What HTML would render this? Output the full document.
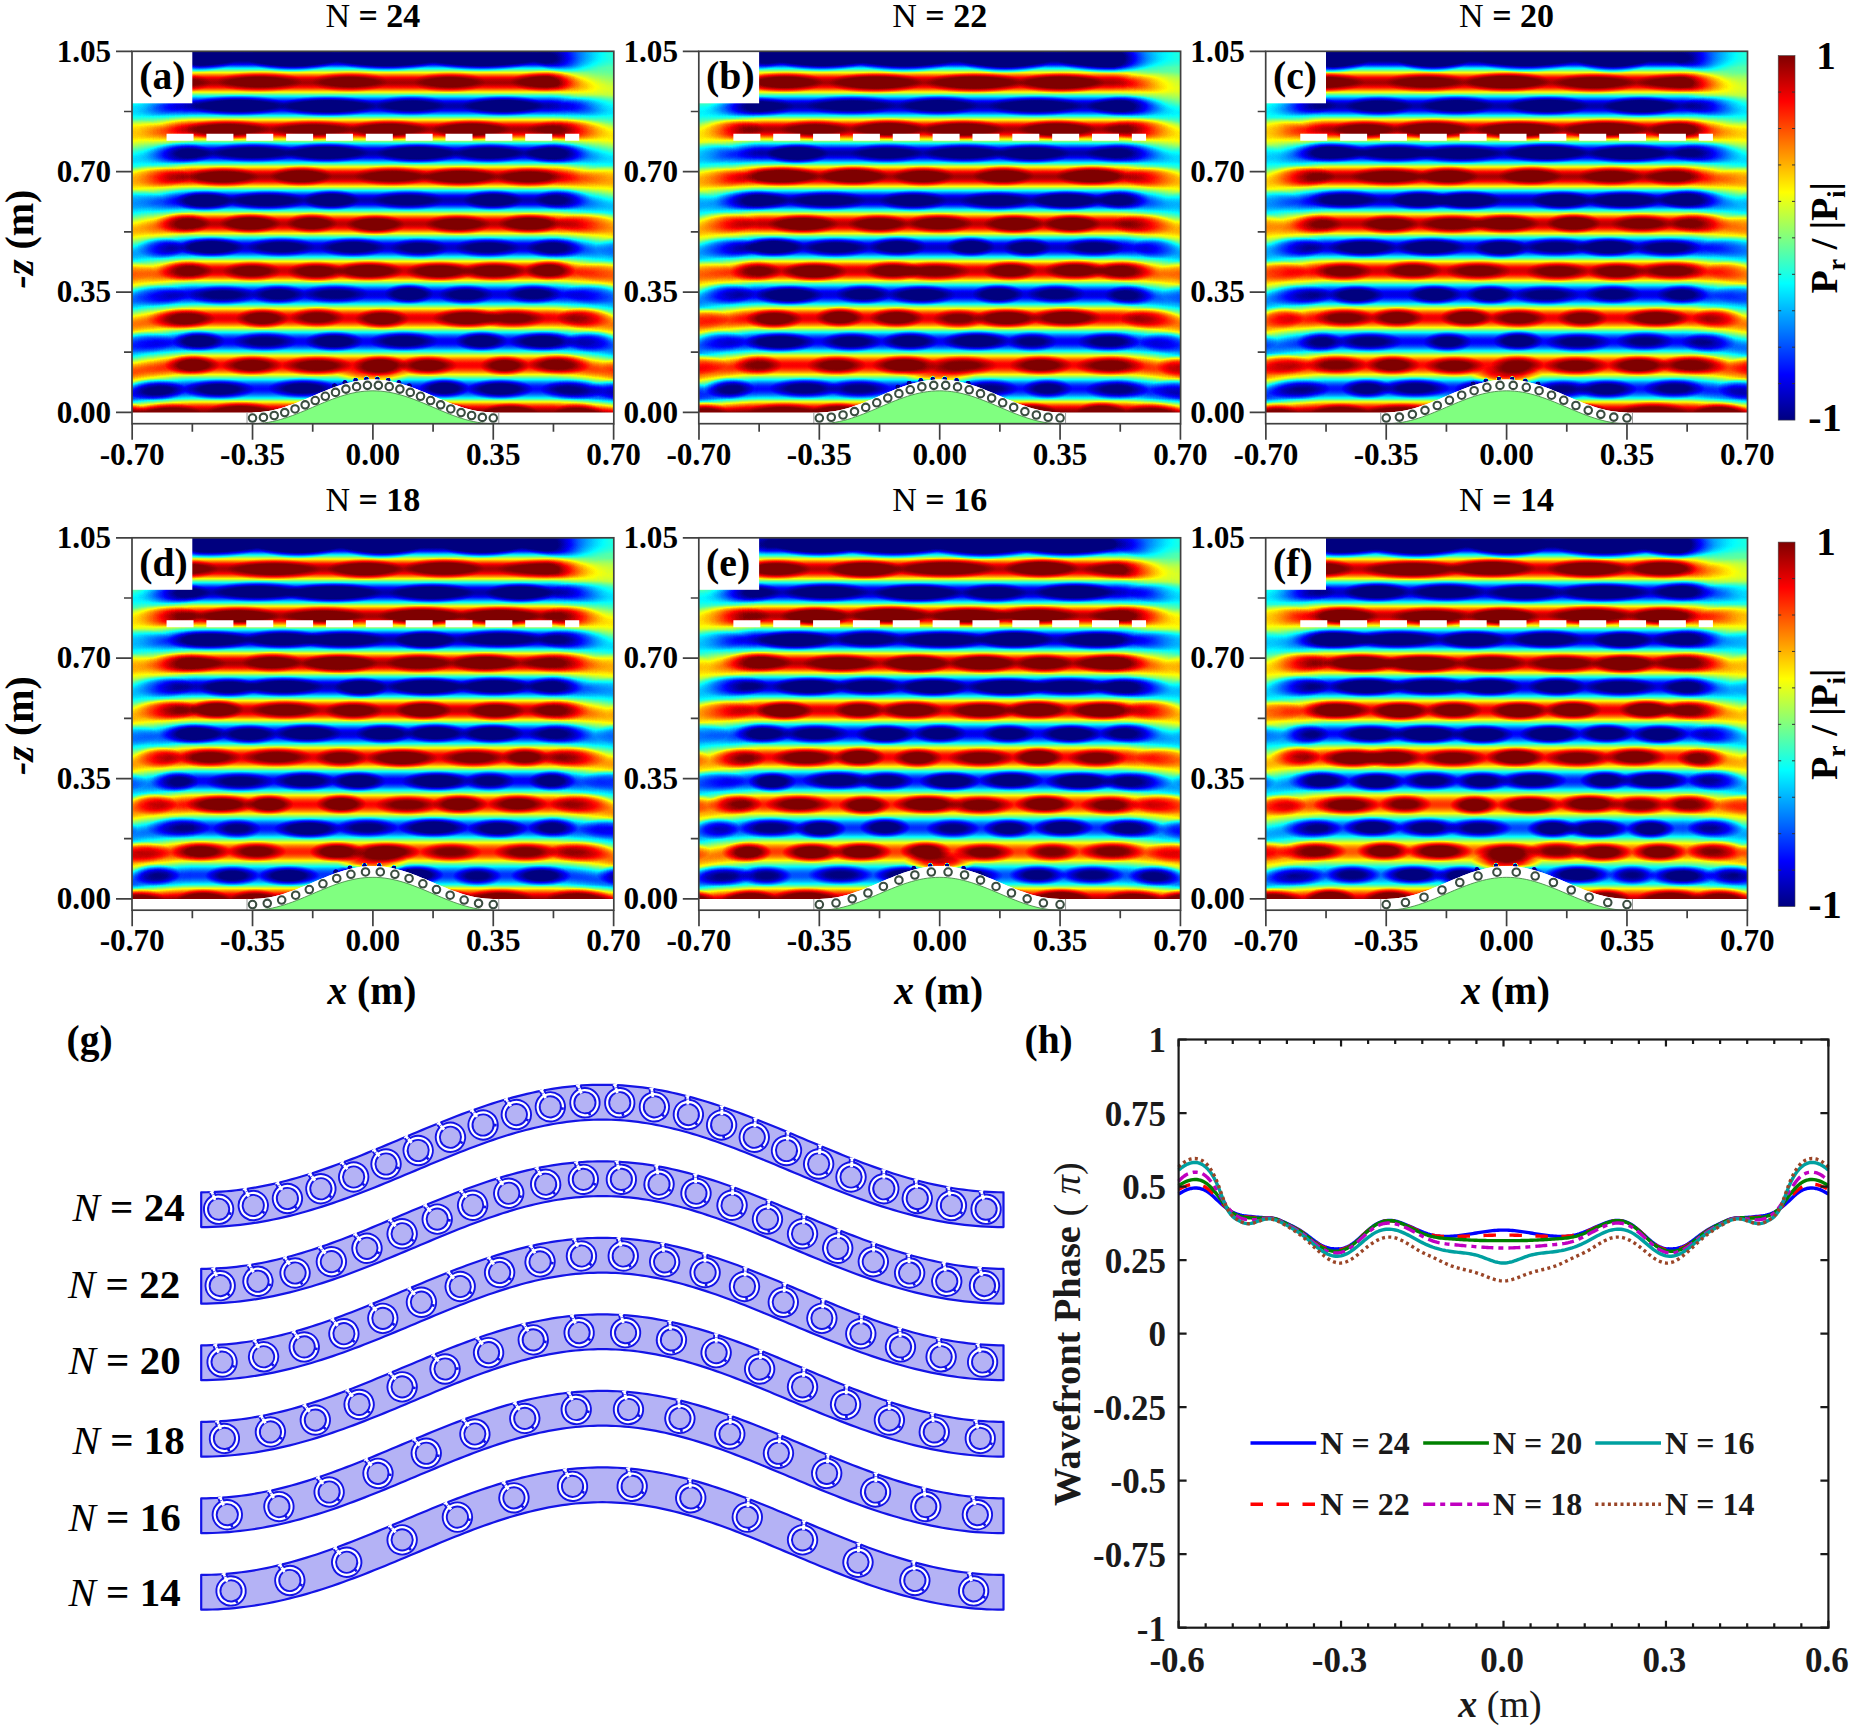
<!DOCTYPE html><html><head><meta charset="utf-8"><style>html,body{margin:0;padding:0;background:#fff;}svg{display:block}</style></head><body>
<svg width="1850" height="1729" viewBox="0 0 1850 1729" font-family="'Liberation Serif', 'Times New Roman', serif">
<defs>
<filter id="jet" x="0" y="0" width="1" height="1" filterUnits="objectBoundingBox" color-interpolation-filters="sRGB">
<feComponentTransfer><feFuncR type="table" tableValues="0.000 0.000 0.000 0.000 0.000 0.000 0.000 0.000 0.000 0.000 0.000 0.000 0.000 0.000 0.000 0.000 0.000 0.000 0.000 0.000 0.000 0.000 0.000 0.000 0.000 0.000 0.000 0.000 0.000 0.000 0.000 0.000 0.000 0.000 0.000 0.000 0.000 0.000 0.000 0.000 0.000 0.000 0.000 0.000 0.000 0.000 0.000 0.000 0.000 0.000 0.000 0.000 0.005 0.046 0.087 0.129 0.170 0.211 0.252 0.294 0.335 0.376 0.417 0.459 0.500 0.541 0.583 0.624 0.665 0.706 0.748 0.789 0.830 0.871 0.913 0.954 0.995 1.000 1.000 1.000 1.000 1.000 1.000 1.000 1.000 1.000 1.000 1.000 1.000 1.000 1.000 1.000 1.000 1.000 1.000 1.000 1.000 1.000 1.000 1.000 1.000 0.974 0.933 0.891 0.850 0.809 0.768 0.726 0.685 0.644 0.603 0.561 0.520 0.500 0.500 0.500 0.500 0.500 0.500 0.500 0.500 0.500 0.500 0.500 0.500 0.500 0.500 0.500 0.500"/><feFuncG type="table" tableValues="0.000 0.000 0.000 0.000 0.000 0.000 0.000 0.000 0.000 0.000 0.000 0.000 0.000 0.000 0.000 0.000 0.000 0.000 0.000 0.000 0.000 0.000 0.000 0.000 0.000 0.000 0.000 0.000 0.015 0.056 0.097 0.139 0.180 0.221 0.262 0.304 0.345 0.386 0.427 0.469 0.510 0.551 0.592 0.634 0.675 0.716 0.757 0.799 0.840 0.881 0.922 0.964 1.000 1.000 1.000 1.000 1.000 1.000 1.000 1.000 1.000 1.000 1.000 1.000 1.000 1.000 1.000 1.000 1.000 1.000 1.000 1.000 1.000 1.000 1.000 1.000 1.000 0.964 0.922 0.881 0.840 0.799 0.757 0.716 0.675 0.634 0.592 0.551 0.510 0.469 0.428 0.386 0.345 0.304 0.263 0.221 0.180 0.139 0.098 0.056 0.015 0.000 0.000 0.000 0.000 0.000 0.000 0.000 0.000 0.000 0.000 0.000 0.000 0.000 0.000 0.000 0.000 0.000 0.000 0.000 0.000 0.000 0.000 0.000 0.000 0.000 0.000 0.000 0.000"/><feFuncB type="table" tableValues="0.500 0.500 0.500 0.500 0.500 0.500 0.500 0.500 0.500 0.500 0.500 0.500 0.500 0.500 0.500 0.500 0.520 0.561 0.602 0.644 0.685 0.726 0.767 0.809 0.850 0.891 0.932 0.974 1.000 1.000 1.000 1.000 1.000 1.000 1.000 1.000 1.000 1.000 1.000 1.000 1.000 1.000 1.000 1.000 1.000 1.000 1.000 1.000 1.000 1.000 1.000 1.000 0.995 0.954 0.913 0.871 0.830 0.789 0.748 0.706 0.665 0.624 0.583 0.541 0.500 0.459 0.417 0.376 0.335 0.294 0.252 0.211 0.170 0.129 0.087 0.046 0.005 0.000 0.000 0.000 0.000 0.000 0.000 0.000 0.000 0.000 0.000 0.000 0.000 0.000 0.000 0.000 0.000 0.000 0.000 0.000 0.000 0.000 0.000 0.000 0.000 0.000 0.000 0.000 0.000 0.000 0.000 0.000 0.000 0.000 0.000 0.000 0.000 0.000 0.000 0.000 0.000 0.000 0.000 0.000 0.000 0.000 0.000 0.000 0.000 0.000 0.000 0.000 0.000"/></feComponentTransfer>
</filter>
<linearGradient id="gS" x1="0" y1="0" x2="0" y2="1"><stop offset="0.0000" stop-color="rgb(255,255,255)"/><stop offset="0.0417" stop-color="rgb(251,251,251)"/><stop offset="0.0833" stop-color="rgb(238,238,238)"/><stop offset="0.1250" stop-color="rgb(218,218,218)"/><stop offset="0.1667" stop-color="rgb(191,191,191)"/><stop offset="0.2083" stop-color="rgb(160,160,160)"/><stop offset="0.2500" stop-color="rgb(128,128,128)"/><stop offset="0.2917" stop-color="rgb(95,95,95)"/><stop offset="0.3333" stop-color="rgb(64,64,64)"/><stop offset="0.3750" stop-color="rgb(37,37,37)"/><stop offset="0.4167" stop-color="rgb(17,17,17)"/><stop offset="0.4583" stop-color="rgb(4,4,4)"/><stop offset="0.5000" stop-color="rgb(0,0,0)"/><stop offset="0.5417" stop-color="rgb(4,4,4)"/><stop offset="0.5833" stop-color="rgb(17,17,17)"/><stop offset="0.6250" stop-color="rgb(37,37,37)"/><stop offset="0.6667" stop-color="rgb(64,64,64)"/><stop offset="0.7083" stop-color="rgb(95,95,95)"/><stop offset="0.7500" stop-color="rgb(127,127,127)"/><stop offset="0.7917" stop-color="rgb(160,160,160)"/><stop offset="0.8333" stop-color="rgb(191,191,191)"/><stop offset="0.8750" stop-color="rgb(218,218,218)"/><stop offset="0.9167" stop-color="rgb(238,238,238)"/><stop offset="0.9583" stop-color="rgb(251,251,251)"/><stop offset="1.0000" stop-color="rgb(255,255,255)"/></linearGradient>
<pattern id="pS" patternUnits="userSpaceOnUse" x="0" y="31.050" width="600" height="47.150"><rect width="600" height="47.150" fill="url(#gS)"/></pattern>
<linearGradient id="gJet" x1="0" y1="0" x2="0" y2="1"><stop offset="0.0000" stop-color="rgb(128,0,0)"/><stop offset="0.0312" stop-color="rgb(159,0,0)"/><stop offset="0.0625" stop-color="rgb(191,0,0)"/><stop offset="0.0938" stop-color="rgb(223,0,0)"/><stop offset="0.1250" stop-color="rgb(255,0,0)"/><stop offset="0.1562" stop-color="rgb(255,32,0)"/><stop offset="0.1875" stop-color="rgb(255,64,0)"/><stop offset="0.2188" stop-color="rgb(255,96,0)"/><stop offset="0.2500" stop-color="rgb(255,128,0)"/><stop offset="0.2812" stop-color="rgb(255,159,0)"/><stop offset="0.3125" stop-color="rgb(255,191,0)"/><stop offset="0.3438" stop-color="rgb(255,223,0)"/><stop offset="0.3750" stop-color="rgb(255,255,0)"/><stop offset="0.4062" stop-color="rgb(223,255,32)"/><stop offset="0.4375" stop-color="rgb(191,255,64)"/><stop offset="0.4688" stop-color="rgb(159,255,96)"/><stop offset="0.5000" stop-color="rgb(128,255,128)"/><stop offset="0.5312" stop-color="rgb(96,255,159)"/><stop offset="0.5625" stop-color="rgb(64,255,191)"/><stop offset="0.5938" stop-color="rgb(32,255,223)"/><stop offset="0.6250" stop-color="rgb(0,255,255)"/><stop offset="0.6562" stop-color="rgb(0,223,255)"/><stop offset="0.6875" stop-color="rgb(0,191,255)"/><stop offset="0.7188" stop-color="rgb(0,159,255)"/><stop offset="0.7500" stop-color="rgb(0,128,255)"/><stop offset="0.7812" stop-color="rgb(0,96,255)"/><stop offset="0.8125" stop-color="rgb(0,64,255)"/><stop offset="0.8438" stop-color="rgb(0,32,255)"/><stop offset="0.8750" stop-color="rgb(0,0,255)"/><stop offset="0.9062" stop-color="rgb(0,0,223)"/><stop offset="0.9375" stop-color="rgb(0,0,191)"/><stop offset="0.9688" stop-color="rgb(0,0,159)"/><stop offset="1.0000" stop-color="rgb(0,0,128)"/></linearGradient>
<radialGradient id="rbW"><stop offset="0" stop-color="#fff" stop-opacity="1"/><stop offset="0.45" stop-color="#fff" stop-opacity="0.75"/><stop offset="1" stop-color="#fff" stop-opacity="0"/></radialGradient>
<radialGradient id="rbB"><stop offset="0" stop-color="#000" stop-opacity="1"/><stop offset="0.45" stop-color="#000" stop-opacity="0.75"/><stop offset="1" stop-color="#000" stop-opacity="0"/></radialGradient>
</defs>
<defs><linearGradient id="gEnv" x1="0" y1="0" x2="1" y2="0"><stop offset="0.0000" stop-color="#808080" stop-opacity="0.780"/><stop offset="0.0104" stop-color="#808080" stop-opacity="0.766"/><stop offset="0.0208" stop-color="#808080" stop-opacity="0.729"/><stop offset="0.0311" stop-color="#808080" stop-opacity="0.672"/><stop offset="0.0415" stop-color="#808080" stop-opacity="0.599"/><stop offset="0.0519" stop-color="#808080" stop-opacity="0.516"/><stop offset="0.0623" stop-color="#808080" stop-opacity="0.427"/><stop offset="0.0726" stop-color="#808080" stop-opacity="0.335"/><stop offset="0.0830" stop-color="#808080" stop-opacity="0.247"/><stop offset="0.0934" stop-color="#808080" stop-opacity="0.165"/><stop offset="0.1038" stop-color="#808080" stop-opacity="0.096"/><stop offset="0.1142" stop-color="#808080" stop-opacity="0.042"/><stop offset="0.1245" stop-color="#808080" stop-opacity="0.009"/><stop offset="0.1370" stop-color="#808080" stop-opacity="0.000"/><stop offset="0.1494" stop-color="#808080" stop-opacity="0.000"/><stop offset="0.8506" stop-color="#808080" stop-opacity="0.000"/><stop offset="0.8630" stop-color="#808080" stop-opacity="0.002"/><stop offset="0.8755" stop-color="#808080" stop-opacity="0.030"/><stop offset="0.8858" stop-color="#808080" stop-opacity="0.075"/><stop offset="0.8962" stop-color="#808080" stop-opacity="0.135"/><stop offset="0.9066" stop-color="#808080" stop-opacity="0.207"/><stop offset="0.9170" stop-color="#808080" stop-opacity="0.288"/><stop offset="0.9274" stop-color="#808080" stop-opacity="0.373"/><stop offset="0.9377" stop-color="#808080" stop-opacity="0.459"/><stop offset="0.9481" stop-color="#808080" stop-opacity="0.541"/><stop offset="0.9585" stop-color="#808080" stop-opacity="0.617"/><stop offset="0.9689" stop-color="#808080" stop-opacity="0.683"/><stop offset="0.9792" stop-color="#808080" stop-opacity="0.734"/><stop offset="0.9896" stop-color="#808080" stop-opacity="0.768"/><stop offset="1.0000" stop-color="#808080" stop-opacity="0.780"/></linearGradient></defs>
<defs><linearGradient id="gEnvV" x1="0" y1="0" x2="0" y2="1"><stop offset="0" stop-color="#fff"/><stop offset="0.3" stop-color="#d8d8d8"/><stop offset="0.6" stop-color="#9a9a9a"/><stop offset="0.85" stop-color="#5a5a5a"/><stop offset="1" stop-color="#000"/></linearGradient><mask id="mEnv" maskUnits="userSpaceOnUse" x="0" y="0" width="481.80" height="361.10"><rect width="481.80" height="361.10" fill="url(#gEnvV)"/></mask><linearGradient id="gTop" x1="0" y1="0" x2="0" y2="1"><stop offset="0" stop-color="#000" stop-opacity="0.55"/><stop offset="0.5" stop-color="#000" stop-opacity="0.35"/><stop offset="1" stop-color="#000" stop-opacity="0"/></linearGradient><linearGradient id="gBot" x1="0" y1="0" x2="0" y2="1"><stop offset="0" stop-color="#fff" stop-opacity="0"/><stop offset="0.6" stop-color="#fff" stop-opacity="0.25"/><stop offset="1" stop-color="#fff" stop-opacity="0.45"/></linearGradient><radialGradient id="rCorner"><stop offset="0" stop-color="#808080" stop-opacity="0.75"/><stop offset="0.5" stop-color="#808080" stop-opacity="0.45"/><stop offset="1" stop-color="#808080" stop-opacity="0"/></radialGradient></defs>
<rect width="1850" height="1729" fill="#fff"/>
<g transform="translate(132.00,51.30)">
<clipPath id="cp00"><path d="M0,0H481.80V361.10H361.27L361.27,361.10L357.25,361.01L353.24,360.74L349.23,360.30L345.22,359.68L341.21,358.90L337.19,357.96L333.18,356.88L329.17,355.66L325.16,354.32L321.14,352.88L317.13,351.35L313.12,349.74L309.11,348.08L305.10,346.38L301.08,344.66L297.07,342.94L293.06,341.24L289.05,339.58L285.03,337.98L281.02,336.44L277.01,335.00L273.00,333.66L268.99,332.45L264.97,331.36L260.96,330.43L256.95,329.64L252.94,329.03L248.92,328.58L244.91,328.31L240.90,328.22L236.89,328.31L232.88,328.58L228.86,329.03L224.85,329.64L220.84,330.43L216.83,331.36L212.81,332.45L208.80,333.66L204.79,335.00L200.78,336.44L196.77,337.98L192.75,339.58L188.74,341.24L184.73,342.94L180.72,344.66L176.70,346.38L172.69,348.08L168.68,349.74L164.67,351.35L160.66,352.88L156.64,354.32L152.63,355.66L148.62,356.88L144.61,357.96L140.59,358.90L136.58,359.68L132.57,360.30L128.56,360.74L124.55,361.01L120.53,361.10H0Z"/></clipPath>
<g clip-path="url(#cp00)"><g filter="url(#jet)">
<rect x="-2" y="-2" width="485.80" height="365.10" fill="url(#pS)"/>
<rect x="-0.20" y="-8.24" width="3.50" height="371.34" fill="url(#pS)" transform="translate(0,6.24)" shape-rendering="crispEdges"/>
<rect x="478.50" y="-8.24" width="3.50" height="371.34" fill="url(#pS)" transform="translate(0,6.24)" shape-rendering="crispEdges"/>
<rect x="2.90" y="-7.74" width="3.50" height="370.84" fill="url(#pS)" transform="translate(0,5.74)" shape-rendering="crispEdges"/>
<rect x="475.40" y="-7.74" width="3.50" height="370.84" fill="url(#pS)" transform="translate(0,5.74)" shape-rendering="crispEdges"/>
<rect x="6.00" y="-7.25" width="3.50" height="370.35" fill="url(#pS)" transform="translate(0,5.25)" shape-rendering="crispEdges"/>
<rect x="472.30" y="-7.25" width="3.50" height="370.35" fill="url(#pS)" transform="translate(0,5.25)" shape-rendering="crispEdges"/>
<rect x="9.10" y="-6.78" width="3.50" height="369.88" fill="url(#pS)" transform="translate(0,4.78)" shape-rendering="crispEdges"/>
<rect x="469.20" y="-6.78" width="3.50" height="369.88" fill="url(#pS)" transform="translate(0,4.78)" shape-rendering="crispEdges"/>
<rect x="12.20" y="-6.32" width="3.50" height="369.42" fill="url(#pS)" transform="translate(0,4.32)" shape-rendering="crispEdges"/>
<rect x="466.10" y="-6.32" width="3.50" height="369.42" fill="url(#pS)" transform="translate(0,4.32)" shape-rendering="crispEdges"/>
<rect x="15.30" y="-5.89" width="3.50" height="368.99" fill="url(#pS)" transform="translate(0,3.89)" shape-rendering="crispEdges"/>
<rect x="463.00" y="-5.89" width="3.50" height="368.99" fill="url(#pS)" transform="translate(0,3.89)" shape-rendering="crispEdges"/>
<rect x="18.40" y="-5.47" width="3.50" height="368.57" fill="url(#pS)" transform="translate(0,3.47)" shape-rendering="crispEdges"/>
<rect x="459.90" y="-5.47" width="3.50" height="368.57" fill="url(#pS)" transform="translate(0,3.47)" shape-rendering="crispEdges"/>
<rect x="21.50" y="-5.06" width="3.50" height="368.16" fill="url(#pS)" transform="translate(0,3.06)" shape-rendering="crispEdges"/>
<rect x="456.80" y="-5.06" width="3.50" height="368.16" fill="url(#pS)" transform="translate(0,3.06)" shape-rendering="crispEdges"/>
<rect x="24.60" y="-4.68" width="3.50" height="367.78" fill="url(#pS)" transform="translate(0,2.68)" shape-rendering="crispEdges"/>
<rect x="453.70" y="-4.68" width="3.50" height="367.78" fill="url(#pS)" transform="translate(0,2.68)" shape-rendering="crispEdges"/>
<rect x="27.70" y="-4.32" width="3.50" height="367.42" fill="url(#pS)" transform="translate(0,2.32)" shape-rendering="crispEdges"/>
<rect x="450.60" y="-4.32" width="3.50" height="367.42" fill="url(#pS)" transform="translate(0,2.32)" shape-rendering="crispEdges"/>
<rect x="30.80" y="-3.98" width="3.50" height="367.08" fill="url(#pS)" transform="translate(0,1.98)" shape-rendering="crispEdges"/>
<rect x="447.50" y="-3.98" width="3.50" height="367.08" fill="url(#pS)" transform="translate(0,1.98)" shape-rendering="crispEdges"/>
<rect x="33.90" y="-3.65" width="3.50" height="366.75" fill="url(#pS)" transform="translate(0,1.65)" shape-rendering="crispEdges"/>
<rect x="444.40" y="-3.65" width="3.50" height="366.75" fill="url(#pS)" transform="translate(0,1.65)" shape-rendering="crispEdges"/>
<rect x="37.00" y="-3.35" width="3.50" height="366.45" fill="url(#pS)" transform="translate(0,1.35)" shape-rendering="crispEdges"/>
<rect x="441.30" y="-3.35" width="3.50" height="366.45" fill="url(#pS)" transform="translate(0,1.35)" shape-rendering="crispEdges"/>
<rect x="40.10" y="-3.08" width="3.50" height="366.18" fill="url(#pS)" transform="translate(0,1.08)" shape-rendering="crispEdges"/>
<rect x="438.20" y="-3.08" width="3.50" height="366.18" fill="url(#pS)" transform="translate(0,1.08)" shape-rendering="crispEdges"/>
<rect x="43.20" y="-2.82" width="3.50" height="365.92" fill="url(#pS)" transform="translate(0,0.82)" shape-rendering="crispEdges"/>
<rect x="435.10" y="-2.82" width="3.50" height="365.92" fill="url(#pS)" transform="translate(0,0.82)" shape-rendering="crispEdges"/>
<rect x="46.30" y="-2.60" width="3.50" height="365.70" fill="url(#pS)" transform="translate(0,0.60)" shape-rendering="crispEdges"/>
<rect x="432.00" y="-2.60" width="3.50" height="365.70" fill="url(#pS)" transform="translate(0,0.60)" shape-rendering="crispEdges"/>
<rect x="49.40" y="-2.40" width="3.50" height="365.50" fill="url(#pS)" transform="translate(0,0.40)" shape-rendering="crispEdges"/>
<rect x="428.90" y="-2.40" width="3.50" height="365.50" fill="url(#pS)" transform="translate(0,0.40)" shape-rendering="crispEdges"/>
<rect x="52.50" y="-2.23" width="3.50" height="365.33" fill="url(#pS)" transform="translate(0,0.23)" shape-rendering="crispEdges"/>
<rect x="425.80" y="-2.23" width="3.50" height="365.33" fill="url(#pS)" transform="translate(0,0.23)" shape-rendering="crispEdges"/>
<rect x="55.60" y="-2.10" width="3.50" height="365.20" fill="url(#pS)" transform="translate(0,0.10)" shape-rendering="crispEdges"/>
<rect x="422.70" y="-2.10" width="3.50" height="365.20" fill="url(#pS)" transform="translate(0,0.10)" shape-rendering="crispEdges"/>
<rect x="58.70" y="-2.02" width="3.50" height="365.12" fill="url(#pS)" transform="translate(0,0.02)" shape-rendering="crispEdges"/>
<rect x="419.60" y="-2.02" width="3.50" height="365.12" fill="url(#pS)" transform="translate(0,0.02)" shape-rendering="crispEdges"/>
<linearGradient id="gNp00" x1="0" y1="0" x2="0" y2="1"><stop offset="0" stop-color="#808080" stop-opacity="0.300"/><stop offset="0.35" stop-color="#808080" stop-opacity="0.300"/><stop offset="1" stop-color="#808080" stop-opacity="0.450"/></linearGradient>
<rect width="481.80" height="361.10" fill="url(#gNp00)"/>
<ellipse cx="-14.2" cy="360.2" rx="28.4" ry="11.0" fill="url(#rbW)" fill-opacity="0.70"/><ellipse cx="36.0" cy="362.1" rx="34.0" ry="11.0" fill="url(#rbW)" fill-opacity="0.61"/><ellipse cx="108.7" cy="360.4" rx="34.0" ry="11.0" fill="url(#rbW)" fill-opacity="0.67"/><ellipse cx="179.0" cy="361.4" rx="34.4" ry="11.0" fill="url(#rbW)" fill-opacity="0.68"/><ellipse cx="229.2" cy="360.2" rx="33.1" ry="11.0" fill="url(#rbW)" fill-opacity="0.70"/><ellipse cx="312.2" cy="361.5" rx="29.7" ry="11.0" fill="url(#rbW)" fill-opacity="0.73"/><ellipse cx="377.9" cy="362.0" rx="28.7" ry="11.0" fill="url(#rbW)" fill-opacity="0.75"/><ellipse cx="446.7" cy="362.0" rx="25.2" ry="11.0" fill="url(#rbW)" fill-opacity="0.58"/><ellipse cx="-49.3" cy="337.2" rx="27.6" ry="11.0" fill="url(#rbB)" fill-opacity="0.68"/><ellipse cx="23.6" cy="338.4" rx="31.0" ry="11.0" fill="url(#rbB)" fill-opacity="0.78"/><ellipse cx="86.7" cy="338.2" rx="35.9" ry="11.0" fill="url(#rbB)" fill-opacity="0.72"/><ellipse cx="170.9" cy="336.9" rx="34.9" ry="11.0" fill="url(#rbB)" fill-opacity="0.69"/><ellipse cx="231.2" cy="338.2" rx="30.9" ry="11.0" fill="url(#rbB)" fill-opacity="0.62"/><ellipse cx="312.3" cy="336.8" rx="25.1" ry="11.0" fill="url(#rbB)" fill-opacity="0.75"/><ellipse cx="368.0" cy="337.8" rx="33.2" ry="11.0" fill="url(#rbB)" fill-opacity="0.77"/><ellipse cx="440.8" cy="338.5" rx="32.6" ry="11.0" fill="url(#rbB)" fill-opacity="0.63"/><ellipse cx="492.5" cy="337.7" rx="36.0" ry="11.0" fill="url(#rbB)" fill-opacity="0.63"/><ellipse cx="-25.9" cy="313.0" rx="28.9" ry="11.0" fill="url(#rbW)" fill-opacity="0.70"/><ellipse cx="60.1" cy="313.7" rx="27.8" ry="11.0" fill="url(#rbW)" fill-opacity="0.79"/><ellipse cx="120.0" cy="314.1" rx="30.2" ry="11.0" fill="url(#rbW)" fill-opacity="0.71"/><ellipse cx="185.2" cy="314.4" rx="35.3" ry="11.0" fill="url(#rbW)" fill-opacity="0.68"/><ellipse cx="248.1" cy="314.0" rx="27.6" ry="11.0" fill="url(#rbW)" fill-opacity="0.79"/><ellipse cx="296.2" cy="314.2" rx="29.0" ry="11.0" fill="url(#rbW)" fill-opacity="0.69"/><ellipse cx="372.7" cy="314.3" rx="24.7" ry="11.0" fill="url(#rbW)" fill-opacity="0.71"/><ellipse cx="428.0" cy="313.1" rx="32.5" ry="11.0" fill="url(#rbW)" fill-opacity="0.73"/><ellipse cx="505.0" cy="314.1" rx="35.6" ry="11.0" fill="url(#rbW)" fill-opacity="0.61"/><ellipse cx="-53.4" cy="290.0" rx="27.8" ry="11.0" fill="url(#rbB)" fill-opacity="0.64"/><ellipse cx="9.9" cy="290.8" rx="33.3" ry="11.0" fill="url(#rbB)" fill-opacity="0.56"/><ellipse cx="66.6" cy="289.7" rx="26.7" ry="11.0" fill="url(#rbB)" fill-opacity="0.75"/><ellipse cx="132.9" cy="290.0" rx="32.4" ry="11.0" fill="url(#rbB)" fill-opacity="0.58"/><ellipse cx="202.1" cy="290.0" rx="29.3" ry="11.0" fill="url(#rbB)" fill-opacity="0.76"/><ellipse cx="271.8" cy="289.6" rx="34.6" ry="11.0" fill="url(#rbB)" fill-opacity="0.66"/><ellipse cx="349.4" cy="289.7" rx="26.3" ry="11.0" fill="url(#rbB)" fill-opacity="0.75"/><ellipse cx="410.9" cy="290.1" rx="33.7" ry="11.0" fill="url(#rbB)" fill-opacity="0.71"/><ellipse cx="460.6" cy="290.1" rx="27.5" ry="11.0" fill="url(#rbB)" fill-opacity="0.75"/><ellipse cx="-29.8" cy="265.8" rx="28.9" ry="11.0" fill="url(#rbW)" fill-opacity="0.78"/><ellipse cx="49.2" cy="267.7" rx="34.6" ry="11.0" fill="url(#rbW)" fill-opacity="0.80"/><ellipse cx="130.2" cy="267.1" rx="26.7" ry="11.0" fill="url(#rbW)" fill-opacity="0.74"/><ellipse cx="185.5" cy="265.9" rx="27.5" ry="11.0" fill="url(#rbW)" fill-opacity="0.64"/><ellipse cx="249.9" cy="267.6" rx="27.4" ry="11.0" fill="url(#rbW)" fill-opacity="0.75"/><ellipse cx="334.7" cy="267.0" rx="35.1" ry="11.0" fill="url(#rbW)" fill-opacity="0.77"/><ellipse cx="381.2" cy="267.1" rx="32.9" ry="11.0" fill="url(#rbW)" fill-opacity="0.59"/><ellipse cx="453.2" cy="266.5" rx="29.0" ry="11.0" fill="url(#rbW)" fill-opacity="0.78"/><ellipse cx="-52.7" cy="242.6" rx="29.7" ry="11.0" fill="url(#rbB)" fill-opacity="0.75"/><ellipse cx="21.8" cy="244.1" rx="33.8" ry="11.0" fill="url(#rbB)" fill-opacity="0.59"/><ellipse cx="90.4" cy="244.0" rx="33.9" ry="11.0" fill="url(#rbB)" fill-opacity="0.55"/><ellipse cx="146.5" cy="243.1" rx="27.3" ry="11.0" fill="url(#rbB)" fill-opacity="0.62"/><ellipse cx="203.5" cy="242.5" rx="33.3" ry="11.0" fill="url(#rbB)" fill-opacity="0.55"/><ellipse cx="277.1" cy="242.4" rx="24.8" ry="11.0" fill="url(#rbB)" fill-opacity="0.79"/><ellipse cx="334.1" cy="243.5" rx="27.8" ry="11.0" fill="url(#rbB)" fill-opacity="0.63"/><ellipse cx="401.3" cy="242.5" rx="28.3" ry="11.0" fill="url(#rbB)" fill-opacity="0.60"/><ellipse cx="463.8" cy="242.6" rx="32.6" ry="11.0" fill="url(#rbB)" fill-opacity="0.65"/><ellipse cx="-9.7" cy="219.9" rx="33.4" ry="11.0" fill="url(#rbW)" fill-opacity="0.65"/><ellipse cx="53.3" cy="219.5" rx="28.5" ry="11.0" fill="url(#rbW)" fill-opacity="0.67"/><ellipse cx="119.7" cy="220.0" rx="29.5" ry="11.0" fill="url(#rbW)" fill-opacity="0.61"/><ellipse cx="184.2" cy="220.5" rx="29.1" ry="11.0" fill="url(#rbW)" fill-opacity="0.66"/><ellipse cx="236.8" cy="219.6" rx="34.8" ry="11.0" fill="url(#rbW)" fill-opacity="0.75"/><ellipse cx="307.3" cy="220.2" rx="33.8" ry="11.0" fill="url(#rbW)" fill-opacity="0.72"/><ellipse cx="362.2" cy="219.8" rx="32.8" ry="11.0" fill="url(#rbW)" fill-opacity="0.69"/><ellipse cx="418.2" cy="218.8" rx="25.7" ry="11.0" fill="url(#rbW)" fill-opacity="0.74"/><ellipse cx="476.6" cy="220.3" rx="34.6" ry="11.0" fill="url(#rbW)" fill-opacity="0.59"/><ellipse cx="-35.7" cy="196.2" rx="32.3" ry="11.0" fill="url(#rbB)" fill-opacity="0.76"/><ellipse cx="28.1" cy="196.5" rx="24.6" ry="11.0" fill="url(#rbB)" fill-opacity="0.74"/><ellipse cx="79.4" cy="195.7" rx="33.2" ry="11.0" fill="url(#rbB)" fill-opacity="0.78"/><ellipse cx="149.1" cy="195.6" rx="34.2" ry="11.0" fill="url(#rbB)" fill-opacity="0.61"/><ellipse cx="221.0" cy="195.9" rx="33.3" ry="11.0" fill="url(#rbB)" fill-opacity="0.65"/><ellipse cx="287.1" cy="197.0" rx="29.2" ry="11.0" fill="url(#rbB)" fill-opacity="0.57"/><ellipse cx="355.4" cy="196.6" rx="33.2" ry="11.0" fill="url(#rbB)" fill-opacity="0.59"/><ellipse cx="424.0" cy="196.9" rx="30.4" ry="11.0" fill="url(#rbB)" fill-opacity="0.67"/><ellipse cx="489.1" cy="196.1" rx="25.3" ry="11.0" fill="url(#rbB)" fill-opacity="0.74"/><ellipse cx="-29.8" cy="172.7" rx="28.1" ry="11.0" fill="url(#rbW)" fill-opacity="0.62"/><ellipse cx="50.8" cy="172.1" rx="28.7" ry="11.0" fill="url(#rbW)" fill-opacity="0.72"/><ellipse cx="118.2" cy="172.0" rx="31.1" ry="11.0" fill="url(#rbW)" fill-opacity="0.76"/><ellipse cx="179.8" cy="171.8" rx="26.0" ry="11.0" fill="url(#rbW)" fill-opacity="0.67"/><ellipse cx="243.4" cy="173.5" rx="29.9" ry="11.0" fill="url(#rbW)" fill-opacity="0.74"/><ellipse cx="325.8" cy="173.1" rx="33.4" ry="11.0" fill="url(#rbW)" fill-opacity="0.67"/><ellipse cx="397.5" cy="172.3" rx="31.9" ry="11.0" fill="url(#rbW)" fill-opacity="0.73"/><ellipse cx="460.8" cy="172.0" rx="38.1" ry="11.0" fill="url(#rbW)" fill-opacity="0.67"/><ellipse cx="-8.3" cy="148.3" rx="40.4" ry="11.0" fill="url(#rbB)" fill-opacity="0.76"/><ellipse cx="72.7" cy="149.7" rx="29.9" ry="11.0" fill="url(#rbB)" fill-opacity="0.73"/><ellipse cx="134.7" cy="149.4" rx="39.1" ry="11.0" fill="url(#rbB)" fill-opacity="0.63"/><ellipse cx="199.2" cy="148.6" rx="28.6" ry="11.0" fill="url(#rbB)" fill-opacity="0.76"/><ellipse cx="275.6" cy="148.8" rx="36.5" ry="11.0" fill="url(#rbB)" fill-opacity="0.55"/><ellipse cx="360.8" cy="148.7" rx="30.2" ry="11.0" fill="url(#rbB)" fill-opacity="0.70"/><ellipse cx="430.6" cy="148.2" rx="28.9" ry="11.0" fill="url(#rbB)" fill-opacity="0.62"/><ellipse cx="516.8" cy="148.7" rx="39.7" ry="11.0" fill="url(#rbB)" fill-opacity="0.57"/><ellipse cx="-54.9" cy="126.0" rx="33.1" ry="11.0" fill="url(#rbW)" fill-opacity="0.72"/><ellipse cx="19.4" cy="125.4" rx="39.8" ry="11.0" fill="url(#rbW)" fill-opacity="0.79"/><ellipse cx="91.4" cy="125.7" rx="36.0" ry="11.0" fill="url(#rbW)" fill-opacity="0.64"/><ellipse cx="169.2" cy="124.7" rx="31.5" ry="11.0" fill="url(#rbW)" fill-opacity="0.71"/><ellipse cx="259.8" cy="124.6" rx="38.3" ry="11.0" fill="url(#rbW)" fill-opacity="0.58"/><ellipse cx="328.2" cy="125.6" rx="39.3" ry="11.0" fill="url(#rbW)" fill-opacity="0.70"/><ellipse cx="396.8" cy="125.8" rx="33.4" ry="11.0" fill="url(#rbW)" fill-opacity="0.59"/><ellipse cx="484.8" cy="124.9" rx="36.7" ry="11.0" fill="url(#rbW)" fill-opacity="0.73"/><ellipse cx="-38.0" cy="102.3" rx="31.1" ry="11.0" fill="url(#rbB)" fill-opacity="0.68"/><ellipse cx="46.8" cy="102.3" rx="35.5" ry="11.0" fill="url(#rbB)" fill-opacity="0.65"/><ellipse cx="121.3" cy="101.0" rx="43.3" ry="11.0" fill="url(#rbB)" fill-opacity="0.58"/><ellipse cx="194.9" cy="101.2" rx="42.3" ry="11.0" fill="url(#rbB)" fill-opacity="0.73"/><ellipse cx="285.6" cy="102.0" rx="41.7" ry="11.0" fill="url(#rbB)" fill-opacity="0.75"/><ellipse cx="357.4" cy="101.9" rx="36.5" ry="11.0" fill="url(#rbB)" fill-opacity="0.60"/><ellipse cx="425.2" cy="102.4" rx="34.2" ry="11.0" fill="url(#rbB)" fill-opacity="0.75"/><ellipse cx="-4.4" cy="78.5" rx="38.1" ry="11.0" fill="url(#rbW)" fill-opacity="0.69"/><ellipse cx="95.2" cy="78.2" rx="43.0" ry="11.0" fill="url(#rbW)" fill-opacity="0.62"/><ellipse cx="181.4" cy="78.5" rx="43.6" ry="11.0" fill="url(#rbW)" fill-opacity="0.55"/><ellipse cx="256.9" cy="78.3" rx="40.4" ry="11.0" fill="url(#rbW)" fill-opacity="0.67"/><ellipse cx="339.1" cy="78.3" rx="40.0" ry="11.0" fill="url(#rbW)" fill-opacity="0.71"/><ellipse cx="439.6" cy="78.4" rx="46.3" ry="11.0" fill="url(#rbW)" fill-opacity="0.58"/><ellipse cx="-76.1" cy="55.5" rx="37.5" ry="11.0" fill="url(#rbB)" fill-opacity="0.57"/><ellipse cx="3.3" cy="55.3" rx="48.2" ry="11.0" fill="url(#rbB)" fill-opacity="0.72"/><ellipse cx="106.0" cy="54.3" rx="49.1" ry="11.0" fill="url(#rbB)" fill-opacity="0.73"/><ellipse cx="196.0" cy="55.1" rx="49.2" ry="11.0" fill="url(#rbB)" fill-opacity="0.77"/><ellipse cx="279.1" cy="54.0" rx="35.4" ry="11.0" fill="url(#rbB)" fill-opacity="0.56"/><ellipse cx="371.2" cy="54.5" rx="41.9" ry="11.0" fill="url(#rbB)" fill-opacity="0.72"/><ellipse cx="467.8" cy="54.4" rx="38.7" ry="11.0" fill="url(#rbB)" fill-opacity="0.67"/><ellipse cx="-52.5" cy="31.1" rx="47.8" ry="11.0" fill="url(#rbW)" fill-opacity="0.64"/><ellipse cx="40.2" cy="31.6" rx="39.1" ry="11.0" fill="url(#rbW)" fill-opacity="0.55"/><ellipse cx="127.6" cy="30.4" rx="43.2" ry="11.0" fill="url(#rbW)" fill-opacity="0.60"/><ellipse cx="217.9" cy="30.4" rx="38.1" ry="11.0" fill="url(#rbW)" fill-opacity="0.56"/><ellipse cx="317.7" cy="30.9" rx="36.2" ry="11.0" fill="url(#rbW)" fill-opacity="0.56"/><ellipse cx="414.3" cy="30.1" rx="36.0" ry="11.0" fill="url(#rbW)" fill-opacity="0.65"/><ellipse cx="-39.8" cy="7.7" rx="38.4" ry="14.0" fill="url(#rbB)" fill-opacity="0.87"/><ellipse cx="65.3" cy="7.0" rx="39.0" ry="14.0" fill="url(#rbB)" fill-opacity="0.76"/><ellipse cx="160.6" cy="7.0" rx="45.2" ry="14.0" fill="url(#rbB)" fill-opacity="0.95"/><ellipse cx="254.9" cy="6.7" rx="51.7" ry="14.0" fill="url(#rbB)" fill-opacity="0.91"/><ellipse cx="349.8" cy="6.5" rx="54.5" ry="14.0" fill="url(#rbB)" fill-opacity="0.90"/><ellipse cx="441.1" cy="7.8" rx="39.8" ry="14.0" fill="url(#rbB)" fill-opacity="0.76"/>
<rect width="481.80" height="361.10" fill="url(#gEnv)" mask="url(#mEnv)"/>
<rect width="481.80" height="16" fill="url(#gTop)"/>
<rect y="347.10" width="481.80" height="14" fill="url(#gBot)"/>
<ellipse cx="240.90" cy="324.22" rx="36" ry="11" fill="url(#rbW)" fill-opacity="0.40"/>
<circle cx="202.52" cy="334.50" r="2.3" fill="#000" fill-opacity="0.9"/>
<circle cx="212.93" cy="331.18" r="2.3" fill="#000" fill-opacity="0.9"/>
<circle cx="223.59" cy="328.74" r="2.3" fill="#000" fill-opacity="0.9"/>
<circle cx="234.44" cy="327.44" r="2.3" fill="#000" fill-opacity="0.9"/>
<circle cx="245.36" cy="327.44" r="2.3" fill="#000" fill-opacity="0.9"/>
<circle cx="256.21" cy="328.74" r="2.3" fill="#000" fill-opacity="0.9"/>
<circle cx="266.87" cy="331.18" r="2.3" fill="#000" fill-opacity="0.9"/>
<circle cx="277.28" cy="334.50" r="2.3" fill="#000" fill-opacity="0.9"/>
<ellipse cx="481.80" cy="0" rx="70" ry="60" fill="url(#rCorner)"/>
<ellipse cx="0" cy="0" rx="70" ry="60" fill="url(#rCorner)"/>
</g></g>
<path d="M120.53,361.10 L124.55,361.01 L128.56,360.74 L132.57,360.30 L136.58,359.68 L140.59,358.90 L144.61,357.96 L148.62,356.88 L152.63,355.66 L156.64,354.32 L160.66,352.88 L164.67,351.35 L168.68,349.74 L172.69,348.08 L176.70,346.38 L180.72,344.66 L184.73,342.94 L188.74,341.24 L192.75,339.58 L196.77,337.98 L200.78,336.44 L204.79,335.00 L208.80,333.66 L212.81,332.45 L216.83,331.36 L220.84,330.43 L224.85,329.64 L228.86,329.03 L232.88,328.58 L236.89,328.31 L240.90,328.22 L244.91,328.31 L248.92,328.58 L252.94,329.03 L256.95,329.64 L260.96,330.43 L264.97,331.36 L268.99,332.45 L273.00,333.66 L277.01,335.00 L281.02,336.44 L285.03,337.98 L289.05,339.58 L293.06,341.24 L297.07,342.94 L301.08,344.66 L305.10,346.38 L309.11,348.08 L313.12,349.74 L317.13,351.35 L321.14,352.88 L325.16,354.32 L329.17,355.66 L333.18,356.88 L337.19,357.96 L341.21,358.90 L345.22,359.68 L349.23,360.30 L353.24,360.74 L357.25,361.01 L361.27,361.10 L361.27,372.40 L357.25,372.31 L353.24,372.04 L349.23,371.60 L345.22,370.98 L341.21,370.20 L337.19,369.26 L333.18,368.18 L329.17,366.96 L325.16,365.62 L321.14,364.18 L317.13,362.65 L313.12,361.04 L309.11,359.38 L305.10,357.68 L301.08,355.96 L297.07,354.24 L293.06,352.54 L289.05,350.88 L285.03,349.28 L281.02,347.74 L277.01,346.30 L273.00,344.96 L268.99,343.75 L264.97,342.66 L260.96,341.73 L256.95,340.94 L252.94,340.33 L248.92,339.88 L244.91,339.61 L240.90,339.52 L236.89,339.61 L232.88,339.88 L228.86,340.33 L224.85,340.94 L220.84,341.73 L216.83,342.66 L212.81,343.75 L208.80,344.96 L204.79,346.30 L200.78,347.74 L196.77,349.28 L192.75,350.88 L188.74,352.54 L184.73,354.24 L180.72,355.96 L176.70,357.68 L172.69,359.38 L168.68,361.04 L164.67,362.65 L160.66,364.18 L156.64,365.62 L152.63,366.96 L148.62,368.18 L144.61,369.26 L140.59,370.20 L136.58,370.98 L132.57,371.60 L128.56,372.04 L124.55,372.31 L120.53,372.40Z" fill="#fff"/>
<path d="M120.53,372.40 L124.55,372.31 L128.56,372.04 L132.57,371.60 L136.58,370.98 L140.59,370.20 L144.61,369.26 L148.62,368.18 L152.63,366.96 L156.64,365.62 L160.66,364.18 L164.67,362.65 L168.68,361.04 L172.69,359.38 L176.70,357.68 L180.72,355.96 L184.73,354.24 L188.74,352.54 L192.75,350.88 L196.77,349.28 L200.78,347.74 L204.79,346.30 L208.80,344.96 L212.81,343.75 L216.83,342.66 L220.84,341.73 L224.85,340.94 L228.86,340.33 L232.88,339.88 L236.89,339.61 L240.90,339.52 L244.91,339.61 L248.92,339.88 L252.94,340.33 L256.95,340.94 L260.96,341.73 L264.97,342.66 L268.99,343.75 L273.00,344.96 L277.01,346.30 L281.02,347.74 L285.03,349.28 L289.05,350.88 L293.06,352.54 L297.07,354.24 L301.08,355.96 L305.10,357.68 L309.11,359.38 L313.12,361.04 L317.13,362.65 L321.14,364.18 L325.16,365.62 L329.17,366.96 L333.18,368.18 L337.19,369.26 L341.21,370.20 L345.22,370.98 L349.23,371.60 L353.24,372.04 L357.25,372.31 L361.27,372.40Z" fill="#80ff80" stroke="#4a8a4a" stroke-width="0.9"/>
<path d="M115.03,361.10V372.40M366.77,361.10V372.40" stroke="#9a9a9a" stroke-width="1"/>
<circle cx="120.53" cy="366.75" r="3.75" fill="#fff" stroke="#3a4d40" stroke-width="2.1"/>
<circle cx="131.44" cy="366.09" r="3.75" fill="#fff" stroke="#3a4d40" stroke-width="2.1"/>
<circle cx="142.20" cy="364.19" r="3.75" fill="#fff" stroke="#3a4d40" stroke-width="2.1"/>
<circle cx="152.74" cy="361.28" r="3.75" fill="#fff" stroke="#3a4d40" stroke-width="2.1"/>
<circle cx="163.04" cy="357.63" r="3.75" fill="#fff" stroke="#3a4d40" stroke-width="2.1"/>
<circle cx="173.17" cy="353.53" r="3.75" fill="#fff" stroke="#3a4d40" stroke-width="2.1"/>
<circle cx="183.23" cy="349.23" r="3.75" fill="#fff" stroke="#3a4d40" stroke-width="2.1"/>
<circle cx="193.31" cy="345.00" r="3.75" fill="#fff" stroke="#3a4d40" stroke-width="2.1"/>
<circle cx="203.52" cy="341.10" r="3.75" fill="#fff" stroke="#3a4d40" stroke-width="2.1"/>
<circle cx="213.93" cy="337.78" r="3.75" fill="#fff" stroke="#3a4d40" stroke-width="2.1"/>
<circle cx="224.59" cy="335.34" r="3.75" fill="#fff" stroke="#3a4d40" stroke-width="2.1"/>
<circle cx="235.44" cy="334.04" r="3.75" fill="#fff" stroke="#3a4d40" stroke-width="2.1"/>
<circle cx="246.36" cy="334.04" r="3.75" fill="#fff" stroke="#3a4d40" stroke-width="2.1"/>
<circle cx="257.21" cy="335.34" r="3.75" fill="#fff" stroke="#3a4d40" stroke-width="2.1"/>
<circle cx="267.87" cy="337.78" r="3.75" fill="#fff" stroke="#3a4d40" stroke-width="2.1"/>
<circle cx="278.28" cy="341.10" r="3.75" fill="#fff" stroke="#3a4d40" stroke-width="2.1"/>
<circle cx="288.49" cy="345.00" r="3.75" fill="#fff" stroke="#3a4d40" stroke-width="2.1"/>
<circle cx="298.57" cy="349.23" r="3.75" fill="#fff" stroke="#3a4d40" stroke-width="2.1"/>
<circle cx="308.63" cy="353.53" r="3.75" fill="#fff" stroke="#3a4d40" stroke-width="2.1"/>
<circle cx="318.76" cy="357.63" r="3.75" fill="#fff" stroke="#3a4d40" stroke-width="2.1"/>
<circle cx="329.06" cy="361.28" r="3.75" fill="#fff" stroke="#3a4d40" stroke-width="2.1"/>
<circle cx="339.60" cy="364.19" r="3.75" fill="#fff" stroke="#3a4d40" stroke-width="2.1"/>
<circle cx="350.36" cy="366.09" r="3.75" fill="#fff" stroke="#3a4d40" stroke-width="2.1"/>
<circle cx="361.27" cy="366.75" r="3.75" fill="#fff" stroke="#3a4d40" stroke-width="2.1"/>
<line x1="34.56" y1="85.98" x2="447.24" y2="85.98" stroke="#fff" stroke-width="7" stroke-dasharray="27 12.85"/>
<rect x="0" y="0" width="60.3" height="52" fill="#fff"/>
<text x="7.3" y="38" font-size="39.7" font-weight="bold">(a)</text>
<rect x="0" y="0" width="481.80" height="372.40" fill="none" stroke="#404040" stroke-width="1.7"/>
<path d="M-16.00,361.10h16M-8.00,300.92h8M-16.00,240.73h16M-8.00,180.55h8M-16.00,120.37h16M-8.00,60.18h8M-16.00,0.00h16M0.17,372.40v16M60.35,372.40v8M120.53,372.40v16M180.72,372.40v8M240.90,372.40v16M301.08,372.40v8M361.27,372.40v16M421.45,372.40v8M481.63,372.40v16" stroke="#404040" stroke-width="1.7" fill="none"/>
<text x="-20.8" y="371.40" font-size="31.2" font-weight="bold" text-anchor="end">0.00</text>
<text x="-20.8" y="251.03" font-size="31.2" font-weight="bold" text-anchor="end">0.35</text>
<text x="-20.8" y="130.67" font-size="31.2" font-weight="bold" text-anchor="end">0.70</text>
<text x="-20.8" y="10.30" font-size="31.2" font-weight="bold" text-anchor="end">1.05</text>
<text x="0.17" y="413.60" font-size="31.2" font-weight="bold" text-anchor="middle">-0.70</text>
<text x="120.53" y="413.60" font-size="31.2" font-weight="bold" text-anchor="middle">-0.35</text>
<text x="240.90" y="413.60" font-size="31.2" font-weight="bold" text-anchor="middle">0.00</text>
<text x="361.27" y="413.60" font-size="31.2" font-weight="bold" text-anchor="middle">0.35</text>
<text x="481.63" y="413.60" font-size="31.2" font-weight="bold" text-anchor="middle">0.70</text>
<text x="240.90" y="-24.50" font-size="34" text-anchor="middle"><tspan>N</tspan><tspan font-weight="bold"> = 24</tspan></text>
</g>
<g transform="translate(698.80,51.30)">
<clipPath id="cp10"><path d="M0,0H481.80V361.10H361.27L361.27,361.10L357.25,361.01L353.24,360.74L349.23,360.30L345.22,359.68L341.21,358.90L337.19,357.96L333.18,356.88L329.17,355.66L325.16,354.32L321.14,352.88L317.13,351.35L313.12,349.74L309.11,348.08L305.10,346.38L301.08,344.66L297.07,342.94L293.06,341.24L289.05,339.58L285.03,337.98L281.02,336.44L277.01,335.00L273.00,333.66L268.99,332.45L264.97,331.36L260.96,330.43L256.95,329.64L252.94,329.03L248.92,328.58L244.91,328.31L240.90,328.22L236.89,328.31L232.88,328.58L228.86,329.03L224.85,329.64L220.84,330.43L216.83,331.36L212.81,332.45L208.80,333.66L204.79,335.00L200.78,336.44L196.77,337.98L192.75,339.58L188.74,341.24L184.73,342.94L180.72,344.66L176.70,346.38L172.69,348.08L168.68,349.74L164.67,351.35L160.66,352.88L156.64,354.32L152.63,355.66L148.62,356.88L144.61,357.96L140.59,358.90L136.58,359.68L132.57,360.30L128.56,360.74L124.55,361.01L120.53,361.10H0Z"/></clipPath>
<g clip-path="url(#cp10)"><g filter="url(#jet)">
<rect x="-2" y="-2" width="485.80" height="365.10" fill="url(#pS)"/>
<rect x="-0.20" y="-8.24" width="3.50" height="371.34" fill="url(#pS)" transform="translate(0,6.24)" shape-rendering="crispEdges"/>
<rect x="478.50" y="-8.24" width="3.50" height="371.34" fill="url(#pS)" transform="translate(0,6.24)" shape-rendering="crispEdges"/>
<rect x="2.90" y="-7.74" width="3.50" height="370.84" fill="url(#pS)" transform="translate(0,5.74)" shape-rendering="crispEdges"/>
<rect x="475.40" y="-7.74" width="3.50" height="370.84" fill="url(#pS)" transform="translate(0,5.74)" shape-rendering="crispEdges"/>
<rect x="6.00" y="-7.25" width="3.50" height="370.35" fill="url(#pS)" transform="translate(0,5.25)" shape-rendering="crispEdges"/>
<rect x="472.30" y="-7.25" width="3.50" height="370.35" fill="url(#pS)" transform="translate(0,5.25)" shape-rendering="crispEdges"/>
<rect x="9.10" y="-6.78" width="3.50" height="369.88" fill="url(#pS)" transform="translate(0,4.78)" shape-rendering="crispEdges"/>
<rect x="469.20" y="-6.78" width="3.50" height="369.88" fill="url(#pS)" transform="translate(0,4.78)" shape-rendering="crispEdges"/>
<rect x="12.20" y="-6.32" width="3.50" height="369.42" fill="url(#pS)" transform="translate(0,4.32)" shape-rendering="crispEdges"/>
<rect x="466.10" y="-6.32" width="3.50" height="369.42" fill="url(#pS)" transform="translate(0,4.32)" shape-rendering="crispEdges"/>
<rect x="15.30" y="-5.89" width="3.50" height="368.99" fill="url(#pS)" transform="translate(0,3.89)" shape-rendering="crispEdges"/>
<rect x="463.00" y="-5.89" width="3.50" height="368.99" fill="url(#pS)" transform="translate(0,3.89)" shape-rendering="crispEdges"/>
<rect x="18.40" y="-5.47" width="3.50" height="368.57" fill="url(#pS)" transform="translate(0,3.47)" shape-rendering="crispEdges"/>
<rect x="459.90" y="-5.47" width="3.50" height="368.57" fill="url(#pS)" transform="translate(0,3.47)" shape-rendering="crispEdges"/>
<rect x="21.50" y="-5.06" width="3.50" height="368.16" fill="url(#pS)" transform="translate(0,3.06)" shape-rendering="crispEdges"/>
<rect x="456.80" y="-5.06" width="3.50" height="368.16" fill="url(#pS)" transform="translate(0,3.06)" shape-rendering="crispEdges"/>
<rect x="24.60" y="-4.68" width="3.50" height="367.78" fill="url(#pS)" transform="translate(0,2.68)" shape-rendering="crispEdges"/>
<rect x="453.70" y="-4.68" width="3.50" height="367.78" fill="url(#pS)" transform="translate(0,2.68)" shape-rendering="crispEdges"/>
<rect x="27.70" y="-4.32" width="3.50" height="367.42" fill="url(#pS)" transform="translate(0,2.32)" shape-rendering="crispEdges"/>
<rect x="450.60" y="-4.32" width="3.50" height="367.42" fill="url(#pS)" transform="translate(0,2.32)" shape-rendering="crispEdges"/>
<rect x="30.80" y="-3.98" width="3.50" height="367.08" fill="url(#pS)" transform="translate(0,1.98)" shape-rendering="crispEdges"/>
<rect x="447.50" y="-3.98" width="3.50" height="367.08" fill="url(#pS)" transform="translate(0,1.98)" shape-rendering="crispEdges"/>
<rect x="33.90" y="-3.65" width="3.50" height="366.75" fill="url(#pS)" transform="translate(0,1.65)" shape-rendering="crispEdges"/>
<rect x="444.40" y="-3.65" width="3.50" height="366.75" fill="url(#pS)" transform="translate(0,1.65)" shape-rendering="crispEdges"/>
<rect x="37.00" y="-3.35" width="3.50" height="366.45" fill="url(#pS)" transform="translate(0,1.35)" shape-rendering="crispEdges"/>
<rect x="441.30" y="-3.35" width="3.50" height="366.45" fill="url(#pS)" transform="translate(0,1.35)" shape-rendering="crispEdges"/>
<rect x="40.10" y="-3.08" width="3.50" height="366.18" fill="url(#pS)" transform="translate(0,1.08)" shape-rendering="crispEdges"/>
<rect x="438.20" y="-3.08" width="3.50" height="366.18" fill="url(#pS)" transform="translate(0,1.08)" shape-rendering="crispEdges"/>
<rect x="43.20" y="-2.82" width="3.50" height="365.92" fill="url(#pS)" transform="translate(0,0.82)" shape-rendering="crispEdges"/>
<rect x="435.10" y="-2.82" width="3.50" height="365.92" fill="url(#pS)" transform="translate(0,0.82)" shape-rendering="crispEdges"/>
<rect x="46.30" y="-2.60" width="3.50" height="365.70" fill="url(#pS)" transform="translate(0,0.60)" shape-rendering="crispEdges"/>
<rect x="432.00" y="-2.60" width="3.50" height="365.70" fill="url(#pS)" transform="translate(0,0.60)" shape-rendering="crispEdges"/>
<rect x="49.40" y="-2.40" width="3.50" height="365.50" fill="url(#pS)" transform="translate(0,0.40)" shape-rendering="crispEdges"/>
<rect x="428.90" y="-2.40" width="3.50" height="365.50" fill="url(#pS)" transform="translate(0,0.40)" shape-rendering="crispEdges"/>
<rect x="52.50" y="-2.23" width="3.50" height="365.33" fill="url(#pS)" transform="translate(0,0.23)" shape-rendering="crispEdges"/>
<rect x="425.80" y="-2.23" width="3.50" height="365.33" fill="url(#pS)" transform="translate(0,0.23)" shape-rendering="crispEdges"/>
<rect x="55.60" y="-2.10" width="3.50" height="365.20" fill="url(#pS)" transform="translate(0,0.10)" shape-rendering="crispEdges"/>
<rect x="422.70" y="-2.10" width="3.50" height="365.20" fill="url(#pS)" transform="translate(0,0.10)" shape-rendering="crispEdges"/>
<rect x="58.70" y="-2.02" width="3.50" height="365.12" fill="url(#pS)" transform="translate(0,0.02)" shape-rendering="crispEdges"/>
<rect x="419.60" y="-2.02" width="3.50" height="365.12" fill="url(#pS)" transform="translate(0,0.02)" shape-rendering="crispEdges"/>
<linearGradient id="gNp10" x1="0" y1="0" x2="0" y2="1"><stop offset="0" stop-color="#808080" stop-opacity="0.300"/><stop offset="0.35" stop-color="#808080" stop-opacity="0.300"/><stop offset="1" stop-color="#808080" stop-opacity="0.450"/></linearGradient>
<rect width="481.80" height="361.10" fill="url(#gNp10)"/>
<ellipse cx="-55.1" cy="361.7" rx="30.9" ry="11.0" fill="url(#rbW)" fill-opacity="0.60"/><ellipse cx="3.0" cy="360.6" rx="25.9" ry="11.0" fill="url(#rbW)" fill-opacity="0.68"/><ellipse cx="84.7" cy="361.3" rx="36.0" ry="11.0" fill="url(#rbW)" fill-opacity="0.56"/><ellipse cx="139.3" cy="361.5" rx="27.4" ry="11.0" fill="url(#rbW)" fill-opacity="0.72"/><ellipse cx="215.7" cy="362.0" rx="25.6" ry="11.0" fill="url(#rbW)" fill-opacity="0.74"/><ellipse cx="266.4" cy="362.0" rx="24.5" ry="11.0" fill="url(#rbW)" fill-opacity="0.55"/><ellipse cx="330.1" cy="361.2" rx="28.4" ry="11.0" fill="url(#rbW)" fill-opacity="0.77"/><ellipse cx="402.5" cy="360.4" rx="24.8" ry="11.0" fill="url(#rbW)" fill-opacity="0.70"/><ellipse cx="455.3" cy="361.7" rx="29.0" ry="11.0" fill="url(#rbW)" fill-opacity="0.56"/><ellipse cx="-26.9" cy="337.3" rx="34.3" ry="11.0" fill="url(#rbB)" fill-opacity="0.59"/><ellipse cx="30.5" cy="336.9" rx="25.4" ry="11.0" fill="url(#rbB)" fill-opacity="0.74"/><ellipse cx="105.7" cy="337.0" rx="35.4" ry="11.0" fill="url(#rbB)" fill-opacity="0.66"/><ellipse cx="160.3" cy="337.4" rx="31.4" ry="11.0" fill="url(#rbB)" fill-opacity="0.59"/><ellipse cx="230.2" cy="337.5" rx="31.8" ry="11.0" fill="url(#rbB)" fill-opacity="0.76"/><ellipse cx="290.2" cy="337.2" rx="29.2" ry="11.0" fill="url(#rbB)" fill-opacity="0.55"/><ellipse cx="348.7" cy="337.3" rx="25.0" ry="11.0" fill="url(#rbB)" fill-opacity="0.66"/><ellipse cx="418.3" cy="338.3" rx="32.1" ry="11.0" fill="url(#rbB)" fill-opacity="0.61"/><ellipse cx="482.0" cy="337.4" rx="31.2" ry="11.0" fill="url(#rbB)" fill-opacity="0.57"/><ellipse cx="-61.7" cy="313.3" rx="31.0" ry="11.0" fill="url(#rbW)" fill-opacity="0.68"/><ellipse cx="-7.0" cy="313.0" rx="35.6" ry="11.0" fill="url(#rbW)" fill-opacity="0.65"/><ellipse cx="59.0" cy="313.9" rx="24.6" ry="11.0" fill="url(#rbW)" fill-opacity="0.57"/><ellipse cx="137.8" cy="314.0" rx="29.8" ry="11.0" fill="url(#rbW)" fill-opacity="0.66"/><ellipse cx="205.5" cy="313.8" rx="32.7" ry="11.0" fill="url(#rbW)" fill-opacity="0.77"/><ellipse cx="263.9" cy="314.2" rx="34.9" ry="11.0" fill="url(#rbW)" fill-opacity="0.59"/><ellipse cx="341.9" cy="313.9" rx="31.7" ry="11.0" fill="url(#rbW)" fill-opacity="0.70"/><ellipse cx="412.0" cy="314.4" rx="35.5" ry="11.0" fill="url(#rbW)" fill-opacity="0.66"/><ellipse cx="481.4" cy="314.9" rx="24.6" ry="11.0" fill="url(#rbW)" fill-opacity="0.78"/><ellipse cx="-31.7" cy="291.2" rx="32.0" ry="11.0" fill="url(#rbB)" fill-opacity="0.59"/><ellipse cx="19.6" cy="289.8" rx="28.2" ry="11.0" fill="url(#rbB)" fill-opacity="0.57"/><ellipse cx="81.1" cy="290.9" rx="36.0" ry="11.0" fill="url(#rbB)" fill-opacity="0.77"/><ellipse cx="152.3" cy="290.5" rx="30.3" ry="11.0" fill="url(#rbB)" fill-opacity="0.66"/><ellipse cx="211.4" cy="289.8" rx="28.4" ry="11.0" fill="url(#rbB)" fill-opacity="0.71"/><ellipse cx="277.8" cy="289.5" rx="34.5" ry="11.0" fill="url(#rbB)" fill-opacity="0.77"/><ellipse cx="333.3" cy="290.3" rx="25.1" ry="11.0" fill="url(#rbB)" fill-opacity="0.56"/><ellipse cx="409.9" cy="290.4" rx="31.5" ry="11.0" fill="url(#rbB)" fill-opacity="0.62"/><ellipse cx="467.6" cy="290.8" rx="27.2" ry="11.0" fill="url(#rbB)" fill-opacity="0.66"/><ellipse cx="1.1" cy="267.2" rx="29.7" ry="11.0" fill="url(#rbW)" fill-opacity="0.67"/><ellipse cx="75.4" cy="267.8" rx="28.9" ry="11.0" fill="url(#rbW)" fill-opacity="0.75"/><ellipse cx="141.1" cy="265.8" rx="24.8" ry="11.0" fill="url(#rbW)" fill-opacity="0.76"/><ellipse cx="197.9" cy="266.4" rx="27.9" ry="11.0" fill="url(#rbW)" fill-opacity="0.74"/><ellipse cx="259.5" cy="267.7" rx="26.0" ry="11.0" fill="url(#rbW)" fill-opacity="0.57"/><ellipse cx="307.7" cy="266.9" rx="32.9" ry="11.0" fill="url(#rbW)" fill-opacity="0.79"/><ellipse cx="367.4" cy="266.2" rx="35.7" ry="11.0" fill="url(#rbW)" fill-opacity="0.77"/><ellipse cx="452.0" cy="267.3" rx="30.9" ry="11.0" fill="url(#rbW)" fill-opacity="0.68"/><ellipse cx="-45.6" cy="243.4" rx="24.6" ry="11.0" fill="url(#rbB)" fill-opacity="0.72"/><ellipse cx="27.1" cy="242.5" rx="28.8" ry="11.0" fill="url(#rbB)" fill-opacity="0.70"/><ellipse cx="90.5" cy="244.1" rx="34.4" ry="11.0" fill="url(#rbB)" fill-opacity="0.80"/><ellipse cx="164.5" cy="242.9" rx="28.2" ry="11.0" fill="url(#rbB)" fill-opacity="0.65"/><ellipse cx="222.7" cy="243.7" rx="34.4" ry="11.0" fill="url(#rbB)" fill-opacity="0.73"/><ellipse cx="299.3" cy="242.9" rx="26.1" ry="11.0" fill="url(#rbB)" fill-opacity="0.76"/><ellipse cx="357.3" cy="242.5" rx="29.5" ry="11.0" fill="url(#rbB)" fill-opacity="0.60"/><ellipse cx="431.6" cy="244.2" rx="26.2" ry="11.0" fill="url(#rbB)" fill-opacity="0.71"/><ellipse cx="491.5" cy="242.3" rx="28.3" ry="11.0" fill="url(#rbB)" fill-opacity="0.64"/><ellipse cx="-58.9" cy="219.4" rx="24.6" ry="11.0" fill="url(#rbW)" fill-opacity="0.59"/><ellipse cx="-1.3" cy="219.5" rx="35.4" ry="11.0" fill="url(#rbW)" fill-opacity="0.56"/><ellipse cx="56.5" cy="220.2" rx="26.3" ry="11.0" fill="url(#rbW)" fill-opacity="0.59"/><ellipse cx="115.7" cy="220.4" rx="33.3" ry="11.0" fill="url(#rbW)" fill-opacity="0.77"/><ellipse cx="194.1" cy="219.4" rx="29.0" ry="11.0" fill="url(#rbW)" fill-opacity="0.68"/><ellipse cx="236.7" cy="220.1" rx="35.5" ry="11.0" fill="url(#rbW)" fill-opacity="0.58"/><ellipse cx="311.4" cy="219.3" rx="27.5" ry="11.0" fill="url(#rbW)" fill-opacity="0.71"/><ellipse cx="376.3" cy="218.7" rx="31.4" ry="11.0" fill="url(#rbW)" fill-opacity="0.70"/><ellipse cx="426.3" cy="219.9" rx="32.1" ry="11.0" fill="url(#rbW)" fill-opacity="0.72"/><ellipse cx="492.0" cy="219.4" rx="30.9" ry="11.0" fill="url(#rbW)" fill-opacity="0.65"/><ellipse cx="-44.5" cy="196.7" rx="34.6" ry="11.0" fill="url(#rbB)" fill-opacity="0.68"/><ellipse cx="26.4" cy="196.5" rx="34.3" ry="11.0" fill="url(#rbB)" fill-opacity="0.63"/><ellipse cx="74.8" cy="195.5" rx="31.7" ry="11.0" fill="url(#rbB)" fill-opacity="0.80"/><ellipse cx="136.8" cy="196.3" rx="34.1" ry="11.0" fill="url(#rbB)" fill-opacity="0.61"/><ellipse cx="198.9" cy="195.1" rx="29.2" ry="11.0" fill="url(#rbB)" fill-opacity="0.69"/><ellipse cx="271.8" cy="195.3" rx="24.8" ry="11.0" fill="url(#rbB)" fill-opacity="0.74"/><ellipse cx="328.5" cy="196.3" rx="24.3" ry="11.0" fill="url(#rbB)" fill-opacity="0.66"/><ellipse cx="395.0" cy="196.0" rx="30.8" ry="11.0" fill="url(#rbB)" fill-opacity="0.56"/><ellipse cx="458.4" cy="196.5" rx="24.6" ry="11.0" fill="url(#rbB)" fill-opacity="0.71"/><ellipse cx="-30.1" cy="171.8" rx="29.1" ry="11.0" fill="url(#rbW)" fill-opacity="0.59"/><ellipse cx="24.1" cy="171.7" rx="32.5" ry="11.0" fill="url(#rbW)" fill-opacity="0.59"/><ellipse cx="104.4" cy="172.8" rx="36.1" ry="11.0" fill="url(#rbW)" fill-opacity="0.75"/><ellipse cx="179.7" cy="172.8" rx="31.2" ry="11.0" fill="url(#rbW)" fill-opacity="0.68"/><ellipse cx="240.9" cy="172.1" rx="34.1" ry="11.0" fill="url(#rbW)" fill-opacity="0.68"/><ellipse cx="315.4" cy="172.8" rx="31.1" ry="11.0" fill="url(#rbW)" fill-opacity="0.76"/><ellipse cx="373.1" cy="172.8" rx="29.6" ry="11.0" fill="url(#rbW)" fill-opacity="0.76"/><ellipse cx="445.8" cy="173.2" rx="33.6" ry="11.0" fill="url(#rbW)" fill-opacity="0.66"/><ellipse cx="505.6" cy="172.5" rx="30.1" ry="11.0" fill="url(#rbW)" fill-opacity="0.72"/><ellipse cx="-12.6" cy="149.2" rx="31.0" ry="11.0" fill="url(#rbB)" fill-opacity="0.60"/><ellipse cx="53.8" cy="149.2" rx="40.3" ry="11.0" fill="url(#rbB)" fill-opacity="0.69"/><ellipse cx="128.1" cy="149.3" rx="40.1" ry="11.0" fill="url(#rbB)" fill-opacity="0.58"/><ellipse cx="214.3" cy="149.5" rx="34.4" ry="11.0" fill="url(#rbB)" fill-opacity="0.65"/><ellipse cx="297.6" cy="149.8" rx="37.2" ry="11.0" fill="url(#rbB)" fill-opacity="0.58"/><ellipse cx="367.1" cy="149.4" rx="36.3" ry="11.0" fill="url(#rbB)" fill-opacity="0.76"/><ellipse cx="423.4" cy="148.5" rx="28.2" ry="11.0" fill="url(#rbB)" fill-opacity="0.64"/><ellipse cx="504.3" cy="148.3" rx="37.7" ry="11.0" fill="url(#rbB)" fill-opacity="0.65"/><ellipse cx="-68.0" cy="125.5" rx="31.1" ry="11.0" fill="url(#rbW)" fill-opacity="0.65"/><ellipse cx="12.9" cy="126.3" rx="40.7" ry="11.0" fill="url(#rbW)" fill-opacity="0.65"/><ellipse cx="82.7" cy="124.6" rx="39.7" ry="11.0" fill="url(#rbW)" fill-opacity="0.76"/><ellipse cx="154.5" cy="124.4" rx="35.4" ry="11.0" fill="url(#rbW)" fill-opacity="0.76"/><ellipse cx="224.5" cy="125.0" rx="31.3" ry="11.0" fill="url(#rbW)" fill-opacity="0.65"/><ellipse cx="304.5" cy="124.4" rx="31.1" ry="11.0" fill="url(#rbW)" fill-opacity="0.67"/><ellipse cx="392.8" cy="124.4" rx="36.1" ry="11.0" fill="url(#rbW)" fill-opacity="0.74"/><ellipse cx="458.8" cy="126.0" rx="35.5" ry="11.0" fill="url(#rbW)" fill-opacity="0.77"/><ellipse cx="-72.5" cy="101.5" rx="37.5" ry="11.0" fill="url(#rbB)" fill-opacity="0.77"/><ellipse cx="8.1" cy="101.9" rx="30.5" ry="11.0" fill="url(#rbB)" fill-opacity="0.76"/><ellipse cx="98.5" cy="102.5" rx="31.7" ry="11.0" fill="url(#rbB)" fill-opacity="0.79"/><ellipse cx="188.2" cy="102.0" rx="36.4" ry="11.0" fill="url(#rbB)" fill-opacity="0.56"/><ellipse cx="265.5" cy="101.7" rx="41.0" ry="11.0" fill="url(#rbB)" fill-opacity="0.62"/><ellipse cx="333.8" cy="102.3" rx="38.0" ry="11.0" fill="url(#rbB)" fill-opacity="0.67"/><ellipse cx="425.1" cy="102.0" rx="39.5" ry="11.0" fill="url(#rbB)" fill-opacity="0.56"/><ellipse cx="507.3" cy="101.1" rx="35.1" ry="11.0" fill="url(#rbB)" fill-opacity="0.61"/><ellipse cx="-62.9" cy="77.5" rx="41.0" ry="11.0" fill="url(#rbW)" fill-opacity="0.76"/><ellipse cx="29.3" cy="78.1" rx="36.9" ry="11.0" fill="url(#rbW)" fill-opacity="0.74"/><ellipse cx="116.2" cy="78.1" rx="35.9" ry="11.0" fill="url(#rbW)" fill-opacity="0.55"/><ellipse cx="189.4" cy="77.5" rx="38.7" ry="11.0" fill="url(#rbW)" fill-opacity="0.72"/><ellipse cx="264.2" cy="78.2" rx="42.5" ry="11.0" fill="url(#rbW)" fill-opacity="0.72"/><ellipse cx="358.0" cy="78.3" rx="39.6" ry="11.0" fill="url(#rbW)" fill-opacity="0.74"/><ellipse cx="445.4" cy="77.3" rx="43.2" ry="11.0" fill="url(#rbW)" fill-opacity="0.70"/><ellipse cx="-30.2" cy="53.8" rx="39.6" ry="11.0" fill="url(#rbB)" fill-opacity="0.73"/><ellipse cx="53.6" cy="55.6" rx="42.8" ry="11.0" fill="url(#rbB)" fill-opacity="0.63"/><ellipse cx="152.0" cy="53.9" rx="45.7" ry="11.0" fill="url(#rbB)" fill-opacity="0.56"/><ellipse cx="239.9" cy="54.0" rx="40.2" ry="11.0" fill="url(#rbB)" fill-opacity="0.65"/><ellipse cx="336.6" cy="54.7" rx="47.8" ry="11.0" fill="url(#rbB)" fill-opacity="0.67"/><ellipse cx="429.0" cy="54.9" rx="41.8" ry="11.0" fill="url(#rbB)" fill-opacity="0.79"/><ellipse cx="-9.4" cy="30.9" rx="39.4" ry="11.0" fill="url(#rbW)" fill-opacity="0.71"/><ellipse cx="86.4" cy="30.9" rx="38.5" ry="11.0" fill="url(#rbW)" fill-opacity="0.66"/><ellipse cx="177.1" cy="31.5" rx="47.5" ry="11.0" fill="url(#rbW)" fill-opacity="0.76"/><ellipse cx="275.8" cy="31.5" rx="49.3" ry="11.0" fill="url(#rbW)" fill-opacity="0.75"/><ellipse cx="362.5" cy="31.5" rx="44.3" ry="11.0" fill="url(#rbW)" fill-opacity="0.75"/><ellipse cx="469.1" cy="31.6" rx="44.6" ry="11.0" fill="url(#rbW)" fill-opacity="0.70"/><ellipse cx="-59.9" cy="8.2" rx="52.7" ry="14.0" fill="url(#rbB)" fill-opacity="0.83"/><ellipse cx="35.3" cy="7.0" rx="53.7" ry="14.0" fill="url(#rbB)" fill-opacity="0.79"/><ellipse cx="123.2" cy="6.7" rx="46.0" ry="14.0" fill="url(#rbB)" fill-opacity="0.86"/><ellipse cx="205.7" cy="7.9" rx="50.0" ry="14.0" fill="url(#rbB)" fill-opacity="0.82"/><ellipse cx="306.5" cy="8.3" rx="46.5" ry="14.0" fill="url(#rbB)" fill-opacity="0.95"/><ellipse cx="410.1" cy="8.3" rx="52.2" ry="14.0" fill="url(#rbB)" fill-opacity="0.95"/><ellipse cx="504.1" cy="7.7" rx="45.0" ry="14.0" fill="url(#rbB)" fill-opacity="0.78"/>
<rect width="481.80" height="361.10" fill="url(#gEnv)" mask="url(#mEnv)"/>
<rect width="481.80" height="16" fill="url(#gTop)"/>
<rect y="347.10" width="481.80" height="14" fill="url(#gBot)"/>
<ellipse cx="240.90" cy="324.22" rx="36" ry="11" fill="url(#rbW)" fill-opacity="0.40"/>
<circle cx="199.10" cy="335.75" r="2.3" fill="#000" fill-opacity="0.9"/>
<circle cx="210.43" cy="331.90" r="2.3" fill="#000" fill-opacity="0.9"/>
<circle cx="222.05" cy="329.02" r="2.3" fill="#000" fill-opacity="0.9"/>
<circle cx="233.92" cy="327.47" r="2.3" fill="#000" fill-opacity="0.9"/>
<circle cx="245.88" cy="327.47" r="2.3" fill="#000" fill-opacity="0.9"/>
<circle cx="257.75" cy="329.02" r="2.3" fill="#000" fill-opacity="0.9"/>
<circle cx="269.37" cy="331.90" r="2.3" fill="#000" fill-opacity="0.9"/>
<circle cx="280.70" cy="335.75" r="2.3" fill="#000" fill-opacity="0.9"/>
<ellipse cx="481.80" cy="0" rx="70" ry="60" fill="url(#rCorner)"/>
<ellipse cx="0" cy="0" rx="70" ry="60" fill="url(#rCorner)"/>
</g></g>
<path d="M120.53,361.10 L124.55,361.01 L128.56,360.74 L132.57,360.30 L136.58,359.68 L140.59,358.90 L144.61,357.96 L148.62,356.88 L152.63,355.66 L156.64,354.32 L160.66,352.88 L164.67,351.35 L168.68,349.74 L172.69,348.08 L176.70,346.38 L180.72,344.66 L184.73,342.94 L188.74,341.24 L192.75,339.58 L196.77,337.98 L200.78,336.44 L204.79,335.00 L208.80,333.66 L212.81,332.45 L216.83,331.36 L220.84,330.43 L224.85,329.64 L228.86,329.03 L232.88,328.58 L236.89,328.31 L240.90,328.22 L244.91,328.31 L248.92,328.58 L252.94,329.03 L256.95,329.64 L260.96,330.43 L264.97,331.36 L268.99,332.45 L273.00,333.66 L277.01,335.00 L281.02,336.44 L285.03,337.98 L289.05,339.58 L293.06,341.24 L297.07,342.94 L301.08,344.66 L305.10,346.38 L309.11,348.08 L313.12,349.74 L317.13,351.35 L321.14,352.88 L325.16,354.32 L329.17,355.66 L333.18,356.88 L337.19,357.96 L341.21,358.90 L345.22,359.68 L349.23,360.30 L353.24,360.74 L357.25,361.01 L361.27,361.10 L361.27,372.40 L357.25,372.31 L353.24,372.04 L349.23,371.60 L345.22,370.98 L341.21,370.20 L337.19,369.26 L333.18,368.18 L329.17,366.96 L325.16,365.62 L321.14,364.18 L317.13,362.65 L313.12,361.04 L309.11,359.38 L305.10,357.68 L301.08,355.96 L297.07,354.24 L293.06,352.54 L289.05,350.88 L285.03,349.28 L281.02,347.74 L277.01,346.30 L273.00,344.96 L268.99,343.75 L264.97,342.66 L260.96,341.73 L256.95,340.94 L252.94,340.33 L248.92,339.88 L244.91,339.61 L240.90,339.52 L236.89,339.61 L232.88,339.88 L228.86,340.33 L224.85,340.94 L220.84,341.73 L216.83,342.66 L212.81,343.75 L208.80,344.96 L204.79,346.30 L200.78,347.74 L196.77,349.28 L192.75,350.88 L188.74,352.54 L184.73,354.24 L180.72,355.96 L176.70,357.68 L172.69,359.38 L168.68,361.04 L164.67,362.65 L160.66,364.18 L156.64,365.62 L152.63,366.96 L148.62,368.18 L144.61,369.26 L140.59,370.20 L136.58,370.98 L132.57,371.60 L128.56,372.04 L124.55,372.31 L120.53,372.40Z" fill="#fff"/>
<path d="M120.53,372.40 L124.55,372.31 L128.56,372.04 L132.57,371.60 L136.58,370.98 L140.59,370.20 L144.61,369.26 L148.62,368.18 L152.63,366.96 L156.64,365.62 L160.66,364.18 L164.67,362.65 L168.68,361.04 L172.69,359.38 L176.70,357.68 L180.72,355.96 L184.73,354.24 L188.74,352.54 L192.75,350.88 L196.77,349.28 L200.78,347.74 L204.79,346.30 L208.80,344.96 L212.81,343.75 L216.83,342.66 L220.84,341.73 L224.85,340.94 L228.86,340.33 L232.88,339.88 L236.89,339.61 L240.90,339.52 L244.91,339.61 L248.92,339.88 L252.94,340.33 L256.95,340.94 L260.96,341.73 L264.97,342.66 L268.99,343.75 L273.00,344.96 L277.01,346.30 L281.02,347.74 L285.03,349.28 L289.05,350.88 L293.06,352.54 L297.07,354.24 L301.08,355.96 L305.10,357.68 L309.11,359.38 L313.12,361.04 L317.13,362.65 L321.14,364.18 L325.16,365.62 L329.17,366.96 L333.18,368.18 L337.19,369.26 L341.21,370.20 L345.22,370.98 L349.23,371.60 L353.24,372.04 L357.25,372.31 L361.27,372.40Z" fill="#80ff80" stroke="#4a8a4a" stroke-width="0.9"/>
<path d="M115.03,361.10V372.40M366.77,361.10V372.40" stroke="#9a9a9a" stroke-width="1"/>
<circle cx="120.53" cy="366.75" r="3.75" fill="#fff" stroke="#3a4d40" stroke-width="2.1"/>
<circle cx="132.47" cy="365.96" r="3.75" fill="#fff" stroke="#3a4d40" stroke-width="2.1"/>
<circle cx="144.23" cy="363.71" r="3.75" fill="#fff" stroke="#3a4d40" stroke-width="2.1"/>
<circle cx="155.70" cy="360.30" r="3.75" fill="#fff" stroke="#3a4d40" stroke-width="2.1"/>
<circle cx="166.92" cy="356.11" r="3.75" fill="#fff" stroke="#3a4d40" stroke-width="2.1"/>
<circle cx="177.97" cy="351.49" r="3.75" fill="#fff" stroke="#3a4d40" stroke-width="2.1"/>
<circle cx="188.98" cy="346.79" r="3.75" fill="#fff" stroke="#3a4d40" stroke-width="2.1"/>
<circle cx="200.10" cy="342.35" r="3.75" fill="#fff" stroke="#3a4d40" stroke-width="2.1"/>
<circle cx="211.43" cy="338.50" r="3.75" fill="#fff" stroke="#3a4d40" stroke-width="2.1"/>
<circle cx="223.05" cy="335.62" r="3.75" fill="#fff" stroke="#3a4d40" stroke-width="2.1"/>
<circle cx="234.92" cy="334.07" r="3.75" fill="#fff" stroke="#3a4d40" stroke-width="2.1"/>
<circle cx="246.88" cy="334.07" r="3.75" fill="#fff" stroke="#3a4d40" stroke-width="2.1"/>
<circle cx="258.75" cy="335.62" r="3.75" fill="#fff" stroke="#3a4d40" stroke-width="2.1"/>
<circle cx="270.37" cy="338.50" r="3.75" fill="#fff" stroke="#3a4d40" stroke-width="2.1"/>
<circle cx="281.70" cy="342.35" r="3.75" fill="#fff" stroke="#3a4d40" stroke-width="2.1"/>
<circle cx="292.82" cy="346.79" r="3.75" fill="#fff" stroke="#3a4d40" stroke-width="2.1"/>
<circle cx="303.83" cy="351.49" r="3.75" fill="#fff" stroke="#3a4d40" stroke-width="2.1"/>
<circle cx="314.88" cy="356.11" r="3.75" fill="#fff" stroke="#3a4d40" stroke-width="2.1"/>
<circle cx="326.10" cy="360.30" r="3.75" fill="#fff" stroke="#3a4d40" stroke-width="2.1"/>
<circle cx="337.57" cy="363.71" r="3.75" fill="#fff" stroke="#3a4d40" stroke-width="2.1"/>
<circle cx="349.33" cy="365.96" r="3.75" fill="#fff" stroke="#3a4d40" stroke-width="2.1"/>
<circle cx="361.27" cy="366.75" r="3.75" fill="#fff" stroke="#3a4d40" stroke-width="2.1"/>
<line x1="34.56" y1="85.98" x2="447.24" y2="85.98" stroke="#fff" stroke-width="7" stroke-dasharray="27 12.85"/>
<rect x="0" y="0" width="60.3" height="52" fill="#fff"/>
<text x="7.3" y="38" font-size="39.7" font-weight="bold">(b)</text>
<rect x="0" y="0" width="481.80" height="372.40" fill="none" stroke="#404040" stroke-width="1.7"/>
<path d="M-16.00,361.10h16M-8.00,300.92h8M-16.00,240.73h16M-8.00,180.55h8M-16.00,120.37h16M-8.00,60.18h8M-16.00,0.00h16M0.17,372.40v16M60.35,372.40v8M120.53,372.40v16M180.72,372.40v8M240.90,372.40v16M301.08,372.40v8M361.27,372.40v16M421.45,372.40v8M481.63,372.40v16" stroke="#404040" stroke-width="1.7" fill="none"/>
<text x="-20.8" y="371.40" font-size="31.2" font-weight="bold" text-anchor="end">0.00</text>
<text x="-20.8" y="251.03" font-size="31.2" font-weight="bold" text-anchor="end">0.35</text>
<text x="-20.8" y="130.67" font-size="31.2" font-weight="bold" text-anchor="end">0.70</text>
<text x="-20.8" y="10.30" font-size="31.2" font-weight="bold" text-anchor="end">1.05</text>
<text x="0.17" y="413.60" font-size="31.2" font-weight="bold" text-anchor="middle">-0.70</text>
<text x="120.53" y="413.60" font-size="31.2" font-weight="bold" text-anchor="middle">-0.35</text>
<text x="240.90" y="413.60" font-size="31.2" font-weight="bold" text-anchor="middle">0.00</text>
<text x="361.27" y="413.60" font-size="31.2" font-weight="bold" text-anchor="middle">0.35</text>
<text x="481.63" y="413.60" font-size="31.2" font-weight="bold" text-anchor="middle">0.70</text>
<text x="240.90" y="-24.50" font-size="34" text-anchor="middle"><tspan>N</tspan><tspan font-weight="bold"> = 22</tspan></text>
</g>
<g transform="translate(1265.70,51.30)">
<clipPath id="cp20"><path d="M0,0H481.80V361.10H361.27L361.27,361.10L357.25,361.01L353.24,360.74L349.23,360.30L345.22,359.68L341.21,358.90L337.19,357.96L333.18,356.88L329.17,355.66L325.16,354.32L321.14,352.88L317.13,351.35L313.12,349.74L309.11,348.08L305.10,346.38L301.08,344.66L297.07,342.94L293.06,341.24L289.05,339.58L285.03,337.98L281.02,336.44L277.01,335.00L273.00,333.66L268.99,332.45L264.97,331.36L260.96,330.43L256.95,329.64L252.94,329.03L248.92,328.58L244.91,328.31L240.90,328.22L236.89,328.31L232.88,328.58L228.86,329.03L224.85,329.64L220.84,330.43L216.83,331.36L212.81,332.45L208.80,333.66L204.79,335.00L200.78,336.44L196.77,337.98L192.75,339.58L188.74,341.24L184.73,342.94L180.72,344.66L176.70,346.38L172.69,348.08L168.68,349.74L164.67,351.35L160.66,352.88L156.64,354.32L152.63,355.66L148.62,356.88L144.61,357.96L140.59,358.90L136.58,359.68L132.57,360.30L128.56,360.74L124.55,361.01L120.53,361.10H0Z"/></clipPath>
<g clip-path="url(#cp20)"><g filter="url(#jet)">
<rect x="-2" y="-2" width="485.80" height="365.10" fill="url(#pS)"/>
<rect x="-0.20" y="-8.24" width="3.50" height="371.34" fill="url(#pS)" transform="translate(0,6.24)" shape-rendering="crispEdges"/>
<rect x="478.50" y="-8.24" width="3.50" height="371.34" fill="url(#pS)" transform="translate(0,6.24)" shape-rendering="crispEdges"/>
<rect x="2.90" y="-7.74" width="3.50" height="370.84" fill="url(#pS)" transform="translate(0,5.74)" shape-rendering="crispEdges"/>
<rect x="475.40" y="-7.74" width="3.50" height="370.84" fill="url(#pS)" transform="translate(0,5.74)" shape-rendering="crispEdges"/>
<rect x="6.00" y="-7.25" width="3.50" height="370.35" fill="url(#pS)" transform="translate(0,5.25)" shape-rendering="crispEdges"/>
<rect x="472.30" y="-7.25" width="3.50" height="370.35" fill="url(#pS)" transform="translate(0,5.25)" shape-rendering="crispEdges"/>
<rect x="9.10" y="-6.78" width="3.50" height="369.88" fill="url(#pS)" transform="translate(0,4.78)" shape-rendering="crispEdges"/>
<rect x="469.20" y="-6.78" width="3.50" height="369.88" fill="url(#pS)" transform="translate(0,4.78)" shape-rendering="crispEdges"/>
<rect x="12.20" y="-6.32" width="3.50" height="369.42" fill="url(#pS)" transform="translate(0,4.32)" shape-rendering="crispEdges"/>
<rect x="466.10" y="-6.32" width="3.50" height="369.42" fill="url(#pS)" transform="translate(0,4.32)" shape-rendering="crispEdges"/>
<rect x="15.30" y="-5.89" width="3.50" height="368.99" fill="url(#pS)" transform="translate(0,3.89)" shape-rendering="crispEdges"/>
<rect x="463.00" y="-5.89" width="3.50" height="368.99" fill="url(#pS)" transform="translate(0,3.89)" shape-rendering="crispEdges"/>
<rect x="18.40" y="-5.47" width="3.50" height="368.57" fill="url(#pS)" transform="translate(0,3.47)" shape-rendering="crispEdges"/>
<rect x="459.90" y="-5.47" width="3.50" height="368.57" fill="url(#pS)" transform="translate(0,3.47)" shape-rendering="crispEdges"/>
<rect x="21.50" y="-5.06" width="3.50" height="368.16" fill="url(#pS)" transform="translate(0,3.06)" shape-rendering="crispEdges"/>
<rect x="456.80" y="-5.06" width="3.50" height="368.16" fill="url(#pS)" transform="translate(0,3.06)" shape-rendering="crispEdges"/>
<rect x="24.60" y="-4.68" width="3.50" height="367.78" fill="url(#pS)" transform="translate(0,2.68)" shape-rendering="crispEdges"/>
<rect x="453.70" y="-4.68" width="3.50" height="367.78" fill="url(#pS)" transform="translate(0,2.68)" shape-rendering="crispEdges"/>
<rect x="27.70" y="-4.32" width="3.50" height="367.42" fill="url(#pS)" transform="translate(0,2.32)" shape-rendering="crispEdges"/>
<rect x="450.60" y="-4.32" width="3.50" height="367.42" fill="url(#pS)" transform="translate(0,2.32)" shape-rendering="crispEdges"/>
<rect x="30.80" y="-3.98" width="3.50" height="367.08" fill="url(#pS)" transform="translate(0,1.98)" shape-rendering="crispEdges"/>
<rect x="447.50" y="-3.98" width="3.50" height="367.08" fill="url(#pS)" transform="translate(0,1.98)" shape-rendering="crispEdges"/>
<rect x="33.90" y="-3.65" width="3.50" height="366.75" fill="url(#pS)" transform="translate(0,1.65)" shape-rendering="crispEdges"/>
<rect x="444.40" y="-3.65" width="3.50" height="366.75" fill="url(#pS)" transform="translate(0,1.65)" shape-rendering="crispEdges"/>
<rect x="37.00" y="-3.35" width="3.50" height="366.45" fill="url(#pS)" transform="translate(0,1.35)" shape-rendering="crispEdges"/>
<rect x="441.30" y="-3.35" width="3.50" height="366.45" fill="url(#pS)" transform="translate(0,1.35)" shape-rendering="crispEdges"/>
<rect x="40.10" y="-3.08" width="3.50" height="366.18" fill="url(#pS)" transform="translate(0,1.08)" shape-rendering="crispEdges"/>
<rect x="438.20" y="-3.08" width="3.50" height="366.18" fill="url(#pS)" transform="translate(0,1.08)" shape-rendering="crispEdges"/>
<rect x="43.20" y="-2.82" width="3.50" height="365.92" fill="url(#pS)" transform="translate(0,0.82)" shape-rendering="crispEdges"/>
<rect x="435.10" y="-2.82" width="3.50" height="365.92" fill="url(#pS)" transform="translate(0,0.82)" shape-rendering="crispEdges"/>
<rect x="46.30" y="-2.60" width="3.50" height="365.70" fill="url(#pS)" transform="translate(0,0.60)" shape-rendering="crispEdges"/>
<rect x="432.00" y="-2.60" width="3.50" height="365.70" fill="url(#pS)" transform="translate(0,0.60)" shape-rendering="crispEdges"/>
<rect x="49.40" y="-2.40" width="3.50" height="365.50" fill="url(#pS)" transform="translate(0,0.40)" shape-rendering="crispEdges"/>
<rect x="428.90" y="-2.40" width="3.50" height="365.50" fill="url(#pS)" transform="translate(0,0.40)" shape-rendering="crispEdges"/>
<rect x="52.50" y="-2.23" width="3.50" height="365.33" fill="url(#pS)" transform="translate(0,0.23)" shape-rendering="crispEdges"/>
<rect x="425.80" y="-2.23" width="3.50" height="365.33" fill="url(#pS)" transform="translate(0,0.23)" shape-rendering="crispEdges"/>
<rect x="55.60" y="-2.10" width="3.50" height="365.20" fill="url(#pS)" transform="translate(0,0.10)" shape-rendering="crispEdges"/>
<rect x="422.70" y="-2.10" width="3.50" height="365.20" fill="url(#pS)" transform="translate(0,0.10)" shape-rendering="crispEdges"/>
<rect x="58.70" y="-2.02" width="3.50" height="365.12" fill="url(#pS)" transform="translate(0,0.02)" shape-rendering="crispEdges"/>
<rect x="419.60" y="-2.02" width="3.50" height="365.12" fill="url(#pS)" transform="translate(0,0.02)" shape-rendering="crispEdges"/>
<linearGradient id="gNp20" x1="0" y1="0" x2="0" y2="1"><stop offset="0" stop-color="#808080" stop-opacity="0.300"/><stop offset="0.35" stop-color="#808080" stop-opacity="0.300"/><stop offset="1" stop-color="#808080" stop-opacity="0.470"/></linearGradient>
<rect width="481.80" height="361.10" fill="url(#gNp20)"/>
<ellipse cx="-51.3" cy="361.5" rx="35.5" ry="11.0" fill="url(#rbW)" fill-opacity="0.62"/><ellipse cx="7.7" cy="361.6" rx="25.3" ry="11.0" fill="url(#rbW)" fill-opacity="0.56"/><ellipse cx="74.6" cy="362.0" rx="30.0" ry="11.0" fill="url(#rbW)" fill-opacity="0.63"/><ellipse cx="135.2" cy="361.9" rx="36.0" ry="11.0" fill="url(#rbW)" fill-opacity="0.57"/><ellipse cx="194.5" cy="360.5" rx="32.5" ry="11.0" fill="url(#rbW)" fill-opacity="0.69"/><ellipse cx="246.6" cy="360.3" rx="34.6" ry="11.0" fill="url(#rbW)" fill-opacity="0.71"/><ellipse cx="314.5" cy="361.7" rx="29.7" ry="11.0" fill="url(#rbW)" fill-opacity="0.80"/><ellipse cx="387.3" cy="360.2" rx="35.0" ry="11.0" fill="url(#rbW)" fill-opacity="0.55"/><ellipse cx="454.9" cy="361.6" rx="28.3" ry="11.0" fill="url(#rbW)" fill-opacity="0.79"/><ellipse cx="-28.8" cy="337.2" rx="30.7" ry="11.0" fill="url(#rbB)" fill-opacity="0.79"/><ellipse cx="31.4" cy="337.6" rx="33.4" ry="11.0" fill="url(#rbB)" fill-opacity="0.60"/><ellipse cx="101.0" cy="337.2" rx="25.6" ry="11.0" fill="url(#rbB)" fill-opacity="0.71"/><ellipse cx="149.4" cy="336.5" rx="34.9" ry="11.0" fill="url(#rbB)" fill-opacity="0.69"/><ellipse cx="216.9" cy="337.8" rx="28.2" ry="11.0" fill="url(#rbB)" fill-opacity="0.67"/><ellipse cx="296.9" cy="338.3" rx="27.7" ry="11.0" fill="url(#rbB)" fill-opacity="0.57"/><ellipse cx="340.8" cy="338.0" rx="30.8" ry="11.0" fill="url(#rbB)" fill-opacity="0.72"/><ellipse cx="408.3" cy="337.0" rx="31.1" ry="11.0" fill="url(#rbB)" fill-opacity="0.65"/><ellipse cx="476.7" cy="337.6" rx="25.3" ry="11.0" fill="url(#rbB)" fill-opacity="0.60"/><ellipse cx="-45.6" cy="313.1" rx="33.7" ry="11.0" fill="url(#rbW)" fill-opacity="0.56"/><ellipse cx="12.9" cy="313.1" rx="34.1" ry="11.0" fill="url(#rbW)" fill-opacity="0.71"/><ellipse cx="70.8" cy="313.5" rx="31.6" ry="11.0" fill="url(#rbW)" fill-opacity="0.61"/><ellipse cx="126.9" cy="313.7" rx="27.5" ry="11.0" fill="url(#rbW)" fill-opacity="0.73"/><ellipse cx="188.9" cy="314.9" rx="30.6" ry="11.0" fill="url(#rbW)" fill-opacity="0.68"/><ellipse cx="251.8" cy="313.7" rx="26.7" ry="11.0" fill="url(#rbW)" fill-opacity="0.63"/><ellipse cx="310.5" cy="314.7" rx="32.9" ry="11.0" fill="url(#rbW)" fill-opacity="0.69"/><ellipse cx="372.8" cy="314.2" rx="30.9" ry="11.0" fill="url(#rbW)" fill-opacity="0.78"/><ellipse cx="428.9" cy="313.7" rx="36.0" ry="11.0" fill="url(#rbW)" fill-opacity="0.74"/><ellipse cx="491.6" cy="314.1" rx="30.2" ry="11.0" fill="url(#rbW)" fill-opacity="0.68"/><ellipse cx="-16.9" cy="290.4" rx="29.4" ry="11.0" fill="url(#rbB)" fill-opacity="0.66"/><ellipse cx="54.4" cy="291.0" rx="24.1" ry="11.0" fill="url(#rbB)" fill-opacity="0.62"/><ellipse cx="103.8" cy="290.4" rx="33.0" ry="11.0" fill="url(#rbB)" fill-opacity="0.60"/><ellipse cx="181.9" cy="290.6" rx="24.3" ry="11.0" fill="url(#rbB)" fill-opacity="0.67"/><ellipse cx="252.5" cy="289.4" rx="25.2" ry="11.0" fill="url(#rbB)" fill-opacity="0.78"/><ellipse cx="312.8" cy="291.1" rx="33.1" ry="11.0" fill="url(#rbB)" fill-opacity="0.61"/><ellipse cx="379.1" cy="289.8" rx="29.1" ry="11.0" fill="url(#rbB)" fill-opacity="0.56"/><ellipse cx="442.9" cy="291.0" rx="27.2" ry="11.0" fill="url(#rbB)" fill-opacity="0.64"/><ellipse cx="-53.1" cy="267.3" rx="24.1" ry="11.0" fill="url(#rbW)" fill-opacity="0.74"/><ellipse cx="14.9" cy="266.4" rx="24.4" ry="11.0" fill="url(#rbW)" fill-opacity="0.73"/><ellipse cx="78.7" cy="266.4" rx="30.5" ry="11.0" fill="url(#rbW)" fill-opacity="0.61"/><ellipse cx="131.6" cy="266.2" rx="27.0" ry="11.0" fill="url(#rbW)" fill-opacity="0.72"/><ellipse cx="200.8" cy="266.1" rx="26.6" ry="11.0" fill="url(#rbW)" fill-opacity="0.80"/><ellipse cx="252.9" cy="266.8" rx="29.2" ry="11.0" fill="url(#rbW)" fill-opacity="0.68"/><ellipse cx="316.6" cy="266.9" rx="25.8" ry="11.0" fill="url(#rbW)" fill-opacity="0.69"/><ellipse cx="390.5" cy="266.6" rx="33.6" ry="11.0" fill="url(#rbW)" fill-opacity="0.77"/><ellipse cx="452.4" cy="266.7" rx="26.0" ry="11.0" fill="url(#rbW)" fill-opacity="0.73"/><ellipse cx="512.6" cy="266.4" rx="33.1" ry="11.0" fill="url(#rbW)" fill-opacity="0.74"/><ellipse cx="-29.9" cy="243.2" rx="26.3" ry="11.0" fill="url(#rbB)" fill-opacity="0.55"/><ellipse cx="32.7" cy="244.1" rx="34.7" ry="11.0" fill="url(#rbB)" fill-opacity="0.64"/><ellipse cx="90.7" cy="244.2" rx="28.1" ry="11.0" fill="url(#rbB)" fill-opacity="0.74"/><ellipse cx="168.9" cy="243.3" rx="27.7" ry="11.0" fill="url(#rbB)" fill-opacity="0.77"/><ellipse cx="224.9" cy="243.5" rx="25.2" ry="11.0" fill="url(#rbB)" fill-opacity="0.75"/><ellipse cx="280.6" cy="244.0" rx="33.5" ry="11.0" fill="url(#rbB)" fill-opacity="0.61"/><ellipse cx="347.3" cy="243.0" rx="29.2" ry="11.0" fill="url(#rbB)" fill-opacity="0.62"/><ellipse cx="416.9" cy="243.4" rx="26.4" ry="11.0" fill="url(#rbB)" fill-opacity="0.63"/><ellipse cx="479.0" cy="242.7" rx="32.1" ry="11.0" fill="url(#rbB)" fill-opacity="0.67"/><ellipse cx="-52.7" cy="219.1" rx="35.3" ry="11.0" fill="url(#rbW)" fill-opacity="0.74"/><ellipse cx="8.1" cy="219.9" rx="34.5" ry="11.0" fill="url(#rbW)" fill-opacity="0.79"/><ellipse cx="77.8" cy="220.2" rx="29.5" ry="11.0" fill="url(#rbW)" fill-opacity="0.60"/><ellipse cx="147.3" cy="218.9" rx="29.8" ry="11.0" fill="url(#rbW)" fill-opacity="0.66"/><ellipse cx="212.7" cy="219.6" rx="33.2" ry="11.0" fill="url(#rbW)" fill-opacity="0.61"/><ellipse cx="292.0" cy="220.5" rx="32.3" ry="11.0" fill="url(#rbW)" fill-opacity="0.61"/><ellipse cx="351.6" cy="220.6" rx="29.9" ry="11.0" fill="url(#rbW)" fill-opacity="0.67"/><ellipse cx="407.5" cy="219.6" rx="35.5" ry="11.0" fill="url(#rbW)" fill-opacity="0.60"/><ellipse cx="466.8" cy="219.5" rx="27.1" ry="11.0" fill="url(#rbW)" fill-opacity="0.56"/><ellipse cx="-24.9" cy="195.8" rx="31.6" ry="11.0" fill="url(#rbB)" fill-opacity="0.61"/><ellipse cx="29.2" cy="196.1" rx="31.0" ry="11.0" fill="url(#rbB)" fill-opacity="0.74"/><ellipse cx="97.6" cy="196.3" rx="35.3" ry="11.0" fill="url(#rbB)" fill-opacity="0.73"/><ellipse cx="165.2" cy="195.8" rx="35.7" ry="11.0" fill="url(#rbB)" fill-opacity="0.74"/><ellipse cx="235.1" cy="197.0" rx="28.1" ry="11.0" fill="url(#rbB)" fill-opacity="0.74"/><ellipse cx="290.1" cy="195.4" rx="33.9" ry="11.0" fill="url(#rbB)" fill-opacity="0.58"/><ellipse cx="342.8" cy="195.9" rx="31.6" ry="11.0" fill="url(#rbB)" fill-opacity="0.79"/><ellipse cx="402.0" cy="196.7" rx="33.1" ry="11.0" fill="url(#rbB)" fill-opacity="0.59"/><ellipse cx="471.6" cy="195.3" rx="34.9" ry="11.0" fill="url(#rbB)" fill-opacity="0.62"/><ellipse cx="-10.7" cy="172.2" rx="29.7" ry="11.0" fill="url(#rbW)" fill-opacity="0.71"/><ellipse cx="50.6" cy="173.3" rx="26.9" ry="11.0" fill="url(#rbW)" fill-opacity="0.55"/><ellipse cx="123.9" cy="173.2" rx="29.9" ry="11.0" fill="url(#rbW)" fill-opacity="0.66"/><ellipse cx="186.7" cy="172.9" rx="34.1" ry="11.0" fill="url(#rbW)" fill-opacity="0.62"/><ellipse cx="240.0" cy="172.1" rx="34.3" ry="11.0" fill="url(#rbW)" fill-opacity="0.74"/><ellipse cx="307.9" cy="171.9" rx="27.7" ry="11.0" fill="url(#rbW)" fill-opacity="0.78"/><ellipse cx="375.7" cy="172.3" rx="31.1" ry="11.0" fill="url(#rbW)" fill-opacity="0.57"/><ellipse cx="433.9" cy="172.0" rx="32.4" ry="11.0" fill="url(#rbW)" fill-opacity="0.65"/><ellipse cx="484.9" cy="173.0" rx="32.2" ry="11.0" fill="url(#rbW)" fill-opacity="0.65"/><ellipse cx="-50.1" cy="148.3" rx="36.3" ry="11.0" fill="url(#rbB)" fill-opacity="0.67"/><ellipse cx="3.1" cy="148.8" rx="30.1" ry="11.0" fill="url(#rbB)" fill-opacity="0.68"/><ellipse cx="78.1" cy="147.9" rx="35.7" ry="11.0" fill="url(#rbB)" fill-opacity="0.60"/><ellipse cx="153.6" cy="148.7" rx="30.9" ry="11.0" fill="url(#rbB)" fill-opacity="0.73"/><ellipse cx="201.7" cy="149.2" rx="34.9" ry="11.0" fill="url(#rbB)" fill-opacity="0.79"/><ellipse cx="295.8" cy="149.3" rx="31.7" ry="11.0" fill="url(#rbB)" fill-opacity="0.70"/><ellipse cx="358.1" cy="149.1" rx="38.0" ry="11.0" fill="url(#rbB)" fill-opacity="0.70"/><ellipse cx="425.0" cy="148.0" rx="35.1" ry="11.0" fill="url(#rbB)" fill-opacity="0.78"/><ellipse cx="503.8" cy="147.9" rx="34.2" ry="11.0" fill="url(#rbB)" fill-opacity="0.73"/><ellipse cx="-46.5" cy="124.8" rx="38.4" ry="11.0" fill="url(#rbW)" fill-opacity="0.65"/><ellipse cx="32.8" cy="125.3" rx="37.6" ry="11.0" fill="url(#rbW)" fill-opacity="0.79"/><ellipse cx="123.0" cy="125.2" rx="39.0" ry="11.0" fill="url(#rbW)" fill-opacity="0.62"/><ellipse cx="182.7" cy="124.9" rx="30.4" ry="11.0" fill="url(#rbW)" fill-opacity="0.67"/><ellipse cx="264.9" cy="124.4" rx="32.6" ry="11.0" fill="url(#rbW)" fill-opacity="0.66"/><ellipse cx="345.1" cy="124.8" rx="32.7" ry="11.0" fill="url(#rbW)" fill-opacity="0.59"/><ellipse cx="408.4" cy="125.0" rx="30.5" ry="11.0" fill="url(#rbW)" fill-opacity="0.56"/><ellipse cx="481.8" cy="125.6" rx="31.4" ry="11.0" fill="url(#rbW)" fill-opacity="0.76"/><ellipse cx="-15.4" cy="101.6" rx="30.9" ry="11.0" fill="url(#rbB)" fill-opacity="0.74"/><ellipse cx="63.4" cy="100.9" rx="38.7" ry="11.0" fill="url(#rbB)" fill-opacity="0.70"/><ellipse cx="129.6" cy="101.5" rx="39.9" ry="11.0" fill="url(#rbB)" fill-opacity="0.62"/><ellipse cx="195.2" cy="102.3" rx="43.0" ry="11.0" fill="url(#rbB)" fill-opacity="0.60"/><ellipse cx="280.7" cy="101.2" rx="43.5" ry="11.0" fill="url(#rbB)" fill-opacity="0.78"/><ellipse cx="363.8" cy="102.2" rx="43.0" ry="11.0" fill="url(#rbB)" fill-opacity="0.71"/><ellipse cx="441.7" cy="101.4" rx="39.1" ry="11.0" fill="url(#rbB)" fill-opacity="0.66"/><ellipse cx="-74.8" cy="77.5" rx="43.3" ry="11.0" fill="url(#rbW)" fill-opacity="0.75"/><ellipse cx="7.7" cy="77.4" rx="32.6" ry="11.0" fill="url(#rbW)" fill-opacity="0.73"/><ellipse cx="99.2" cy="78.8" rx="33.8" ry="11.0" fill="url(#rbW)" fill-opacity="0.60"/><ellipse cx="167.3" cy="77.5" rx="39.9" ry="11.0" fill="url(#rbW)" fill-opacity="0.70"/><ellipse cx="253.6" cy="78.8" rx="45.5" ry="11.0" fill="url(#rbW)" fill-opacity="0.79"/><ellipse cx="339.5" cy="77.6" rx="44.6" ry="11.0" fill="url(#rbW)" fill-opacity="0.75"/><ellipse cx="414.3" cy="78.4" rx="33.2" ry="11.0" fill="url(#rbW)" fill-opacity="0.70"/><ellipse cx="494.3" cy="78.8" rx="37.5" ry="11.0" fill="url(#rbW)" fill-opacity="0.59"/><ellipse cx="-55.0" cy="55.2" rx="47.6" ry="11.0" fill="url(#rbB)" fill-opacity="0.62"/><ellipse cx="26.0" cy="53.6" rx="46.5" ry="11.0" fill="url(#rbB)" fill-opacity="0.65"/><ellipse cx="113.4" cy="54.9" rx="34.5" ry="11.0" fill="url(#rbB)" fill-opacity="0.62"/><ellipse cx="191.2" cy="54.1" rx="37.9" ry="11.0" fill="url(#rbB)" fill-opacity="0.64"/><ellipse cx="281.8" cy="54.4" rx="41.9" ry="11.0" fill="url(#rbB)" fill-opacity="0.74"/><ellipse cx="375.5" cy="55.1" rx="39.4" ry="11.0" fill="url(#rbB)" fill-opacity="0.76"/><ellipse cx="459.0" cy="54.6" rx="43.7" ry="11.0" fill="url(#rbB)" fill-opacity="0.77"/><ellipse cx="-32.6" cy="30.8" rx="36.2" ry="11.0" fill="url(#rbW)" fill-opacity="0.61"/><ellipse cx="51.7" cy="30.9" rx="48.0" ry="11.0" fill="url(#rbW)" fill-opacity="0.69"/><ellipse cx="160.3" cy="30.8" rx="40.7" ry="11.0" fill="url(#rbW)" fill-opacity="0.57"/><ellipse cx="240.7" cy="30.5" rx="44.1" ry="11.0" fill="url(#rbW)" fill-opacity="0.78"/><ellipse cx="328.7" cy="31.8" rx="42.5" ry="11.0" fill="url(#rbW)" fill-opacity="0.62"/><ellipse cx="421.0" cy="31.2" rx="51.2" ry="11.0" fill="url(#rbW)" fill-opacity="0.62"/><ellipse cx="502.5" cy="30.2" rx="44.6" ry="11.0" fill="url(#rbW)" fill-opacity="0.60"/><ellipse cx="-23.9" cy="8.3" rx="52.6" ry="14.0" fill="url(#rbB)" fill-opacity="0.91"/><ellipse cx="63.2" cy="8.3" rx="40.4" ry="14.0" fill="url(#rbB)" fill-opacity="0.95"/><ellipse cx="167.5" cy="7.4" rx="36.7" ry="14.0" fill="url(#rbB)" fill-opacity="0.95"/><ellipse cx="260.5" cy="7.5" rx="49.2" ry="14.0" fill="url(#rbB)" fill-opacity="0.78"/><ellipse cx="347.3" cy="8.3" rx="36.8" ry="14.0" fill="url(#rbB)" fill-opacity="0.85"/><ellipse cx="443.3" cy="6.9" rx="37.2" ry="14.0" fill="url(#rbB)" fill-opacity="0.83"/>
<rect width="481.80" height="361.10" fill="url(#gEnv)" mask="url(#mEnv)"/>
<rect width="481.80" height="16" fill="url(#gTop)"/>
<rect y="347.10" width="481.80" height="14" fill="url(#gBot)"/>
<ellipse cx="240.90" cy="324.22" rx="36" ry="11" fill="url(#rbW)" fill-opacity="0.60"/>
<circle cx="207.42" cy="332.83" r="2.3" fill="#000" fill-opacity="0.9"/>
<circle cx="220.20" cy="329.40" r="2.3" fill="#000" fill-opacity="0.9"/>
<circle cx="233.29" cy="327.52" r="2.3" fill="#000" fill-opacity="0.9"/>
<circle cx="246.51" cy="327.52" r="2.3" fill="#000" fill-opacity="0.9"/>
<circle cx="259.60" cy="329.40" r="2.3" fill="#000" fill-opacity="0.9"/>
<circle cx="272.38" cy="332.83" r="2.3" fill="#000" fill-opacity="0.9"/>
<ellipse cx="481.80" cy="0" rx="70" ry="60" fill="url(#rCorner)"/>
<ellipse cx="0" cy="0" rx="70" ry="60" fill="url(#rCorner)"/>
</g></g>
<path d="M120.53,361.10 L124.55,361.01 L128.56,360.74 L132.57,360.30 L136.58,359.68 L140.59,358.90 L144.61,357.96 L148.62,356.88 L152.63,355.66 L156.64,354.32 L160.66,352.88 L164.67,351.35 L168.68,349.74 L172.69,348.08 L176.70,346.38 L180.72,344.66 L184.73,342.94 L188.74,341.24 L192.75,339.58 L196.77,337.98 L200.78,336.44 L204.79,335.00 L208.80,333.66 L212.81,332.45 L216.83,331.36 L220.84,330.43 L224.85,329.64 L228.86,329.03 L232.88,328.58 L236.89,328.31 L240.90,328.22 L244.91,328.31 L248.92,328.58 L252.94,329.03 L256.95,329.64 L260.96,330.43 L264.97,331.36 L268.99,332.45 L273.00,333.66 L277.01,335.00 L281.02,336.44 L285.03,337.98 L289.05,339.58 L293.06,341.24 L297.07,342.94 L301.08,344.66 L305.10,346.38 L309.11,348.08 L313.12,349.74 L317.13,351.35 L321.14,352.88 L325.16,354.32 L329.17,355.66 L333.18,356.88 L337.19,357.96 L341.21,358.90 L345.22,359.68 L349.23,360.30 L353.24,360.74 L357.25,361.01 L361.27,361.10 L361.27,372.40 L357.25,372.31 L353.24,372.04 L349.23,371.60 L345.22,370.98 L341.21,370.20 L337.19,369.26 L333.18,368.18 L329.17,366.96 L325.16,365.62 L321.14,364.18 L317.13,362.65 L313.12,361.04 L309.11,359.38 L305.10,357.68 L301.08,355.96 L297.07,354.24 L293.06,352.54 L289.05,350.88 L285.03,349.28 L281.02,347.74 L277.01,346.30 L273.00,344.96 L268.99,343.75 L264.97,342.66 L260.96,341.73 L256.95,340.94 L252.94,340.33 L248.92,339.88 L244.91,339.61 L240.90,339.52 L236.89,339.61 L232.88,339.88 L228.86,340.33 L224.85,340.94 L220.84,341.73 L216.83,342.66 L212.81,343.75 L208.80,344.96 L204.79,346.30 L200.78,347.74 L196.77,349.28 L192.75,350.88 L188.74,352.54 L184.73,354.24 L180.72,355.96 L176.70,357.68 L172.69,359.38 L168.68,361.04 L164.67,362.65 L160.66,364.18 L156.64,365.62 L152.63,366.96 L148.62,368.18 L144.61,369.26 L140.59,370.20 L136.58,370.98 L132.57,371.60 L128.56,372.04 L124.55,372.31 L120.53,372.40Z" fill="#fff"/>
<path d="M120.53,372.40 L124.55,372.31 L128.56,372.04 L132.57,371.60 L136.58,370.98 L140.59,370.20 L144.61,369.26 L148.62,368.18 L152.63,366.96 L156.64,365.62 L160.66,364.18 L164.67,362.65 L168.68,361.04 L172.69,359.38 L176.70,357.68 L180.72,355.96 L184.73,354.24 L188.74,352.54 L192.75,350.88 L196.77,349.28 L200.78,347.74 L204.79,346.30 L208.80,344.96 L212.81,343.75 L216.83,342.66 L220.84,341.73 L224.85,340.94 L228.86,340.33 L232.88,339.88 L236.89,339.61 L240.90,339.52 L244.91,339.61 L248.92,339.88 L252.94,340.33 L256.95,340.94 L260.96,341.73 L264.97,342.66 L268.99,343.75 L273.00,344.96 L277.01,346.30 L281.02,347.74 L285.03,349.28 L289.05,350.88 L293.06,352.54 L297.07,354.24 L301.08,355.96 L305.10,357.68 L309.11,359.38 L313.12,361.04 L317.13,362.65 L321.14,364.18 L325.16,365.62 L329.17,366.96 L333.18,368.18 L337.19,369.26 L341.21,370.20 L345.22,370.98 L349.23,371.60 L353.24,372.04 L357.25,372.31 L361.27,372.40Z" fill="#80ff80" stroke="#4a8a4a" stroke-width="0.9"/>
<path d="M115.03,361.10V372.40M366.77,361.10V372.40" stroke="#9a9a9a" stroke-width="1"/>
<circle cx="120.53" cy="366.75" r="3.75" fill="#fff" stroke="#3a4d40" stroke-width="2.1"/>
<circle cx="133.72" cy="365.79" r="3.75" fill="#fff" stroke="#3a4d40" stroke-width="2.1"/>
<circle cx="146.67" cy="363.07" r="3.75" fill="#fff" stroke="#3a4d40" stroke-width="2.1"/>
<circle cx="159.27" cy="359.04" r="3.75" fill="#fff" stroke="#3a4d40" stroke-width="2.1"/>
<circle cx="171.58" cy="354.19" r="3.75" fill="#fff" stroke="#3a4d40" stroke-width="2.1"/>
<circle cx="183.76" cy="349.01" r="3.75" fill="#fff" stroke="#3a4d40" stroke-width="2.1"/>
<circle cx="195.98" cy="343.93" r="3.75" fill="#fff" stroke="#3a4d40" stroke-width="2.1"/>
<circle cx="208.42" cy="339.43" r="3.75" fill="#fff" stroke="#3a4d40" stroke-width="2.1"/>
<circle cx="221.20" cy="336.00" r="3.75" fill="#fff" stroke="#3a4d40" stroke-width="2.1"/>
<circle cx="234.29" cy="334.12" r="3.75" fill="#fff" stroke="#3a4d40" stroke-width="2.1"/>
<circle cx="247.51" cy="334.12" r="3.75" fill="#fff" stroke="#3a4d40" stroke-width="2.1"/>
<circle cx="260.60" cy="336.00" r="3.75" fill="#fff" stroke="#3a4d40" stroke-width="2.1"/>
<circle cx="273.38" cy="339.43" r="3.75" fill="#fff" stroke="#3a4d40" stroke-width="2.1"/>
<circle cx="285.82" cy="343.93" r="3.75" fill="#fff" stroke="#3a4d40" stroke-width="2.1"/>
<circle cx="298.04" cy="349.01" r="3.75" fill="#fff" stroke="#3a4d40" stroke-width="2.1"/>
<circle cx="310.22" cy="354.19" r="3.75" fill="#fff" stroke="#3a4d40" stroke-width="2.1"/>
<circle cx="322.53" cy="359.04" r="3.75" fill="#fff" stroke="#3a4d40" stroke-width="2.1"/>
<circle cx="335.13" cy="363.07" r="3.75" fill="#fff" stroke="#3a4d40" stroke-width="2.1"/>
<circle cx="348.08" cy="365.79" r="3.75" fill="#fff" stroke="#3a4d40" stroke-width="2.1"/>
<circle cx="361.27" cy="366.75" r="3.75" fill="#fff" stroke="#3a4d40" stroke-width="2.1"/>
<line x1="34.56" y1="85.98" x2="447.24" y2="85.98" stroke="#fff" stroke-width="7" stroke-dasharray="27 12.85"/>
<rect x="0" y="0" width="60.3" height="52" fill="#fff"/>
<text x="7.3" y="38" font-size="39.7" font-weight="bold">(c)</text>
<rect x="0" y="0" width="481.80" height="372.40" fill="none" stroke="#404040" stroke-width="1.7"/>
<path d="M-16.00,361.10h16M-8.00,300.92h8M-16.00,240.73h16M-8.00,180.55h8M-16.00,120.37h16M-8.00,60.18h8M-16.00,0.00h16M0.17,372.40v16M60.35,372.40v8M120.53,372.40v16M180.72,372.40v8M240.90,372.40v16M301.08,372.40v8M361.27,372.40v16M421.45,372.40v8M481.63,372.40v16" stroke="#404040" stroke-width="1.7" fill="none"/>
<text x="-20.8" y="371.40" font-size="31.2" font-weight="bold" text-anchor="end">0.00</text>
<text x="-20.8" y="251.03" font-size="31.2" font-weight="bold" text-anchor="end">0.35</text>
<text x="-20.8" y="130.67" font-size="31.2" font-weight="bold" text-anchor="end">0.70</text>
<text x="-20.8" y="10.30" font-size="31.2" font-weight="bold" text-anchor="end">1.05</text>
<text x="0.17" y="413.60" font-size="31.2" font-weight="bold" text-anchor="middle">-0.70</text>
<text x="120.53" y="413.60" font-size="31.2" font-weight="bold" text-anchor="middle">-0.35</text>
<text x="240.90" y="413.60" font-size="31.2" font-weight="bold" text-anchor="middle">0.00</text>
<text x="361.27" y="413.60" font-size="31.2" font-weight="bold" text-anchor="middle">0.35</text>
<text x="481.63" y="413.60" font-size="31.2" font-weight="bold" text-anchor="middle">0.70</text>
<text x="240.90" y="-24.50" font-size="34" text-anchor="middle"><tspan>N</tspan><tspan font-weight="bold"> = 20</tspan></text>
</g>
<rect x="1778.2" y="55.60" width="16.8" height="364.50" fill="url(#gJet)" stroke="#444" stroke-width="0.6"/>
<path d="M1778.2,92.05h3M1795,92.05h-3M1778.2,128.50h3M1795,128.50h-3M1778.2,164.95h3M1795,164.95h-3M1778.2,201.40h3M1795,201.40h-3M1778.2,237.85h3M1795,237.85h-3M1778.2,274.30h3M1795,274.30h-3M1778.2,310.75h3M1795,310.75h-3M1778.2,347.20h3M1795,347.20h-3M1778.2,383.65h3M1795,383.65h-3" stroke="#333" stroke-width="1"/>
<text x="1826" y="68.60" font-size="39" font-weight="bold" text-anchor="middle">1</text>
<text x="1825" y="431.10" font-size="40" font-weight="bold" text-anchor="middle">-1</text>
<text transform="translate(1837,237.85) rotate(-90)" font-size="38" font-weight="bold" text-anchor="middle">P<tspan font-size="26" dy="8">r</tspan><tspan dy="-8"> / |P</tspan><tspan font-size="26" dy="8">i</tspan><tspan dy="-8">|</tspan></text>
<g transform="translate(132.00,537.80)">
<clipPath id="cp01"><path d="M0,0H481.80V361.10H361.27L361.27,361.10L357.25,361.01L353.24,360.74L349.23,360.30L345.22,359.68L341.21,358.90L337.19,357.96L333.18,356.88L329.17,355.66L325.16,354.32L321.14,352.88L317.13,351.35L313.12,349.74L309.11,348.08L305.10,346.38L301.08,344.66L297.07,342.94L293.06,341.24L289.05,339.58L285.03,337.98L281.02,336.44L277.01,335.00L273.00,333.66L268.99,332.45L264.97,331.36L260.96,330.43L256.95,329.64L252.94,329.03L248.92,328.58L244.91,328.31L240.90,328.22L236.89,328.31L232.88,328.58L228.86,329.03L224.85,329.64L220.84,330.43L216.83,331.36L212.81,332.45L208.80,333.66L204.79,335.00L200.78,336.44L196.77,337.98L192.75,339.58L188.74,341.24L184.73,342.94L180.72,344.66L176.70,346.38L172.69,348.08L168.68,349.74L164.67,351.35L160.66,352.88L156.64,354.32L152.63,355.66L148.62,356.88L144.61,357.96L140.59,358.90L136.58,359.68L132.57,360.30L128.56,360.74L124.55,361.01L120.53,361.10H0Z"/></clipPath>
<g clip-path="url(#cp01)"><g filter="url(#jet)">
<rect x="-2" y="-2" width="485.80" height="365.10" fill="url(#pS)"/>
<rect x="-0.20" y="-8.24" width="3.50" height="371.34" fill="url(#pS)" transform="translate(0,6.24)" shape-rendering="crispEdges"/>
<rect x="478.50" y="-8.24" width="3.50" height="371.34" fill="url(#pS)" transform="translate(0,6.24)" shape-rendering="crispEdges"/>
<rect x="2.90" y="-7.74" width="3.50" height="370.84" fill="url(#pS)" transform="translate(0,5.74)" shape-rendering="crispEdges"/>
<rect x="475.40" y="-7.74" width="3.50" height="370.84" fill="url(#pS)" transform="translate(0,5.74)" shape-rendering="crispEdges"/>
<rect x="6.00" y="-7.25" width="3.50" height="370.35" fill="url(#pS)" transform="translate(0,5.25)" shape-rendering="crispEdges"/>
<rect x="472.30" y="-7.25" width="3.50" height="370.35" fill="url(#pS)" transform="translate(0,5.25)" shape-rendering="crispEdges"/>
<rect x="9.10" y="-6.78" width="3.50" height="369.88" fill="url(#pS)" transform="translate(0,4.78)" shape-rendering="crispEdges"/>
<rect x="469.20" y="-6.78" width="3.50" height="369.88" fill="url(#pS)" transform="translate(0,4.78)" shape-rendering="crispEdges"/>
<rect x="12.20" y="-6.32" width="3.50" height="369.42" fill="url(#pS)" transform="translate(0,4.32)" shape-rendering="crispEdges"/>
<rect x="466.10" y="-6.32" width="3.50" height="369.42" fill="url(#pS)" transform="translate(0,4.32)" shape-rendering="crispEdges"/>
<rect x="15.30" y="-5.89" width="3.50" height="368.99" fill="url(#pS)" transform="translate(0,3.89)" shape-rendering="crispEdges"/>
<rect x="463.00" y="-5.89" width="3.50" height="368.99" fill="url(#pS)" transform="translate(0,3.89)" shape-rendering="crispEdges"/>
<rect x="18.40" y="-5.47" width="3.50" height="368.57" fill="url(#pS)" transform="translate(0,3.47)" shape-rendering="crispEdges"/>
<rect x="459.90" y="-5.47" width="3.50" height="368.57" fill="url(#pS)" transform="translate(0,3.47)" shape-rendering="crispEdges"/>
<rect x="21.50" y="-5.06" width="3.50" height="368.16" fill="url(#pS)" transform="translate(0,3.06)" shape-rendering="crispEdges"/>
<rect x="456.80" y="-5.06" width="3.50" height="368.16" fill="url(#pS)" transform="translate(0,3.06)" shape-rendering="crispEdges"/>
<rect x="24.60" y="-4.68" width="3.50" height="367.78" fill="url(#pS)" transform="translate(0,2.68)" shape-rendering="crispEdges"/>
<rect x="453.70" y="-4.68" width="3.50" height="367.78" fill="url(#pS)" transform="translate(0,2.68)" shape-rendering="crispEdges"/>
<rect x="27.70" y="-4.32" width="3.50" height="367.42" fill="url(#pS)" transform="translate(0,2.32)" shape-rendering="crispEdges"/>
<rect x="450.60" y="-4.32" width="3.50" height="367.42" fill="url(#pS)" transform="translate(0,2.32)" shape-rendering="crispEdges"/>
<rect x="30.80" y="-3.98" width="3.50" height="367.08" fill="url(#pS)" transform="translate(0,1.98)" shape-rendering="crispEdges"/>
<rect x="447.50" y="-3.98" width="3.50" height="367.08" fill="url(#pS)" transform="translate(0,1.98)" shape-rendering="crispEdges"/>
<rect x="33.90" y="-3.65" width="3.50" height="366.75" fill="url(#pS)" transform="translate(0,1.65)" shape-rendering="crispEdges"/>
<rect x="444.40" y="-3.65" width="3.50" height="366.75" fill="url(#pS)" transform="translate(0,1.65)" shape-rendering="crispEdges"/>
<rect x="37.00" y="-3.35" width="3.50" height="366.45" fill="url(#pS)" transform="translate(0,1.35)" shape-rendering="crispEdges"/>
<rect x="441.30" y="-3.35" width="3.50" height="366.45" fill="url(#pS)" transform="translate(0,1.35)" shape-rendering="crispEdges"/>
<rect x="40.10" y="-3.08" width="3.50" height="366.18" fill="url(#pS)" transform="translate(0,1.08)" shape-rendering="crispEdges"/>
<rect x="438.20" y="-3.08" width="3.50" height="366.18" fill="url(#pS)" transform="translate(0,1.08)" shape-rendering="crispEdges"/>
<rect x="43.20" y="-2.82" width="3.50" height="365.92" fill="url(#pS)" transform="translate(0,0.82)" shape-rendering="crispEdges"/>
<rect x="435.10" y="-2.82" width="3.50" height="365.92" fill="url(#pS)" transform="translate(0,0.82)" shape-rendering="crispEdges"/>
<rect x="46.30" y="-2.60" width="3.50" height="365.70" fill="url(#pS)" transform="translate(0,0.60)" shape-rendering="crispEdges"/>
<rect x="432.00" y="-2.60" width="3.50" height="365.70" fill="url(#pS)" transform="translate(0,0.60)" shape-rendering="crispEdges"/>
<rect x="49.40" y="-2.40" width="3.50" height="365.50" fill="url(#pS)" transform="translate(0,0.40)" shape-rendering="crispEdges"/>
<rect x="428.90" y="-2.40" width="3.50" height="365.50" fill="url(#pS)" transform="translate(0,0.40)" shape-rendering="crispEdges"/>
<rect x="52.50" y="-2.23" width="3.50" height="365.33" fill="url(#pS)" transform="translate(0,0.23)" shape-rendering="crispEdges"/>
<rect x="425.80" y="-2.23" width="3.50" height="365.33" fill="url(#pS)" transform="translate(0,0.23)" shape-rendering="crispEdges"/>
<rect x="55.60" y="-2.10" width="3.50" height="365.20" fill="url(#pS)" transform="translate(0,0.10)" shape-rendering="crispEdges"/>
<rect x="422.70" y="-2.10" width="3.50" height="365.20" fill="url(#pS)" transform="translate(0,0.10)" shape-rendering="crispEdges"/>
<rect x="58.70" y="-2.02" width="3.50" height="365.12" fill="url(#pS)" transform="translate(0,0.02)" shape-rendering="crispEdges"/>
<rect x="419.60" y="-2.02" width="3.50" height="365.12" fill="url(#pS)" transform="translate(0,0.02)" shape-rendering="crispEdges"/>
<linearGradient id="gNp01" x1="0" y1="0" x2="0" y2="1"><stop offset="0" stop-color="#808080" stop-opacity="0.300"/><stop offset="0.35" stop-color="#808080" stop-opacity="0.300"/><stop offset="1" stop-color="#808080" stop-opacity="0.520"/></linearGradient>
<rect width="481.80" height="361.10" fill="url(#gNp01)"/>
<ellipse cx="-52.7" cy="360.8" rx="34.1" ry="11.0" fill="url(#rbW)" fill-opacity="0.82"/><ellipse cx="3.9" cy="361.1" rx="29.1" ry="11.0" fill="url(#rbW)" fill-opacity="0.68"/><ellipse cx="71.2" cy="361.6" rx="27.3" ry="11.0" fill="url(#rbW)" fill-opacity="0.75"/><ellipse cx="123.0" cy="361.8" rx="24.7" ry="11.0" fill="url(#rbW)" fill-opacity="0.66"/><ellipse cx="191.2" cy="360.7" rx="35.2" ry="11.0" fill="url(#rbW)" fill-opacity="0.75"/><ellipse cx="249.8" cy="361.2" rx="26.5" ry="11.0" fill="url(#rbW)" fill-opacity="0.73"/><ellipse cx="313.4" cy="361.3" rx="29.1" ry="11.0" fill="url(#rbW)" fill-opacity="0.66"/><ellipse cx="368.2" cy="360.7" rx="33.7" ry="11.0" fill="url(#rbW)" fill-opacity="0.67"/><ellipse cx="447.2" cy="360.8" rx="33.5" ry="11.0" fill="url(#rbW)" fill-opacity="0.70"/><ellipse cx="518.3" cy="360.9" rx="25.1" ry="11.0" fill="url(#rbW)" fill-opacity="0.79"/><ellipse cx="-37.0" cy="336.7" rx="27.3" ry="11.0" fill="url(#rbB)" fill-opacity="0.66"/><ellipse cx="23.6" cy="337.0" rx="25.3" ry="11.0" fill="url(#rbB)" fill-opacity="0.73"/><ellipse cx="100.5" cy="338.0" rx="27.7" ry="11.0" fill="url(#rbB)" fill-opacity="0.73"/><ellipse cx="156.6" cy="338.0" rx="31.3" ry="11.0" fill="url(#rbB)" fill-opacity="0.82"/><ellipse cx="226.8" cy="337.2" rx="27.9" ry="11.0" fill="url(#rbB)" fill-opacity="0.79"/><ellipse cx="284.6" cy="337.0" rx="27.3" ry="11.0" fill="url(#rbB)" fill-opacity="0.83"/><ellipse cx="345.3" cy="338.5" rx="24.7" ry="11.0" fill="url(#rbB)" fill-opacity="0.67"/><ellipse cx="409.1" cy="337.9" rx="30.6" ry="11.0" fill="url(#rbB)" fill-opacity="0.79"/><ellipse cx="490.7" cy="337.3" rx="25.8" ry="11.0" fill="url(#rbB)" fill-opacity="0.83"/><ellipse cx="-55.4" cy="314.5" rx="25.8" ry="11.0" fill="url(#rbW)" fill-opacity="0.72"/><ellipse cx="7.1" cy="314.4" rx="33.0" ry="11.0" fill="url(#rbW)" fill-opacity="0.78"/><ellipse cx="68.5" cy="313.8" rx="31.2" ry="11.0" fill="url(#rbW)" fill-opacity="0.74"/><ellipse cx="124.8" cy="313.7" rx="29.9" ry="11.0" fill="url(#rbW)" fill-opacity="0.70"/><ellipse cx="205.0" cy="313.9" rx="27.7" ry="11.0" fill="url(#rbW)" fill-opacity="0.85"/><ellipse cx="254.1" cy="314.3" rx="34.5" ry="11.0" fill="url(#rbW)" fill-opacity="0.84"/><ellipse cx="318.9" cy="314.4" rx="31.5" ry="11.0" fill="url(#rbW)" fill-opacity="0.63"/><ellipse cx="393.4" cy="314.5" rx="32.1" ry="11.0" fill="url(#rbW)" fill-opacity="0.67"/><ellipse cx="449.6" cy="314.0" rx="34.3" ry="11.0" fill="url(#rbW)" fill-opacity="0.68"/><ellipse cx="-22.2" cy="291.1" rx="28.1" ry="11.0" fill="url(#rbB)" fill-opacity="0.80"/><ellipse cx="46.2" cy="289.7" rx="32.2" ry="11.0" fill="url(#rbB)" fill-opacity="0.61"/><ellipse cx="105.0" cy="291.1" rx="24.4" ry="11.0" fill="url(#rbB)" fill-opacity="0.62"/><ellipse cx="176.1" cy="291.1" rx="34.4" ry="11.0" fill="url(#rbB)" fill-opacity="0.84"/><ellipse cx="235.1" cy="289.6" rx="31.3" ry="11.0" fill="url(#rbB)" fill-opacity="0.64"/><ellipse cx="301.4" cy="289.5" rx="35.6" ry="11.0" fill="url(#rbB)" fill-opacity="0.85"/><ellipse cx="365.7" cy="290.9" rx="30.4" ry="11.0" fill="url(#rbB)" fill-opacity="0.77"/><ellipse cx="421.2" cy="289.8" rx="25.3" ry="11.0" fill="url(#rbB)" fill-opacity="0.71"/><ellipse cx="478.9" cy="290.7" rx="32.4" ry="11.0" fill="url(#rbB)" fill-opacity="0.77"/><ellipse cx="-44.9" cy="267.5" rx="26.8" ry="11.0" fill="url(#rbW)" fill-opacity="0.73"/><ellipse cx="19.5" cy="266.3" rx="26.0" ry="11.0" fill="url(#rbW)" fill-opacity="0.82"/><ellipse cx="88.3" cy="266.5" rx="34.7" ry="11.0" fill="url(#rbW)" fill-opacity="0.79"/><ellipse cx="137.1" cy="266.5" rx="24.7" ry="11.0" fill="url(#rbW)" fill-opacity="0.82"/><ellipse cx="209.2" cy="266.1" rx="25.3" ry="11.0" fill="url(#rbW)" fill-opacity="0.83"/><ellipse cx="275.0" cy="267.2" rx="32.0" ry="11.0" fill="url(#rbW)" fill-opacity="0.62"/><ellipse cx="327.8" cy="266.3" rx="28.0" ry="11.0" fill="url(#rbW)" fill-opacity="0.81"/><ellipse cx="385.9" cy="266.0" rx="29.9" ry="11.0" fill="url(#rbW)" fill-opacity="0.71"/><ellipse cx="450.4" cy="266.0" rx="33.1" ry="11.0" fill="url(#rbW)" fill-opacity="0.75"/><ellipse cx="-15.6" cy="243.4" rx="30.9" ry="11.0" fill="url(#rbB)" fill-opacity="0.81"/><ellipse cx="42.5" cy="243.7" rx="24.4" ry="11.0" fill="url(#rbB)" fill-opacity="0.79"/><ellipse cx="108.2" cy="244.2" rx="34.2" ry="11.0" fill="url(#rbB)" fill-opacity="0.61"/><ellipse cx="172.5" cy="243.0" rx="31.5" ry="11.0" fill="url(#rbB)" fill-opacity="0.73"/><ellipse cx="226.4" cy="243.6" rx="27.6" ry="11.0" fill="url(#rbB)" fill-opacity="0.81"/><ellipse cx="304.6" cy="243.5" rx="35.2" ry="11.0" fill="url(#rbB)" fill-opacity="0.81"/><ellipse cx="357.7" cy="243.2" rx="25.3" ry="11.0" fill="url(#rbB)" fill-opacity="0.62"/><ellipse cx="420.4" cy="243.0" rx="24.2" ry="11.0" fill="url(#rbB)" fill-opacity="0.75"/><ellipse cx="482.1" cy="242.5" rx="33.3" ry="11.0" fill="url(#rbB)" fill-opacity="0.80"/><ellipse cx="-34.0" cy="220.2" rx="31.4" ry="11.0" fill="url(#rbW)" fill-opacity="0.84"/><ellipse cx="26.1" cy="219.4" rx="25.0" ry="11.0" fill="url(#rbW)" fill-opacity="0.77"/><ellipse cx="78.0" cy="219.6" rx="31.5" ry="11.0" fill="url(#rbW)" fill-opacity="0.66"/><ellipse cx="144.7" cy="219.1" rx="35.5" ry="11.0" fill="url(#rbW)" fill-opacity="0.65"/><ellipse cx="208.9" cy="220.1" rx="26.4" ry="11.0" fill="url(#rbW)" fill-opacity="0.66"/><ellipse cx="270.0" cy="220.4" rx="35.9" ry="11.0" fill="url(#rbW)" fill-opacity="0.84"/><ellipse cx="341.4" cy="220.0" rx="33.3" ry="11.0" fill="url(#rbW)" fill-opacity="0.66"/><ellipse cx="392.9" cy="219.3" rx="24.0" ry="11.0" fill="url(#rbW)" fill-opacity="0.69"/><ellipse cx="443.1" cy="219.5" rx="33.0" ry="11.0" fill="url(#rbW)" fill-opacity="0.66"/><ellipse cx="515.7" cy="220.6" rx="31.8" ry="11.0" fill="url(#rbW)" fill-opacity="0.63"/><ellipse cx="-0.2" cy="197.0" rx="26.7" ry="11.0" fill="url(#rbB)" fill-opacity="0.61"/><ellipse cx="61.4" cy="196.1" rx="34.1" ry="11.0" fill="url(#rbB)" fill-opacity="0.84"/><ellipse cx="117.5" cy="196.7" rx="28.1" ry="11.0" fill="url(#rbB)" fill-opacity="0.72"/><ellipse cx="176.1" cy="195.3" rx="34.3" ry="11.0" fill="url(#rbB)" fill-opacity="0.78"/><ellipse cx="251.7" cy="195.7" rx="28.4" ry="11.0" fill="url(#rbB)" fill-opacity="0.75"/><ellipse cx="303.4" cy="195.1" rx="31.1" ry="11.0" fill="url(#rbB)" fill-opacity="0.77"/><ellipse cx="360.6" cy="195.7" rx="31.8" ry="11.0" fill="url(#rbB)" fill-opacity="0.83"/><ellipse cx="428.9" cy="196.2" rx="32.9" ry="11.0" fill="url(#rbB)" fill-opacity="0.67"/><ellipse cx="488.3" cy="196.0" rx="25.4" ry="11.0" fill="url(#rbB)" fill-opacity="0.82"/><ellipse cx="-40.0" cy="172.2" rx="37.8" ry="11.0" fill="url(#rbW)" fill-opacity="0.80"/><ellipse cx="32.3" cy="171.9" rx="35.4" ry="11.0" fill="url(#rbW)" fill-opacity="0.79"/><ellipse cx="84.8" cy="171.5" rx="27.5" ry="11.0" fill="url(#rbW)" fill-opacity="0.84"/><ellipse cx="153.3" cy="172.0" rx="36.1" ry="11.0" fill="url(#rbW)" fill-opacity="0.66"/><ellipse cx="221.7" cy="173.0" rx="29.5" ry="11.0" fill="url(#rbW)" fill-opacity="0.68"/><ellipse cx="291.4" cy="172.4" rx="29.1" ry="11.0" fill="url(#rbW)" fill-opacity="0.84"/><ellipse cx="363.7" cy="173.3" rx="29.7" ry="11.0" fill="url(#rbW)" fill-opacity="0.72"/><ellipse cx="427.0" cy="172.7" rx="30.8" ry="11.0" fill="url(#rbW)" fill-opacity="0.68"/><ellipse cx="500.4" cy="172.9" rx="26.7" ry="11.0" fill="url(#rbW)" fill-opacity="0.67"/><ellipse cx="-40.8" cy="148.5" rx="38.8" ry="11.0" fill="url(#rbB)" fill-opacity="0.72"/><ellipse cx="29.4" cy="148.8" rx="32.9" ry="11.0" fill="url(#rbB)" fill-opacity="0.68"/><ellipse cx="96.6" cy="149.9" rx="30.0" ry="11.0" fill="url(#rbB)" fill-opacity="0.67"/><ellipse cx="151.8" cy="148.8" rx="40.5" ry="11.0" fill="url(#rbB)" fill-opacity="0.72"/><ellipse cx="228.9" cy="149.9" rx="27.4" ry="11.0" fill="url(#rbB)" fill-opacity="0.80"/><ellipse cx="295.1" cy="149.0" rx="40.4" ry="11.0" fill="url(#rbB)" fill-opacity="0.83"/><ellipse cx="362.1" cy="148.4" rx="37.0" ry="11.0" fill="url(#rbB)" fill-opacity="0.73"/><ellipse cx="422.5" cy="148.7" rx="29.6" ry="11.0" fill="url(#rbB)" fill-opacity="0.65"/><ellipse cx="491.7" cy="149.4" rx="39.9" ry="11.0" fill="url(#rbB)" fill-opacity="0.67"/><ellipse cx="-10.6" cy="125.7" rx="37.3" ry="11.0" fill="url(#rbW)" fill-opacity="0.71"/><ellipse cx="52.9" cy="125.7" rx="42.0" ry="11.0" fill="url(#rbW)" fill-opacity="0.71"/><ellipse cx="140.2" cy="124.4" rx="30.9" ry="11.0" fill="url(#rbW)" fill-opacity="0.63"/><ellipse cx="207.3" cy="125.6" rx="39.2" ry="11.0" fill="url(#rbW)" fill-opacity="0.84"/><ellipse cx="287.4" cy="125.0" rx="34.1" ry="11.0" fill="url(#rbW)" fill-opacity="0.64"/><ellipse cx="353.3" cy="124.8" rx="35.9" ry="11.0" fill="url(#rbW)" fill-opacity="0.73"/><ellipse cx="429.5" cy="124.7" rx="41.9" ry="11.0" fill="url(#rbW)" fill-opacity="0.60"/><ellipse cx="494.3" cy="125.3" rx="40.7" ry="11.0" fill="url(#rbW)" fill-opacity="0.70"/><ellipse cx="-68.7" cy="102.2" rx="40.1" ry="11.0" fill="url(#rbB)" fill-opacity="0.76"/><ellipse cx="-1.0" cy="101.5" rx="39.7" ry="11.0" fill="url(#rbB)" fill-opacity="0.75"/><ellipse cx="77.2" cy="102.3" rx="44.4" ry="11.0" fill="url(#rbB)" fill-opacity="0.72"/><ellipse cx="150.5" cy="101.3" rx="38.2" ry="11.0" fill="url(#rbB)" fill-opacity="0.70"/><ellipse cx="211.7" cy="102.0" rx="43.3" ry="11.0" fill="url(#rbB)" fill-opacity="0.69"/><ellipse cx="293.1" cy="102.5" rx="31.6" ry="11.0" fill="url(#rbB)" fill-opacity="0.84"/><ellipse cx="367.9" cy="100.8" rx="42.9" ry="11.0" fill="url(#rbB)" fill-opacity="0.64"/><ellipse cx="441.0" cy="101.6" rx="37.7" ry="11.0" fill="url(#rbB)" fill-opacity="0.68"/><ellipse cx="-61.8" cy="79.2" rx="46.8" ry="11.0" fill="url(#rbW)" fill-opacity="0.81"/><ellipse cx="29.9" cy="78.5" rx="41.7" ry="11.0" fill="url(#rbW)" fill-opacity="0.82"/><ellipse cx="106.4" cy="78.5" rx="41.6" ry="11.0" fill="url(#rbW)" fill-opacity="0.71"/><ellipse cx="191.5" cy="78.3" rx="43.0" ry="11.0" fill="url(#rbW)" fill-opacity="0.61"/><ellipse cx="289.5" cy="78.0" rx="44.1" ry="11.0" fill="url(#rbW)" fill-opacity="0.77"/><ellipse cx="367.6" cy="78.2" rx="43.4" ry="11.0" fill="url(#rbW)" fill-opacity="0.72"/><ellipse cx="439.7" cy="78.7" rx="33.5" ry="11.0" fill="url(#rbW)" fill-opacity="0.68"/><ellipse cx="-51.8" cy="53.7" rx="43.4" ry="11.0" fill="url(#rbB)" fill-opacity="0.76"/><ellipse cx="41.1" cy="55.4" rx="38.3" ry="11.0" fill="url(#rbB)" fill-opacity="0.74"/><ellipse cx="125.5" cy="53.7" rx="45.5" ry="11.0" fill="url(#rbB)" fill-opacity="0.68"/><ellipse cx="201.3" cy="55.1" rx="49.5" ry="11.0" fill="url(#rbB)" fill-opacity="0.84"/><ellipse cx="299.8" cy="55.2" rx="43.4" ry="11.0" fill="url(#rbB)" fill-opacity="0.74"/><ellipse cx="388.0" cy="55.2" rx="35.1" ry="11.0" fill="url(#rbB)" fill-opacity="0.77"/><ellipse cx="464.8" cy="54.1" rx="49.5" ry="11.0" fill="url(#rbB)" fill-opacity="0.68"/><ellipse cx="-41.3" cy="31.0" rx="40.0" ry="11.0" fill="url(#rbW)" fill-opacity="0.82"/><ellipse cx="48.2" cy="31.1" rx="38.6" ry="11.0" fill="url(#rbW)" fill-opacity="0.67"/><ellipse cx="141.7" cy="31.7" rx="47.7" ry="11.0" fill="url(#rbW)" fill-opacity="0.68"/><ellipse cx="233.2" cy="31.6" rx="38.4" ry="11.0" fill="url(#rbW)" fill-opacity="0.75"/><ellipse cx="312.2" cy="30.5" rx="40.4" ry="11.0" fill="url(#rbW)" fill-opacity="0.73"/><ellipse cx="416.3" cy="31.2" rx="52.1" ry="11.0" fill="url(#rbW)" fill-opacity="0.61"/><ellipse cx="500.0" cy="30.1" rx="52.5" ry="11.0" fill="url(#rbW)" fill-opacity="0.66"/><ellipse cx="-12.1" cy="8.0" rx="41.2" ry="14.0" fill="url(#rbB)" fill-opacity="0.95"/><ellipse cx="77.7" cy="7.2" rx="49.8" ry="14.0" fill="url(#rbB)" fill-opacity="0.82"/><ellipse cx="166.2" cy="6.9" rx="42.5" ry="14.0" fill="url(#rbB)" fill-opacity="0.95"/><ellipse cx="249.8" cy="7.5" rx="40.7" ry="14.0" fill="url(#rbB)" fill-opacity="0.95"/><ellipse cx="349.9" cy="6.5" rx="41.4" ry="14.0" fill="url(#rbB)" fill-opacity="0.95"/><ellipse cx="442.0" cy="7.1" rx="53.2" ry="14.0" fill="url(#rbB)" fill-opacity="0.95"/>
<rect width="481.80" height="361.10" fill="url(#gEnv)" mask="url(#mEnv)"/>
<rect width="481.80" height="16" fill="url(#gTop)"/>
<rect y="347.10" width="481.80" height="14" fill="url(#gBot)"/>
<ellipse cx="240.90" cy="324.22" rx="36" ry="11" fill="url(#rbW)" fill-opacity="0.55"/>
<circle cx="203.73" cy="334.07" r="2.3" fill="#000" fill-opacity="0.9"/>
<circle cx="217.92" cy="329.91" r="2.3" fill="#000" fill-opacity="0.9"/>
<circle cx="232.51" cy="327.58" r="2.3" fill="#000" fill-opacity="0.9"/>
<circle cx="247.29" cy="327.58" r="2.3" fill="#000" fill-opacity="0.9"/>
<circle cx="261.88" cy="329.91" r="2.3" fill="#000" fill-opacity="0.9"/>
<circle cx="276.07" cy="334.07" r="2.3" fill="#000" fill-opacity="0.9"/>
<ellipse cx="481.80" cy="0" rx="70" ry="60" fill="url(#rCorner)"/>
<ellipse cx="0" cy="0" rx="70" ry="60" fill="url(#rCorner)"/>
</g></g>
<path d="M120.53,361.10 L124.55,361.01 L128.56,360.74 L132.57,360.30 L136.58,359.68 L140.59,358.90 L144.61,357.96 L148.62,356.88 L152.63,355.66 L156.64,354.32 L160.66,352.88 L164.67,351.35 L168.68,349.74 L172.69,348.08 L176.70,346.38 L180.72,344.66 L184.73,342.94 L188.74,341.24 L192.75,339.58 L196.77,337.98 L200.78,336.44 L204.79,335.00 L208.80,333.66 L212.81,332.45 L216.83,331.36 L220.84,330.43 L224.85,329.64 L228.86,329.03 L232.88,328.58 L236.89,328.31 L240.90,328.22 L244.91,328.31 L248.92,328.58 L252.94,329.03 L256.95,329.64 L260.96,330.43 L264.97,331.36 L268.99,332.45 L273.00,333.66 L277.01,335.00 L281.02,336.44 L285.03,337.98 L289.05,339.58 L293.06,341.24 L297.07,342.94 L301.08,344.66 L305.10,346.38 L309.11,348.08 L313.12,349.74 L317.13,351.35 L321.14,352.88 L325.16,354.32 L329.17,355.66 L333.18,356.88 L337.19,357.96 L341.21,358.90 L345.22,359.68 L349.23,360.30 L353.24,360.74 L357.25,361.01 L361.27,361.10 L361.27,372.40 L357.25,372.31 L353.24,372.04 L349.23,371.60 L345.22,370.98 L341.21,370.20 L337.19,369.26 L333.18,368.18 L329.17,366.96 L325.16,365.62 L321.14,364.18 L317.13,362.65 L313.12,361.04 L309.11,359.38 L305.10,357.68 L301.08,355.96 L297.07,354.24 L293.06,352.54 L289.05,350.88 L285.03,349.28 L281.02,347.74 L277.01,346.30 L273.00,344.96 L268.99,343.75 L264.97,342.66 L260.96,341.73 L256.95,340.94 L252.94,340.33 L248.92,339.88 L244.91,339.61 L240.90,339.52 L236.89,339.61 L232.88,339.88 L228.86,340.33 L224.85,340.94 L220.84,341.73 L216.83,342.66 L212.81,343.75 L208.80,344.96 L204.79,346.30 L200.78,347.74 L196.77,349.28 L192.75,350.88 L188.74,352.54 L184.73,354.24 L180.72,355.96 L176.70,357.68 L172.69,359.38 L168.68,361.04 L164.67,362.65 L160.66,364.18 L156.64,365.62 L152.63,366.96 L148.62,368.18 L144.61,369.26 L140.59,370.20 L136.58,370.98 L132.57,371.60 L128.56,372.04 L124.55,372.31 L120.53,372.40Z" fill="#fff"/>
<path d="M120.53,372.40 L124.55,372.31 L128.56,372.04 L132.57,371.60 L136.58,370.98 L140.59,370.20 L144.61,369.26 L148.62,368.18 L152.63,366.96 L156.64,365.62 L160.66,364.18 L164.67,362.65 L168.68,361.04 L172.69,359.38 L176.70,357.68 L180.72,355.96 L184.73,354.24 L188.74,352.54 L192.75,350.88 L196.77,349.28 L200.78,347.74 L204.79,346.30 L208.80,344.96 L212.81,343.75 L216.83,342.66 L220.84,341.73 L224.85,340.94 L228.86,340.33 L232.88,339.88 L236.89,339.61 L240.90,339.52 L244.91,339.61 L248.92,339.88 L252.94,340.33 L256.95,340.94 L260.96,341.73 L264.97,342.66 L268.99,343.75 L273.00,344.96 L277.01,346.30 L281.02,347.74 L285.03,349.28 L289.05,350.88 L293.06,352.54 L297.07,354.24 L301.08,355.96 L305.10,357.68 L309.11,359.38 L313.12,361.04 L317.13,362.65 L321.14,364.18 L325.16,365.62 L329.17,366.96 L333.18,368.18 L337.19,369.26 L341.21,370.20 L345.22,370.98 L349.23,371.60 L353.24,372.04 L357.25,372.31 L361.27,372.40Z" fill="#80ff80" stroke="#4a8a4a" stroke-width="0.9"/>
<path d="M115.03,361.10V372.40M366.77,361.10V372.40" stroke="#9a9a9a" stroke-width="1"/>
<circle cx="120.53" cy="366.75" r="3.75" fill="#fff" stroke="#3a4d40" stroke-width="2.1"/>
<circle cx="135.26" cy="365.55" r="3.75" fill="#fff" stroke="#3a4d40" stroke-width="2.1"/>
<circle cx="149.66" cy="362.22" r="3.75" fill="#fff" stroke="#3a4d40" stroke-width="2.1"/>
<circle cx="163.64" cy="357.40" r="3.75" fill="#fff" stroke="#3a4d40" stroke-width="2.1"/>
<circle cx="177.32" cy="351.77" r="3.75" fill="#fff" stroke="#3a4d40" stroke-width="2.1"/>
<circle cx="190.93" cy="345.98" r="3.75" fill="#fff" stroke="#3a4d40" stroke-width="2.1"/>
<circle cx="204.73" cy="340.67" r="3.75" fill="#fff" stroke="#3a4d40" stroke-width="2.1"/>
<circle cx="218.92" cy="336.51" r="3.75" fill="#fff" stroke="#3a4d40" stroke-width="2.1"/>
<circle cx="233.51" cy="334.18" r="3.75" fill="#fff" stroke="#3a4d40" stroke-width="2.1"/>
<circle cx="248.29" cy="334.18" r="3.75" fill="#fff" stroke="#3a4d40" stroke-width="2.1"/>
<circle cx="262.88" cy="336.51" r="3.75" fill="#fff" stroke="#3a4d40" stroke-width="2.1"/>
<circle cx="277.07" cy="340.67" r="3.75" fill="#fff" stroke="#3a4d40" stroke-width="2.1"/>
<circle cx="290.87" cy="345.98" r="3.75" fill="#fff" stroke="#3a4d40" stroke-width="2.1"/>
<circle cx="304.48" cy="351.77" r="3.75" fill="#fff" stroke="#3a4d40" stroke-width="2.1"/>
<circle cx="318.16" cy="357.40" r="3.75" fill="#fff" stroke="#3a4d40" stroke-width="2.1"/>
<circle cx="332.14" cy="362.22" r="3.75" fill="#fff" stroke="#3a4d40" stroke-width="2.1"/>
<circle cx="346.54" cy="365.55" r="3.75" fill="#fff" stroke="#3a4d40" stroke-width="2.1"/>
<circle cx="361.27" cy="366.75" r="3.75" fill="#fff" stroke="#3a4d40" stroke-width="2.1"/>
<line x1="34.56" y1="85.98" x2="447.24" y2="85.98" stroke="#fff" stroke-width="7" stroke-dasharray="27 12.85"/>
<rect x="0" y="0" width="60.3" height="52" fill="#fff"/>
<text x="7.3" y="38" font-size="39.7" font-weight="bold">(d)</text>
<rect x="0" y="0" width="481.80" height="372.40" fill="none" stroke="#404040" stroke-width="1.7"/>
<path d="M-16.00,361.10h16M-8.00,300.92h8M-16.00,240.73h16M-8.00,180.55h8M-16.00,120.37h16M-8.00,60.18h8M-16.00,0.00h16M0.17,372.40v16M60.35,372.40v8M120.53,372.40v16M180.72,372.40v8M240.90,372.40v16M301.08,372.40v8M361.27,372.40v16M421.45,372.40v8M481.63,372.40v16" stroke="#404040" stroke-width="1.7" fill="none"/>
<text x="-20.8" y="371.40" font-size="31.2" font-weight="bold" text-anchor="end">0.00</text>
<text x="-20.8" y="251.03" font-size="31.2" font-weight="bold" text-anchor="end">0.35</text>
<text x="-20.8" y="130.67" font-size="31.2" font-weight="bold" text-anchor="end">0.70</text>
<text x="-20.8" y="10.30" font-size="31.2" font-weight="bold" text-anchor="end">1.05</text>
<text x="0.17" y="413.60" font-size="31.2" font-weight="bold" text-anchor="middle">-0.70</text>
<text x="120.53" y="413.60" font-size="31.2" font-weight="bold" text-anchor="middle">-0.35</text>
<text x="240.90" y="413.60" font-size="31.2" font-weight="bold" text-anchor="middle">0.00</text>
<text x="361.27" y="413.60" font-size="31.2" font-weight="bold" text-anchor="middle">0.35</text>
<text x="481.63" y="413.60" font-size="31.2" font-weight="bold" text-anchor="middle">0.70</text>
<text x="240.90" y="-27.10" font-size="34" text-anchor="middle"><tspan>N</tspan><tspan font-weight="bold"> = 18</tspan></text>
</g>
<g transform="translate(698.80,537.80)">
<clipPath id="cp11"><path d="M0,0H481.80V361.10H361.27L361.27,361.10L357.25,361.01L353.24,360.74L349.23,360.30L345.22,359.68L341.21,358.90L337.19,357.96L333.18,356.88L329.17,355.66L325.16,354.32L321.14,352.88L317.13,351.35L313.12,349.74L309.11,348.08L305.10,346.38L301.08,344.66L297.07,342.94L293.06,341.24L289.05,339.58L285.03,337.98L281.02,336.44L277.01,335.00L273.00,333.66L268.99,332.45L264.97,331.36L260.96,330.43L256.95,329.64L252.94,329.03L248.92,328.58L244.91,328.31L240.90,328.22L236.89,328.31L232.88,328.58L228.86,329.03L224.85,329.64L220.84,330.43L216.83,331.36L212.81,332.45L208.80,333.66L204.79,335.00L200.78,336.44L196.77,337.98L192.75,339.58L188.74,341.24L184.73,342.94L180.72,344.66L176.70,346.38L172.69,348.08L168.68,349.74L164.67,351.35L160.66,352.88L156.64,354.32L152.63,355.66L148.62,356.88L144.61,357.96L140.59,358.90L136.58,359.68L132.57,360.30L128.56,360.74L124.55,361.01L120.53,361.10H0Z"/></clipPath>
<g clip-path="url(#cp11)"><g filter="url(#jet)">
<rect x="-2" y="-2" width="485.80" height="365.10" fill="url(#pS)"/>
<rect x="-0.20" y="-8.24" width="3.50" height="371.34" fill="url(#pS)" transform="translate(0,6.24)" shape-rendering="crispEdges"/>
<rect x="478.50" y="-8.24" width="3.50" height="371.34" fill="url(#pS)" transform="translate(0,6.24)" shape-rendering="crispEdges"/>
<rect x="2.90" y="-7.74" width="3.50" height="370.84" fill="url(#pS)" transform="translate(0,5.74)" shape-rendering="crispEdges"/>
<rect x="475.40" y="-7.74" width="3.50" height="370.84" fill="url(#pS)" transform="translate(0,5.74)" shape-rendering="crispEdges"/>
<rect x="6.00" y="-7.25" width="3.50" height="370.35" fill="url(#pS)" transform="translate(0,5.25)" shape-rendering="crispEdges"/>
<rect x="472.30" y="-7.25" width="3.50" height="370.35" fill="url(#pS)" transform="translate(0,5.25)" shape-rendering="crispEdges"/>
<rect x="9.10" y="-6.78" width="3.50" height="369.88" fill="url(#pS)" transform="translate(0,4.78)" shape-rendering="crispEdges"/>
<rect x="469.20" y="-6.78" width="3.50" height="369.88" fill="url(#pS)" transform="translate(0,4.78)" shape-rendering="crispEdges"/>
<rect x="12.20" y="-6.32" width="3.50" height="369.42" fill="url(#pS)" transform="translate(0,4.32)" shape-rendering="crispEdges"/>
<rect x="466.10" y="-6.32" width="3.50" height="369.42" fill="url(#pS)" transform="translate(0,4.32)" shape-rendering="crispEdges"/>
<rect x="15.30" y="-5.89" width="3.50" height="368.99" fill="url(#pS)" transform="translate(0,3.89)" shape-rendering="crispEdges"/>
<rect x="463.00" y="-5.89" width="3.50" height="368.99" fill="url(#pS)" transform="translate(0,3.89)" shape-rendering="crispEdges"/>
<rect x="18.40" y="-5.47" width="3.50" height="368.57" fill="url(#pS)" transform="translate(0,3.47)" shape-rendering="crispEdges"/>
<rect x="459.90" y="-5.47" width="3.50" height="368.57" fill="url(#pS)" transform="translate(0,3.47)" shape-rendering="crispEdges"/>
<rect x="21.50" y="-5.06" width="3.50" height="368.16" fill="url(#pS)" transform="translate(0,3.06)" shape-rendering="crispEdges"/>
<rect x="456.80" y="-5.06" width="3.50" height="368.16" fill="url(#pS)" transform="translate(0,3.06)" shape-rendering="crispEdges"/>
<rect x="24.60" y="-4.68" width="3.50" height="367.78" fill="url(#pS)" transform="translate(0,2.68)" shape-rendering="crispEdges"/>
<rect x="453.70" y="-4.68" width="3.50" height="367.78" fill="url(#pS)" transform="translate(0,2.68)" shape-rendering="crispEdges"/>
<rect x="27.70" y="-4.32" width="3.50" height="367.42" fill="url(#pS)" transform="translate(0,2.32)" shape-rendering="crispEdges"/>
<rect x="450.60" y="-4.32" width="3.50" height="367.42" fill="url(#pS)" transform="translate(0,2.32)" shape-rendering="crispEdges"/>
<rect x="30.80" y="-3.98" width="3.50" height="367.08" fill="url(#pS)" transform="translate(0,1.98)" shape-rendering="crispEdges"/>
<rect x="447.50" y="-3.98" width="3.50" height="367.08" fill="url(#pS)" transform="translate(0,1.98)" shape-rendering="crispEdges"/>
<rect x="33.90" y="-3.65" width="3.50" height="366.75" fill="url(#pS)" transform="translate(0,1.65)" shape-rendering="crispEdges"/>
<rect x="444.40" y="-3.65" width="3.50" height="366.75" fill="url(#pS)" transform="translate(0,1.65)" shape-rendering="crispEdges"/>
<rect x="37.00" y="-3.35" width="3.50" height="366.45" fill="url(#pS)" transform="translate(0,1.35)" shape-rendering="crispEdges"/>
<rect x="441.30" y="-3.35" width="3.50" height="366.45" fill="url(#pS)" transform="translate(0,1.35)" shape-rendering="crispEdges"/>
<rect x="40.10" y="-3.08" width="3.50" height="366.18" fill="url(#pS)" transform="translate(0,1.08)" shape-rendering="crispEdges"/>
<rect x="438.20" y="-3.08" width="3.50" height="366.18" fill="url(#pS)" transform="translate(0,1.08)" shape-rendering="crispEdges"/>
<rect x="43.20" y="-2.82" width="3.50" height="365.92" fill="url(#pS)" transform="translate(0,0.82)" shape-rendering="crispEdges"/>
<rect x="435.10" y="-2.82" width="3.50" height="365.92" fill="url(#pS)" transform="translate(0,0.82)" shape-rendering="crispEdges"/>
<rect x="46.30" y="-2.60" width="3.50" height="365.70" fill="url(#pS)" transform="translate(0,0.60)" shape-rendering="crispEdges"/>
<rect x="432.00" y="-2.60" width="3.50" height="365.70" fill="url(#pS)" transform="translate(0,0.60)" shape-rendering="crispEdges"/>
<rect x="49.40" y="-2.40" width="3.50" height="365.50" fill="url(#pS)" transform="translate(0,0.40)" shape-rendering="crispEdges"/>
<rect x="428.90" y="-2.40" width="3.50" height="365.50" fill="url(#pS)" transform="translate(0,0.40)" shape-rendering="crispEdges"/>
<rect x="52.50" y="-2.23" width="3.50" height="365.33" fill="url(#pS)" transform="translate(0,0.23)" shape-rendering="crispEdges"/>
<rect x="425.80" y="-2.23" width="3.50" height="365.33" fill="url(#pS)" transform="translate(0,0.23)" shape-rendering="crispEdges"/>
<rect x="55.60" y="-2.10" width="3.50" height="365.20" fill="url(#pS)" transform="translate(0,0.10)" shape-rendering="crispEdges"/>
<rect x="422.70" y="-2.10" width="3.50" height="365.20" fill="url(#pS)" transform="translate(0,0.10)" shape-rendering="crispEdges"/>
<rect x="58.70" y="-2.02" width="3.50" height="365.12" fill="url(#pS)" transform="translate(0,0.02)" shape-rendering="crispEdges"/>
<rect x="419.60" y="-2.02" width="3.50" height="365.12" fill="url(#pS)" transform="translate(0,0.02)" shape-rendering="crispEdges"/>
<linearGradient id="gNp11" x1="0" y1="0" x2="0" y2="1"><stop offset="0" stop-color="#808080" stop-opacity="0.320"/><stop offset="0.35" stop-color="#808080" stop-opacity="0.320"/><stop offset="1" stop-color="#808080" stop-opacity="0.570"/></linearGradient>
<rect width="481.80" height="361.10" fill="url(#gNp11)"/>
<ellipse cx="-9.8" cy="361.5" rx="26.0" ry="11.0" fill="url(#rbW)" fill-opacity="0.86"/><ellipse cx="50.9" cy="361.7" rx="28.6" ry="11.0" fill="url(#rbW)" fill-opacity="0.82"/><ellipse cx="107.3" cy="360.4" rx="34.1" ry="11.0" fill="url(#rbW)" fill-opacity="0.75"/><ellipse cx="176.9" cy="360.2" rx="26.0" ry="11.0" fill="url(#rbW)" fill-opacity="0.80"/><ellipse cx="244.0" cy="360.5" rx="24.4" ry="11.0" fill="url(#rbW)" fill-opacity="0.85"/><ellipse cx="304.7" cy="360.3" rx="32.8" ry="11.0" fill="url(#rbW)" fill-opacity="0.68"/><ellipse cx="361.9" cy="360.7" rx="32.3" ry="11.0" fill="url(#rbW)" fill-opacity="0.88"/><ellipse cx="435.3" cy="361.8" rx="31.3" ry="11.0" fill="url(#rbW)" fill-opacity="0.69"/><ellipse cx="485.8" cy="361.4" rx="25.8" ry="11.0" fill="url(#rbW)" fill-opacity="0.80"/><ellipse cx="-43.0" cy="338.0" rx="24.3" ry="11.0" fill="url(#rbB)" fill-opacity="0.68"/><ellipse cx="21.9" cy="337.8" rx="32.9" ry="11.0" fill="url(#rbB)" fill-opacity="0.77"/><ellipse cx="67.6" cy="338.2" rx="25.7" ry="11.0" fill="url(#rbB)" fill-opacity="0.67"/><ellipse cx="141.6" cy="336.8" rx="33.0" ry="11.0" fill="url(#rbB)" fill-opacity="0.68"/><ellipse cx="206.3" cy="337.4" rx="31.9" ry="11.0" fill="url(#rbB)" fill-opacity="0.82"/><ellipse cx="268.8" cy="338.0" rx="35.5" ry="11.0" fill="url(#rbB)" fill-opacity="0.71"/><ellipse cx="338.7" cy="337.1" rx="28.9" ry="11.0" fill="url(#rbB)" fill-opacity="0.75"/><ellipse cx="393.7" cy="337.2" rx="32.2" ry="11.0" fill="url(#rbB)" fill-opacity="0.71"/><ellipse cx="457.6" cy="338.0" rx="28.6" ry="11.0" fill="url(#rbB)" fill-opacity="0.85"/><ellipse cx="505.6" cy="337.9" rx="26.0" ry="11.0" fill="url(#rbB)" fill-opacity="0.66"/><ellipse cx="-18.5" cy="313.4" rx="30.8" ry="11.0" fill="url(#rbW)" fill-opacity="0.69"/><ellipse cx="47.8" cy="314.4" rx="25.4" ry="11.0" fill="url(#rbW)" fill-opacity="0.88"/><ellipse cx="112.7" cy="314.6" rx="30.0" ry="11.0" fill="url(#rbW)" fill-opacity="0.87"/><ellipse cx="162.5" cy="314.0" rx="31.1" ry="11.0" fill="url(#rbW)" fill-opacity="0.87"/><ellipse cx="226.6" cy="313.1" rx="26.1" ry="11.0" fill="url(#rbW)" fill-opacity="0.82"/><ellipse cx="285.3" cy="314.8" rx="31.1" ry="11.0" fill="url(#rbW)" fill-opacity="0.73"/><ellipse cx="353.4" cy="314.2" rx="27.7" ry="11.0" fill="url(#rbW)" fill-opacity="0.68"/><ellipse cx="414.3" cy="313.6" rx="34.4" ry="11.0" fill="url(#rbW)" fill-opacity="0.71"/><ellipse cx="477.3" cy="314.1" rx="32.3" ry="11.0" fill="url(#rbW)" fill-opacity="0.70"/><ellipse cx="-50.6" cy="291.3" rx="29.7" ry="11.0" fill="url(#rbB)" fill-opacity="0.67"/><ellipse cx="17.1" cy="290.8" rx="24.7" ry="11.0" fill="url(#rbB)" fill-opacity="0.84"/><ellipse cx="71.7" cy="290.0" rx="33.1" ry="11.0" fill="url(#rbB)" fill-opacity="0.69"/><ellipse cx="121.7" cy="291.1" rx="26.1" ry="11.0" fill="url(#rbB)" fill-opacity="0.85"/><ellipse cx="186.2" cy="289.4" rx="25.8" ry="11.0" fill="url(#rbB)" fill-opacity="0.80"/><ellipse cx="254.0" cy="290.8" rx="27.3" ry="11.0" fill="url(#rbB)" fill-opacity="0.66"/><ellipse cx="309.9" cy="290.8" rx="26.2" ry="11.0" fill="url(#rbB)" fill-opacity="0.77"/><ellipse cx="364.2" cy="289.7" rx="30.8" ry="11.0" fill="url(#rbB)" fill-opacity="0.82"/><ellipse cx="433.3" cy="290.3" rx="33.0" ry="11.0" fill="url(#rbB)" fill-opacity="0.83"/><ellipse cx="485.3" cy="291.0" rx="25.3" ry="11.0" fill="url(#rbB)" fill-opacity="0.74"/><ellipse cx="-14.0" cy="266.0" rx="33.0" ry="11.0" fill="url(#rbW)" fill-opacity="0.74"/><ellipse cx="35.5" cy="266.1" rx="28.2" ry="11.0" fill="url(#rbW)" fill-opacity="0.85"/><ellipse cx="100.0" cy="266.4" rx="34.1" ry="11.0" fill="url(#rbW)" fill-opacity="0.72"/><ellipse cx="165.7" cy="267.6" rx="26.3" ry="11.0" fill="url(#rbW)" fill-opacity="0.86"/><ellipse cx="228.2" cy="266.4" rx="34.8" ry="11.0" fill="url(#rbW)" fill-opacity="0.86"/><ellipse cx="282.0" cy="267.6" rx="33.4" ry="11.0" fill="url(#rbW)" fill-opacity="0.73"/><ellipse cx="346.0" cy="266.3" rx="30.4" ry="11.0" fill="url(#rbW)" fill-opacity="0.85"/><ellipse cx="411.5" cy="267.6" rx="30.4" ry="11.0" fill="url(#rbW)" fill-opacity="0.71"/><ellipse cx="465.6" cy="266.2" rx="33.8" ry="11.0" fill="url(#rbW)" fill-opacity="0.82"/><ellipse cx="-54.4" cy="242.4" rx="27.0" ry="11.0" fill="url(#rbB)" fill-opacity="0.85"/><ellipse cx="12.3" cy="243.3" rx="35.9" ry="11.0" fill="url(#rbB)" fill-opacity="0.72"/><ellipse cx="73.5" cy="244.1" rx="24.1" ry="11.0" fill="url(#rbB)" fill-opacity="0.80"/><ellipse cx="138.2" cy="242.3" rx="35.3" ry="11.0" fill="url(#rbB)" fill-opacity="0.75"/><ellipse cx="187.3" cy="243.1" rx="27.6" ry="11.0" fill="url(#rbB)" fill-opacity="0.73"/><ellipse cx="251.1" cy="243.5" rx="30.8" ry="11.0" fill="url(#rbB)" fill-opacity="0.87"/><ellipse cx="312.2" cy="242.4" rx="32.7" ry="11.0" fill="url(#rbB)" fill-opacity="0.80"/><ellipse cx="381.0" cy="243.9" rx="34.8" ry="11.0" fill="url(#rbB)" fill-opacity="0.84"/><ellipse cx="438.0" cy="244.1" rx="35.7" ry="11.0" fill="url(#rbB)" fill-opacity="0.83"/><ellipse cx="502.5" cy="242.3" rx="29.4" ry="11.0" fill="url(#rbB)" fill-opacity="0.75"/><ellipse cx="-13.9" cy="220.4" rx="25.0" ry="11.0" fill="url(#rbW)" fill-opacity="0.86"/><ellipse cx="39.2" cy="220.6" rx="28.6" ry="11.0" fill="url(#rbW)" fill-opacity="0.76"/><ellipse cx="107.0" cy="220.0" rx="34.8" ry="11.0" fill="url(#rbW)" fill-opacity="0.77"/><ellipse cx="160.7" cy="219.2" rx="26.2" ry="11.0" fill="url(#rbW)" fill-opacity="0.88"/><ellipse cx="219.0" cy="220.3" rx="25.1" ry="11.0" fill="url(#rbW)" fill-opacity="0.77"/><ellipse cx="282.0" cy="220.3" rx="33.6" ry="11.0" fill="url(#rbW)" fill-opacity="0.71"/><ellipse cx="339.4" cy="219.4" rx="26.1" ry="11.0" fill="url(#rbW)" fill-opacity="0.88"/><ellipse cx="398.2" cy="220.5" rx="29.9" ry="11.0" fill="url(#rbW)" fill-opacity="0.67"/><ellipse cx="468.2" cy="219.4" rx="31.8" ry="11.0" fill="url(#rbW)" fill-opacity="0.67"/><ellipse cx="-52.8" cy="195.4" rx="27.8" ry="11.0" fill="url(#rbB)" fill-opacity="0.87"/><ellipse cx="-0.4" cy="195.2" rx="30.7" ry="11.0" fill="url(#rbB)" fill-opacity="0.71"/><ellipse cx="63.8" cy="195.8" rx="29.2" ry="11.0" fill="url(#rbB)" fill-opacity="0.73"/><ellipse cx="117.2" cy="196.0" rx="33.4" ry="11.0" fill="url(#rbB)" fill-opacity="0.68"/><ellipse cx="186.6" cy="196.7" rx="29.9" ry="11.0" fill="url(#rbB)" fill-opacity="0.85"/><ellipse cx="241.1" cy="195.7" rx="27.0" ry="11.0" fill="url(#rbB)" fill-opacity="0.73"/><ellipse cx="309.8" cy="196.1" rx="27.1" ry="11.0" fill="url(#rbB)" fill-opacity="0.73"/><ellipse cx="372.0" cy="196.3" rx="30.5" ry="11.0" fill="url(#rbB)" fill-opacity="0.82"/><ellipse cx="432.1" cy="195.3" rx="31.3" ry="11.0" fill="url(#rbB)" fill-opacity="0.77"/><ellipse cx="501.6" cy="195.1" rx="29.1" ry="11.0" fill="url(#rbB)" fill-opacity="0.68"/><ellipse cx="-39.1" cy="172.3" rx="31.0" ry="11.0" fill="url(#rbW)" fill-opacity="0.84"/><ellipse cx="19.9" cy="172.4" rx="37.2" ry="11.0" fill="url(#rbW)" fill-opacity="0.72"/><ellipse cx="85.6" cy="172.9" rx="29.6" ry="11.0" fill="url(#rbW)" fill-opacity="0.86"/><ellipse cx="160.4" cy="172.3" rx="26.2" ry="11.0" fill="url(#rbW)" fill-opacity="0.73"/><ellipse cx="213.1" cy="172.3" rx="31.8" ry="11.0" fill="url(#rbW)" fill-opacity="0.77"/><ellipse cx="282.8" cy="173.0" rx="34.4" ry="11.0" fill="url(#rbW)" fill-opacity="0.75"/><ellipse cx="338.1" cy="171.8" rx="31.9" ry="11.0" fill="url(#rbW)" fill-opacity="0.82"/><ellipse cx="403.8" cy="172.7" rx="34.4" ry="11.0" fill="url(#rbW)" fill-opacity="0.83"/><ellipse cx="456.6" cy="172.0" rx="30.4" ry="11.0" fill="url(#rbW)" fill-opacity="0.76"/><ellipse cx="-40.1" cy="148.8" rx="28.3" ry="11.0" fill="url(#rbB)" fill-opacity="0.78"/><ellipse cx="32.1" cy="147.9" rx="38.4" ry="11.0" fill="url(#rbB)" fill-opacity="0.81"/><ellipse cx="110.0" cy="148.9" rx="37.2" ry="11.0" fill="url(#rbB)" fill-opacity="0.80"/><ellipse cx="170.9" cy="148.2" rx="34.6" ry="11.0" fill="url(#rbB)" fill-opacity="0.67"/><ellipse cx="234.6" cy="149.3" rx="35.7" ry="11.0" fill="url(#rbB)" fill-opacity="0.81"/><ellipse cx="308.0" cy="149.5" rx="40.8" ry="11.0" fill="url(#rbB)" fill-opacity="0.83"/><ellipse cx="369.0" cy="148.7" rx="40.7" ry="11.0" fill="url(#rbB)" fill-opacity="0.66"/><ellipse cx="434.0" cy="149.7" rx="40.3" ry="11.0" fill="url(#rbB)" fill-opacity="0.86"/><ellipse cx="508.9" cy="148.8" rx="38.5" ry="11.0" fill="url(#rbB)" fill-opacity="0.68"/><ellipse cx="-16.9" cy="125.5" rx="28.9" ry="11.0" fill="url(#rbW)" fill-opacity="0.66"/><ellipse cx="58.2" cy="124.4" rx="36.4" ry="11.0" fill="url(#rbW)" fill-opacity="0.73"/><ellipse cx="142.0" cy="125.7" rx="39.0" ry="11.0" fill="url(#rbW)" fill-opacity="0.71"/><ellipse cx="217.4" cy="125.9" rx="35.4" ry="11.0" fill="url(#rbW)" fill-opacity="0.85"/><ellipse cx="284.4" cy="125.4" rx="35.3" ry="11.0" fill="url(#rbW)" fill-opacity="0.80"/><ellipse cx="345.6" cy="125.7" rx="29.9" ry="11.0" fill="url(#rbW)" fill-opacity="0.66"/><ellipse cx="413.0" cy="125.4" rx="39.8" ry="11.0" fill="url(#rbW)" fill-opacity="0.80"/><ellipse cx="495.2" cy="126.3" rx="29.3" ry="11.0" fill="url(#rbW)" fill-opacity="0.79"/><ellipse cx="-65.9" cy="102.3" rx="42.7" ry="11.0" fill="url(#rbB)" fill-opacity="0.72"/><ellipse cx="11.5" cy="102.1" rx="36.7" ry="11.0" fill="url(#rbB)" fill-opacity="0.68"/><ellipse cx="96.6" cy="102.5" rx="41.9" ry="11.0" fill="url(#rbB)" fill-opacity="0.78"/><ellipse cx="169.1" cy="100.8" rx="34.6" ry="11.0" fill="url(#rbB)" fill-opacity="0.65"/><ellipse cx="243.0" cy="102.2" rx="45.5" ry="11.0" fill="url(#rbB)" fill-opacity="0.71"/><ellipse cx="315.7" cy="101.4" rx="39.6" ry="11.0" fill="url(#rbB)" fill-opacity="0.85"/><ellipse cx="398.4" cy="102.3" rx="40.6" ry="11.0" fill="url(#rbB)" fill-opacity="0.71"/><ellipse cx="472.5" cy="102.3" rx="43.2" ry="11.0" fill="url(#rbB)" fill-opacity="0.83"/><ellipse cx="-46.4" cy="79.0" rx="35.4" ry="11.0" fill="url(#rbW)" fill-opacity="0.88"/><ellipse cx="28.0" cy="78.2" rx="44.5" ry="11.0" fill="url(#rbW)" fill-opacity="0.79"/><ellipse cx="116.9" cy="78.8" rx="36.5" ry="11.0" fill="url(#rbW)" fill-opacity="0.86"/><ellipse cx="191.0" cy="77.2" rx="43.3" ry="11.0" fill="url(#rbW)" fill-opacity="0.80"/><ellipse cx="269.9" cy="78.3" rx="43.0" ry="11.0" fill="url(#rbW)" fill-opacity="0.78"/><ellipse cx="338.7" cy="77.4" rx="42.3" ry="11.0" fill="url(#rbW)" fill-opacity="0.67"/><ellipse cx="434.6" cy="77.6" rx="46.5" ry="11.0" fill="url(#rbW)" fill-opacity="0.79"/><ellipse cx="510.0" cy="77.4" rx="39.6" ry="11.0" fill="url(#rbW)" fill-opacity="0.67"/><ellipse cx="-33.1" cy="54.7" rx="37.7" ry="11.0" fill="url(#rbB)" fill-opacity="0.86"/><ellipse cx="46.6" cy="54.8" rx="36.1" ry="11.0" fill="url(#rbB)" fill-opacity="0.67"/><ellipse cx="127.5" cy="54.4" rx="43.4" ry="11.0" fill="url(#rbB)" fill-opacity="0.71"/><ellipse cx="218.9" cy="55.5" rx="45.4" ry="11.0" fill="url(#rbB)" fill-opacity="0.84"/><ellipse cx="295.7" cy="55.4" rx="33.6" ry="11.0" fill="url(#rbB)" fill-opacity="0.67"/><ellipse cx="375.9" cy="54.2" rx="41.3" ry="11.0" fill="url(#rbB)" fill-opacity="0.78"/><ellipse cx="466.5" cy="55.0" rx="36.6" ry="11.0" fill="url(#rbB)" fill-opacity="0.84"/><ellipse cx="-12.0" cy="30.9" rx="47.5" ry="11.0" fill="url(#rbW)" fill-opacity="0.75"/><ellipse cx="77.5" cy="31.4" rx="35.3" ry="11.0" fill="url(#rbW)" fill-opacity="0.70"/><ellipse cx="166.0" cy="31.8" rx="39.1" ry="11.0" fill="url(#rbW)" fill-opacity="0.85"/><ellipse cx="246.5" cy="30.4" rx="51.8" ry="11.0" fill="url(#rbW)" fill-opacity="0.78"/><ellipse cx="342.5" cy="30.3" rx="38.2" ry="11.0" fill="url(#rbW)" fill-opacity="0.84"/><ellipse cx="430.3" cy="31.9" rx="47.5" ry="11.0" fill="url(#rbW)" fill-opacity="0.67"/><ellipse cx="506.0" cy="30.4" rx="44.4" ry="11.0" fill="url(#rbW)" fill-opacity="0.74"/><ellipse cx="-67.9" cy="7.0" rx="39.0" ry="14.0" fill="url(#rbB)" fill-opacity="0.85"/><ellipse cx="22.9" cy="7.3" rx="42.1" ry="14.0" fill="url(#rbB)" fill-opacity="0.86"/><ellipse cx="120.0" cy="6.5" rx="44.2" ry="14.0" fill="url(#rbB)" fill-opacity="0.92"/><ellipse cx="194.5" cy="7.3" rx="51.7" ry="14.0" fill="url(#rbB)" fill-opacity="0.90"/><ellipse cx="284.7" cy="8.3" rx="51.8" ry="14.0" fill="url(#rbB)" fill-opacity="0.95"/><ellipse cx="368.2" cy="7.2" rx="51.5" ry="14.0" fill="url(#rbB)" fill-opacity="0.95"/><ellipse cx="462.6" cy="8.0" rx="45.2" ry="14.0" fill="url(#rbB)" fill-opacity="0.95"/>
<rect width="481.80" height="361.10" fill="url(#gEnv)" mask="url(#mEnv)"/>
<rect width="481.80" height="16" fill="url(#gTop)"/>
<rect y="347.10" width="481.80" height="14" fill="url(#gBot)"/>
<ellipse cx="240.90" cy="324.22" rx="36" ry="11" fill="url(#rbW)" fill-opacity="0.65"/>
<circle cx="199.10" cy="335.75" r="2.3" fill="#000" fill-opacity="0.9"/>
<circle cx="215.05" cy="330.61" r="2.3" fill="#000" fill-opacity="0.9"/>
<circle cx="231.53" cy="327.66" r="2.3" fill="#000" fill-opacity="0.9"/>
<circle cx="248.27" cy="327.66" r="2.3" fill="#000" fill-opacity="0.9"/>
<circle cx="264.75" cy="330.61" r="2.3" fill="#000" fill-opacity="0.9"/>
<circle cx="280.70" cy="335.75" r="2.3" fill="#000" fill-opacity="0.9"/>
<ellipse cx="481.80" cy="0" rx="70" ry="60" fill="url(#rCorner)"/>
<ellipse cx="0" cy="0" rx="70" ry="60" fill="url(#rCorner)"/>
</g></g>
<path d="M120.53,361.10 L124.55,361.01 L128.56,360.74 L132.57,360.30 L136.58,359.68 L140.59,358.90 L144.61,357.96 L148.62,356.88 L152.63,355.66 L156.64,354.32 L160.66,352.88 L164.67,351.35 L168.68,349.74 L172.69,348.08 L176.70,346.38 L180.72,344.66 L184.73,342.94 L188.74,341.24 L192.75,339.58 L196.77,337.98 L200.78,336.44 L204.79,335.00 L208.80,333.66 L212.81,332.45 L216.83,331.36 L220.84,330.43 L224.85,329.64 L228.86,329.03 L232.88,328.58 L236.89,328.31 L240.90,328.22 L244.91,328.31 L248.92,328.58 L252.94,329.03 L256.95,329.64 L260.96,330.43 L264.97,331.36 L268.99,332.45 L273.00,333.66 L277.01,335.00 L281.02,336.44 L285.03,337.98 L289.05,339.58 L293.06,341.24 L297.07,342.94 L301.08,344.66 L305.10,346.38 L309.11,348.08 L313.12,349.74 L317.13,351.35 L321.14,352.88 L325.16,354.32 L329.17,355.66 L333.18,356.88 L337.19,357.96 L341.21,358.90 L345.22,359.68 L349.23,360.30 L353.24,360.74 L357.25,361.01 L361.27,361.10 L361.27,372.40 L357.25,372.31 L353.24,372.04 L349.23,371.60 L345.22,370.98 L341.21,370.20 L337.19,369.26 L333.18,368.18 L329.17,366.96 L325.16,365.62 L321.14,364.18 L317.13,362.65 L313.12,361.04 L309.11,359.38 L305.10,357.68 L301.08,355.96 L297.07,354.24 L293.06,352.54 L289.05,350.88 L285.03,349.28 L281.02,347.74 L277.01,346.30 L273.00,344.96 L268.99,343.75 L264.97,342.66 L260.96,341.73 L256.95,340.94 L252.94,340.33 L248.92,339.88 L244.91,339.61 L240.90,339.52 L236.89,339.61 L232.88,339.88 L228.86,340.33 L224.85,340.94 L220.84,341.73 L216.83,342.66 L212.81,343.75 L208.80,344.96 L204.79,346.30 L200.78,347.74 L196.77,349.28 L192.75,350.88 L188.74,352.54 L184.73,354.24 L180.72,355.96 L176.70,357.68 L172.69,359.38 L168.68,361.04 L164.67,362.65 L160.66,364.18 L156.64,365.62 L152.63,366.96 L148.62,368.18 L144.61,369.26 L140.59,370.20 L136.58,370.98 L132.57,371.60 L128.56,372.04 L124.55,372.31 L120.53,372.40Z" fill="#fff"/>
<path d="M120.53,372.40 L124.55,372.31 L128.56,372.04 L132.57,371.60 L136.58,370.98 L140.59,370.20 L144.61,369.26 L148.62,368.18 L152.63,366.96 L156.64,365.62 L160.66,364.18 L164.67,362.65 L168.68,361.04 L172.69,359.38 L176.70,357.68 L180.72,355.96 L184.73,354.24 L188.74,352.54 L192.75,350.88 L196.77,349.28 L200.78,347.74 L204.79,346.30 L208.80,344.96 L212.81,343.75 L216.83,342.66 L220.84,341.73 L224.85,340.94 L228.86,340.33 L232.88,339.88 L236.89,339.61 L240.90,339.52 L244.91,339.61 L248.92,339.88 L252.94,340.33 L256.95,340.94 L260.96,341.73 L264.97,342.66 L268.99,343.75 L273.00,344.96 L277.01,346.30 L281.02,347.74 L285.03,349.28 L289.05,350.88 L293.06,352.54 L297.07,354.24 L301.08,355.96 L305.10,357.68 L309.11,359.38 L313.12,361.04 L317.13,362.65 L321.14,364.18 L325.16,365.62 L329.17,366.96 L333.18,368.18 L337.19,369.26 L341.21,370.20 L345.22,370.98 L349.23,371.60 L353.24,372.04 L357.25,372.31 L361.27,372.40Z" fill="#80ff80" stroke="#4a8a4a" stroke-width="0.9"/>
<path d="M115.03,361.10V372.40M366.77,361.10V372.40" stroke="#9a9a9a" stroke-width="1"/>
<circle cx="120.53" cy="366.75" r="3.75" fill="#fff" stroke="#3a4d40" stroke-width="2.1"/>
<circle cx="137.20" cy="365.22" r="3.75" fill="#fff" stroke="#3a4d40" stroke-width="2.1"/>
<circle cx="153.43" cy="361.05" r="3.75" fill="#fff" stroke="#3a4d40" stroke-width="2.1"/>
<circle cx="169.14" cy="355.20" r="3.75" fill="#fff" stroke="#3a4d40" stroke-width="2.1"/>
<circle cx="184.57" cy="348.66" r="3.75" fill="#fff" stroke="#3a4d40" stroke-width="2.1"/>
<circle cx="200.10" cy="342.35" r="3.75" fill="#fff" stroke="#3a4d40" stroke-width="2.1"/>
<circle cx="216.05" cy="337.21" r="3.75" fill="#fff" stroke="#3a4d40" stroke-width="2.1"/>
<circle cx="232.53" cy="334.26" r="3.75" fill="#fff" stroke="#3a4d40" stroke-width="2.1"/>
<circle cx="249.27" cy="334.26" r="3.75" fill="#fff" stroke="#3a4d40" stroke-width="2.1"/>
<circle cx="265.75" cy="337.21" r="3.75" fill="#fff" stroke="#3a4d40" stroke-width="2.1"/>
<circle cx="281.70" cy="342.35" r="3.75" fill="#fff" stroke="#3a4d40" stroke-width="2.1"/>
<circle cx="297.23" cy="348.66" r="3.75" fill="#fff" stroke="#3a4d40" stroke-width="2.1"/>
<circle cx="312.66" cy="355.20" r="3.75" fill="#fff" stroke="#3a4d40" stroke-width="2.1"/>
<circle cx="328.37" cy="361.05" r="3.75" fill="#fff" stroke="#3a4d40" stroke-width="2.1"/>
<circle cx="344.60" cy="365.22" r="3.75" fill="#fff" stroke="#3a4d40" stroke-width="2.1"/>
<circle cx="361.27" cy="366.75" r="3.75" fill="#fff" stroke="#3a4d40" stroke-width="2.1"/>
<line x1="34.56" y1="85.98" x2="447.24" y2="85.98" stroke="#fff" stroke-width="7" stroke-dasharray="27 12.85"/>
<rect x="0" y="0" width="60.3" height="52" fill="#fff"/>
<text x="7.3" y="38" font-size="39.7" font-weight="bold">(e)</text>
<rect x="0" y="0" width="481.80" height="372.40" fill="none" stroke="#404040" stroke-width="1.7"/>
<path d="M-16.00,361.10h16M-8.00,300.92h8M-16.00,240.73h16M-8.00,180.55h8M-16.00,120.37h16M-8.00,60.18h8M-16.00,0.00h16M0.17,372.40v16M60.35,372.40v8M120.53,372.40v16M180.72,372.40v8M240.90,372.40v16M301.08,372.40v8M361.27,372.40v16M421.45,372.40v8M481.63,372.40v16" stroke="#404040" stroke-width="1.7" fill="none"/>
<text x="-20.8" y="371.40" font-size="31.2" font-weight="bold" text-anchor="end">0.00</text>
<text x="-20.8" y="251.03" font-size="31.2" font-weight="bold" text-anchor="end">0.35</text>
<text x="-20.8" y="130.67" font-size="31.2" font-weight="bold" text-anchor="end">0.70</text>
<text x="-20.8" y="10.30" font-size="31.2" font-weight="bold" text-anchor="end">1.05</text>
<text x="0.17" y="413.60" font-size="31.2" font-weight="bold" text-anchor="middle">-0.70</text>
<text x="120.53" y="413.60" font-size="31.2" font-weight="bold" text-anchor="middle">-0.35</text>
<text x="240.90" y="413.60" font-size="31.2" font-weight="bold" text-anchor="middle">0.00</text>
<text x="361.27" y="413.60" font-size="31.2" font-weight="bold" text-anchor="middle">0.35</text>
<text x="481.63" y="413.60" font-size="31.2" font-weight="bold" text-anchor="middle">0.70</text>
<text x="240.90" y="-27.10" font-size="34" text-anchor="middle"><tspan>N</tspan><tspan font-weight="bold"> = 16</tspan></text>
</g>
<g transform="translate(1265.70,537.80)">
<clipPath id="cp21"><path d="M0,0H481.80V361.10H361.27L361.27,361.10L357.25,361.01L353.24,360.74L349.23,360.30L345.22,359.68L341.21,358.90L337.19,357.96L333.18,356.88L329.17,355.66L325.16,354.32L321.14,352.88L317.13,351.35L313.12,349.74L309.11,348.08L305.10,346.38L301.08,344.66L297.07,342.94L293.06,341.24L289.05,339.58L285.03,337.98L281.02,336.44L277.01,335.00L273.00,333.66L268.99,332.45L264.97,331.36L260.96,330.43L256.95,329.64L252.94,329.03L248.92,328.58L244.91,328.31L240.90,328.22L236.89,328.31L232.88,328.58L228.86,329.03L224.85,329.64L220.84,330.43L216.83,331.36L212.81,332.45L208.80,333.66L204.79,335.00L200.78,336.44L196.77,337.98L192.75,339.58L188.74,341.24L184.73,342.94L180.72,344.66L176.70,346.38L172.69,348.08L168.68,349.74L164.67,351.35L160.66,352.88L156.64,354.32L152.63,355.66L148.62,356.88L144.61,357.96L140.59,358.90L136.58,359.68L132.57,360.30L128.56,360.74L124.55,361.01L120.53,361.10H0Z"/></clipPath>
<g clip-path="url(#cp21)"><g filter="url(#jet)">
<rect x="-2" y="-2" width="485.80" height="365.10" fill="url(#pS)"/>
<rect x="-0.20" y="-8.24" width="3.50" height="371.34" fill="url(#pS)" transform="translate(0,6.24)" shape-rendering="crispEdges"/>
<rect x="478.50" y="-8.24" width="3.50" height="371.34" fill="url(#pS)" transform="translate(0,6.24)" shape-rendering="crispEdges"/>
<rect x="2.90" y="-7.74" width="3.50" height="370.84" fill="url(#pS)" transform="translate(0,5.74)" shape-rendering="crispEdges"/>
<rect x="475.40" y="-7.74" width="3.50" height="370.84" fill="url(#pS)" transform="translate(0,5.74)" shape-rendering="crispEdges"/>
<rect x="6.00" y="-7.25" width="3.50" height="370.35" fill="url(#pS)" transform="translate(0,5.25)" shape-rendering="crispEdges"/>
<rect x="472.30" y="-7.25" width="3.50" height="370.35" fill="url(#pS)" transform="translate(0,5.25)" shape-rendering="crispEdges"/>
<rect x="9.10" y="-6.78" width="3.50" height="369.88" fill="url(#pS)" transform="translate(0,4.78)" shape-rendering="crispEdges"/>
<rect x="469.20" y="-6.78" width="3.50" height="369.88" fill="url(#pS)" transform="translate(0,4.78)" shape-rendering="crispEdges"/>
<rect x="12.20" y="-6.32" width="3.50" height="369.42" fill="url(#pS)" transform="translate(0,4.32)" shape-rendering="crispEdges"/>
<rect x="466.10" y="-6.32" width="3.50" height="369.42" fill="url(#pS)" transform="translate(0,4.32)" shape-rendering="crispEdges"/>
<rect x="15.30" y="-5.89" width="3.50" height="368.99" fill="url(#pS)" transform="translate(0,3.89)" shape-rendering="crispEdges"/>
<rect x="463.00" y="-5.89" width="3.50" height="368.99" fill="url(#pS)" transform="translate(0,3.89)" shape-rendering="crispEdges"/>
<rect x="18.40" y="-5.47" width="3.50" height="368.57" fill="url(#pS)" transform="translate(0,3.47)" shape-rendering="crispEdges"/>
<rect x="459.90" y="-5.47" width="3.50" height="368.57" fill="url(#pS)" transform="translate(0,3.47)" shape-rendering="crispEdges"/>
<rect x="21.50" y="-5.06" width="3.50" height="368.16" fill="url(#pS)" transform="translate(0,3.06)" shape-rendering="crispEdges"/>
<rect x="456.80" y="-5.06" width="3.50" height="368.16" fill="url(#pS)" transform="translate(0,3.06)" shape-rendering="crispEdges"/>
<rect x="24.60" y="-4.68" width="3.50" height="367.78" fill="url(#pS)" transform="translate(0,2.68)" shape-rendering="crispEdges"/>
<rect x="453.70" y="-4.68" width="3.50" height="367.78" fill="url(#pS)" transform="translate(0,2.68)" shape-rendering="crispEdges"/>
<rect x="27.70" y="-4.32" width="3.50" height="367.42" fill="url(#pS)" transform="translate(0,2.32)" shape-rendering="crispEdges"/>
<rect x="450.60" y="-4.32" width="3.50" height="367.42" fill="url(#pS)" transform="translate(0,2.32)" shape-rendering="crispEdges"/>
<rect x="30.80" y="-3.98" width="3.50" height="367.08" fill="url(#pS)" transform="translate(0,1.98)" shape-rendering="crispEdges"/>
<rect x="447.50" y="-3.98" width="3.50" height="367.08" fill="url(#pS)" transform="translate(0,1.98)" shape-rendering="crispEdges"/>
<rect x="33.90" y="-3.65" width="3.50" height="366.75" fill="url(#pS)" transform="translate(0,1.65)" shape-rendering="crispEdges"/>
<rect x="444.40" y="-3.65" width="3.50" height="366.75" fill="url(#pS)" transform="translate(0,1.65)" shape-rendering="crispEdges"/>
<rect x="37.00" y="-3.35" width="3.50" height="366.45" fill="url(#pS)" transform="translate(0,1.35)" shape-rendering="crispEdges"/>
<rect x="441.30" y="-3.35" width="3.50" height="366.45" fill="url(#pS)" transform="translate(0,1.35)" shape-rendering="crispEdges"/>
<rect x="40.10" y="-3.08" width="3.50" height="366.18" fill="url(#pS)" transform="translate(0,1.08)" shape-rendering="crispEdges"/>
<rect x="438.20" y="-3.08" width="3.50" height="366.18" fill="url(#pS)" transform="translate(0,1.08)" shape-rendering="crispEdges"/>
<rect x="43.20" y="-2.82" width="3.50" height="365.92" fill="url(#pS)" transform="translate(0,0.82)" shape-rendering="crispEdges"/>
<rect x="435.10" y="-2.82" width="3.50" height="365.92" fill="url(#pS)" transform="translate(0,0.82)" shape-rendering="crispEdges"/>
<rect x="46.30" y="-2.60" width="3.50" height="365.70" fill="url(#pS)" transform="translate(0,0.60)" shape-rendering="crispEdges"/>
<rect x="432.00" y="-2.60" width="3.50" height="365.70" fill="url(#pS)" transform="translate(0,0.60)" shape-rendering="crispEdges"/>
<rect x="49.40" y="-2.40" width="3.50" height="365.50" fill="url(#pS)" transform="translate(0,0.40)" shape-rendering="crispEdges"/>
<rect x="428.90" y="-2.40" width="3.50" height="365.50" fill="url(#pS)" transform="translate(0,0.40)" shape-rendering="crispEdges"/>
<rect x="52.50" y="-2.23" width="3.50" height="365.33" fill="url(#pS)" transform="translate(0,0.23)" shape-rendering="crispEdges"/>
<rect x="425.80" y="-2.23" width="3.50" height="365.33" fill="url(#pS)" transform="translate(0,0.23)" shape-rendering="crispEdges"/>
<rect x="55.60" y="-2.10" width="3.50" height="365.20" fill="url(#pS)" transform="translate(0,0.10)" shape-rendering="crispEdges"/>
<rect x="422.70" y="-2.10" width="3.50" height="365.20" fill="url(#pS)" transform="translate(0,0.10)" shape-rendering="crispEdges"/>
<rect x="58.70" y="-2.02" width="3.50" height="365.12" fill="url(#pS)" transform="translate(0,0.02)" shape-rendering="crispEdges"/>
<rect x="419.60" y="-2.02" width="3.50" height="365.12" fill="url(#pS)" transform="translate(0,0.02)" shape-rendering="crispEdges"/>
<linearGradient id="gNp21" x1="0" y1="0" x2="0" y2="1"><stop offset="0" stop-color="#808080" stop-opacity="0.340"/><stop offset="0.35" stop-color="#808080" stop-opacity="0.340"/><stop offset="1" stop-color="#808080" stop-opacity="0.620"/></linearGradient>
<rect width="481.80" height="361.10" fill="url(#gNp21)"/>
<ellipse cx="3.8" cy="360.5" rx="32.5" ry="11.0" fill="url(#rbW)" fill-opacity="0.75"/><ellipse cx="64.5" cy="360.3" rx="26.0" ry="11.0" fill="url(#rbW)" fill-opacity="0.89"/><ellipse cx="124.3" cy="360.4" rx="26.6" ry="11.0" fill="url(#rbW)" fill-opacity="0.79"/><ellipse cx="173.4" cy="360.4" rx="24.9" ry="11.0" fill="url(#rbW)" fill-opacity="0.69"/><ellipse cx="224.0" cy="360.8" rx="32.4" ry="11.0" fill="url(#rbW)" fill-opacity="0.74"/><ellipse cx="295.1" cy="361.2" rx="27.3" ry="11.0" fill="url(#rbW)" fill-opacity="0.82"/><ellipse cx="339.4" cy="360.9" rx="25.7" ry="11.0" fill="url(#rbW)" fill-opacity="0.82"/><ellipse cx="404.5" cy="360.7" rx="33.4" ry="11.0" fill="url(#rbW)" fill-opacity="0.74"/><ellipse cx="456.1" cy="360.4" rx="30.0" ry="11.0" fill="url(#rbW)" fill-opacity="0.71"/><ellipse cx="-27.0" cy="338.1" rx="27.8" ry="11.0" fill="url(#rbB)" fill-opacity="0.77"/><ellipse cx="27.2" cy="337.9" rx="34.6" ry="11.0" fill="url(#rbB)" fill-opacity="0.68"/><ellipse cx="86.4" cy="336.9" rx="29.1" ry="11.0" fill="url(#rbB)" fill-opacity="0.74"/><ellipse cx="147.6" cy="336.9" rx="32.6" ry="11.0" fill="url(#rbB)" fill-opacity="0.86"/><ellipse cx="195.9" cy="338.0" rx="27.3" ry="11.0" fill="url(#rbB)" fill-opacity="0.86"/><ellipse cx="250.4" cy="337.4" rx="30.3" ry="11.0" fill="url(#rbB)" fill-opacity="0.90"/><ellipse cx="312.5" cy="336.6" rx="34.4" ry="11.0" fill="url(#rbB)" fill-opacity="0.88"/><ellipse cx="366.4" cy="337.3" rx="24.3" ry="11.0" fill="url(#rbB)" fill-opacity="0.68"/><ellipse cx="416.8" cy="338.2" rx="33.7" ry="11.0" fill="url(#rbB)" fill-opacity="0.81"/><ellipse cx="468.8" cy="337.0" rx="29.4" ry="11.0" fill="url(#rbB)" fill-opacity="0.81"/><ellipse cx="-59.1" cy="313.4" rx="35.9" ry="11.0" fill="url(#rbW)" fill-opacity="0.81"/><ellipse cx="-6.6" cy="313.0" rx="35.8" ry="11.0" fill="url(#rbW)" fill-opacity="0.77"/><ellipse cx="46.2" cy="313.4" rx="35.7" ry="11.0" fill="url(#rbW)" fill-opacity="0.83"/><ellipse cx="118.3" cy="313.1" rx="27.8" ry="11.0" fill="url(#rbW)" fill-opacity="0.85"/><ellipse cx="173.8" cy="313.4" rx="34.1" ry="11.0" fill="url(#rbW)" fill-opacity="0.88"/><ellipse cx="241.4" cy="314.5" rx="33.8" ry="11.0" fill="url(#rbW)" fill-opacity="0.80"/><ellipse cx="291.4" cy="313.0" rx="31.1" ry="11.0" fill="url(#rbW)" fill-opacity="0.70"/><ellipse cx="336.5" cy="314.6" rx="31.4" ry="11.0" fill="url(#rbW)" fill-opacity="0.86"/><ellipse cx="393.5" cy="314.3" rx="28.6" ry="11.0" fill="url(#rbW)" fill-opacity="0.85"/><ellipse cx="451.4" cy="313.3" rx="31.9" ry="11.0" fill="url(#rbW)" fill-opacity="0.85"/><ellipse cx="500.2" cy="313.3" rx="29.5" ry="11.0" fill="url(#rbW)" fill-opacity="0.73"/><ellipse cx="-25.6" cy="290.4" rx="28.0" ry="11.0" fill="url(#rbB)" fill-opacity="0.88"/><ellipse cx="46.7" cy="290.5" rx="31.4" ry="11.0" fill="url(#rbB)" fill-opacity="0.73"/><ellipse cx="106.7" cy="289.5" rx="30.7" ry="11.0" fill="url(#rbB)" fill-opacity="0.83"/><ellipse cx="161.7" cy="289.8" rx="31.4" ry="11.0" fill="url(#rbB)" fill-opacity="0.76"/><ellipse cx="213.5" cy="290.3" rx="33.3" ry="11.0" fill="url(#rbB)" fill-opacity="0.73"/><ellipse cx="286.8" cy="290.7" rx="26.0" ry="11.0" fill="url(#rbB)" fill-opacity="0.86"/><ellipse cx="331.2" cy="291.1" rx="33.2" ry="11.0" fill="url(#rbB)" fill-opacity="0.87"/><ellipse cx="384.7" cy="291.1" rx="24.9" ry="11.0" fill="url(#rbB)" fill-opacity="0.86"/><ellipse cx="449.7" cy="290.0" rx="29.0" ry="11.0" fill="url(#rbB)" fill-opacity="0.81"/><ellipse cx="512.9" cy="290.9" rx="34.0" ry="11.0" fill="url(#rbB)" fill-opacity="0.73"/><ellipse cx="-48.5" cy="267.7" rx="35.3" ry="11.0" fill="url(#rbW)" fill-opacity="0.84"/><ellipse cx="13.6" cy="267.4" rx="27.7" ry="11.0" fill="url(#rbW)" fill-opacity="0.86"/><ellipse cx="81.3" cy="267.4" rx="34.6" ry="11.0" fill="url(#rbW)" fill-opacity="0.77"/><ellipse cx="139.3" cy="266.4" rx="27.1" ry="11.0" fill="url(#rbW)" fill-opacity="0.70"/><ellipse cx="208.6" cy="267.4" rx="24.7" ry="11.0" fill="url(#rbW)" fill-opacity="0.86"/><ellipse cx="264.0" cy="267.2" rx="33.9" ry="11.0" fill="url(#rbW)" fill-opacity="0.88"/><ellipse cx="324.0" cy="265.9" rx="33.5" ry="11.0" fill="url(#rbW)" fill-opacity="0.87"/><ellipse cx="374.1" cy="267.4" rx="30.6" ry="11.0" fill="url(#rbW)" fill-opacity="0.68"/><ellipse cx="425.1" cy="266.6" rx="30.1" ry="11.0" fill="url(#rbW)" fill-opacity="0.73"/><ellipse cx="482.5" cy="266.7" rx="33.2" ry="11.0" fill="url(#rbW)" fill-opacity="0.75"/><ellipse cx="-13.8" cy="243.4" rx="24.1" ry="11.0" fill="url(#rbB)" fill-opacity="0.88"/><ellipse cx="53.2" cy="243.0" rx="31.4" ry="11.0" fill="url(#rbB)" fill-opacity="0.83"/><ellipse cx="110.9" cy="244.0" rx="29.5" ry="11.0" fill="url(#rbB)" fill-opacity="0.86"/><ellipse cx="165.0" cy="242.7" rx="29.6" ry="11.0" fill="url(#rbB)" fill-opacity="0.71"/><ellipse cx="216.4" cy="243.4" rx="27.4" ry="11.0" fill="url(#rbB)" fill-opacity="0.77"/><ellipse cx="267.3" cy="242.6" rx="34.4" ry="11.0" fill="url(#rbB)" fill-opacity="0.76"/><ellipse cx="339.2" cy="242.4" rx="25.2" ry="11.0" fill="url(#rbB)" fill-opacity="0.81"/><ellipse cx="388.5" cy="242.4" rx="35.5" ry="11.0" fill="url(#rbB)" fill-opacity="0.85"/><ellipse cx="451.3" cy="242.4" rx="30.1" ry="11.0" fill="url(#rbB)" fill-opacity="0.88"/><ellipse cx="-31.6" cy="218.9" rx="28.9" ry="11.0" fill="url(#rbW)" fill-opacity="0.81"/><ellipse cx="29.7" cy="218.7" rx="25.9" ry="11.0" fill="url(#rbW)" fill-opacity="0.85"/><ellipse cx="87.2" cy="220.6" rx="33.0" ry="11.0" fill="url(#rbW)" fill-opacity="0.82"/><ellipse cx="127.4" cy="219.9" rx="31.7" ry="11.0" fill="url(#rbW)" fill-opacity="0.78"/><ellipse cx="187.6" cy="220.5" rx="34.6" ry="11.0" fill="url(#rbW)" fill-opacity="0.73"/><ellipse cx="250.0" cy="219.5" rx="30.5" ry="11.0" fill="url(#rbW)" fill-opacity="0.90"/><ellipse cx="311.9" cy="220.4" rx="34.5" ry="11.0" fill="url(#rbW)" fill-opacity="0.71"/><ellipse cx="369.1" cy="219.1" rx="31.5" ry="11.0" fill="url(#rbW)" fill-opacity="0.78"/><ellipse cx="436.9" cy="220.6" rx="25.9" ry="11.0" fill="url(#rbW)" fill-opacity="0.88"/><ellipse cx="503.7" cy="220.1" rx="29.2" ry="11.0" fill="url(#rbW)" fill-opacity="0.87"/><ellipse cx="-13.6" cy="196.0" rx="34.9" ry="11.0" fill="url(#rbB)" fill-opacity="0.84"/><ellipse cx="39.4" cy="196.7" rx="24.5" ry="11.0" fill="url(#rbB)" fill-opacity="0.77"/><ellipse cx="104.9" cy="196.5" rx="33.3" ry="11.0" fill="url(#rbB)" fill-opacity="0.76"/><ellipse cx="161.2" cy="196.5" rx="36.1" ry="11.0" fill="url(#rbB)" fill-opacity="0.89"/><ellipse cx="217.2" cy="197.1" rx="30.9" ry="11.0" fill="url(#rbB)" fill-opacity="0.88"/><ellipse cx="284.6" cy="196.4" rx="31.3" ry="11.0" fill="url(#rbB)" fill-opacity="0.89"/><ellipse cx="340.8" cy="195.6" rx="27.9" ry="11.0" fill="url(#rbB)" fill-opacity="0.83"/><ellipse cx="394.4" cy="196.8" rx="28.4" ry="11.0" fill="url(#rbB)" fill-opacity="0.80"/><ellipse cx="452.9" cy="196.4" rx="28.9" ry="11.0" fill="url(#rbB)" fill-opacity="0.76"/><ellipse cx="-54.1" cy="173.0" rx="37.8" ry="11.0" fill="url(#rbW)" fill-opacity="0.86"/><ellipse cx="5.4" cy="172.8" rx="33.8" ry="11.0" fill="url(#rbW)" fill-opacity="0.85"/><ellipse cx="70.2" cy="172.4" rx="36.2" ry="11.0" fill="url(#rbW)" fill-opacity="0.82"/><ellipse cx="134.3" cy="173.4" rx="30.5" ry="11.0" fill="url(#rbW)" fill-opacity="0.87"/><ellipse cx="188.4" cy="172.5" rx="28.7" ry="11.0" fill="url(#rbW)" fill-opacity="0.76"/><ellipse cx="253.5" cy="173.1" rx="30.2" ry="11.0" fill="url(#rbW)" fill-opacity="0.86"/><ellipse cx="307.6" cy="172.0" rx="28.8" ry="11.0" fill="url(#rbW)" fill-opacity="0.86"/><ellipse cx="380.7" cy="171.7" rx="27.7" ry="11.0" fill="url(#rbW)" fill-opacity="0.86"/><ellipse cx="427.9" cy="172.7" rx="34.4" ry="11.0" fill="url(#rbW)" fill-opacity="0.73"/><ellipse cx="500.8" cy="172.0" rx="27.0" ry="11.0" fill="url(#rbW)" fill-opacity="0.75"/><ellipse cx="-46.1" cy="148.7" rx="33.3" ry="11.0" fill="url(#rbB)" fill-opacity="0.85"/><ellipse cx="31.0" cy="148.4" rx="33.7" ry="11.0" fill="url(#rbB)" fill-opacity="0.86"/><ellipse cx="100.9" cy="148.9" rx="38.0" ry="11.0" fill="url(#rbB)" fill-opacity="0.86"/><ellipse cx="164.9" cy="148.5" rx="40.9" ry="11.0" fill="url(#rbB)" fill-opacity="0.77"/><ellipse cx="223.4" cy="148.9" rx="33.9" ry="11.0" fill="url(#rbB)" fill-opacity="0.85"/><ellipse cx="291.2" cy="148.9" rx="29.5" ry="11.0" fill="url(#rbB)" fill-opacity="0.79"/><ellipse cx="354.8" cy="149.5" rx="37.0" ry="11.0" fill="url(#rbB)" fill-opacity="0.70"/><ellipse cx="424.1" cy="149.7" rx="29.7" ry="11.0" fill="url(#rbB)" fill-opacity="0.73"/><ellipse cx="492.4" cy="148.5" rx="29.1" ry="11.0" fill="url(#rbB)" fill-opacity="0.77"/><ellipse cx="-33.9" cy="125.9" rx="37.1" ry="11.0" fill="url(#rbW)" fill-opacity="0.89"/><ellipse cx="32.3" cy="124.7" rx="33.8" ry="11.0" fill="url(#rbW)" fill-opacity="0.71"/><ellipse cx="95.1" cy="125.3" rx="37.1" ry="11.0" fill="url(#rbW)" fill-opacity="0.82"/><ellipse cx="156.9" cy="126.0" rx="41.7" ry="11.0" fill="url(#rbW)" fill-opacity="0.87"/><ellipse cx="226.1" cy="125.2" rx="36.0" ry="11.0" fill="url(#rbW)" fill-opacity="0.71"/><ellipse cx="296.7" cy="125.9" rx="37.2" ry="11.0" fill="url(#rbW)" fill-opacity="0.69"/><ellipse cx="358.6" cy="126.1" rx="33.0" ry="11.0" fill="url(#rbW)" fill-opacity="0.88"/><ellipse cx="424.5" cy="124.9" rx="40.8" ry="11.0" fill="url(#rbW)" fill-opacity="0.72"/><ellipse cx="492.8" cy="124.5" rx="29.9" ry="11.0" fill="url(#rbW)" fill-opacity="0.69"/><ellipse cx="-12.3" cy="101.5" rx="33.4" ry="11.0" fill="url(#rbB)" fill-opacity="0.75"/><ellipse cx="67.6" cy="101.7" rx="42.3" ry="11.0" fill="url(#rbB)" fill-opacity="0.88"/><ellipse cx="132.6" cy="101.4" rx="44.7" ry="11.0" fill="url(#rbB)" fill-opacity="0.70"/><ellipse cx="206.8" cy="102.1" rx="35.2" ry="11.0" fill="url(#rbB)" fill-opacity="0.79"/><ellipse cx="280.6" cy="101.4" rx="37.5" ry="11.0" fill="url(#rbB)" fill-opacity="0.75"/><ellipse cx="356.6" cy="102.6" rx="31.2" ry="11.0" fill="url(#rbB)" fill-opacity="0.79"/><ellipse cx="424.5" cy="101.1" rx="38.1" ry="11.0" fill="url(#rbB)" fill-opacity="0.75"/><ellipse cx="488.2" cy="101.9" rx="33.7" ry="11.0" fill="url(#rbB)" fill-opacity="0.88"/><ellipse cx="-74.4" cy="77.3" rx="44.8" ry="11.0" fill="url(#rbW)" fill-opacity="0.73"/><ellipse cx="9.9" cy="77.6" rx="40.3" ry="11.0" fill="url(#rbW)" fill-opacity="0.76"/><ellipse cx="77.2" cy="78.2" rx="36.2" ry="11.0" fill="url(#rbW)" fill-opacity="0.81"/><ellipse cx="165.3" cy="79.0" rx="42.2" ry="11.0" fill="url(#rbW)" fill-opacity="0.69"/><ellipse cx="237.0" cy="79.0" rx="37.1" ry="11.0" fill="url(#rbW)" fill-opacity="0.90"/><ellipse cx="325.0" cy="77.3" rx="44.7" ry="11.0" fill="url(#rbW)" fill-opacity="0.73"/><ellipse cx="397.2" cy="78.4" rx="35.9" ry="11.0" fill="url(#rbW)" fill-opacity="0.80"/><ellipse cx="476.7" cy="77.4" rx="40.9" ry="11.0" fill="url(#rbW)" fill-opacity="0.86"/><ellipse cx="-55.0" cy="54.3" rx="47.4" ry="11.0" fill="url(#rbB)" fill-opacity="0.69"/><ellipse cx="23.5" cy="54.0" rx="47.4" ry="11.0" fill="url(#rbB)" fill-opacity="0.75"/><ellipse cx="111.4" cy="54.1" rx="34.7" ry="11.0" fill="url(#rbB)" fill-opacity="0.78"/><ellipse cx="181.5" cy="53.9" rx="39.9" ry="11.0" fill="url(#rbB)" fill-opacity="0.72"/><ellipse cx="259.1" cy="55.2" rx="41.0" ry="11.0" fill="url(#rbB)" fill-opacity="0.71"/><ellipse cx="337.9" cy="54.5" rx="47.8" ry="11.0" fill="url(#rbB)" fill-opacity="0.82"/><ellipse cx="418.4" cy="53.6" rx="34.6" ry="11.0" fill="url(#rbB)" fill-opacity="0.73"/><ellipse cx="481.1" cy="53.9" rx="43.9" ry="11.0" fill="url(#rbB)" fill-opacity="0.89"/><ellipse cx="-32.0" cy="30.1" rx="39.3" ry="11.0" fill="url(#rbW)" fill-opacity="0.81"/><ellipse cx="52.7" cy="30.8" rx="36.6" ry="11.0" fill="url(#rbW)" fill-opacity="0.73"/><ellipse cx="146.1" cy="31.8" rx="50.9" ry="11.0" fill="url(#rbW)" fill-opacity="0.78"/><ellipse cx="226.0" cy="30.2" rx="45.0" ry="11.0" fill="url(#rbW)" fill-opacity="0.85"/><ellipse cx="322.3" cy="31.1" rx="42.8" ry="11.0" fill="url(#rbW)" fill-opacity="0.81"/><ellipse cx="396.3" cy="30.6" rx="36.1" ry="11.0" fill="url(#rbW)" fill-opacity="0.78"/><ellipse cx="485.8" cy="30.5" rx="44.6" ry="11.0" fill="url(#rbW)" fill-opacity="0.80"/><ellipse cx="-15.2" cy="8.0" rx="39.1" ry="14.0" fill="url(#rbB)" fill-opacity="0.95"/><ellipse cx="73.9" cy="6.7" rx="47.3" ry="14.0" fill="url(#rbB)" fill-opacity="0.94"/><ellipse cx="151.5" cy="8.3" rx="48.7" ry="14.0" fill="url(#rbB)" fill-opacity="0.95"/><ellipse cx="242.2" cy="7.2" rx="40.4" ry="14.0" fill="url(#rbB)" fill-opacity="0.95"/><ellipse cx="338.5" cy="8.3" rx="49.3" ry="14.0" fill="url(#rbB)" fill-opacity="0.89"/><ellipse cx="411.7" cy="7.6" rx="38.4" ry="14.0" fill="url(#rbB)" fill-opacity="0.95"/><ellipse cx="505.6" cy="7.9" rx="43.1" ry="14.0" fill="url(#rbB)" fill-opacity="0.95"/>
<rect width="481.80" height="361.10" fill="url(#gEnv)" mask="url(#mEnv)"/>
<rect width="481.80" height="16" fill="url(#gTop)"/>
<rect y="347.10" width="481.80" height="14" fill="url(#gBot)"/>
<ellipse cx="240.90" cy="324.22" rx="36" ry="11" fill="url(#rbW)" fill-opacity="0.70"/>
<circle cx="211.32" cy="331.64" r="2.3" fill="#000" fill-opacity="0.9"/>
<circle cx="230.25" cy="327.79" r="2.3" fill="#000" fill-opacity="0.9"/>
<circle cx="249.55" cy="327.79" r="2.3" fill="#000" fill-opacity="0.9"/>
<circle cx="268.48" cy="331.64" r="2.3" fill="#000" fill-opacity="0.9"/>
<ellipse cx="481.80" cy="0" rx="70" ry="60" fill="url(#rCorner)"/>
<ellipse cx="0" cy="0" rx="70" ry="60" fill="url(#rCorner)"/>
</g></g>
<path d="M120.53,361.10 L124.55,361.01 L128.56,360.74 L132.57,360.30 L136.58,359.68 L140.59,358.90 L144.61,357.96 L148.62,356.88 L152.63,355.66 L156.64,354.32 L160.66,352.88 L164.67,351.35 L168.68,349.74 L172.69,348.08 L176.70,346.38 L180.72,344.66 L184.73,342.94 L188.74,341.24 L192.75,339.58 L196.77,337.98 L200.78,336.44 L204.79,335.00 L208.80,333.66 L212.81,332.45 L216.83,331.36 L220.84,330.43 L224.85,329.64 L228.86,329.03 L232.88,328.58 L236.89,328.31 L240.90,328.22 L244.91,328.31 L248.92,328.58 L252.94,329.03 L256.95,329.64 L260.96,330.43 L264.97,331.36 L268.99,332.45 L273.00,333.66 L277.01,335.00 L281.02,336.44 L285.03,337.98 L289.05,339.58 L293.06,341.24 L297.07,342.94 L301.08,344.66 L305.10,346.38 L309.11,348.08 L313.12,349.74 L317.13,351.35 L321.14,352.88 L325.16,354.32 L329.17,355.66 L333.18,356.88 L337.19,357.96 L341.21,358.90 L345.22,359.68 L349.23,360.30 L353.24,360.74 L357.25,361.01 L361.27,361.10 L361.27,372.40 L357.25,372.31 L353.24,372.04 L349.23,371.60 L345.22,370.98 L341.21,370.20 L337.19,369.26 L333.18,368.18 L329.17,366.96 L325.16,365.62 L321.14,364.18 L317.13,362.65 L313.12,361.04 L309.11,359.38 L305.10,357.68 L301.08,355.96 L297.07,354.24 L293.06,352.54 L289.05,350.88 L285.03,349.28 L281.02,347.74 L277.01,346.30 L273.00,344.96 L268.99,343.75 L264.97,342.66 L260.96,341.73 L256.95,340.94 L252.94,340.33 L248.92,339.88 L244.91,339.61 L240.90,339.52 L236.89,339.61 L232.88,339.88 L228.86,340.33 L224.85,340.94 L220.84,341.73 L216.83,342.66 L212.81,343.75 L208.80,344.96 L204.79,346.30 L200.78,347.74 L196.77,349.28 L192.75,350.88 L188.74,352.54 L184.73,354.24 L180.72,355.96 L176.70,357.68 L172.69,359.38 L168.68,361.04 L164.67,362.65 L160.66,364.18 L156.64,365.62 L152.63,366.96 L148.62,368.18 L144.61,369.26 L140.59,370.20 L136.58,370.98 L132.57,371.60 L128.56,372.04 L124.55,372.31 L120.53,372.40Z" fill="#fff"/>
<path d="M120.53,372.40 L124.55,372.31 L128.56,372.04 L132.57,371.60 L136.58,370.98 L140.59,370.20 L144.61,369.26 L148.62,368.18 L152.63,366.96 L156.64,365.62 L160.66,364.18 L164.67,362.65 L168.68,361.04 L172.69,359.38 L176.70,357.68 L180.72,355.96 L184.73,354.24 L188.74,352.54 L192.75,350.88 L196.77,349.28 L200.78,347.74 L204.79,346.30 L208.80,344.96 L212.81,343.75 L216.83,342.66 L220.84,341.73 L224.85,340.94 L228.86,340.33 L232.88,339.88 L236.89,339.61 L240.90,339.52 L244.91,339.61 L248.92,339.88 L252.94,340.33 L256.95,340.94 L260.96,341.73 L264.97,342.66 L268.99,343.75 L273.00,344.96 L277.01,346.30 L281.02,347.74 L285.03,349.28 L289.05,350.88 L293.06,352.54 L297.07,354.24 L301.08,355.96 L305.10,357.68 L309.11,359.38 L313.12,361.04 L317.13,362.65 L321.14,364.18 L325.16,365.62 L329.17,366.96 L333.18,368.18 L337.19,369.26 L341.21,370.20 L345.22,370.98 L349.23,371.60 L353.24,372.04 L357.25,372.31 L361.27,372.40Z" fill="#80ff80" stroke="#4a8a4a" stroke-width="0.9"/>
<path d="M115.03,361.10V372.40M366.77,361.10V372.40" stroke="#9a9a9a" stroke-width="1"/>
<circle cx="120.53" cy="366.75" r="3.75" fill="#fff" stroke="#3a4d40" stroke-width="2.1"/>
<circle cx="139.74" cy="364.73" r="3.75" fill="#fff" stroke="#3a4d40" stroke-width="2.1"/>
<circle cx="158.31" cy="359.39" r="3.75" fill="#fff" stroke="#3a4d40" stroke-width="2.1"/>
<circle cx="176.27" cy="352.21" r="3.75" fill="#fff" stroke="#3a4d40" stroke-width="2.1"/>
<circle cx="194.09" cy="344.69" r="3.75" fill="#fff" stroke="#3a4d40" stroke-width="2.1"/>
<circle cx="212.32" cy="338.24" r="3.75" fill="#fff" stroke="#3a4d40" stroke-width="2.1"/>
<circle cx="231.25" cy="334.39" r="3.75" fill="#fff" stroke="#3a4d40" stroke-width="2.1"/>
<circle cx="250.55" cy="334.39" r="3.75" fill="#fff" stroke="#3a4d40" stroke-width="2.1"/>
<circle cx="269.48" cy="338.24" r="3.75" fill="#fff" stroke="#3a4d40" stroke-width="2.1"/>
<circle cx="287.71" cy="344.69" r="3.75" fill="#fff" stroke="#3a4d40" stroke-width="2.1"/>
<circle cx="305.53" cy="352.21" r="3.75" fill="#fff" stroke="#3a4d40" stroke-width="2.1"/>
<circle cx="323.49" cy="359.39" r="3.75" fill="#fff" stroke="#3a4d40" stroke-width="2.1"/>
<circle cx="342.06" cy="364.73" r="3.75" fill="#fff" stroke="#3a4d40" stroke-width="2.1"/>
<circle cx="361.27" cy="366.75" r="3.75" fill="#fff" stroke="#3a4d40" stroke-width="2.1"/>
<line x1="34.56" y1="85.98" x2="447.24" y2="85.98" stroke="#fff" stroke-width="7" stroke-dasharray="27 12.85"/>
<rect x="0" y="0" width="60.3" height="52" fill="#fff"/>
<text x="7.3" y="38" font-size="39.7" font-weight="bold">(f)</text>
<rect x="0" y="0" width="481.80" height="372.40" fill="none" stroke="#404040" stroke-width="1.7"/>
<path d="M-16.00,361.10h16M-8.00,300.92h8M-16.00,240.73h16M-8.00,180.55h8M-16.00,120.37h16M-8.00,60.18h8M-16.00,0.00h16M0.17,372.40v16M60.35,372.40v8M120.53,372.40v16M180.72,372.40v8M240.90,372.40v16M301.08,372.40v8M361.27,372.40v16M421.45,372.40v8M481.63,372.40v16" stroke="#404040" stroke-width="1.7" fill="none"/>
<text x="-20.8" y="371.40" font-size="31.2" font-weight="bold" text-anchor="end">0.00</text>
<text x="-20.8" y="251.03" font-size="31.2" font-weight="bold" text-anchor="end">0.35</text>
<text x="-20.8" y="130.67" font-size="31.2" font-weight="bold" text-anchor="end">0.70</text>
<text x="-20.8" y="10.30" font-size="31.2" font-weight="bold" text-anchor="end">1.05</text>
<text x="0.17" y="413.60" font-size="31.2" font-weight="bold" text-anchor="middle">-0.70</text>
<text x="120.53" y="413.60" font-size="31.2" font-weight="bold" text-anchor="middle">-0.35</text>
<text x="240.90" y="413.60" font-size="31.2" font-weight="bold" text-anchor="middle">0.00</text>
<text x="361.27" y="413.60" font-size="31.2" font-weight="bold" text-anchor="middle">0.35</text>
<text x="481.63" y="413.60" font-size="31.2" font-weight="bold" text-anchor="middle">0.70</text>
<text x="240.90" y="-27.10" font-size="34" text-anchor="middle"><tspan>N</tspan><tspan font-weight="bold"> = 14</tspan></text>
</g>
<rect x="1778.2" y="542.10" width="16.8" height="364.50" fill="url(#gJet)" stroke="#444" stroke-width="0.6"/>
<path d="M1778.2,578.55h3M1795,578.55h-3M1778.2,615.00h3M1795,615.00h-3M1778.2,651.45h3M1795,651.45h-3M1778.2,687.90h3M1795,687.90h-3M1778.2,724.35h3M1795,724.35h-3M1778.2,760.80h3M1795,760.80h-3M1778.2,797.25h3M1795,797.25h-3M1778.2,833.70h3M1795,833.70h-3M1778.2,870.15h3M1795,870.15h-3" stroke="#333" stroke-width="1"/>
<text x="1826" y="555.10" font-size="39" font-weight="bold" text-anchor="middle">1</text>
<text x="1825" y="917.60" font-size="40" font-weight="bold" text-anchor="middle">-1</text>
<text transform="translate(1837,724.35) rotate(-90)" font-size="38" font-weight="bold" text-anchor="middle">P<tspan font-size="26" dy="8">r</tspan><tspan dy="-8"> / |P</tspan><tspan font-size="26" dy="8">i</tspan><tspan dy="-8">|</tspan></text>
<text transform="translate(33,239.00) rotate(-90)" font-size="40" font-weight="bold" text-anchor="middle"><tspan font-style="italic">-z</tspan> (m)</text>
<text transform="translate(33,725.50) rotate(-90)" font-size="40" font-weight="bold" text-anchor="middle"><tspan font-style="italic">-z</tspan> (m)</text>
<text x="371.90" y="1004.3" font-size="39.5" font-weight="bold" text-anchor="middle"><tspan font-style="italic">x</tspan> (m)</text>
<text x="938.70" y="1004.3" font-size="39.5" font-weight="bold" text-anchor="middle"><tspan font-style="italic">x</tspan> (m)</text>
<text x="1505.60" y="1004.3" font-size="39.5" font-weight="bold" text-anchor="middle"><tspan font-style="italic">x</tspan> (m)</text>
<text x="66.5" y="1053.3" font-size="39.5" font-weight="bold">(g)</text>
<path d="M201.20,1192.30 L206.21,1192.26 L211.23,1192.13 L216.24,1191.93 L221.26,1191.64 L226.27,1191.27 L231.29,1190.81 L236.30,1190.28 L241.31,1189.67 L246.33,1188.98 L251.34,1188.21 L256.36,1187.36 L261.37,1186.44 L266.39,1185.45 L271.40,1184.38 L276.42,1183.24 L281.43,1182.03 L286.44,1180.76 L291.46,1179.42 L296.47,1178.02 L301.49,1176.56 L306.50,1175.04 L311.52,1173.46 L316.53,1171.83 L321.54,1170.14 L326.56,1168.41 L331.57,1166.63 L336.59,1164.81 L341.60,1162.95 L346.62,1161.05 L351.63,1159.12 L356.65,1157.15 L361.66,1155.16 L366.67,1153.14 L371.69,1151.10 L376.70,1149.04 L381.72,1146.96 L386.73,1144.87 L391.75,1142.77 L396.76,1140.66 L401.77,1138.55 L406.79,1136.44 L411.80,1134.33 L416.82,1132.23 L421.83,1130.14 L426.85,1128.06 L431.86,1126.00 L436.88,1123.96 L441.89,1121.94 L446.90,1119.95 L451.92,1117.98 L456.93,1116.05 L461.95,1114.15 L466.96,1112.29 L471.98,1110.47 L476.99,1108.69 L482.00,1106.96 L487.02,1105.27 L492.03,1103.64 L497.05,1102.06 L502.06,1100.54 L507.08,1099.08 L512.09,1097.68 L517.11,1096.34 L522.12,1095.07 L527.13,1093.86 L532.15,1092.72 L537.16,1091.65 L542.18,1090.66 L547.19,1089.74 L552.21,1088.89 L557.22,1088.12 L562.23,1087.43 L567.25,1086.82 L572.26,1086.29 L577.28,1085.83 L582.29,1085.46 L587.31,1085.17 L592.32,1084.97 L597.34,1084.84 L602.35,1084.80 L607.36,1084.84 L612.38,1084.97 L617.39,1085.17 L622.41,1085.46 L627.42,1085.83 L632.44,1086.29 L637.45,1086.82 L642.46,1087.43 L647.48,1088.12 L652.49,1088.89 L657.51,1089.74 L662.52,1090.66 L667.54,1091.65 L672.55,1092.72 L677.57,1093.86 L682.58,1095.07 L687.59,1096.34 L692.61,1097.68 L697.62,1099.08 L702.64,1100.54 L707.65,1102.06 L712.67,1103.64 L717.68,1105.27 L722.69,1106.96 L727.71,1108.69 L732.72,1110.47 L737.74,1112.29 L742.75,1114.15 L747.77,1116.05 L752.78,1117.98 L757.80,1119.95 L762.81,1121.94 L767.82,1123.96 L772.84,1126.00 L777.85,1128.06 L782.87,1130.14 L787.88,1132.23 L792.90,1134.33 L797.91,1136.44 L802.92,1138.55 L807.94,1140.66 L812.95,1142.77 L817.97,1144.87 L822.98,1146.96 L828.00,1149.04 L833.01,1151.10 L838.03,1153.14 L843.04,1155.16 L848.05,1157.15 L853.07,1159.12 L858.08,1161.05 L863.10,1162.95 L868.11,1164.81 L873.13,1166.63 L878.14,1168.41 L883.15,1170.14 L888.17,1171.83 L893.18,1173.46 L898.20,1175.04 L903.21,1176.56 L908.23,1178.02 L913.24,1179.42 L918.26,1180.76 L923.27,1182.03 L928.28,1183.24 L933.30,1184.38 L938.31,1185.45 L943.33,1186.44 L948.34,1187.36 L953.36,1188.21 L958.37,1188.98 L963.38,1189.67 L968.40,1190.28 L973.41,1190.81 L978.43,1191.27 L983.44,1191.64 L988.46,1191.93 L993.47,1192.13 L998.49,1192.26 L1003.50,1192.30 L1003.50,1227.10 L997.91,1227.05 L992.32,1226.92 L986.74,1226.68 L981.16,1226.36 L975.58,1225.95 L970.01,1225.45 L964.45,1224.86 L958.90,1224.18 L953.35,1223.41 L947.82,1222.57 L942.30,1221.63 L936.80,1220.62 L931.30,1219.53 L925.82,1218.37 L920.36,1217.13 L914.91,1215.82 L909.48,1214.44 L904.06,1212.99 L898.67,1211.48 L893.28,1209.91 L887.92,1208.28 L882.57,1206.60 L877.25,1204.87 L871.94,1203.09 L866.64,1201.26 L861.37,1199.39 L856.11,1197.48 L850.88,1195.54 L845.66,1193.56 L840.46,1191.55 L835.27,1189.52 L830.11,1187.47 L824.96,1185.39 L819.83,1183.30 L814.72,1181.20 L809.62,1179.09 L804.55,1176.98 L799.49,1174.86 L794.45,1172.74 L789.42,1170.62 L784.42,1168.52 L779.43,1166.42 L774.46,1164.34 L769.51,1162.28 L764.57,1160.23 L759.66,1158.21 L754.76,1156.21 L749.88,1154.25 L745.01,1152.31 L740.17,1150.41 L735.34,1148.55 L730.53,1146.73 L725.74,1144.95 L720.97,1143.22 L716.21,1141.53 L711.48,1139.90 L706.76,1138.32 L702.06,1136.79 L697.37,1135.31 L692.71,1133.90 L688.06,1132.54 L683.43,1131.25 L678.82,1130.01 L674.22,1128.85 L669.64,1127.74 L665.08,1126.71 L660.53,1125.74 L655.99,1124.84 L651.47,1124.01 L646.96,1123.25 L642.46,1122.56 L637.98,1121.94 L633.50,1121.39 L629.03,1120.92 L624.57,1120.52 L620.12,1120.19 L615.67,1119.93 L611.23,1119.75 L606.79,1119.64 L602.35,1119.60 L597.91,1119.64 L593.47,1119.75 L589.03,1119.93 L584.58,1120.19 L580.13,1120.52 L575.67,1120.92 L571.20,1121.39 L566.72,1121.94 L562.24,1122.56 L557.74,1123.25 L553.23,1124.01 L548.71,1124.84 L544.17,1125.74 L539.62,1126.71 L535.06,1127.74 L530.48,1128.85 L525.88,1130.01 L521.27,1131.25 L516.64,1132.54 L511.99,1133.90 L507.33,1135.31 L502.64,1136.79 L497.94,1138.32 L493.22,1139.90 L488.49,1141.53 L483.73,1143.22 L478.96,1144.95 L474.17,1146.73 L469.36,1148.55 L464.53,1150.41 L459.69,1152.31 L454.82,1154.25 L449.94,1156.21 L445.04,1158.21 L440.13,1160.23 L435.19,1162.28 L430.24,1164.34 L425.27,1166.42 L420.28,1168.52 L415.28,1170.62 L410.25,1172.74 L405.21,1174.86 L400.15,1176.98 L395.08,1179.09 L389.98,1181.20 L384.87,1183.30 L379.74,1185.39 L374.59,1187.47 L369.43,1189.52 L364.24,1191.55 L359.04,1193.56 L353.82,1195.54 L348.59,1197.48 L343.33,1199.39 L338.06,1201.26 L332.76,1203.09 L327.45,1204.87 L322.13,1206.60 L316.78,1208.28 L311.42,1209.91 L306.03,1211.48 L300.64,1212.99 L295.22,1214.44 L289.79,1215.82 L284.34,1217.13 L278.88,1218.37 L273.40,1219.53 L267.90,1220.62 L262.40,1221.63 L256.88,1222.57 L251.35,1223.41 L245.80,1224.18 L240.25,1224.86 L234.69,1225.45 L229.12,1225.95 L223.54,1226.36 L217.96,1226.68 L212.38,1226.92 L206.79,1227.05 L201.20,1227.10Z" fill="#b4b2f5" stroke="#1414e6" stroke-width="2.2" stroke-linejoin="round"/>
<g transform="translate(218.62,1209.22) rotate(-3.30)">
<g transform="rotate(-18)"><rect x="-2.2" y="-19.5" width="4.4" height="8" fill="#fff"/>
<path d="M-2.2,-18V-13.2M2.2,-18V-13.2" stroke="#1414e6" stroke-width="1.8"/></g>
<circle r="14.7" fill="#fff" stroke="#1414e6" stroke-width="1.9"/>
<circle r="10.6" fill="#b4b2f5" stroke="#1414e6" stroke-width="1.9"/>
<g transform="rotate(-18)"><rect x="-1.4" y="-15.2" width="2.8" height="5.2" fill="#fff"/></g>
<g transform="rotate(113.7)"><rect x="-1.3" y="-13.6" width="2.6" height="3.4" fill="#1414e6"/></g>
</g>
<g transform="translate(253.27,1205.52) rotate(-8.72)">
<g transform="rotate(-18)"><rect x="-2.2" y="-19.5" width="4.4" height="8" fill="#fff"/>
<path d="M-2.2,-18V-13.2M2.2,-18V-13.2" stroke="#1414e6" stroke-width="1.8"/></g>
<circle r="14.7" fill="#fff" stroke="#1414e6" stroke-width="1.9"/>
<circle r="10.6" fill="#b4b2f5" stroke="#1414e6" stroke-width="1.9"/>
<g transform="rotate(-18)"><rect x="-1.4" y="-15.2" width="2.8" height="5.2" fill="#fff"/></g>
<g transform="rotate(132.3)"><rect x="-1.3" y="-13.6" width="2.6" height="3.4" fill="#1414e6"/></g>
</g>
<g transform="translate(287.41,1198.47) rotate(-14.25)">
<g transform="rotate(-18)"><rect x="-2.2" y="-19.5" width="4.4" height="8" fill="#fff"/>
<path d="M-2.2,-18V-13.2M2.2,-18V-13.2" stroke="#1414e6" stroke-width="1.8"/></g>
<circle r="14.7" fill="#fff" stroke="#1414e6" stroke-width="1.9"/>
<circle r="10.6" fill="#b4b2f5" stroke="#1414e6" stroke-width="1.9"/>
<g transform="rotate(-18)"><rect x="-1.4" y="-15.2" width="2.8" height="5.2" fill="#fff"/></g>
<g transform="rotate(151.2)"><rect x="-1.3" y="-13.6" width="2.6" height="3.4" fill="#1414e6"/></g>
</g>
<g transform="translate(320.87,1188.71) rotate(-18.02)">
<g transform="rotate(-18)"><rect x="-2.2" y="-19.5" width="4.4" height="8" fill="#fff"/>
<path d="M-2.2,-18V-13.2M2.2,-18V-13.2" stroke="#1414e6" stroke-width="1.8"/></g>
<circle r="14.7" fill="#fff" stroke="#1414e6" stroke-width="1.9"/>
<circle r="10.6" fill="#b4b2f5" stroke="#1414e6" stroke-width="1.9"/>
<g transform="rotate(-18)"><rect x="-1.4" y="-15.2" width="2.8" height="5.2" fill="#fff"/></g>
<g transform="rotate(147.3)"><rect x="-1.3" y="-13.6" width="2.6" height="3.4" fill="#1414e6"/></g>
</g>
<g transform="translate(353.69,1176.97) rotate(-21.09)">
<g transform="rotate(-18)"><rect x="-2.2" y="-19.5" width="4.4" height="8" fill="#fff"/>
<path d="M-2.2,-18V-13.2M2.2,-18V-13.2" stroke="#1414e6" stroke-width="1.8"/></g>
<circle r="14.7" fill="#fff" stroke="#1414e6" stroke-width="1.9"/>
<circle r="10.6" fill="#b4b2f5" stroke="#1414e6" stroke-width="1.9"/>
<g transform="rotate(-18)"><rect x="-1.4" y="-15.2" width="2.8" height="5.2" fill="#fff"/></g>
<g transform="rotate(148.9)"><rect x="-1.3" y="-13.6" width="2.6" height="3.4" fill="#1414e6"/></g>
</g>
<g transform="translate(386.05,1164.00) rotate(-22.51)">
<g transform="rotate(-18)"><rect x="-2.2" y="-19.5" width="4.4" height="8" fill="#fff"/>
<path d="M-2.2,-18V-13.2M2.2,-18V-13.2" stroke="#1414e6" stroke-width="1.8"/></g>
<circle r="14.7" fill="#fff" stroke="#1414e6" stroke-width="1.9"/>
<circle r="10.6" fill="#b4b2f5" stroke="#1414e6" stroke-width="1.9"/>
<g transform="rotate(-18)"><rect x="-1.4" y="-15.2" width="2.8" height="5.2" fill="#fff"/></g>
<g transform="rotate(131.0)"><rect x="-1.3" y="-13.6" width="2.6" height="3.4" fill="#1414e6"/></g>
</g>
<g transform="translate(418.20,1150.52) rotate(-22.79)">
<g transform="rotate(-18)"><rect x="-2.2" y="-19.5" width="4.4" height="8" fill="#fff"/>
<path d="M-2.2,-18V-13.2M2.2,-18V-13.2" stroke="#1414e6" stroke-width="1.8"/></g>
<circle r="14.7" fill="#fff" stroke="#1414e6" stroke-width="1.9"/>
<circle r="10.6" fill="#b4b2f5" stroke="#1414e6" stroke-width="1.9"/>
<g transform="rotate(-18)"><rect x="-1.4" y="-15.2" width="2.8" height="5.2" fill="#fff"/></g>
<g transform="rotate(153.0)"><rect x="-1.3" y="-13.6" width="2.6" height="3.4" fill="#1414e6"/></g>
</g>
<g transform="translate(450.45,1137.26) rotate(-21.69)">
<g transform="rotate(-18)"><rect x="-2.2" y="-19.5" width="4.4" height="8" fill="#fff"/>
<path d="M-2.2,-18V-13.2M2.2,-18V-13.2" stroke="#1414e6" stroke-width="1.8"/></g>
<circle r="14.7" fill="#fff" stroke="#1414e6" stroke-width="1.9"/>
<circle r="10.6" fill="#b4b2f5" stroke="#1414e6" stroke-width="1.9"/>
<g transform="rotate(-18)"><rect x="-1.4" y="-15.2" width="2.8" height="5.2" fill="#fff"/></g>
<g transform="rotate(137.0)"><rect x="-1.3" y="-13.6" width="2.6" height="3.4" fill="#1414e6"/></g>
</g>
<g transform="translate(483.08,1124.99) rotate(-19.05)">
<g transform="rotate(-18)"><rect x="-2.2" y="-19.5" width="4.4" height="8" fill="#fff"/>
<path d="M-2.2,-18V-13.2M2.2,-18V-13.2" stroke="#1414e6" stroke-width="1.8"/></g>
<circle r="14.7" fill="#fff" stroke="#1414e6" stroke-width="1.9"/>
<circle r="10.6" fill="#b4b2f5" stroke="#1414e6" stroke-width="1.9"/>
<g transform="rotate(-18)"><rect x="-1.4" y="-15.2" width="2.8" height="5.2" fill="#fff"/></g>
<g transform="rotate(109.8)"><rect x="-1.3" y="-13.6" width="2.6" height="3.4" fill="#1414e6"/></g>
</g>
<g transform="translate(516.34,1114.56) rotate(-15.62)">
<g transform="rotate(-18)"><rect x="-2.2" y="-19.5" width="4.4" height="8" fill="#fff"/>
<path d="M-2.2,-18V-13.2M2.2,-18V-13.2" stroke="#1414e6" stroke-width="1.8"/></g>
<circle r="14.7" fill="#fff" stroke="#1414e6" stroke-width="1.9"/>
<circle r="10.6" fill="#b4b2f5" stroke="#1414e6" stroke-width="1.9"/>
<g transform="rotate(-18)"><rect x="-1.4" y="-15.2" width="2.8" height="5.2" fill="#fff"/></g>
<g transform="rotate(132.4)"><rect x="-1.3" y="-13.6" width="2.6" height="3.4" fill="#1414e6"/></g>
</g>
<g transform="translate(550.33,1106.85) rotate(-9.57)">
<g transform="rotate(-18)"><rect x="-2.2" y="-19.5" width="4.4" height="8" fill="#fff"/>
<path d="M-2.2,-18V-13.2M2.2,-18V-13.2" stroke="#1414e6" stroke-width="1.8"/></g>
<circle r="14.7" fill="#fff" stroke="#1414e6" stroke-width="1.9"/>
<circle r="10.6" fill="#b4b2f5" stroke="#1414e6" stroke-width="1.9"/>
<g transform="rotate(-18)"><rect x="-1.4" y="-15.2" width="2.8" height="5.2" fill="#fff"/></g>
<g transform="rotate(107.9)"><rect x="-1.3" y="-13.6" width="2.6" height="3.4" fill="#1414e6"/></g>
</g>
<g transform="translate(584.93,1102.74) rotate(-3.30)">
<g transform="rotate(-18)"><rect x="-2.2" y="-19.5" width="4.4" height="8" fill="#fff"/>
<path d="M-2.2,-18V-13.2M2.2,-18V-13.2" stroke="#1414e6" stroke-width="1.8"/></g>
<circle r="14.7" fill="#fff" stroke="#1414e6" stroke-width="1.9"/>
<circle r="10.6" fill="#b4b2f5" stroke="#1414e6" stroke-width="1.9"/>
<g transform="rotate(-18)"><rect x="-1.4" y="-15.2" width="2.8" height="5.2" fill="#fff"/></g>
<g transform="rotate(161.0)"><rect x="-1.3" y="-13.6" width="2.6" height="3.4" fill="#1414e6"/></g>
</g>
<g transform="translate(619.77,1102.74) rotate(3.30)">
<g transform="rotate(-18)"><rect x="-2.2" y="-19.5" width="4.4" height="8" fill="#fff"/>
<path d="M-2.2,-18V-13.2M2.2,-18V-13.2" stroke="#1414e6" stroke-width="1.8"/></g>
<circle r="14.7" fill="#fff" stroke="#1414e6" stroke-width="1.9"/>
<circle r="10.6" fill="#b4b2f5" stroke="#1414e6" stroke-width="1.9"/>
<g transform="rotate(-18)"><rect x="-1.4" y="-15.2" width="2.8" height="5.2" fill="#fff"/></g>
<g transform="rotate(161.8)"><rect x="-1.3" y="-13.6" width="2.6" height="3.4" fill="#1414e6"/></g>
</g>
<g transform="translate(654.37,1106.85) rotate(9.57)">
<g transform="rotate(-18)"><rect x="-2.2" y="-19.5" width="4.4" height="8" fill="#fff"/>
<path d="M-2.2,-18V-13.2M2.2,-18V-13.2" stroke="#1414e6" stroke-width="1.8"/></g>
<circle r="14.7" fill="#fff" stroke="#1414e6" stroke-width="1.9"/>
<circle r="10.6" fill="#b4b2f5" stroke="#1414e6" stroke-width="1.9"/>
<g transform="rotate(-18)"><rect x="-1.4" y="-15.2" width="2.8" height="5.2" fill="#fff"/></g>
<g transform="rotate(125.1)"><rect x="-1.3" y="-13.6" width="2.6" height="3.4" fill="#1414e6"/></g>
</g>
<g transform="translate(688.36,1114.56) rotate(15.62)">
<g transform="rotate(-18)"><rect x="-2.2" y="-19.5" width="4.4" height="8" fill="#fff"/>
<path d="M-2.2,-18V-13.2M2.2,-18V-13.2" stroke="#1414e6" stroke-width="1.8"/></g>
<circle r="14.7" fill="#fff" stroke="#1414e6" stroke-width="1.9"/>
<circle r="10.6" fill="#b4b2f5" stroke="#1414e6" stroke-width="1.9"/>
<g transform="rotate(-18)"><rect x="-1.4" y="-15.2" width="2.8" height="5.2" fill="#fff"/></g>
<g transform="rotate(123.6)"><rect x="-1.3" y="-13.6" width="2.6" height="3.4" fill="#1414e6"/></g>
</g>
<g transform="translate(721.62,1124.99) rotate(19.05)">
<g transform="rotate(-18)"><rect x="-2.2" y="-19.5" width="4.4" height="8" fill="#fff"/>
<path d="M-2.2,-18V-13.2M2.2,-18V-13.2" stroke="#1414e6" stroke-width="1.8"/></g>
<circle r="14.7" fill="#fff" stroke="#1414e6" stroke-width="1.9"/>
<circle r="10.6" fill="#b4b2f5" stroke="#1414e6" stroke-width="1.9"/>
<g transform="rotate(-18)"><rect x="-1.4" y="-15.2" width="2.8" height="5.2" fill="#fff"/></g>
<g transform="rotate(151.1)"><rect x="-1.3" y="-13.6" width="2.6" height="3.4" fill="#1414e6"/></g>
</g>
<g transform="translate(754.25,1137.26) rotate(21.69)">
<g transform="rotate(-18)"><rect x="-2.2" y="-19.5" width="4.4" height="8" fill="#fff"/>
<path d="M-2.2,-18V-13.2M2.2,-18V-13.2" stroke="#1414e6" stroke-width="1.8"/></g>
<circle r="14.7" fill="#fff" stroke="#1414e6" stroke-width="1.9"/>
<circle r="10.6" fill="#b4b2f5" stroke="#1414e6" stroke-width="1.9"/>
<g transform="rotate(-18)"><rect x="-1.4" y="-15.2" width="2.8" height="5.2" fill="#fff"/></g>
<g transform="rotate(117.2)"><rect x="-1.3" y="-13.6" width="2.6" height="3.4" fill="#1414e6"/></g>
</g>
<g transform="translate(786.50,1150.52) rotate(22.79)">
<g transform="rotate(-18)"><rect x="-2.2" y="-19.5" width="4.4" height="8" fill="#fff"/>
<path d="M-2.2,-18V-13.2M2.2,-18V-13.2" stroke="#1414e6" stroke-width="1.8"/></g>
<circle r="14.7" fill="#fff" stroke="#1414e6" stroke-width="1.9"/>
<circle r="10.6" fill="#b4b2f5" stroke="#1414e6" stroke-width="1.9"/>
<g transform="rotate(-18)"><rect x="-1.4" y="-15.2" width="2.8" height="5.2" fill="#fff"/></g>
<g transform="rotate(115.7)"><rect x="-1.3" y="-13.6" width="2.6" height="3.4" fill="#1414e6"/></g>
</g>
<g transform="translate(818.65,1164.00) rotate(22.51)">
<g transform="rotate(-18)"><rect x="-2.2" y="-19.5" width="4.4" height="8" fill="#fff"/>
<path d="M-2.2,-18V-13.2M2.2,-18V-13.2" stroke="#1414e6" stroke-width="1.8"/></g>
<circle r="14.7" fill="#fff" stroke="#1414e6" stroke-width="1.9"/>
<circle r="10.6" fill="#b4b2f5" stroke="#1414e6" stroke-width="1.9"/>
<g transform="rotate(-18)"><rect x="-1.4" y="-15.2" width="2.8" height="5.2" fill="#fff"/></g>
<g transform="rotate(116.3)"><rect x="-1.3" y="-13.6" width="2.6" height="3.4" fill="#1414e6"/></g>
</g>
<g transform="translate(851.01,1176.97) rotate(21.09)">
<g transform="rotate(-18)"><rect x="-2.2" y="-19.5" width="4.4" height="8" fill="#fff"/>
<path d="M-2.2,-18V-13.2M2.2,-18V-13.2" stroke="#1414e6" stroke-width="1.8"/></g>
<circle r="14.7" fill="#fff" stroke="#1414e6" stroke-width="1.9"/>
<circle r="10.6" fill="#b4b2f5" stroke="#1414e6" stroke-width="1.9"/>
<g transform="rotate(-18)"><rect x="-1.4" y="-15.2" width="2.8" height="5.2" fill="#fff"/></g>
<g transform="rotate(125.8)"><rect x="-1.3" y="-13.6" width="2.6" height="3.4" fill="#1414e6"/></g>
</g>
<g transform="translate(883.83,1188.71) rotate(18.02)">
<g transform="rotate(-18)"><rect x="-2.2" y="-19.5" width="4.4" height="8" fill="#fff"/>
<path d="M-2.2,-18V-13.2M2.2,-18V-13.2" stroke="#1414e6" stroke-width="1.8"/></g>
<circle r="14.7" fill="#fff" stroke="#1414e6" stroke-width="1.9"/>
<circle r="10.6" fill="#b4b2f5" stroke="#1414e6" stroke-width="1.9"/>
<g transform="rotate(-18)"><rect x="-1.4" y="-15.2" width="2.8" height="5.2" fill="#fff"/></g>
<g transform="rotate(142.6)"><rect x="-1.3" y="-13.6" width="2.6" height="3.4" fill="#1414e6"/></g>
</g>
<g transform="translate(917.29,1198.47) rotate(14.25)">
<g transform="rotate(-18)"><rect x="-2.2" y="-19.5" width="4.4" height="8" fill="#fff"/>
<path d="M-2.2,-18V-13.2M2.2,-18V-13.2" stroke="#1414e6" stroke-width="1.8"/></g>
<circle r="14.7" fill="#fff" stroke="#1414e6" stroke-width="1.9"/>
<circle r="10.6" fill="#b4b2f5" stroke="#1414e6" stroke-width="1.9"/>
<g transform="rotate(-18)"><rect x="-1.4" y="-15.2" width="2.8" height="5.2" fill="#fff"/></g>
<g transform="rotate(162.8)"><rect x="-1.3" y="-13.6" width="2.6" height="3.4" fill="#1414e6"/></g>
</g>
<g transform="translate(951.43,1205.52) rotate(8.72)">
<g transform="rotate(-18)"><rect x="-2.2" y="-19.5" width="4.4" height="8" fill="#fff"/>
<path d="M-2.2,-18V-13.2M2.2,-18V-13.2" stroke="#1414e6" stroke-width="1.8"/></g>
<circle r="14.7" fill="#fff" stroke="#1414e6" stroke-width="1.9"/>
<circle r="10.6" fill="#b4b2f5" stroke="#1414e6" stroke-width="1.9"/>
<g transform="rotate(-18)"><rect x="-1.4" y="-15.2" width="2.8" height="5.2" fill="#fff"/></g>
<g transform="rotate(117.7)"><rect x="-1.3" y="-13.6" width="2.6" height="3.4" fill="#1414e6"/></g>
</g>
<g transform="translate(986.08,1209.22) rotate(3.30)">
<g transform="rotate(-18)"><rect x="-2.2" y="-19.5" width="4.4" height="8" fill="#fff"/>
<path d="M-2.2,-18V-13.2M2.2,-18V-13.2" stroke="#1414e6" stroke-width="1.8"/></g>
<circle r="14.7" fill="#fff" stroke="#1414e6" stroke-width="1.9"/>
<circle r="10.6" fill="#b4b2f5" stroke="#1414e6" stroke-width="1.9"/>
<g transform="rotate(-18)"><rect x="-1.4" y="-15.2" width="2.8" height="5.2" fill="#fff"/></g>
<g transform="rotate(162.4)"><rect x="-1.3" y="-13.6" width="2.6" height="3.4" fill="#1414e6"/></g>
</g>
<text x="72.5" y="1221.2" font-size="41"><tspan font-style="italic">N</tspan><tspan font-weight="bold"> = 24</tspan></text>
<path d="M201.20,1268.82 L206.21,1268.78 L211.23,1268.65 L216.24,1268.45 L221.26,1268.16 L226.27,1267.79 L231.29,1267.33 L236.30,1266.80 L241.31,1266.19 L246.33,1265.50 L251.34,1264.73 L256.36,1263.88 L261.37,1262.96 L266.39,1261.97 L271.40,1260.90 L276.42,1259.76 L281.43,1258.55 L286.44,1257.28 L291.46,1255.94 L296.47,1254.54 L301.49,1253.08 L306.50,1251.56 L311.52,1249.98 L316.53,1248.35 L321.54,1246.66 L326.56,1244.93 L331.57,1243.15 L336.59,1241.33 L341.60,1239.47 L346.62,1237.57 L351.63,1235.64 L356.65,1233.67 L361.66,1231.68 L366.67,1229.66 L371.69,1227.62 L376.70,1225.56 L381.72,1223.48 L386.73,1221.39 L391.75,1219.29 L396.76,1217.18 L401.77,1215.07 L406.79,1212.96 L411.80,1210.85 L416.82,1208.75 L421.83,1206.66 L426.85,1204.58 L431.86,1202.52 L436.88,1200.48 L441.89,1198.46 L446.90,1196.47 L451.92,1194.50 L456.93,1192.57 L461.95,1190.67 L466.96,1188.81 L471.98,1186.99 L476.99,1185.21 L482.00,1183.48 L487.02,1181.79 L492.03,1180.16 L497.05,1178.58 L502.06,1177.06 L507.08,1175.60 L512.09,1174.20 L517.11,1172.86 L522.12,1171.59 L527.13,1170.38 L532.15,1169.24 L537.16,1168.17 L542.18,1167.18 L547.19,1166.26 L552.21,1165.41 L557.22,1164.64 L562.23,1163.95 L567.25,1163.34 L572.26,1162.81 L577.28,1162.35 L582.29,1161.98 L587.31,1161.69 L592.32,1161.49 L597.34,1161.36 L602.35,1161.32 L607.36,1161.36 L612.38,1161.49 L617.39,1161.69 L622.41,1161.98 L627.42,1162.35 L632.44,1162.81 L637.45,1163.34 L642.46,1163.95 L647.48,1164.64 L652.49,1165.41 L657.51,1166.26 L662.52,1167.18 L667.54,1168.17 L672.55,1169.24 L677.57,1170.38 L682.58,1171.59 L687.59,1172.86 L692.61,1174.20 L697.62,1175.60 L702.64,1177.06 L707.65,1178.58 L712.67,1180.16 L717.68,1181.79 L722.69,1183.48 L727.71,1185.21 L732.72,1186.99 L737.74,1188.81 L742.75,1190.67 L747.77,1192.57 L752.78,1194.50 L757.80,1196.47 L762.81,1198.46 L767.82,1200.48 L772.84,1202.52 L777.85,1204.58 L782.87,1206.66 L787.88,1208.75 L792.90,1210.85 L797.91,1212.96 L802.92,1215.07 L807.94,1217.18 L812.95,1219.29 L817.97,1221.39 L822.98,1223.48 L828.00,1225.56 L833.01,1227.62 L838.03,1229.66 L843.04,1231.68 L848.05,1233.67 L853.07,1235.64 L858.08,1237.57 L863.10,1239.47 L868.11,1241.33 L873.13,1243.15 L878.14,1244.93 L883.15,1246.66 L888.17,1248.35 L893.18,1249.98 L898.20,1251.56 L903.21,1253.08 L908.23,1254.54 L913.24,1255.94 L918.26,1257.28 L923.27,1258.55 L928.28,1259.76 L933.30,1260.90 L938.31,1261.97 L943.33,1262.96 L948.34,1263.88 L953.36,1264.73 L958.37,1265.50 L963.38,1266.19 L968.40,1266.80 L973.41,1267.33 L978.43,1267.79 L983.44,1268.16 L988.46,1268.45 L993.47,1268.65 L998.49,1268.78 L1003.50,1268.82 L1003.50,1303.62 L997.91,1303.57 L992.32,1303.44 L986.74,1303.20 L981.16,1302.88 L975.58,1302.47 L970.01,1301.97 L964.45,1301.38 L958.90,1300.70 L953.35,1299.93 L947.82,1299.09 L942.30,1298.15 L936.80,1297.14 L931.30,1296.05 L925.82,1294.89 L920.36,1293.65 L914.91,1292.34 L909.48,1290.96 L904.06,1289.51 L898.67,1288.00 L893.28,1286.43 L887.92,1284.80 L882.57,1283.12 L877.25,1281.39 L871.94,1279.61 L866.64,1277.78 L861.37,1275.91 L856.11,1274.00 L850.88,1272.06 L845.66,1270.08 L840.46,1268.07 L835.27,1266.04 L830.11,1263.99 L824.96,1261.91 L819.83,1259.82 L814.72,1257.72 L809.62,1255.61 L804.55,1253.50 L799.49,1251.38 L794.45,1249.26 L789.42,1247.14 L784.42,1245.04 L779.43,1242.94 L774.46,1240.86 L769.51,1238.80 L764.57,1236.75 L759.66,1234.73 L754.76,1232.73 L749.88,1230.77 L745.01,1228.83 L740.17,1226.93 L735.34,1225.07 L730.53,1223.25 L725.74,1221.47 L720.97,1219.74 L716.21,1218.05 L711.48,1216.42 L706.76,1214.84 L702.06,1213.31 L697.37,1211.83 L692.71,1210.42 L688.06,1209.06 L683.43,1207.77 L678.82,1206.53 L674.22,1205.37 L669.64,1204.26 L665.08,1203.23 L660.53,1202.26 L655.99,1201.36 L651.47,1200.53 L646.96,1199.77 L642.46,1199.08 L637.98,1198.46 L633.50,1197.91 L629.03,1197.44 L624.57,1197.04 L620.12,1196.71 L615.67,1196.45 L611.23,1196.27 L606.79,1196.16 L602.35,1196.12 L597.91,1196.16 L593.47,1196.27 L589.03,1196.45 L584.58,1196.71 L580.13,1197.04 L575.67,1197.44 L571.20,1197.91 L566.72,1198.46 L562.24,1199.08 L557.74,1199.77 L553.23,1200.53 L548.71,1201.36 L544.17,1202.26 L539.62,1203.23 L535.06,1204.26 L530.48,1205.37 L525.88,1206.53 L521.27,1207.77 L516.64,1209.06 L511.99,1210.42 L507.33,1211.83 L502.64,1213.31 L497.94,1214.84 L493.22,1216.42 L488.49,1218.05 L483.73,1219.74 L478.96,1221.47 L474.17,1223.25 L469.36,1225.07 L464.53,1226.93 L459.69,1228.83 L454.82,1230.77 L449.94,1232.73 L445.04,1234.73 L440.13,1236.75 L435.19,1238.80 L430.24,1240.86 L425.27,1242.94 L420.28,1245.04 L415.28,1247.14 L410.25,1249.26 L405.21,1251.38 L400.15,1253.50 L395.08,1255.61 L389.98,1257.72 L384.87,1259.82 L379.74,1261.91 L374.59,1263.99 L369.43,1266.04 L364.24,1268.07 L359.04,1270.08 L353.82,1272.06 L348.59,1274.00 L343.33,1275.91 L338.06,1277.78 L332.76,1279.61 L327.45,1281.39 L322.13,1283.12 L316.78,1284.80 L311.42,1286.43 L306.03,1288.00 L300.64,1289.51 L295.22,1290.96 L289.79,1292.34 L284.34,1293.65 L278.88,1294.89 L273.40,1296.05 L267.90,1297.14 L262.40,1298.15 L256.88,1299.09 L251.35,1299.93 L245.80,1300.70 L240.25,1301.38 L234.69,1301.97 L229.12,1302.47 L223.54,1302.88 L217.96,1303.20 L212.38,1303.44 L206.79,1303.57 L201.20,1303.62Z" fill="#b4b2f5" stroke="#1414e6" stroke-width="2.2" stroke-linejoin="round"/>
<g transform="translate(220.21,1285.65) rotate(-3.30)">
<g transform="rotate(-18)"><rect x="-2.2" y="-19.5" width="4.4" height="8" fill="#fff"/>
<path d="M-2.2,-18V-13.2M2.2,-18V-13.2" stroke="#1414e6" stroke-width="1.8"/></g>
<circle r="14.7" fill="#fff" stroke="#1414e6" stroke-width="1.9"/>
<circle r="10.6" fill="#b4b2f5" stroke="#1414e6" stroke-width="1.9"/>
<g transform="rotate(-18)"><rect x="-1.4" y="-15.2" width="2.8" height="5.2" fill="#fff"/></g>
<g transform="rotate(139.9)"><rect x="-1.3" y="-13.6" width="2.6" height="3.4" fill="#1414e6"/></g>
</g>
<g transform="translate(257.96,1281.26) rotate(-9.57)">
<g transform="rotate(-18)"><rect x="-2.2" y="-19.5" width="4.4" height="8" fill="#fff"/>
<path d="M-2.2,-18V-13.2M2.2,-18V-13.2" stroke="#1414e6" stroke-width="1.8"/></g>
<circle r="14.7" fill="#fff" stroke="#1414e6" stroke-width="1.9"/>
<circle r="10.6" fill="#b4b2f5" stroke="#1414e6" stroke-width="1.9"/>
<g transform="rotate(-18)"><rect x="-1.4" y="-15.2" width="2.8" height="5.2" fill="#fff"/></g>
<g transform="rotate(116.7)"><rect x="-1.3" y="-13.6" width="2.6" height="3.4" fill="#1414e6"/></g>
</g>
<g transform="translate(295.07,1272.99) rotate(-14.95)">
<g transform="rotate(-18)"><rect x="-2.2" y="-19.5" width="4.4" height="8" fill="#fff"/>
<path d="M-2.2,-18V-13.2M2.2,-18V-13.2" stroke="#1414e6" stroke-width="1.8"/></g>
<circle r="14.7" fill="#fff" stroke="#1414e6" stroke-width="1.9"/>
<circle r="10.6" fill="#b4b2f5" stroke="#1414e6" stroke-width="1.9"/>
<g transform="rotate(-18)"><rect x="-1.4" y="-15.2" width="2.8" height="5.2" fill="#fff"/></g>
<g transform="rotate(162.9)"><rect x="-1.3" y="-13.6" width="2.6" height="3.4" fill="#1414e6"/></g>
</g>
<g transform="translate(331.38,1261.68) rotate(-19.05)">
<g transform="rotate(-18)"><rect x="-2.2" y="-19.5" width="4.4" height="8" fill="#fff"/>
<path d="M-2.2,-18V-13.2M2.2,-18V-13.2" stroke="#1414e6" stroke-width="1.8"/></g>
<circle r="14.7" fill="#fff" stroke="#1414e6" stroke-width="1.9"/>
<circle r="10.6" fill="#b4b2f5" stroke="#1414e6" stroke-width="1.9"/>
<g transform="rotate(-18)"><rect x="-1.4" y="-15.2" width="2.8" height="5.2" fill="#fff"/></g>
<g transform="rotate(160.4)"><rect x="-1.3" y="-13.6" width="2.6" height="3.4" fill="#1414e6"/></g>
</g>
<g transform="translate(366.97,1248.29) rotate(-21.69)">
<g transform="rotate(-18)"><rect x="-2.2" y="-19.5" width="4.4" height="8" fill="#fff"/>
<path d="M-2.2,-18V-13.2M2.2,-18V-13.2" stroke="#1414e6" stroke-width="1.8"/></g>
<circle r="14.7" fill="#fff" stroke="#1414e6" stroke-width="1.9"/>
<circle r="10.6" fill="#b4b2f5" stroke="#1414e6" stroke-width="1.9"/>
<g transform="rotate(-18)"><rect x="-1.4" y="-15.2" width="2.8" height="5.2" fill="#fff"/></g>
<g transform="rotate(133.0)"><rect x="-1.3" y="-13.6" width="2.6" height="3.4" fill="#1414e6"/></g>
</g>
<g transform="translate(402.14,1233.80) rotate(-22.79)">
<g transform="rotate(-18)"><rect x="-2.2" y="-19.5" width="4.4" height="8" fill="#fff"/>
<path d="M-2.2,-18V-13.2M2.2,-18V-13.2" stroke="#1414e6" stroke-width="1.8"/></g>
<circle r="14.7" fill="#fff" stroke="#1414e6" stroke-width="1.9"/>
<circle r="10.6" fill="#b4b2f5" stroke="#1414e6" stroke-width="1.9"/>
<g transform="rotate(-18)"><rect x="-1.4" y="-15.2" width="2.8" height="5.2" fill="#fff"/></g>
<g transform="rotate(144.8)"><rect x="-1.3" y="-13.6" width="2.6" height="3.4" fill="#1414e6"/></g>
</g>
<g transform="translate(437.23,1219.13) rotate(-22.35)">
<g transform="rotate(-18)"><rect x="-2.2" y="-19.5" width="4.4" height="8" fill="#fff"/>
<path d="M-2.2,-18V-13.2M2.2,-18V-13.2" stroke="#1414e6" stroke-width="1.8"/></g>
<circle r="14.7" fill="#fff" stroke="#1414e6" stroke-width="1.9"/>
<circle r="10.6" fill="#b4b2f5" stroke="#1414e6" stroke-width="1.9"/>
<g transform="rotate(-18)"><rect x="-1.4" y="-15.2" width="2.8" height="5.2" fill="#fff"/></g>
<g transform="rotate(117.9)"><rect x="-1.3" y="-13.6" width="2.6" height="3.4" fill="#1414e6"/></g>
</g>
<g transform="translate(472.64,1205.26) rotate(-20.37)">
<g transform="rotate(-18)"><rect x="-2.2" y="-19.5" width="4.4" height="8" fill="#fff"/>
<path d="M-2.2,-18V-13.2M2.2,-18V-13.2" stroke="#1414e6" stroke-width="1.8"/></g>
<circle r="14.7" fill="#fff" stroke="#1414e6" stroke-width="1.9"/>
<circle r="10.6" fill="#b4b2f5" stroke="#1414e6" stroke-width="1.9"/>
<g transform="rotate(-18)"><rect x="-1.4" y="-15.2" width="2.8" height="5.2" fill="#fff"/></g>
<g transform="rotate(118.3)"><rect x="-1.3" y="-13.6" width="2.6" height="3.4" fill="#1414e6"/></g>
</g>
<g transform="translate(508.72,1193.25) rotate(-16.26)">
<g transform="rotate(-18)"><rect x="-2.2" y="-19.5" width="4.4" height="8" fill="#fff"/>
<path d="M-2.2,-18V-13.2M2.2,-18V-13.2" stroke="#1414e6" stroke-width="1.8"/></g>
<circle r="14.7" fill="#fff" stroke="#1414e6" stroke-width="1.9"/>
<circle r="10.6" fill="#b4b2f5" stroke="#1414e6" stroke-width="1.9"/>
<g transform="rotate(-18)"><rect x="-1.4" y="-15.2" width="2.8" height="5.2" fill="#fff"/></g>
<g transform="rotate(122.3)"><rect x="-1.3" y="-13.6" width="2.6" height="3.4" fill="#1414e6"/></g>
</g>
<g transform="translate(545.65,1184.23) rotate(-10.41)">
<g transform="rotate(-18)"><rect x="-2.2" y="-19.5" width="4.4" height="8" fill="#fff"/>
<path d="M-2.2,-18V-13.2M2.2,-18V-13.2" stroke="#1414e6" stroke-width="1.8"/></g>
<circle r="14.7" fill="#fff" stroke="#1414e6" stroke-width="1.9"/>
<circle r="10.6" fill="#b4b2f5" stroke="#1414e6" stroke-width="1.9"/>
<g transform="rotate(-18)"><rect x="-1.4" y="-15.2" width="2.8" height="5.2" fill="#fff"/></g>
<g transform="rotate(146.5)"><rect x="-1.3" y="-13.6" width="2.6" height="3.4" fill="#1414e6"/></g>
</g>
<g transform="translate(583.35,1179.35) rotate(-4.23)">
<g transform="rotate(-18)"><rect x="-2.2" y="-19.5" width="4.4" height="8" fill="#fff"/>
<path d="M-2.2,-18V-13.2M2.2,-18V-13.2" stroke="#1414e6" stroke-width="1.8"/></g>
<circle r="14.7" fill="#fff" stroke="#1414e6" stroke-width="1.9"/>
<circle r="10.6" fill="#b4b2f5" stroke="#1414e6" stroke-width="1.9"/>
<g transform="rotate(-18)"><rect x="-1.4" y="-15.2" width="2.8" height="5.2" fill="#fff"/></g>
<g transform="rotate(117.7)"><rect x="-1.3" y="-13.6" width="2.6" height="3.4" fill="#1414e6"/></g>
</g>
<g transform="translate(621.35,1179.35) rotate(4.23)">
<g transform="rotate(-18)"><rect x="-2.2" y="-19.5" width="4.4" height="8" fill="#fff"/>
<path d="M-2.2,-18V-13.2M2.2,-18V-13.2" stroke="#1414e6" stroke-width="1.8"/></g>
<circle r="14.7" fill="#fff" stroke="#1414e6" stroke-width="1.9"/>
<circle r="10.6" fill="#b4b2f5" stroke="#1414e6" stroke-width="1.9"/>
<g transform="rotate(-18)"><rect x="-1.4" y="-15.2" width="2.8" height="5.2" fill="#fff"/></g>
<g transform="rotate(163.3)"><rect x="-1.3" y="-13.6" width="2.6" height="3.4" fill="#1414e6"/></g>
</g>
<g transform="translate(659.05,1184.23) rotate(10.41)">
<g transform="rotate(-18)"><rect x="-2.2" y="-19.5" width="4.4" height="8" fill="#fff"/>
<path d="M-2.2,-18V-13.2M2.2,-18V-13.2" stroke="#1414e6" stroke-width="1.8"/></g>
<circle r="14.7" fill="#fff" stroke="#1414e6" stroke-width="1.9"/>
<circle r="10.6" fill="#b4b2f5" stroke="#1414e6" stroke-width="1.9"/>
<g transform="rotate(-18)"><rect x="-1.4" y="-15.2" width="2.8" height="5.2" fill="#fff"/></g>
<g transform="rotate(109.2)"><rect x="-1.3" y="-13.6" width="2.6" height="3.4" fill="#1414e6"/></g>
</g>
<g transform="translate(695.98,1193.25) rotate(16.26)">
<g transform="rotate(-18)"><rect x="-2.2" y="-19.5" width="4.4" height="8" fill="#fff"/>
<path d="M-2.2,-18V-13.2M2.2,-18V-13.2" stroke="#1414e6" stroke-width="1.8"/></g>
<circle r="14.7" fill="#fff" stroke="#1414e6" stroke-width="1.9"/>
<circle r="10.6" fill="#b4b2f5" stroke="#1414e6" stroke-width="1.9"/>
<g transform="rotate(-18)"><rect x="-1.4" y="-15.2" width="2.8" height="5.2" fill="#fff"/></g>
<g transform="rotate(116.6)"><rect x="-1.3" y="-13.6" width="2.6" height="3.4" fill="#1414e6"/></g>
</g>
<g transform="translate(732.06,1205.26) rotate(20.37)">
<g transform="rotate(-18)"><rect x="-2.2" y="-19.5" width="4.4" height="8" fill="#fff"/>
<path d="M-2.2,-18V-13.2M2.2,-18V-13.2" stroke="#1414e6" stroke-width="1.8"/></g>
<circle r="14.7" fill="#fff" stroke="#1414e6" stroke-width="1.9"/>
<circle r="10.6" fill="#b4b2f5" stroke="#1414e6" stroke-width="1.9"/>
<g transform="rotate(-18)"><rect x="-1.4" y="-15.2" width="2.8" height="5.2" fill="#fff"/></g>
<g transform="rotate(110.3)"><rect x="-1.3" y="-13.6" width="2.6" height="3.4" fill="#1414e6"/></g>
</g>
<g transform="translate(767.47,1219.13) rotate(22.35)">
<g transform="rotate(-18)"><rect x="-2.2" y="-19.5" width="4.4" height="8" fill="#fff"/>
<path d="M-2.2,-18V-13.2M2.2,-18V-13.2" stroke="#1414e6" stroke-width="1.8"/></g>
<circle r="14.7" fill="#fff" stroke="#1414e6" stroke-width="1.9"/>
<circle r="10.6" fill="#b4b2f5" stroke="#1414e6" stroke-width="1.9"/>
<g transform="rotate(-18)"><rect x="-1.4" y="-15.2" width="2.8" height="5.2" fill="#fff"/></g>
<g transform="rotate(151.2)"><rect x="-1.3" y="-13.6" width="2.6" height="3.4" fill="#1414e6"/></g>
</g>
<g transform="translate(802.56,1233.80) rotate(22.79)">
<g transform="rotate(-18)"><rect x="-2.2" y="-19.5" width="4.4" height="8" fill="#fff"/>
<path d="M-2.2,-18V-13.2M2.2,-18V-13.2" stroke="#1414e6" stroke-width="1.8"/></g>
<circle r="14.7" fill="#fff" stroke="#1414e6" stroke-width="1.9"/>
<circle r="10.6" fill="#b4b2f5" stroke="#1414e6" stroke-width="1.9"/>
<g transform="rotate(-18)"><rect x="-1.4" y="-15.2" width="2.8" height="5.2" fill="#fff"/></g>
<g transform="rotate(127.0)"><rect x="-1.3" y="-13.6" width="2.6" height="3.4" fill="#1414e6"/></g>
</g>
<g transform="translate(837.73,1248.29) rotate(21.69)">
<g transform="rotate(-18)"><rect x="-2.2" y="-19.5" width="4.4" height="8" fill="#fff"/>
<path d="M-2.2,-18V-13.2M2.2,-18V-13.2" stroke="#1414e6" stroke-width="1.8"/></g>
<circle r="14.7" fill="#fff" stroke="#1414e6" stroke-width="1.9"/>
<circle r="10.6" fill="#b4b2f5" stroke="#1414e6" stroke-width="1.9"/>
<g transform="rotate(-18)"><rect x="-1.4" y="-15.2" width="2.8" height="5.2" fill="#fff"/></g>
<g transform="rotate(133.3)"><rect x="-1.3" y="-13.6" width="2.6" height="3.4" fill="#1414e6"/></g>
</g>
<g transform="translate(873.32,1261.68) rotate(19.05)">
<g transform="rotate(-18)"><rect x="-2.2" y="-19.5" width="4.4" height="8" fill="#fff"/>
<path d="M-2.2,-18V-13.2M2.2,-18V-13.2" stroke="#1414e6" stroke-width="1.8"/></g>
<circle r="14.7" fill="#fff" stroke="#1414e6" stroke-width="1.9"/>
<circle r="10.6" fill="#b4b2f5" stroke="#1414e6" stroke-width="1.9"/>
<g transform="rotate(-18)"><rect x="-1.4" y="-15.2" width="2.8" height="5.2" fill="#fff"/></g>
<g transform="rotate(124.6)"><rect x="-1.3" y="-13.6" width="2.6" height="3.4" fill="#1414e6"/></g>
</g>
<g transform="translate(909.63,1272.99) rotate(14.95)">
<g transform="rotate(-18)"><rect x="-2.2" y="-19.5" width="4.4" height="8" fill="#fff"/>
<path d="M-2.2,-18V-13.2M2.2,-18V-13.2" stroke="#1414e6" stroke-width="1.8"/></g>
<circle r="14.7" fill="#fff" stroke="#1414e6" stroke-width="1.9"/>
<circle r="10.6" fill="#b4b2f5" stroke="#1414e6" stroke-width="1.9"/>
<g transform="rotate(-18)"><rect x="-1.4" y="-15.2" width="2.8" height="5.2" fill="#fff"/></g>
<g transform="rotate(143.2)"><rect x="-1.3" y="-13.6" width="2.6" height="3.4" fill="#1414e6"/></g>
</g>
<g transform="translate(946.74,1281.26) rotate(9.57)">
<g transform="rotate(-18)"><rect x="-2.2" y="-19.5" width="4.4" height="8" fill="#fff"/>
<path d="M-2.2,-18V-13.2M2.2,-18V-13.2" stroke="#1414e6" stroke-width="1.8"/></g>
<circle r="14.7" fill="#fff" stroke="#1414e6" stroke-width="1.9"/>
<circle r="10.6" fill="#b4b2f5" stroke="#1414e6" stroke-width="1.9"/>
<g transform="rotate(-18)"><rect x="-1.4" y="-15.2" width="2.8" height="5.2" fill="#fff"/></g>
<g transform="rotate(129.2)"><rect x="-1.3" y="-13.6" width="2.6" height="3.4" fill="#1414e6"/></g>
</g>
<g transform="translate(984.49,1285.65) rotate(3.30)">
<g transform="rotate(-18)"><rect x="-2.2" y="-19.5" width="4.4" height="8" fill="#fff"/>
<path d="M-2.2,-18V-13.2M2.2,-18V-13.2" stroke="#1414e6" stroke-width="1.8"/></g>
<circle r="14.7" fill="#fff" stroke="#1414e6" stroke-width="1.9"/>
<circle r="10.6" fill="#b4b2f5" stroke="#1414e6" stroke-width="1.9"/>
<g transform="rotate(-18)"><rect x="-1.4" y="-15.2" width="2.8" height="5.2" fill="#fff"/></g>
<g transform="rotate(117.5)"><rect x="-1.3" y="-13.6" width="2.6" height="3.4" fill="#1414e6"/></g>
</g>
<text x="68.0" y="1298.0" font-size="41"><tspan font-style="italic">N</tspan><tspan font-weight="bold"> = 22</tspan></text>
<path d="M201.20,1345.34 L206.21,1345.30 L211.23,1345.17 L216.24,1344.97 L221.26,1344.68 L226.27,1344.31 L231.29,1343.85 L236.30,1343.32 L241.31,1342.71 L246.33,1342.02 L251.34,1341.25 L256.36,1340.40 L261.37,1339.48 L266.39,1338.49 L271.40,1337.42 L276.42,1336.28 L281.43,1335.07 L286.44,1333.80 L291.46,1332.46 L296.47,1331.06 L301.49,1329.60 L306.50,1328.08 L311.52,1326.50 L316.53,1324.87 L321.54,1323.18 L326.56,1321.45 L331.57,1319.67 L336.59,1317.85 L341.60,1315.99 L346.62,1314.09 L351.63,1312.16 L356.65,1310.19 L361.66,1308.20 L366.67,1306.18 L371.69,1304.14 L376.70,1302.08 L381.72,1300.00 L386.73,1297.91 L391.75,1295.81 L396.76,1293.70 L401.77,1291.59 L406.79,1289.48 L411.80,1287.37 L416.82,1285.27 L421.83,1283.18 L426.85,1281.10 L431.86,1279.04 L436.88,1277.00 L441.89,1274.98 L446.90,1272.99 L451.92,1271.02 L456.93,1269.09 L461.95,1267.19 L466.96,1265.33 L471.98,1263.51 L476.99,1261.73 L482.00,1260.00 L487.02,1258.31 L492.03,1256.68 L497.05,1255.10 L502.06,1253.58 L507.08,1252.12 L512.09,1250.72 L517.11,1249.38 L522.12,1248.11 L527.13,1246.90 L532.15,1245.76 L537.16,1244.69 L542.18,1243.70 L547.19,1242.78 L552.21,1241.93 L557.22,1241.16 L562.23,1240.47 L567.25,1239.86 L572.26,1239.33 L577.28,1238.87 L582.29,1238.50 L587.31,1238.21 L592.32,1238.01 L597.34,1237.88 L602.35,1237.84 L607.36,1237.88 L612.38,1238.01 L617.39,1238.21 L622.41,1238.50 L627.42,1238.87 L632.44,1239.33 L637.45,1239.86 L642.46,1240.47 L647.48,1241.16 L652.49,1241.93 L657.51,1242.78 L662.52,1243.70 L667.54,1244.69 L672.55,1245.76 L677.57,1246.90 L682.58,1248.11 L687.59,1249.38 L692.61,1250.72 L697.62,1252.12 L702.64,1253.58 L707.65,1255.10 L712.67,1256.68 L717.68,1258.31 L722.69,1260.00 L727.71,1261.73 L732.72,1263.51 L737.74,1265.33 L742.75,1267.19 L747.77,1269.09 L752.78,1271.02 L757.80,1272.99 L762.81,1274.98 L767.82,1277.00 L772.84,1279.04 L777.85,1281.10 L782.87,1283.18 L787.88,1285.27 L792.90,1287.37 L797.91,1289.48 L802.92,1291.59 L807.94,1293.70 L812.95,1295.81 L817.97,1297.91 L822.98,1300.00 L828.00,1302.08 L833.01,1304.14 L838.03,1306.18 L843.04,1308.20 L848.05,1310.19 L853.07,1312.16 L858.08,1314.09 L863.10,1315.99 L868.11,1317.85 L873.13,1319.67 L878.14,1321.45 L883.15,1323.18 L888.17,1324.87 L893.18,1326.50 L898.20,1328.08 L903.21,1329.60 L908.23,1331.06 L913.24,1332.46 L918.26,1333.80 L923.27,1335.07 L928.28,1336.28 L933.30,1337.42 L938.31,1338.49 L943.33,1339.48 L948.34,1340.40 L953.36,1341.25 L958.37,1342.02 L963.38,1342.71 L968.40,1343.32 L973.41,1343.85 L978.43,1344.31 L983.44,1344.68 L988.46,1344.97 L993.47,1345.17 L998.49,1345.30 L1003.50,1345.34 L1003.50,1380.14 L997.91,1380.09 L992.32,1379.96 L986.74,1379.72 L981.16,1379.40 L975.58,1378.99 L970.01,1378.49 L964.45,1377.90 L958.90,1377.22 L953.35,1376.45 L947.82,1375.61 L942.30,1374.67 L936.80,1373.66 L931.30,1372.57 L925.82,1371.41 L920.36,1370.17 L914.91,1368.86 L909.48,1367.48 L904.06,1366.03 L898.67,1364.52 L893.28,1362.95 L887.92,1361.32 L882.57,1359.64 L877.25,1357.91 L871.94,1356.13 L866.64,1354.30 L861.37,1352.43 L856.11,1350.52 L850.88,1348.58 L845.66,1346.60 L840.46,1344.59 L835.27,1342.56 L830.11,1340.51 L824.96,1338.43 L819.83,1336.34 L814.72,1334.24 L809.62,1332.13 L804.55,1330.02 L799.49,1327.90 L794.45,1325.78 L789.42,1323.66 L784.42,1321.56 L779.43,1319.46 L774.46,1317.38 L769.51,1315.32 L764.57,1313.27 L759.66,1311.25 L754.76,1309.25 L749.88,1307.29 L745.01,1305.35 L740.17,1303.45 L735.34,1301.59 L730.53,1299.77 L725.74,1297.99 L720.97,1296.26 L716.21,1294.57 L711.48,1292.94 L706.76,1291.36 L702.06,1289.83 L697.37,1288.35 L692.71,1286.94 L688.06,1285.58 L683.43,1284.29 L678.82,1283.05 L674.22,1281.89 L669.64,1280.78 L665.08,1279.75 L660.53,1278.78 L655.99,1277.88 L651.47,1277.05 L646.96,1276.29 L642.46,1275.60 L637.98,1274.98 L633.50,1274.43 L629.03,1273.96 L624.57,1273.56 L620.12,1273.23 L615.67,1272.97 L611.23,1272.79 L606.79,1272.68 L602.35,1272.64 L597.91,1272.68 L593.47,1272.79 L589.03,1272.97 L584.58,1273.23 L580.13,1273.56 L575.67,1273.96 L571.20,1274.43 L566.72,1274.98 L562.24,1275.60 L557.74,1276.29 L553.23,1277.05 L548.71,1277.88 L544.17,1278.78 L539.62,1279.75 L535.06,1280.78 L530.48,1281.89 L525.88,1283.05 L521.27,1284.29 L516.64,1285.58 L511.99,1286.94 L507.33,1288.35 L502.64,1289.83 L497.94,1291.36 L493.22,1292.94 L488.49,1294.57 L483.73,1296.26 L478.96,1297.99 L474.17,1299.77 L469.36,1301.59 L464.53,1303.45 L459.69,1305.35 L454.82,1307.29 L449.94,1309.25 L445.04,1311.25 L440.13,1313.27 L435.19,1315.32 L430.24,1317.38 L425.27,1319.46 L420.28,1321.56 L415.28,1323.66 L410.25,1325.78 L405.21,1327.90 L400.15,1330.02 L395.08,1332.13 L389.98,1334.24 L384.87,1336.34 L379.74,1338.43 L374.59,1340.51 L369.43,1342.56 L364.24,1344.59 L359.04,1346.60 L353.82,1348.58 L348.59,1350.52 L343.33,1352.43 L338.06,1354.30 L332.76,1356.13 L327.45,1357.91 L322.13,1359.64 L316.78,1361.32 L311.42,1362.95 L306.03,1364.52 L300.64,1366.03 L295.22,1367.48 L289.79,1368.86 L284.34,1370.17 L278.88,1371.41 L273.40,1372.57 L267.90,1373.66 L262.40,1374.67 L256.88,1375.61 L251.35,1376.45 L245.80,1377.22 L240.25,1377.90 L234.69,1378.49 L229.12,1378.99 L223.54,1379.40 L217.96,1379.72 L212.38,1379.96 L206.79,1380.09 L201.20,1380.14Z" fill="#b4b2f5" stroke="#1414e6" stroke-width="2.2" stroke-linejoin="round"/>
<g transform="translate(222.10,1362.06) rotate(-3.30)">
<g transform="rotate(-18)"><rect x="-2.2" y="-19.5" width="4.4" height="8" fill="#fff"/>
<path d="M-2.2,-18V-13.2M2.2,-18V-13.2" stroke="#1414e6" stroke-width="1.8"/></g>
<circle r="14.7" fill="#fff" stroke="#1414e6" stroke-width="1.9"/>
<circle r="10.6" fill="#b4b2f5" stroke="#1414e6" stroke-width="1.9"/>
<g transform="rotate(-18)"><rect x="-1.4" y="-15.2" width="2.8" height="5.2" fill="#fff"/></g>
<g transform="rotate(113.9)"><rect x="-1.3" y="-13.6" width="2.6" height="3.4" fill="#1414e6"/></g>
</g>
<g transform="translate(263.58,1356.77) rotate(-10.41)">
<g transform="rotate(-18)"><rect x="-2.2" y="-19.5" width="4.4" height="8" fill="#fff"/>
<path d="M-2.2,-18V-13.2M2.2,-18V-13.2" stroke="#1414e6" stroke-width="1.8"/></g>
<circle r="14.7" fill="#fff" stroke="#1414e6" stroke-width="1.9"/>
<circle r="10.6" fill="#b4b2f5" stroke="#1414e6" stroke-width="1.9"/>
<g transform="rotate(-18)"><rect x="-1.4" y="-15.2" width="2.8" height="5.2" fill="#fff"/></g>
<g transform="rotate(142.0)"><rect x="-1.3" y="-13.6" width="2.6" height="3.4" fill="#1414e6"/></g>
</g>
<g transform="translate(304.22,1346.92) rotate(-16.26)">
<g transform="rotate(-18)"><rect x="-2.2" y="-19.5" width="4.4" height="8" fill="#fff"/>
<path d="M-2.2,-18V-13.2M2.2,-18V-13.2" stroke="#1414e6" stroke-width="1.8"/></g>
<circle r="14.7" fill="#fff" stroke="#1414e6" stroke-width="1.9"/>
<circle r="10.6" fill="#b4b2f5" stroke="#1414e6" stroke-width="1.9"/>
<g transform="rotate(-18)"><rect x="-1.4" y="-15.2" width="2.8" height="5.2" fill="#fff"/></g>
<g transform="rotate(115.2)"><rect x="-1.3" y="-13.6" width="2.6" height="3.4" fill="#1414e6"/></g>
</g>
<g transform="translate(343.90,1333.70) rotate(-20.37)">
<g transform="rotate(-18)"><rect x="-2.2" y="-19.5" width="4.4" height="8" fill="#fff"/>
<path d="M-2.2,-18V-13.2M2.2,-18V-13.2" stroke="#1414e6" stroke-width="1.8"/></g>
<circle r="14.7" fill="#fff" stroke="#1414e6" stroke-width="1.9"/>
<circle r="10.6" fill="#b4b2f5" stroke="#1414e6" stroke-width="1.9"/>
<g transform="rotate(-18)"><rect x="-1.4" y="-15.2" width="2.8" height="5.2" fill="#fff"/></g>
<g transform="rotate(147.8)"><rect x="-1.3" y="-13.6" width="2.6" height="3.4" fill="#1414e6"/></g>
</g>
<g transform="translate(382.83,1318.37) rotate(-22.35)">
<g transform="rotate(-18)"><rect x="-2.2" y="-19.5" width="4.4" height="8" fill="#fff"/>
<path d="M-2.2,-18V-13.2M2.2,-18V-13.2" stroke="#1414e6" stroke-width="1.8"/></g>
<circle r="14.7" fill="#fff" stroke="#1414e6" stroke-width="1.9"/>
<circle r="10.6" fill="#b4b2f5" stroke="#1414e6" stroke-width="1.9"/>
<g transform="rotate(-18)"><rect x="-1.4" y="-15.2" width="2.8" height="5.2" fill="#fff"/></g>
<g transform="rotate(141.5)"><rect x="-1.3" y="-13.6" width="2.6" height="3.4" fill="#1414e6"/></g>
</g>
<g transform="translate(421.42,1302.21) rotate(-22.73)">
<g transform="rotate(-18)"><rect x="-2.2" y="-19.5" width="4.4" height="8" fill="#fff"/>
<path d="M-2.2,-18V-13.2M2.2,-18V-13.2" stroke="#1414e6" stroke-width="1.8"/></g>
<circle r="14.7" fill="#fff" stroke="#1414e6" stroke-width="1.9"/>
<circle r="10.6" fill="#b4b2f5" stroke="#1414e6" stroke-width="1.9"/>
<g transform="rotate(-18)"><rect x="-1.4" y="-15.2" width="2.8" height="5.2" fill="#fff"/></g>
<g transform="rotate(128.1)"><rect x="-1.3" y="-13.6" width="2.6" height="3.4" fill="#1414e6"/></g>
</g>
<g transform="translate(460.19,1286.48) rotate(-21.09)">
<g transform="rotate(-18)"><rect x="-2.2" y="-19.5" width="4.4" height="8" fill="#fff"/>
<path d="M-2.2,-18V-13.2M2.2,-18V-13.2" stroke="#1414e6" stroke-width="1.8"/></g>
<circle r="14.7" fill="#fff" stroke="#1414e6" stroke-width="1.9"/>
<circle r="10.6" fill="#b4b2f5" stroke="#1414e6" stroke-width="1.9"/>
<g transform="rotate(-18)"><rect x="-1.4" y="-15.2" width="2.8" height="5.2" fill="#fff"/></g>
<g transform="rotate(142.0)"><rect x="-1.3" y="-13.6" width="2.6" height="3.4" fill="#1414e6"/></g>
</g>
<g transform="translate(499.62,1272.54) rotate(-17.47)">
<g transform="rotate(-18)"><rect x="-2.2" y="-19.5" width="4.4" height="8" fill="#fff"/>
<path d="M-2.2,-18V-13.2M2.2,-18V-13.2" stroke="#1414e6" stroke-width="1.8"/></g>
<circle r="14.7" fill="#fff" stroke="#1414e6" stroke-width="1.9"/>
<circle r="10.6" fill="#b4b2f5" stroke="#1414e6" stroke-width="1.9"/>
<g transform="rotate(-18)"><rect x="-1.4" y="-15.2" width="2.8" height="5.2" fill="#fff"/></g>
<g transform="rotate(139.0)"><rect x="-1.3" y="-13.6" width="2.6" height="3.4" fill="#1414e6"/></g>
</g>
<g transform="translate(540.06,1261.87) rotate(-12.02)">
<g transform="rotate(-18)"><rect x="-2.2" y="-19.5" width="4.4" height="8" fill="#fff"/>
<path d="M-2.2,-18V-13.2M2.2,-18V-13.2" stroke="#1414e6" stroke-width="1.8"/></g>
<circle r="14.7" fill="#fff" stroke="#1414e6" stroke-width="1.9"/>
<circle r="10.6" fill="#b4b2f5" stroke="#1414e6" stroke-width="1.9"/>
<g transform="rotate(-18)"><rect x="-1.4" y="-15.2" width="2.8" height="5.2" fill="#fff"/></g>
<g transform="rotate(107.6)"><rect x="-1.3" y="-13.6" width="2.6" height="3.4" fill="#1414e6"/></g>
</g>
<g transform="translate(581.45,1256.01) rotate(-4.23)">
<g transform="rotate(-18)"><rect x="-2.2" y="-19.5" width="4.4" height="8" fill="#fff"/>
<path d="M-2.2,-18V-13.2M2.2,-18V-13.2" stroke="#1414e6" stroke-width="1.8"/></g>
<circle r="14.7" fill="#fff" stroke="#1414e6" stroke-width="1.9"/>
<circle r="10.6" fill="#b4b2f5" stroke="#1414e6" stroke-width="1.9"/>
<g transform="rotate(-18)"><rect x="-1.4" y="-15.2" width="2.8" height="5.2" fill="#fff"/></g>
<g transform="rotate(136.8)"><rect x="-1.3" y="-13.6" width="2.6" height="3.4" fill="#1414e6"/></g>
</g>
<g transform="translate(623.25,1256.01) rotate(4.23)">
<g transform="rotate(-18)"><rect x="-2.2" y="-19.5" width="4.4" height="8" fill="#fff"/>
<path d="M-2.2,-18V-13.2M2.2,-18V-13.2" stroke="#1414e6" stroke-width="1.8"/></g>
<circle r="14.7" fill="#fff" stroke="#1414e6" stroke-width="1.9"/>
<circle r="10.6" fill="#b4b2f5" stroke="#1414e6" stroke-width="1.9"/>
<g transform="rotate(-18)"><rect x="-1.4" y="-15.2" width="2.8" height="5.2" fill="#fff"/></g>
<g transform="rotate(142.2)"><rect x="-1.3" y="-13.6" width="2.6" height="3.4" fill="#1414e6"/></g>
</g>
<g transform="translate(664.64,1261.87) rotate(12.02)">
<g transform="rotate(-18)"><rect x="-2.2" y="-19.5" width="4.4" height="8" fill="#fff"/>
<path d="M-2.2,-18V-13.2M2.2,-18V-13.2" stroke="#1414e6" stroke-width="1.8"/></g>
<circle r="14.7" fill="#fff" stroke="#1414e6" stroke-width="1.9"/>
<circle r="10.6" fill="#b4b2f5" stroke="#1414e6" stroke-width="1.9"/>
<g transform="rotate(-18)"><rect x="-1.4" y="-15.2" width="2.8" height="5.2" fill="#fff"/></g>
<g transform="rotate(136.2)"><rect x="-1.3" y="-13.6" width="2.6" height="3.4" fill="#1414e6"/></g>
</g>
<g transform="translate(705.08,1272.54) rotate(17.47)">
<g transform="rotate(-18)"><rect x="-2.2" y="-19.5" width="4.4" height="8" fill="#fff"/>
<path d="M-2.2,-18V-13.2M2.2,-18V-13.2" stroke="#1414e6" stroke-width="1.8"/></g>
<circle r="14.7" fill="#fff" stroke="#1414e6" stroke-width="1.9"/>
<circle r="10.6" fill="#b4b2f5" stroke="#1414e6" stroke-width="1.9"/>
<g transform="rotate(-18)"><rect x="-1.4" y="-15.2" width="2.8" height="5.2" fill="#fff"/></g>
<g transform="rotate(157.8)"><rect x="-1.3" y="-13.6" width="2.6" height="3.4" fill="#1414e6"/></g>
</g>
<g transform="translate(744.51,1286.48) rotate(21.09)">
<g transform="rotate(-18)"><rect x="-2.2" y="-19.5" width="4.4" height="8" fill="#fff"/>
<path d="M-2.2,-18V-13.2M2.2,-18V-13.2" stroke="#1414e6" stroke-width="1.8"/></g>
<circle r="14.7" fill="#fff" stroke="#1414e6" stroke-width="1.9"/>
<circle r="10.6" fill="#b4b2f5" stroke="#1414e6" stroke-width="1.9"/>
<g transform="rotate(-18)"><rect x="-1.4" y="-15.2" width="2.8" height="5.2" fill="#fff"/></g>
<g transform="rotate(149.1)"><rect x="-1.3" y="-13.6" width="2.6" height="3.4" fill="#1414e6"/></g>
</g>
<g transform="translate(783.28,1302.21) rotate(22.73)">
<g transform="rotate(-18)"><rect x="-2.2" y="-19.5" width="4.4" height="8" fill="#fff"/>
<path d="M-2.2,-18V-13.2M2.2,-18V-13.2" stroke="#1414e6" stroke-width="1.8"/></g>
<circle r="14.7" fill="#fff" stroke="#1414e6" stroke-width="1.9"/>
<circle r="10.6" fill="#b4b2f5" stroke="#1414e6" stroke-width="1.9"/>
<g transform="rotate(-18)"><rect x="-1.4" y="-15.2" width="2.8" height="5.2" fill="#fff"/></g>
<g transform="rotate(127.6)"><rect x="-1.3" y="-13.6" width="2.6" height="3.4" fill="#1414e6"/></g>
</g>
<g transform="translate(821.87,1318.37) rotate(22.35)">
<g transform="rotate(-18)"><rect x="-2.2" y="-19.5" width="4.4" height="8" fill="#fff"/>
<path d="M-2.2,-18V-13.2M2.2,-18V-13.2" stroke="#1414e6" stroke-width="1.8"/></g>
<circle r="14.7" fill="#fff" stroke="#1414e6" stroke-width="1.9"/>
<circle r="10.6" fill="#b4b2f5" stroke="#1414e6" stroke-width="1.9"/>
<g transform="rotate(-18)"><rect x="-1.4" y="-15.2" width="2.8" height="5.2" fill="#fff"/></g>
<g transform="rotate(118.6)"><rect x="-1.3" y="-13.6" width="2.6" height="3.4" fill="#1414e6"/></g>
</g>
<g transform="translate(860.80,1333.70) rotate(20.37)">
<g transform="rotate(-18)"><rect x="-2.2" y="-19.5" width="4.4" height="8" fill="#fff"/>
<path d="M-2.2,-18V-13.2M2.2,-18V-13.2" stroke="#1414e6" stroke-width="1.8"/></g>
<circle r="14.7" fill="#fff" stroke="#1414e6" stroke-width="1.9"/>
<circle r="10.6" fill="#b4b2f5" stroke="#1414e6" stroke-width="1.9"/>
<g transform="rotate(-18)"><rect x="-1.4" y="-15.2" width="2.8" height="5.2" fill="#fff"/></g>
<g transform="rotate(112.7)"><rect x="-1.3" y="-13.6" width="2.6" height="3.4" fill="#1414e6"/></g>
</g>
<g transform="translate(900.48,1346.92) rotate(16.26)">
<g transform="rotate(-18)"><rect x="-2.2" y="-19.5" width="4.4" height="8" fill="#fff"/>
<path d="M-2.2,-18V-13.2M2.2,-18V-13.2" stroke="#1414e6" stroke-width="1.8"/></g>
<circle r="14.7" fill="#fff" stroke="#1414e6" stroke-width="1.9"/>
<circle r="10.6" fill="#b4b2f5" stroke="#1414e6" stroke-width="1.9"/>
<g transform="rotate(-18)"><rect x="-1.4" y="-15.2" width="2.8" height="5.2" fill="#fff"/></g>
<g transform="rotate(153.6)"><rect x="-1.3" y="-13.6" width="2.6" height="3.4" fill="#1414e6"/></g>
</g>
<g transform="translate(941.12,1356.77) rotate(10.41)">
<g transform="rotate(-18)"><rect x="-2.2" y="-19.5" width="4.4" height="8" fill="#fff"/>
<path d="M-2.2,-18V-13.2M2.2,-18V-13.2" stroke="#1414e6" stroke-width="1.8"/></g>
<circle r="14.7" fill="#fff" stroke="#1414e6" stroke-width="1.9"/>
<circle r="10.6" fill="#b4b2f5" stroke="#1414e6" stroke-width="1.9"/>
<g transform="rotate(-18)"><rect x="-1.4" y="-15.2" width="2.8" height="5.2" fill="#fff"/></g>
<g transform="rotate(146.4)"><rect x="-1.3" y="-13.6" width="2.6" height="3.4" fill="#1414e6"/></g>
</g>
<g transform="translate(982.60,1362.06) rotate(3.30)">
<g transform="rotate(-18)"><rect x="-2.2" y="-19.5" width="4.4" height="8" fill="#fff"/>
<path d="M-2.2,-18V-13.2M2.2,-18V-13.2" stroke="#1414e6" stroke-width="1.8"/></g>
<circle r="14.7" fill="#fff" stroke="#1414e6" stroke-width="1.9"/>
<circle r="10.6" fill="#b4b2f5" stroke="#1414e6" stroke-width="1.9"/>
<g transform="rotate(-18)"><rect x="-1.4" y="-15.2" width="2.8" height="5.2" fill="#fff"/></g>
<g transform="rotate(141.6)"><rect x="-1.3" y="-13.6" width="2.6" height="3.4" fill="#1414e6"/></g>
</g>
<text x="68.5" y="1373.7" font-size="41"><tspan font-style="italic">N</tspan><tspan font-weight="bold"> = 20</tspan></text>
<path d="M201.20,1421.86 L206.21,1421.82 L211.23,1421.69 L216.24,1421.49 L221.26,1421.20 L226.27,1420.83 L231.29,1420.37 L236.30,1419.84 L241.31,1419.23 L246.33,1418.54 L251.34,1417.77 L256.36,1416.92 L261.37,1416.00 L266.39,1415.01 L271.40,1413.94 L276.42,1412.80 L281.43,1411.59 L286.44,1410.32 L291.46,1408.98 L296.47,1407.58 L301.49,1406.12 L306.50,1404.60 L311.52,1403.02 L316.53,1401.39 L321.54,1399.70 L326.56,1397.97 L331.57,1396.19 L336.59,1394.37 L341.60,1392.51 L346.62,1390.61 L351.63,1388.68 L356.65,1386.71 L361.66,1384.72 L366.67,1382.70 L371.69,1380.66 L376.70,1378.60 L381.72,1376.52 L386.73,1374.43 L391.75,1372.33 L396.76,1370.22 L401.77,1368.11 L406.79,1366.00 L411.80,1363.89 L416.82,1361.79 L421.83,1359.70 L426.85,1357.62 L431.86,1355.56 L436.88,1353.52 L441.89,1351.50 L446.90,1349.51 L451.92,1347.54 L456.93,1345.61 L461.95,1343.71 L466.96,1341.85 L471.98,1340.03 L476.99,1338.25 L482.00,1336.52 L487.02,1334.83 L492.03,1333.20 L497.05,1331.62 L502.06,1330.10 L507.08,1328.64 L512.09,1327.24 L517.11,1325.90 L522.12,1324.63 L527.13,1323.42 L532.15,1322.28 L537.16,1321.21 L542.18,1320.22 L547.19,1319.30 L552.21,1318.45 L557.22,1317.68 L562.23,1316.99 L567.25,1316.38 L572.26,1315.85 L577.28,1315.39 L582.29,1315.02 L587.31,1314.73 L592.32,1314.53 L597.34,1314.40 L602.35,1314.36 L607.36,1314.40 L612.38,1314.53 L617.39,1314.73 L622.41,1315.02 L627.42,1315.39 L632.44,1315.85 L637.45,1316.38 L642.46,1316.99 L647.48,1317.68 L652.49,1318.45 L657.51,1319.30 L662.52,1320.22 L667.54,1321.21 L672.55,1322.28 L677.57,1323.42 L682.58,1324.63 L687.59,1325.90 L692.61,1327.24 L697.62,1328.64 L702.64,1330.10 L707.65,1331.62 L712.67,1333.20 L717.68,1334.83 L722.69,1336.52 L727.71,1338.25 L732.72,1340.03 L737.74,1341.85 L742.75,1343.71 L747.77,1345.61 L752.78,1347.54 L757.80,1349.51 L762.81,1351.50 L767.82,1353.52 L772.84,1355.56 L777.85,1357.62 L782.87,1359.70 L787.88,1361.79 L792.90,1363.89 L797.91,1366.00 L802.92,1368.11 L807.94,1370.22 L812.95,1372.33 L817.97,1374.43 L822.98,1376.52 L828.00,1378.60 L833.01,1380.66 L838.03,1382.70 L843.04,1384.72 L848.05,1386.71 L853.07,1388.68 L858.08,1390.61 L863.10,1392.51 L868.11,1394.37 L873.13,1396.19 L878.14,1397.97 L883.15,1399.70 L888.17,1401.39 L893.18,1403.02 L898.20,1404.60 L903.21,1406.12 L908.23,1407.58 L913.24,1408.98 L918.26,1410.32 L923.27,1411.59 L928.28,1412.80 L933.30,1413.94 L938.31,1415.01 L943.33,1416.00 L948.34,1416.92 L953.36,1417.77 L958.37,1418.54 L963.38,1419.23 L968.40,1419.84 L973.41,1420.37 L978.43,1420.83 L983.44,1421.20 L988.46,1421.49 L993.47,1421.69 L998.49,1421.82 L1003.50,1421.86 L1003.50,1456.66 L997.91,1456.61 L992.32,1456.48 L986.74,1456.24 L981.16,1455.92 L975.58,1455.51 L970.01,1455.01 L964.45,1454.42 L958.90,1453.74 L953.35,1452.97 L947.82,1452.13 L942.30,1451.19 L936.80,1450.18 L931.30,1449.09 L925.82,1447.93 L920.36,1446.69 L914.91,1445.38 L909.48,1444.00 L904.06,1442.55 L898.67,1441.04 L893.28,1439.47 L887.92,1437.84 L882.57,1436.16 L877.25,1434.43 L871.94,1432.65 L866.64,1430.82 L861.37,1428.95 L856.11,1427.04 L850.88,1425.10 L845.66,1423.12 L840.46,1421.11 L835.27,1419.08 L830.11,1417.03 L824.96,1414.95 L819.83,1412.86 L814.72,1410.76 L809.62,1408.65 L804.55,1406.54 L799.49,1404.42 L794.45,1402.30 L789.42,1400.18 L784.42,1398.08 L779.43,1395.98 L774.46,1393.90 L769.51,1391.84 L764.57,1389.79 L759.66,1387.77 L754.76,1385.77 L749.88,1383.81 L745.01,1381.87 L740.17,1379.97 L735.34,1378.11 L730.53,1376.29 L725.74,1374.51 L720.97,1372.78 L716.21,1371.09 L711.48,1369.46 L706.76,1367.88 L702.06,1366.35 L697.37,1364.87 L692.71,1363.46 L688.06,1362.10 L683.43,1360.81 L678.82,1359.57 L674.22,1358.41 L669.64,1357.30 L665.08,1356.27 L660.53,1355.30 L655.99,1354.40 L651.47,1353.57 L646.96,1352.81 L642.46,1352.12 L637.98,1351.50 L633.50,1350.95 L629.03,1350.48 L624.57,1350.08 L620.12,1349.75 L615.67,1349.49 L611.23,1349.31 L606.79,1349.20 L602.35,1349.16 L597.91,1349.20 L593.47,1349.31 L589.03,1349.49 L584.58,1349.75 L580.13,1350.08 L575.67,1350.48 L571.20,1350.95 L566.72,1351.50 L562.24,1352.12 L557.74,1352.81 L553.23,1353.57 L548.71,1354.40 L544.17,1355.30 L539.62,1356.27 L535.06,1357.30 L530.48,1358.41 L525.88,1359.57 L521.27,1360.81 L516.64,1362.10 L511.99,1363.46 L507.33,1364.87 L502.64,1366.35 L497.94,1367.88 L493.22,1369.46 L488.49,1371.09 L483.73,1372.78 L478.96,1374.51 L474.17,1376.29 L469.36,1378.11 L464.53,1379.97 L459.69,1381.87 L454.82,1383.81 L449.94,1385.77 L445.04,1387.77 L440.13,1389.79 L435.19,1391.84 L430.24,1393.90 L425.27,1395.98 L420.28,1398.08 L415.28,1400.18 L410.25,1402.30 L405.21,1404.42 L400.15,1406.54 L395.08,1408.65 L389.98,1410.76 L384.87,1412.86 L379.74,1414.95 L374.59,1417.03 L369.43,1419.08 L364.24,1421.11 L359.04,1423.12 L353.82,1425.10 L348.59,1427.04 L343.33,1428.95 L338.06,1430.82 L332.76,1432.65 L327.45,1434.43 L322.13,1436.16 L316.78,1437.84 L311.42,1439.47 L306.03,1441.04 L300.64,1442.55 L295.22,1444.00 L289.79,1445.38 L284.34,1446.69 L278.88,1447.93 L273.40,1449.09 L267.90,1450.18 L262.40,1451.19 L256.88,1452.13 L251.35,1452.97 L245.80,1453.74 L240.25,1454.42 L234.69,1455.01 L229.12,1455.51 L223.54,1455.92 L217.96,1456.24 L212.38,1456.48 L206.79,1456.61 L201.20,1456.66Z" fill="#b4b2f5" stroke="#1414e6" stroke-width="2.2" stroke-linejoin="round"/>
<g transform="translate(224.42,1438.41) rotate(-4.23)">
<g transform="rotate(-18)"><rect x="-2.2" y="-19.5" width="4.4" height="8" fill="#fff"/>
<path d="M-2.2,-18V-13.2M2.2,-18V-13.2" stroke="#1414e6" stroke-width="1.8"/></g>
<circle r="14.7" fill="#fff" stroke="#1414e6" stroke-width="1.9"/>
<circle r="10.6" fill="#b4b2f5" stroke="#1414e6" stroke-width="1.9"/>
<g transform="rotate(-18)"><rect x="-1.4" y="-15.2" width="2.8" height="5.2" fill="#fff"/></g>
<g transform="rotate(163.7)"><rect x="-1.3" y="-13.6" width="2.6" height="3.4" fill="#1414e6"/></g>
</g>
<g transform="translate(270.42,1431.94) rotate(-12.02)">
<g transform="rotate(-18)"><rect x="-2.2" y="-19.5" width="4.4" height="8" fill="#fff"/>
<path d="M-2.2,-18V-13.2M2.2,-18V-13.2" stroke="#1414e6" stroke-width="1.8"/></g>
<circle r="14.7" fill="#fff" stroke="#1414e6" stroke-width="1.9"/>
<circle r="10.6" fill="#b4b2f5" stroke="#1414e6" stroke-width="1.9"/>
<g transform="rotate(-18)"><rect x="-1.4" y="-15.2" width="2.8" height="5.2" fill="#fff"/></g>
<g transform="rotate(132.4)"><rect x="-1.3" y="-13.6" width="2.6" height="3.4" fill="#1414e6"/></g>
</g>
<g transform="translate(315.34,1420.06) rotate(-17.47)">
<g transform="rotate(-18)"><rect x="-2.2" y="-19.5" width="4.4" height="8" fill="#fff"/>
<path d="M-2.2,-18V-13.2M2.2,-18V-13.2" stroke="#1414e6" stroke-width="1.8"/></g>
<circle r="14.7" fill="#fff" stroke="#1414e6" stroke-width="1.9"/>
<circle r="10.6" fill="#b4b2f5" stroke="#1414e6" stroke-width="1.9"/>
<g transform="rotate(-18)"><rect x="-1.4" y="-15.2" width="2.8" height="5.2" fill="#fff"/></g>
<g transform="rotate(148.1)"><rect x="-1.3" y="-13.6" width="2.6" height="3.4" fill="#1414e6"/></g>
</g>
<g transform="translate(359.11,1404.44) rotate(-21.40)">
<g transform="rotate(-18)"><rect x="-2.2" y="-19.5" width="4.4" height="8" fill="#fff"/>
<path d="M-2.2,-18V-13.2M2.2,-18V-13.2" stroke="#1414e6" stroke-width="1.8"/></g>
<circle r="14.7" fill="#fff" stroke="#1414e6" stroke-width="1.9"/>
<circle r="10.6" fill="#b4b2f5" stroke="#1414e6" stroke-width="1.9"/>
<g transform="rotate(-18)"><rect x="-1.4" y="-15.2" width="2.8" height="5.2" fill="#fff"/></g>
<g transform="rotate(149.1)"><rect x="-1.3" y="-13.6" width="2.6" height="3.4" fill="#1414e6"/></g>
</g>
<g transform="translate(402.14,1386.84) rotate(-22.79)">
<g transform="rotate(-18)"><rect x="-2.2" y="-19.5" width="4.4" height="8" fill="#fff"/>
<path d="M-2.2,-18V-13.2M2.2,-18V-13.2" stroke="#1414e6" stroke-width="1.8"/></g>
<circle r="14.7" fill="#fff" stroke="#1414e6" stroke-width="1.9"/>
<circle r="10.6" fill="#b4b2f5" stroke="#1414e6" stroke-width="1.9"/>
<g transform="rotate(-18)"><rect x="-1.4" y="-15.2" width="2.8" height="5.2" fill="#fff"/></g>
<g transform="rotate(117.9)"><rect x="-1.3" y="-13.6" width="2.6" height="3.4" fill="#1414e6"/></g>
</g>
<g transform="translate(445.06,1368.98) rotate(-21.94)">
<g transform="rotate(-18)"><rect x="-2.2" y="-19.5" width="4.4" height="8" fill="#fff"/>
<path d="M-2.2,-18V-13.2M2.2,-18V-13.2" stroke="#1414e6" stroke-width="1.8"/></g>
<circle r="14.7" fill="#fff" stroke="#1414e6" stroke-width="1.9"/>
<circle r="10.6" fill="#b4b2f5" stroke="#1414e6" stroke-width="1.9"/>
<g transform="rotate(-18)"><rect x="-1.4" y="-15.2" width="2.8" height="5.2" fill="#fff"/></g>
<g transform="rotate(109.7)"><rect x="-1.3" y="-13.6" width="2.6" height="3.4" fill="#1414e6"/></g>
</g>
<g transform="translate(488.58,1352.66) rotate(-18.55)">
<g transform="rotate(-18)"><rect x="-2.2" y="-19.5" width="4.4" height="8" fill="#fff"/>
<path d="M-2.2,-18V-13.2M2.2,-18V-13.2" stroke="#1414e6" stroke-width="1.8"/></g>
<circle r="14.7" fill="#fff" stroke="#1414e6" stroke-width="1.9"/>
<circle r="10.6" fill="#b4b2f5" stroke="#1414e6" stroke-width="1.9"/>
<g transform="rotate(-18)"><rect x="-1.4" y="-15.2" width="2.8" height="5.2" fill="#fff"/></g>
<g transform="rotate(141.2)"><rect x="-1.3" y="-13.6" width="2.6" height="3.4" fill="#1414e6"/></g>
</g>
<g transform="translate(533.24,1339.87) rotate(-12.79)">
<g transform="rotate(-18)"><rect x="-2.2" y="-19.5" width="4.4" height="8" fill="#fff"/>
<path d="M-2.2,-18V-13.2M2.2,-18V-13.2" stroke="#1414e6" stroke-width="1.8"/></g>
<circle r="14.7" fill="#fff" stroke="#1414e6" stroke-width="1.9"/>
<circle r="10.6" fill="#b4b2f5" stroke="#1414e6" stroke-width="1.9"/>
<g transform="rotate(-18)"><rect x="-1.4" y="-15.2" width="2.8" height="5.2" fill="#fff"/></g>
<g transform="rotate(112.3)"><rect x="-1.3" y="-13.6" width="2.6" height="3.4" fill="#1414e6"/></g>
</g>
<g transform="translate(579.13,1332.70) rotate(-4.23)">
<g transform="rotate(-18)"><rect x="-2.2" y="-19.5" width="4.4" height="8" fill="#fff"/>
<path d="M-2.2,-18V-13.2M2.2,-18V-13.2" stroke="#1414e6" stroke-width="1.8"/></g>
<circle r="14.7" fill="#fff" stroke="#1414e6" stroke-width="1.9"/>
<circle r="10.6" fill="#b4b2f5" stroke="#1414e6" stroke-width="1.9"/>
<g transform="rotate(-18)"><rect x="-1.4" y="-15.2" width="2.8" height="5.2" fill="#fff"/></g>
<g transform="rotate(127.9)"><rect x="-1.3" y="-13.6" width="2.6" height="3.4" fill="#1414e6"/></g>
</g>
<g transform="translate(625.57,1332.70) rotate(4.23)">
<g transform="rotate(-18)"><rect x="-2.2" y="-19.5" width="4.4" height="8" fill="#fff"/>
<path d="M-2.2,-18V-13.2M2.2,-18V-13.2" stroke="#1414e6" stroke-width="1.8"/></g>
<circle r="14.7" fill="#fff" stroke="#1414e6" stroke-width="1.9"/>
<circle r="10.6" fill="#b4b2f5" stroke="#1414e6" stroke-width="1.9"/>
<g transform="rotate(-18)"><rect x="-1.4" y="-15.2" width="2.8" height="5.2" fill="#fff"/></g>
<g transform="rotate(158.4)"><rect x="-1.3" y="-13.6" width="2.6" height="3.4" fill="#1414e6"/></g>
</g>
<g transform="translate(671.46,1339.87) rotate(12.79)">
<g transform="rotate(-18)"><rect x="-2.2" y="-19.5" width="4.4" height="8" fill="#fff"/>
<path d="M-2.2,-18V-13.2M2.2,-18V-13.2" stroke="#1414e6" stroke-width="1.8"/></g>
<circle r="14.7" fill="#fff" stroke="#1414e6" stroke-width="1.9"/>
<circle r="10.6" fill="#b4b2f5" stroke="#1414e6" stroke-width="1.9"/>
<g transform="rotate(-18)"><rect x="-1.4" y="-15.2" width="2.8" height="5.2" fill="#fff"/></g>
<g transform="rotate(157.3)"><rect x="-1.3" y="-13.6" width="2.6" height="3.4" fill="#1414e6"/></g>
</g>
<g transform="translate(716.12,1352.66) rotate(18.55)">
<g transform="rotate(-18)"><rect x="-2.2" y="-19.5" width="4.4" height="8" fill="#fff"/>
<path d="M-2.2,-18V-13.2M2.2,-18V-13.2" stroke="#1414e6" stroke-width="1.8"/></g>
<circle r="14.7" fill="#fff" stroke="#1414e6" stroke-width="1.9"/>
<circle r="10.6" fill="#b4b2f5" stroke="#1414e6" stroke-width="1.9"/>
<g transform="rotate(-18)"><rect x="-1.4" y="-15.2" width="2.8" height="5.2" fill="#fff"/></g>
<g transform="rotate(112.1)"><rect x="-1.3" y="-13.6" width="2.6" height="3.4" fill="#1414e6"/></g>
</g>
<g transform="translate(759.64,1368.98) rotate(21.94)">
<g transform="rotate(-18)"><rect x="-2.2" y="-19.5" width="4.4" height="8" fill="#fff"/>
<path d="M-2.2,-18V-13.2M2.2,-18V-13.2" stroke="#1414e6" stroke-width="1.8"/></g>
<circle r="14.7" fill="#fff" stroke="#1414e6" stroke-width="1.9"/>
<circle r="10.6" fill="#b4b2f5" stroke="#1414e6" stroke-width="1.9"/>
<g transform="rotate(-18)"><rect x="-1.4" y="-15.2" width="2.8" height="5.2" fill="#fff"/></g>
<g transform="rotate(109.9)"><rect x="-1.3" y="-13.6" width="2.6" height="3.4" fill="#1414e6"/></g>
</g>
<g transform="translate(802.56,1386.84) rotate(22.79)">
<g transform="rotate(-18)"><rect x="-2.2" y="-19.5" width="4.4" height="8" fill="#fff"/>
<path d="M-2.2,-18V-13.2M2.2,-18V-13.2" stroke="#1414e6" stroke-width="1.8"/></g>
<circle r="14.7" fill="#fff" stroke="#1414e6" stroke-width="1.9"/>
<circle r="10.6" fill="#b4b2f5" stroke="#1414e6" stroke-width="1.9"/>
<g transform="rotate(-18)"><rect x="-1.4" y="-15.2" width="2.8" height="5.2" fill="#fff"/></g>
<g transform="rotate(118.3)"><rect x="-1.3" y="-13.6" width="2.6" height="3.4" fill="#1414e6"/></g>
</g>
<g transform="translate(845.59,1404.44) rotate(21.40)">
<g transform="rotate(-18)"><rect x="-2.2" y="-19.5" width="4.4" height="8" fill="#fff"/>
<path d="M-2.2,-18V-13.2M2.2,-18V-13.2" stroke="#1414e6" stroke-width="1.8"/></g>
<circle r="14.7" fill="#fff" stroke="#1414e6" stroke-width="1.9"/>
<circle r="10.6" fill="#b4b2f5" stroke="#1414e6" stroke-width="1.9"/>
<g transform="rotate(-18)"><rect x="-1.4" y="-15.2" width="2.8" height="5.2" fill="#fff"/></g>
<g transform="rotate(154.7)"><rect x="-1.3" y="-13.6" width="2.6" height="3.4" fill="#1414e6"/></g>
</g>
<g transform="translate(889.36,1420.06) rotate(17.47)">
<g transform="rotate(-18)"><rect x="-2.2" y="-19.5" width="4.4" height="8" fill="#fff"/>
<path d="M-2.2,-18V-13.2M2.2,-18V-13.2" stroke="#1414e6" stroke-width="1.8"/></g>
<circle r="14.7" fill="#fff" stroke="#1414e6" stroke-width="1.9"/>
<circle r="10.6" fill="#b4b2f5" stroke="#1414e6" stroke-width="1.9"/>
<g transform="rotate(-18)"><rect x="-1.4" y="-15.2" width="2.8" height="5.2" fill="#fff"/></g>
<g transform="rotate(106.5)"><rect x="-1.3" y="-13.6" width="2.6" height="3.4" fill="#1414e6"/></g>
</g>
<g transform="translate(934.28,1431.94) rotate(12.02)">
<g transform="rotate(-18)"><rect x="-2.2" y="-19.5" width="4.4" height="8" fill="#fff"/>
<path d="M-2.2,-18V-13.2M2.2,-18V-13.2" stroke="#1414e6" stroke-width="1.8"/></g>
<circle r="14.7" fill="#fff" stroke="#1414e6" stroke-width="1.9"/>
<circle r="10.6" fill="#b4b2f5" stroke="#1414e6" stroke-width="1.9"/>
<g transform="rotate(-18)"><rect x="-1.4" y="-15.2" width="2.8" height="5.2" fill="#fff"/></g>
<g transform="rotate(118.5)"><rect x="-1.3" y="-13.6" width="2.6" height="3.4" fill="#1414e6"/></g>
</g>
<g transform="translate(980.28,1438.41) rotate(4.23)">
<g transform="rotate(-18)"><rect x="-2.2" y="-19.5" width="4.4" height="8" fill="#fff"/>
<path d="M-2.2,-18V-13.2M2.2,-18V-13.2" stroke="#1414e6" stroke-width="1.8"/></g>
<circle r="14.7" fill="#fff" stroke="#1414e6" stroke-width="1.9"/>
<circle r="10.6" fill="#b4b2f5" stroke="#1414e6" stroke-width="1.9"/>
<g transform="rotate(-18)"><rect x="-1.4" y="-15.2" width="2.8" height="5.2" fill="#fff"/></g>
<g transform="rotate(111.4)"><rect x="-1.3" y="-13.6" width="2.6" height="3.4" fill="#1414e6"/></g>
</g>
<text x="72.6" y="1453.5" font-size="41"><tspan font-style="italic">N</tspan><tspan font-weight="bold"> = 18</tspan></text>
<path d="M201.20,1498.38 L206.21,1498.34 L211.23,1498.21 L216.24,1498.01 L221.26,1497.72 L226.27,1497.35 L231.29,1496.89 L236.30,1496.36 L241.31,1495.75 L246.33,1495.06 L251.34,1494.29 L256.36,1493.44 L261.37,1492.52 L266.39,1491.53 L271.40,1490.46 L276.42,1489.32 L281.43,1488.11 L286.44,1486.84 L291.46,1485.50 L296.47,1484.10 L301.49,1482.64 L306.50,1481.12 L311.52,1479.54 L316.53,1477.91 L321.54,1476.22 L326.56,1474.49 L331.57,1472.71 L336.59,1470.89 L341.60,1469.03 L346.62,1467.13 L351.63,1465.20 L356.65,1463.23 L361.66,1461.24 L366.67,1459.22 L371.69,1457.18 L376.70,1455.12 L381.72,1453.04 L386.73,1450.95 L391.75,1448.85 L396.76,1446.74 L401.77,1444.63 L406.79,1442.52 L411.80,1440.41 L416.82,1438.31 L421.83,1436.22 L426.85,1434.14 L431.86,1432.08 L436.88,1430.04 L441.89,1428.02 L446.90,1426.03 L451.92,1424.06 L456.93,1422.13 L461.95,1420.23 L466.96,1418.37 L471.98,1416.55 L476.99,1414.77 L482.00,1413.04 L487.02,1411.35 L492.03,1409.72 L497.05,1408.14 L502.06,1406.62 L507.08,1405.16 L512.09,1403.76 L517.11,1402.42 L522.12,1401.15 L527.13,1399.94 L532.15,1398.80 L537.16,1397.73 L542.18,1396.74 L547.19,1395.82 L552.21,1394.97 L557.22,1394.20 L562.23,1393.51 L567.25,1392.90 L572.26,1392.37 L577.28,1391.91 L582.29,1391.54 L587.31,1391.25 L592.32,1391.05 L597.34,1390.92 L602.35,1390.88 L607.36,1390.92 L612.38,1391.05 L617.39,1391.25 L622.41,1391.54 L627.42,1391.91 L632.44,1392.37 L637.45,1392.90 L642.46,1393.51 L647.48,1394.20 L652.49,1394.97 L657.51,1395.82 L662.52,1396.74 L667.54,1397.73 L672.55,1398.80 L677.57,1399.94 L682.58,1401.15 L687.59,1402.42 L692.61,1403.76 L697.62,1405.16 L702.64,1406.62 L707.65,1408.14 L712.67,1409.72 L717.68,1411.35 L722.69,1413.04 L727.71,1414.77 L732.72,1416.55 L737.74,1418.37 L742.75,1420.23 L747.77,1422.13 L752.78,1424.06 L757.80,1426.03 L762.81,1428.02 L767.82,1430.04 L772.84,1432.08 L777.85,1434.14 L782.87,1436.22 L787.88,1438.31 L792.90,1440.41 L797.91,1442.52 L802.92,1444.63 L807.94,1446.74 L812.95,1448.85 L817.97,1450.95 L822.98,1453.04 L828.00,1455.12 L833.01,1457.18 L838.03,1459.22 L843.04,1461.24 L848.05,1463.23 L853.07,1465.20 L858.08,1467.13 L863.10,1469.03 L868.11,1470.89 L873.13,1472.71 L878.14,1474.49 L883.15,1476.22 L888.17,1477.91 L893.18,1479.54 L898.20,1481.12 L903.21,1482.64 L908.23,1484.10 L913.24,1485.50 L918.26,1486.84 L923.27,1488.11 L928.28,1489.32 L933.30,1490.46 L938.31,1491.53 L943.33,1492.52 L948.34,1493.44 L953.36,1494.29 L958.37,1495.06 L963.38,1495.75 L968.40,1496.36 L973.41,1496.89 L978.43,1497.35 L983.44,1497.72 L988.46,1498.01 L993.47,1498.21 L998.49,1498.34 L1003.50,1498.38 L1003.50,1533.18 L997.91,1533.13 L992.32,1533.00 L986.74,1532.76 L981.16,1532.44 L975.58,1532.03 L970.01,1531.53 L964.45,1530.94 L958.90,1530.26 L953.35,1529.49 L947.82,1528.65 L942.30,1527.71 L936.80,1526.70 L931.30,1525.61 L925.82,1524.45 L920.36,1523.21 L914.91,1521.90 L909.48,1520.52 L904.06,1519.07 L898.67,1517.56 L893.28,1515.99 L887.92,1514.36 L882.57,1512.68 L877.25,1510.95 L871.94,1509.17 L866.64,1507.34 L861.37,1505.47 L856.11,1503.56 L850.88,1501.62 L845.66,1499.64 L840.46,1497.63 L835.27,1495.60 L830.11,1493.55 L824.96,1491.47 L819.83,1489.38 L814.72,1487.28 L809.62,1485.17 L804.55,1483.06 L799.49,1480.94 L794.45,1478.82 L789.42,1476.70 L784.42,1474.60 L779.43,1472.50 L774.46,1470.42 L769.51,1468.36 L764.57,1466.31 L759.66,1464.29 L754.76,1462.29 L749.88,1460.33 L745.01,1458.39 L740.17,1456.49 L735.34,1454.63 L730.53,1452.81 L725.74,1451.03 L720.97,1449.30 L716.21,1447.61 L711.48,1445.98 L706.76,1444.40 L702.06,1442.87 L697.37,1441.39 L692.71,1439.98 L688.06,1438.62 L683.43,1437.33 L678.82,1436.09 L674.22,1434.93 L669.64,1433.82 L665.08,1432.79 L660.53,1431.82 L655.99,1430.92 L651.47,1430.09 L646.96,1429.33 L642.46,1428.64 L637.98,1428.02 L633.50,1427.47 L629.03,1427.00 L624.57,1426.60 L620.12,1426.27 L615.67,1426.01 L611.23,1425.83 L606.79,1425.72 L602.35,1425.68 L597.91,1425.72 L593.47,1425.83 L589.03,1426.01 L584.58,1426.27 L580.13,1426.60 L575.67,1427.00 L571.20,1427.47 L566.72,1428.02 L562.24,1428.64 L557.74,1429.33 L553.23,1430.09 L548.71,1430.92 L544.17,1431.82 L539.62,1432.79 L535.06,1433.82 L530.48,1434.93 L525.88,1436.09 L521.27,1437.33 L516.64,1438.62 L511.99,1439.98 L507.33,1441.39 L502.64,1442.87 L497.94,1444.40 L493.22,1445.98 L488.49,1447.61 L483.73,1449.30 L478.96,1451.03 L474.17,1452.81 L469.36,1454.63 L464.53,1456.49 L459.69,1458.39 L454.82,1460.33 L449.94,1462.29 L445.04,1464.29 L440.13,1466.31 L435.19,1468.36 L430.24,1470.42 L425.27,1472.50 L420.28,1474.60 L415.28,1476.70 L410.25,1478.82 L405.21,1480.94 L400.15,1483.06 L395.08,1485.17 L389.98,1487.28 L384.87,1489.38 L379.74,1491.47 L374.59,1493.55 L369.43,1495.60 L364.24,1497.63 L359.04,1499.64 L353.82,1501.62 L348.59,1503.56 L343.33,1505.47 L338.06,1507.34 L332.76,1509.17 L327.45,1510.95 L322.13,1512.68 L316.78,1514.36 L311.42,1515.99 L306.03,1517.56 L300.64,1519.07 L295.22,1520.52 L289.79,1521.90 L284.34,1523.21 L278.88,1524.45 L273.40,1525.61 L267.90,1526.70 L262.40,1527.71 L256.88,1528.65 L251.35,1529.49 L245.80,1530.26 L240.25,1530.94 L234.69,1531.53 L229.12,1532.03 L223.54,1532.44 L217.96,1532.76 L212.38,1533.00 L206.79,1533.13 L201.20,1533.18Z" fill="#b4b2f5" stroke="#1414e6" stroke-width="2.2" stroke-linejoin="round"/>
<g transform="translate(227.32,1514.72) rotate(-4.23)">
<g transform="rotate(-18)"><rect x="-2.2" y="-19.5" width="4.4" height="8" fill="#fff"/>
<path d="M-2.2,-18V-13.2M2.2,-18V-13.2" stroke="#1414e6" stroke-width="1.8"/></g>
<circle r="14.7" fill="#fff" stroke="#1414e6" stroke-width="1.9"/>
<circle r="10.6" fill="#b4b2f5" stroke="#1414e6" stroke-width="1.9"/>
<g transform="rotate(-18)"><rect x="-1.4" y="-15.2" width="2.8" height="5.2" fill="#fff"/></g>
<g transform="rotate(162.6)"><rect x="-1.3" y="-13.6" width="2.6" height="3.4" fill="#1414e6"/></g>
</g>
<g transform="translate(278.93,1506.59) rotate(-12.79)">
<g transform="rotate(-18)"><rect x="-2.2" y="-19.5" width="4.4" height="8" fill="#fff"/>
<path d="M-2.2,-18V-13.2M2.2,-18V-13.2" stroke="#1414e6" stroke-width="1.8"/></g>
<circle r="14.7" fill="#fff" stroke="#1414e6" stroke-width="1.9"/>
<circle r="10.6" fill="#b4b2f5" stroke="#1414e6" stroke-width="1.9"/>
<g transform="rotate(-18)"><rect x="-1.4" y="-15.2" width="2.8" height="5.2" fill="#fff"/></g>
<g transform="rotate(157.3)"><rect x="-1.3" y="-13.6" width="2.6" height="3.4" fill="#1414e6"/></g>
</g>
<g transform="translate(329.13,1492.01) rotate(-19.05)">
<g transform="rotate(-18)"><rect x="-2.2" y="-19.5" width="4.4" height="8" fill="#fff"/>
<path d="M-2.2,-18V-13.2M2.2,-18V-13.2" stroke="#1414e6" stroke-width="1.8"/></g>
<circle r="14.7" fill="#fff" stroke="#1414e6" stroke-width="1.9"/>
<circle r="10.6" fill="#b4b2f5" stroke="#1414e6" stroke-width="1.9"/>
<g transform="rotate(-18)"><rect x="-1.4" y="-15.2" width="2.8" height="5.2" fill="#fff"/></g>
<g transform="rotate(148.9)"><rect x="-1.3" y="-13.6" width="2.6" height="3.4" fill="#1414e6"/></g>
</g>
<g transform="translate(377.99,1473.40) rotate(-22.16)">
<g transform="rotate(-18)"><rect x="-2.2" y="-19.5" width="4.4" height="8" fill="#fff"/>
<path d="M-2.2,-18V-13.2M2.2,-18V-13.2" stroke="#1414e6" stroke-width="1.8"/></g>
<circle r="14.7" fill="#fff" stroke="#1414e6" stroke-width="1.9"/>
<circle r="10.6" fill="#b4b2f5" stroke="#1414e6" stroke-width="1.9"/>
<g transform="rotate(-18)"><rect x="-1.4" y="-15.2" width="2.8" height="5.2" fill="#fff"/></g>
<g transform="rotate(118.7)"><rect x="-1.3" y="-13.6" width="2.6" height="3.4" fill="#1414e6"/></g>
</g>
<g transform="translate(426.25,1453.23) rotate(-22.63)">
<g transform="rotate(-18)"><rect x="-2.2" y="-19.5" width="4.4" height="8" fill="#fff"/>
<path d="M-2.2,-18V-13.2M2.2,-18V-13.2" stroke="#1414e6" stroke-width="1.8"/></g>
<circle r="14.7" fill="#fff" stroke="#1414e6" stroke-width="1.9"/>
<circle r="10.6" fill="#b4b2f5" stroke="#1414e6" stroke-width="1.9"/>
<g transform="rotate(-18)"><rect x="-1.4" y="-15.2" width="2.8" height="5.2" fill="#fff"/></g>
<g transform="rotate(124.8)"><rect x="-1.3" y="-13.6" width="2.6" height="3.4" fill="#1414e6"/></g>
</g>
<g transform="translate(474.87,1434.01) rotate(-19.96)">
<g transform="rotate(-18)"><rect x="-2.2" y="-19.5" width="4.4" height="8" fill="#fff"/>
<path d="M-2.2,-18V-13.2M2.2,-18V-13.2" stroke="#1414e6" stroke-width="1.8"/></g>
<circle r="14.7" fill="#fff" stroke="#1414e6" stroke-width="1.9"/>
<circle r="10.6" fill="#b4b2f5" stroke="#1414e6" stroke-width="1.9"/>
<g transform="rotate(-18)"><rect x="-1.4" y="-15.2" width="2.8" height="5.2" fill="#fff"/></g>
<g transform="rotate(147.8)"><rect x="-1.3" y="-13.6" width="2.6" height="3.4" fill="#1414e6"/></g>
</g>
<g transform="translate(524.77,1418.42) rotate(-14.25)">
<g transform="rotate(-18)"><rect x="-2.2" y="-19.5" width="4.4" height="8" fill="#fff"/>
<path d="M-2.2,-18V-13.2M2.2,-18V-13.2" stroke="#1414e6" stroke-width="1.8"/></g>
<circle r="14.7" fill="#fff" stroke="#1414e6" stroke-width="1.9"/>
<circle r="10.6" fill="#b4b2f5" stroke="#1414e6" stroke-width="1.9"/>
<g transform="rotate(-18)"><rect x="-1.4" y="-15.2" width="2.8" height="5.2" fill="#fff"/></g>
<g transform="rotate(153.4)"><rect x="-1.3" y="-13.6" width="2.6" height="3.4" fill="#1414e6"/></g>
</g>
<g transform="translate(576.24,1409.48) rotate(-5.15)">
<g transform="rotate(-18)"><rect x="-2.2" y="-19.5" width="4.4" height="8" fill="#fff"/>
<path d="M-2.2,-18V-13.2M2.2,-18V-13.2" stroke="#1414e6" stroke-width="1.8"/></g>
<circle r="14.7" fill="#fff" stroke="#1414e6" stroke-width="1.9"/>
<circle r="10.6" fill="#b4b2f5" stroke="#1414e6" stroke-width="1.9"/>
<g transform="rotate(-18)"><rect x="-1.4" y="-15.2" width="2.8" height="5.2" fill="#fff"/></g>
<g transform="rotate(106.0)"><rect x="-1.3" y="-13.6" width="2.6" height="3.4" fill="#1414e6"/></g>
</g>
<g transform="translate(628.46,1409.48) rotate(5.15)">
<g transform="rotate(-18)"><rect x="-2.2" y="-19.5" width="4.4" height="8" fill="#fff"/>
<path d="M-2.2,-18V-13.2M2.2,-18V-13.2" stroke="#1414e6" stroke-width="1.8"/></g>
<circle r="14.7" fill="#fff" stroke="#1414e6" stroke-width="1.9"/>
<circle r="10.6" fill="#b4b2f5" stroke="#1414e6" stroke-width="1.9"/>
<g transform="rotate(-18)"><rect x="-1.4" y="-15.2" width="2.8" height="5.2" fill="#fff"/></g>
<g transform="rotate(115.0)"><rect x="-1.3" y="-13.6" width="2.6" height="3.4" fill="#1414e6"/></g>
</g>
<g transform="translate(679.93,1418.42) rotate(14.25)">
<g transform="rotate(-18)"><rect x="-2.2" y="-19.5" width="4.4" height="8" fill="#fff"/>
<path d="M-2.2,-18V-13.2M2.2,-18V-13.2" stroke="#1414e6" stroke-width="1.8"/></g>
<circle r="14.7" fill="#fff" stroke="#1414e6" stroke-width="1.9"/>
<circle r="10.6" fill="#b4b2f5" stroke="#1414e6" stroke-width="1.9"/>
<g transform="rotate(-18)"><rect x="-1.4" y="-15.2" width="2.8" height="5.2" fill="#fff"/></g>
<g transform="rotate(158.7)"><rect x="-1.3" y="-13.6" width="2.6" height="3.4" fill="#1414e6"/></g>
</g>
<g transform="translate(729.83,1434.01) rotate(19.96)">
<g transform="rotate(-18)"><rect x="-2.2" y="-19.5" width="4.4" height="8" fill="#fff"/>
<path d="M-2.2,-18V-13.2M2.2,-18V-13.2" stroke="#1414e6" stroke-width="1.8"/></g>
<circle r="14.7" fill="#fff" stroke="#1414e6" stroke-width="1.9"/>
<circle r="10.6" fill="#b4b2f5" stroke="#1414e6" stroke-width="1.9"/>
<g transform="rotate(-18)"><rect x="-1.4" y="-15.2" width="2.8" height="5.2" fill="#fff"/></g>
<g transform="rotate(112.1)"><rect x="-1.3" y="-13.6" width="2.6" height="3.4" fill="#1414e6"/></g>
</g>
<g transform="translate(778.45,1453.23) rotate(22.63)">
<g transform="rotate(-18)"><rect x="-2.2" y="-19.5" width="4.4" height="8" fill="#fff"/>
<path d="M-2.2,-18V-13.2M2.2,-18V-13.2" stroke="#1414e6" stroke-width="1.8"/></g>
<circle r="14.7" fill="#fff" stroke="#1414e6" stroke-width="1.9"/>
<circle r="10.6" fill="#b4b2f5" stroke="#1414e6" stroke-width="1.9"/>
<g transform="rotate(-18)"><rect x="-1.4" y="-15.2" width="2.8" height="5.2" fill="#fff"/></g>
<g transform="rotate(144.3)"><rect x="-1.3" y="-13.6" width="2.6" height="3.4" fill="#1414e6"/></g>
</g>
<g transform="translate(826.71,1473.40) rotate(22.16)">
<g transform="rotate(-18)"><rect x="-2.2" y="-19.5" width="4.4" height="8" fill="#fff"/>
<path d="M-2.2,-18V-13.2M2.2,-18V-13.2" stroke="#1414e6" stroke-width="1.8"/></g>
<circle r="14.7" fill="#fff" stroke="#1414e6" stroke-width="1.9"/>
<circle r="10.6" fill="#b4b2f5" stroke="#1414e6" stroke-width="1.9"/>
<g transform="rotate(-18)"><rect x="-1.4" y="-15.2" width="2.8" height="5.2" fill="#fff"/></g>
<g transform="rotate(124.8)"><rect x="-1.3" y="-13.6" width="2.6" height="3.4" fill="#1414e6"/></g>
</g>
<g transform="translate(875.57,1492.01) rotate(19.05)">
<g transform="rotate(-18)"><rect x="-2.2" y="-19.5" width="4.4" height="8" fill="#fff"/>
<path d="M-2.2,-18V-13.2M2.2,-18V-13.2" stroke="#1414e6" stroke-width="1.8"/></g>
<circle r="14.7" fill="#fff" stroke="#1414e6" stroke-width="1.9"/>
<circle r="10.6" fill="#b4b2f5" stroke="#1414e6" stroke-width="1.9"/>
<g transform="rotate(-18)"><rect x="-1.4" y="-15.2" width="2.8" height="5.2" fill="#fff"/></g>
<g transform="rotate(143.7)"><rect x="-1.3" y="-13.6" width="2.6" height="3.4" fill="#1414e6"/></g>
</g>
<g transform="translate(925.77,1506.59) rotate(12.79)">
<g transform="rotate(-18)"><rect x="-2.2" y="-19.5" width="4.4" height="8" fill="#fff"/>
<path d="M-2.2,-18V-13.2M2.2,-18V-13.2" stroke="#1414e6" stroke-width="1.8"/></g>
<circle r="14.7" fill="#fff" stroke="#1414e6" stroke-width="1.9"/>
<circle r="10.6" fill="#b4b2f5" stroke="#1414e6" stroke-width="1.9"/>
<g transform="rotate(-18)"><rect x="-1.4" y="-15.2" width="2.8" height="5.2" fill="#fff"/></g>
<g transform="rotate(156.7)"><rect x="-1.3" y="-13.6" width="2.6" height="3.4" fill="#1414e6"/></g>
</g>
<g transform="translate(977.38,1514.72) rotate(4.23)">
<g transform="rotate(-18)"><rect x="-2.2" y="-19.5" width="4.4" height="8" fill="#fff"/>
<path d="M-2.2,-18V-13.2M2.2,-18V-13.2" stroke="#1414e6" stroke-width="1.8"/></g>
<circle r="14.7" fill="#fff" stroke="#1414e6" stroke-width="1.9"/>
<circle r="10.6" fill="#b4b2f5" stroke="#1414e6" stroke-width="1.9"/>
<g transform="rotate(-18)"><rect x="-1.4" y="-15.2" width="2.8" height="5.2" fill="#fff"/></g>
<g transform="rotate(139.9)"><rect x="-1.3" y="-13.6" width="2.6" height="3.4" fill="#1414e6"/></g>
</g>
<text x="68.5" y="1531.4" font-size="41"><tspan font-style="italic">N</tspan><tspan font-weight="bold"> = 16</tspan></text>
<path d="M201.20,1574.90 L206.21,1574.86 L211.23,1574.73 L216.24,1574.53 L221.26,1574.24 L226.27,1573.87 L231.29,1573.41 L236.30,1572.88 L241.31,1572.27 L246.33,1571.58 L251.34,1570.81 L256.36,1569.96 L261.37,1569.04 L266.39,1568.05 L271.40,1566.98 L276.42,1565.84 L281.43,1564.63 L286.44,1563.36 L291.46,1562.02 L296.47,1560.62 L301.49,1559.16 L306.50,1557.64 L311.52,1556.06 L316.53,1554.43 L321.54,1552.74 L326.56,1551.01 L331.57,1549.23 L336.59,1547.41 L341.60,1545.55 L346.62,1543.65 L351.63,1541.72 L356.65,1539.75 L361.66,1537.76 L366.67,1535.74 L371.69,1533.70 L376.70,1531.64 L381.72,1529.56 L386.73,1527.47 L391.75,1525.37 L396.76,1523.26 L401.77,1521.15 L406.79,1519.04 L411.80,1516.93 L416.82,1514.83 L421.83,1512.74 L426.85,1510.66 L431.86,1508.60 L436.88,1506.56 L441.89,1504.54 L446.90,1502.55 L451.92,1500.58 L456.93,1498.65 L461.95,1496.75 L466.96,1494.89 L471.98,1493.07 L476.99,1491.29 L482.00,1489.56 L487.02,1487.87 L492.03,1486.24 L497.05,1484.66 L502.06,1483.14 L507.08,1481.68 L512.09,1480.28 L517.11,1478.94 L522.12,1477.67 L527.13,1476.46 L532.15,1475.32 L537.16,1474.25 L542.18,1473.26 L547.19,1472.34 L552.21,1471.49 L557.22,1470.72 L562.23,1470.03 L567.25,1469.42 L572.26,1468.89 L577.28,1468.43 L582.29,1468.06 L587.31,1467.77 L592.32,1467.57 L597.34,1467.44 L602.35,1467.40 L607.36,1467.44 L612.38,1467.57 L617.39,1467.77 L622.41,1468.06 L627.42,1468.43 L632.44,1468.89 L637.45,1469.42 L642.46,1470.03 L647.48,1470.72 L652.49,1471.49 L657.51,1472.34 L662.52,1473.26 L667.54,1474.25 L672.55,1475.32 L677.57,1476.46 L682.58,1477.67 L687.59,1478.94 L692.61,1480.28 L697.62,1481.68 L702.64,1483.14 L707.65,1484.66 L712.67,1486.24 L717.68,1487.87 L722.69,1489.56 L727.71,1491.29 L732.72,1493.07 L737.74,1494.89 L742.75,1496.75 L747.77,1498.65 L752.78,1500.58 L757.80,1502.55 L762.81,1504.54 L767.82,1506.56 L772.84,1508.60 L777.85,1510.66 L782.87,1512.74 L787.88,1514.83 L792.90,1516.93 L797.91,1519.04 L802.92,1521.15 L807.94,1523.26 L812.95,1525.37 L817.97,1527.47 L822.98,1529.56 L828.00,1531.64 L833.01,1533.70 L838.03,1535.74 L843.04,1537.76 L848.05,1539.75 L853.07,1541.72 L858.08,1543.65 L863.10,1545.55 L868.11,1547.41 L873.13,1549.23 L878.14,1551.01 L883.15,1552.74 L888.17,1554.43 L893.18,1556.06 L898.20,1557.64 L903.21,1559.16 L908.23,1560.62 L913.24,1562.02 L918.26,1563.36 L923.27,1564.63 L928.28,1565.84 L933.30,1566.98 L938.31,1568.05 L943.33,1569.04 L948.34,1569.96 L953.36,1570.81 L958.37,1571.58 L963.38,1572.27 L968.40,1572.88 L973.41,1573.41 L978.43,1573.87 L983.44,1574.24 L988.46,1574.53 L993.47,1574.73 L998.49,1574.86 L1003.50,1574.90 L1003.50,1609.70 L997.91,1609.65 L992.32,1609.52 L986.74,1609.28 L981.16,1608.96 L975.58,1608.55 L970.01,1608.05 L964.45,1607.46 L958.90,1606.78 L953.35,1606.01 L947.82,1605.17 L942.30,1604.23 L936.80,1603.22 L931.30,1602.13 L925.82,1600.97 L920.36,1599.73 L914.91,1598.42 L909.48,1597.04 L904.06,1595.59 L898.67,1594.08 L893.28,1592.51 L887.92,1590.88 L882.57,1589.20 L877.25,1587.47 L871.94,1585.69 L866.64,1583.86 L861.37,1581.99 L856.11,1580.08 L850.88,1578.14 L845.66,1576.16 L840.46,1574.15 L835.27,1572.12 L830.11,1570.07 L824.96,1567.99 L819.83,1565.90 L814.72,1563.80 L809.62,1561.69 L804.55,1559.58 L799.49,1557.46 L794.45,1555.34 L789.42,1553.22 L784.42,1551.12 L779.43,1549.02 L774.46,1546.94 L769.51,1544.88 L764.57,1542.83 L759.66,1540.81 L754.76,1538.81 L749.88,1536.85 L745.01,1534.91 L740.17,1533.01 L735.34,1531.15 L730.53,1529.33 L725.74,1527.55 L720.97,1525.82 L716.21,1524.13 L711.48,1522.50 L706.76,1520.92 L702.06,1519.39 L697.37,1517.91 L692.71,1516.50 L688.06,1515.14 L683.43,1513.85 L678.82,1512.61 L674.22,1511.45 L669.64,1510.34 L665.08,1509.31 L660.53,1508.34 L655.99,1507.44 L651.47,1506.61 L646.96,1505.85 L642.46,1505.16 L637.98,1504.54 L633.50,1503.99 L629.03,1503.52 L624.57,1503.12 L620.12,1502.79 L615.67,1502.53 L611.23,1502.35 L606.79,1502.24 L602.35,1502.20 L597.91,1502.24 L593.47,1502.35 L589.03,1502.53 L584.58,1502.79 L580.13,1503.12 L575.67,1503.52 L571.20,1503.99 L566.72,1504.54 L562.24,1505.16 L557.74,1505.85 L553.23,1506.61 L548.71,1507.44 L544.17,1508.34 L539.62,1509.31 L535.06,1510.34 L530.48,1511.45 L525.88,1512.61 L521.27,1513.85 L516.64,1515.14 L511.99,1516.50 L507.33,1517.91 L502.64,1519.39 L497.94,1520.92 L493.22,1522.50 L488.49,1524.13 L483.73,1525.82 L478.96,1527.55 L474.17,1529.33 L469.36,1531.15 L464.53,1533.01 L459.69,1534.91 L454.82,1536.85 L449.94,1538.81 L445.04,1540.81 L440.13,1542.83 L435.19,1544.88 L430.24,1546.94 L425.27,1549.02 L420.28,1551.12 L415.28,1553.22 L410.25,1555.34 L405.21,1557.46 L400.15,1559.58 L395.08,1561.69 L389.98,1563.80 L384.87,1565.90 L379.74,1567.99 L374.59,1570.07 L369.43,1572.12 L364.24,1574.15 L359.04,1576.16 L353.82,1578.14 L348.59,1580.08 L343.33,1581.99 L338.06,1583.86 L332.76,1585.69 L327.45,1587.47 L322.13,1589.20 L316.78,1590.88 L311.42,1592.51 L306.03,1594.08 L300.64,1595.59 L295.22,1597.04 L289.79,1598.42 L284.34,1599.73 L278.88,1600.97 L273.40,1602.13 L267.90,1603.22 L262.40,1604.23 L256.88,1605.17 L251.35,1606.01 L245.80,1606.78 L240.25,1607.46 L234.69,1608.05 L229.12,1608.55 L223.54,1608.96 L217.96,1609.28 L212.38,1609.52 L206.79,1609.65 L201.20,1609.70Z" fill="#b4b2f5" stroke="#1414e6" stroke-width="2.2" stroke-linejoin="round"/>
<g transform="translate(231.04,1590.91) rotate(-5.15)">
<g transform="rotate(-18)"><rect x="-2.2" y="-19.5" width="4.4" height="8" fill="#fff"/>
<path d="M-2.2,-18V-13.2M2.2,-18V-13.2" stroke="#1414e6" stroke-width="1.8"/></g>
<circle r="14.7" fill="#fff" stroke="#1414e6" stroke-width="1.9"/>
<circle r="10.6" fill="#b4b2f5" stroke="#1414e6" stroke-width="1.9"/>
<g transform="rotate(-18)"><rect x="-1.4" y="-15.2" width="2.8" height="5.2" fill="#fff"/></g>
<g transform="rotate(157.7)"><rect x="-1.3" y="-13.6" width="2.6" height="3.4" fill="#1414e6"/></g>
</g>
<g transform="translate(289.82,1580.46) rotate(-14.25)">
<g transform="rotate(-18)"><rect x="-2.2" y="-19.5" width="4.4" height="8" fill="#fff"/>
<path d="M-2.2,-18V-13.2M2.2,-18V-13.2" stroke="#1414e6" stroke-width="1.8"/></g>
<circle r="14.7" fill="#fff" stroke="#1414e6" stroke-width="1.9"/>
<circle r="10.6" fill="#b4b2f5" stroke="#1414e6" stroke-width="1.9"/>
<g transform="rotate(-18)"><rect x="-1.4" y="-15.2" width="2.8" height="5.2" fill="#fff"/></g>
<g transform="rotate(125.9)"><rect x="-1.3" y="-13.6" width="2.6" height="3.4" fill="#1414e6"/></g>
</g>
<g transform="translate(346.71,1562.22) rotate(-20.37)">
<g transform="rotate(-18)"><rect x="-2.2" y="-19.5" width="4.4" height="8" fill="#fff"/>
<path d="M-2.2,-18V-13.2M2.2,-18V-13.2" stroke="#1414e6" stroke-width="1.8"/></g>
<circle r="14.7" fill="#fff" stroke="#1414e6" stroke-width="1.9"/>
<circle r="10.6" fill="#b4b2f5" stroke="#1414e6" stroke-width="1.9"/>
<g transform="rotate(-18)"><rect x="-1.4" y="-15.2" width="2.8" height="5.2" fill="#fff"/></g>
<g transform="rotate(152.4)"><rect x="-1.3" y="-13.6" width="2.6" height="3.4" fill="#1414e6"/></g>
</g>
<g transform="translate(402.14,1539.88) rotate(-22.79)">
<g transform="rotate(-18)"><rect x="-2.2" y="-19.5" width="4.4" height="8" fill="#fff"/>
<path d="M-2.2,-18V-13.2M2.2,-18V-13.2" stroke="#1414e6" stroke-width="1.8"/></g>
<circle r="14.7" fill="#fff" stroke="#1414e6" stroke-width="1.9"/>
<circle r="10.6" fill="#b4b2f5" stroke="#1414e6" stroke-width="1.9"/>
<g transform="rotate(-18)"><rect x="-1.4" y="-15.2" width="2.8" height="5.2" fill="#fff"/></g>
<g transform="rotate(162.1)"><rect x="-1.3" y="-13.6" width="2.6" height="3.4" fill="#1414e6"/></g>
</g>
<g transform="translate(457.40,1517.12) rotate(-21.40)">
<g transform="rotate(-18)"><rect x="-2.2" y="-19.5" width="4.4" height="8" fill="#fff"/>
<path d="M-2.2,-18V-13.2M2.2,-18V-13.2" stroke="#1414e6" stroke-width="1.8"/></g>
<circle r="14.7" fill="#fff" stroke="#1414e6" stroke-width="1.9"/>
<circle r="10.6" fill="#b4b2f5" stroke="#1414e6" stroke-width="1.9"/>
<g transform="rotate(-18)"><rect x="-1.4" y="-15.2" width="2.8" height="5.2" fill="#fff"/></g>
<g transform="rotate(123.7)"><rect x="-1.3" y="-13.6" width="2.6" height="3.4" fill="#1414e6"/></g>
</g>
<g transform="translate(513.94,1497.83) rotate(-15.62)">
<g transform="rotate(-18)"><rect x="-2.2" y="-19.5" width="4.4" height="8" fill="#fff"/>
<path d="M-2.2,-18V-13.2M2.2,-18V-13.2" stroke="#1414e6" stroke-width="1.8"/></g>
<circle r="14.7" fill="#fff" stroke="#1414e6" stroke-width="1.9"/>
<circle r="10.6" fill="#b4b2f5" stroke="#1414e6" stroke-width="1.9"/>
<g transform="rotate(-18)"><rect x="-1.4" y="-15.2" width="2.8" height="5.2" fill="#fff"/></g>
<g transform="rotate(151.1)"><rect x="-1.3" y="-13.6" width="2.6" height="3.4" fill="#1414e6"/></g>
</g>
<g transform="translate(572.52,1486.36) rotate(-6.07)">
<g transform="rotate(-18)"><rect x="-2.2" y="-19.5" width="4.4" height="8" fill="#fff"/>
<path d="M-2.2,-18V-13.2M2.2,-18V-13.2" stroke="#1414e6" stroke-width="1.8"/></g>
<circle r="14.7" fill="#fff" stroke="#1414e6" stroke-width="1.9"/>
<circle r="10.6" fill="#b4b2f5" stroke="#1414e6" stroke-width="1.9"/>
<g transform="rotate(-18)"><rect x="-1.4" y="-15.2" width="2.8" height="5.2" fill="#fff"/></g>
<g transform="rotate(125.1)"><rect x="-1.3" y="-13.6" width="2.6" height="3.4" fill="#1414e6"/></g>
</g>
<g transform="translate(632.18,1486.36) rotate(6.07)">
<g transform="rotate(-18)"><rect x="-2.2" y="-19.5" width="4.4" height="8" fill="#fff"/>
<path d="M-2.2,-18V-13.2M2.2,-18V-13.2" stroke="#1414e6" stroke-width="1.8"/></g>
<circle r="14.7" fill="#fff" stroke="#1414e6" stroke-width="1.9"/>
<circle r="10.6" fill="#b4b2f5" stroke="#1414e6" stroke-width="1.9"/>
<g transform="rotate(-18)"><rect x="-1.4" y="-15.2" width="2.8" height="5.2" fill="#fff"/></g>
<g transform="rotate(114.8)"><rect x="-1.3" y="-13.6" width="2.6" height="3.4" fill="#1414e6"/></g>
</g>
<g transform="translate(690.76,1497.83) rotate(15.62)">
<g transform="rotate(-18)"><rect x="-2.2" y="-19.5" width="4.4" height="8" fill="#fff"/>
<path d="M-2.2,-18V-13.2M2.2,-18V-13.2" stroke="#1414e6" stroke-width="1.8"/></g>
<circle r="14.7" fill="#fff" stroke="#1414e6" stroke-width="1.9"/>
<circle r="10.6" fill="#b4b2f5" stroke="#1414e6" stroke-width="1.9"/>
<g transform="rotate(-18)"><rect x="-1.4" y="-15.2" width="2.8" height="5.2" fill="#fff"/></g>
<g transform="rotate(125.9)"><rect x="-1.3" y="-13.6" width="2.6" height="3.4" fill="#1414e6"/></g>
</g>
<g transform="translate(747.30,1517.12) rotate(21.40)">
<g transform="rotate(-18)"><rect x="-2.2" y="-19.5" width="4.4" height="8" fill="#fff"/>
<path d="M-2.2,-18V-13.2M2.2,-18V-13.2" stroke="#1414e6" stroke-width="1.8"/></g>
<circle r="14.7" fill="#fff" stroke="#1414e6" stroke-width="1.9"/>
<circle r="10.6" fill="#b4b2f5" stroke="#1414e6" stroke-width="1.9"/>
<g transform="rotate(-18)"><rect x="-1.4" y="-15.2" width="2.8" height="5.2" fill="#fff"/></g>
<g transform="rotate(150.1)"><rect x="-1.3" y="-13.6" width="2.6" height="3.4" fill="#1414e6"/></g>
</g>
<g transform="translate(802.56,1539.88) rotate(22.79)">
<g transform="rotate(-18)"><rect x="-2.2" y="-19.5" width="4.4" height="8" fill="#fff"/>
<path d="M-2.2,-18V-13.2M2.2,-18V-13.2" stroke="#1414e6" stroke-width="1.8"/></g>
<circle r="14.7" fill="#fff" stroke="#1414e6" stroke-width="1.9"/>
<circle r="10.6" fill="#b4b2f5" stroke="#1414e6" stroke-width="1.9"/>
<g transform="rotate(-18)"><rect x="-1.4" y="-15.2" width="2.8" height="5.2" fill="#fff"/></g>
<g transform="rotate(113.9)"><rect x="-1.3" y="-13.6" width="2.6" height="3.4" fill="#1414e6"/></g>
</g>
<g transform="translate(857.99,1562.22) rotate(20.37)">
<g transform="rotate(-18)"><rect x="-2.2" y="-19.5" width="4.4" height="8" fill="#fff"/>
<path d="M-2.2,-18V-13.2M2.2,-18V-13.2" stroke="#1414e6" stroke-width="1.8"/></g>
<circle r="14.7" fill="#fff" stroke="#1414e6" stroke-width="1.9"/>
<circle r="10.6" fill="#b4b2f5" stroke="#1414e6" stroke-width="1.9"/>
<g transform="rotate(-18)"><rect x="-1.4" y="-15.2" width="2.8" height="5.2" fill="#fff"/></g>
<g transform="rotate(144.6)"><rect x="-1.3" y="-13.6" width="2.6" height="3.4" fill="#1414e6"/></g>
</g>
<g transform="translate(914.88,1580.46) rotate(14.25)">
<g transform="rotate(-18)"><rect x="-2.2" y="-19.5" width="4.4" height="8" fill="#fff"/>
<path d="M-2.2,-18V-13.2M2.2,-18V-13.2" stroke="#1414e6" stroke-width="1.8"/></g>
<circle r="14.7" fill="#fff" stroke="#1414e6" stroke-width="1.9"/>
<circle r="10.6" fill="#b4b2f5" stroke="#1414e6" stroke-width="1.9"/>
<g transform="rotate(-18)"><rect x="-1.4" y="-15.2" width="2.8" height="5.2" fill="#fff"/></g>
<g transform="rotate(126.1)"><rect x="-1.3" y="-13.6" width="2.6" height="3.4" fill="#1414e6"/></g>
</g>
<g transform="translate(973.66,1590.91) rotate(5.15)">
<g transform="rotate(-18)"><rect x="-2.2" y="-19.5" width="4.4" height="8" fill="#fff"/>
<path d="M-2.2,-18V-13.2M2.2,-18V-13.2" stroke="#1414e6" stroke-width="1.8"/></g>
<circle r="14.7" fill="#fff" stroke="#1414e6" stroke-width="1.9"/>
<circle r="10.6" fill="#b4b2f5" stroke="#1414e6" stroke-width="1.9"/>
<g transform="rotate(-18)"><rect x="-1.4" y="-15.2" width="2.8" height="5.2" fill="#fff"/></g>
<g transform="rotate(115.1)"><rect x="-1.3" y="-13.6" width="2.6" height="3.4" fill="#1414e6"/></g>
</g>
<text x="68.5" y="1606.3" font-size="41"><tspan font-style="italic">N</tspan><tspan font-weight="bold"> = 14</tspan></text>
<text x="1024.5" y="1053.3" font-size="39.5" font-weight="bold">(h)</text>
<g fill="none" stroke-width="3.4" stroke-linejoin="round">
<path d="M1178.60,1194.20 L1180.40,1193.00 L1182.21,1191.93 L1184.01,1190.98 L1185.82,1190.15 L1187.62,1189.45 L1189.43,1188.89 L1191.23,1188.46 L1193.04,1188.18 L1194.85,1188.03 L1196.65,1188.04 L1198.45,1188.20 L1200.26,1188.53 L1202.06,1189.04 L1203.87,1189.73 L1205.67,1190.62 L1207.48,1191.72 L1209.28,1193.02 L1211.09,1194.48 L1212.89,1196.06 L1214.70,1197.72 L1216.50,1199.43 L1218.31,1201.13 L1220.12,1202.80 L1221.92,1204.42 L1223.72,1205.97 L1225.53,1207.44 L1227.33,1208.82 L1229.14,1210.08 L1230.94,1211.22 L1232.75,1212.22 L1234.55,1213.10 L1236.36,1213.85 L1238.16,1214.47 L1239.97,1214.97 L1241.77,1215.36 L1243.58,1215.66 L1245.38,1215.90 L1247.19,1216.11 L1248.99,1216.32 L1250.80,1216.53 L1252.61,1216.74 L1254.41,1216.94 L1256.21,1217.13 L1258.02,1217.30 L1259.83,1217.43 L1261.63,1217.53 L1263.43,1217.60 L1265.24,1217.66 L1267.04,1217.73 L1268.85,1217.82 L1270.65,1217.96 L1272.46,1218.16 L1274.26,1218.47 L1276.07,1218.90 L1277.88,1219.47 L1279.68,1220.16 L1281.48,1220.94 L1283.29,1221.77 L1285.10,1222.64 L1286.90,1223.50 L1288.70,1224.37 L1290.51,1225.24 L1292.31,1226.13 L1294.12,1227.05 L1295.92,1228.01 L1297.73,1229.01 L1299.53,1230.06 L1301.34,1231.17 L1303.14,1232.35 L1304.95,1233.61 L1306.75,1234.94 L1308.56,1236.31 L1310.37,1237.70 L1312.17,1239.08 L1313.97,1240.44 L1315.78,1241.76 L1317.59,1243.00 L1319.39,1244.16 L1321.19,1245.20 L1323.00,1246.10 L1324.80,1246.85 L1326.61,1247.48 L1328.41,1247.98 L1330.22,1248.36 L1332.02,1248.63 L1333.83,1248.81 L1335.63,1248.90 L1337.44,1248.91 L1339.24,1248.82 L1341.05,1248.62 L1342.86,1248.30 L1344.66,1247.83 L1346.46,1247.21 L1348.27,1246.42 L1350.08,1245.45 L1351.88,1244.29 L1353.68,1242.98 L1355.49,1241.54 L1357.29,1240.00 L1359.10,1238.40 L1360.90,1236.74 L1362.71,1235.08 L1364.51,1233.42 L1366.32,1231.79 L1368.12,1230.21 L1369.93,1228.70 L1371.73,1227.27 L1373.54,1225.95 L1375.35,1224.74 L1377.15,1223.68 L1378.95,1222.77 L1380.76,1222.01 L1382.57,1221.39 L1384.37,1220.92 L1386.17,1220.59 L1387.98,1220.41 L1389.78,1220.38 L1391.59,1220.48 L1393.39,1220.70 L1395.20,1221.04 L1397.01,1221.48 L1398.81,1222.01 L1400.62,1222.60 L1402.42,1223.26 L1404.22,1223.96 L1406.03,1224.70 L1407.84,1225.47 L1409.64,1226.26 L1411.44,1227.07 L1413.25,1227.88 L1415.06,1228.69 L1416.86,1229.49 L1418.66,1230.28 L1420.47,1231.04 L1422.28,1231.78 L1424.08,1232.49 L1425.88,1233.15 L1427.69,1233.76 L1429.49,1234.32 L1431.30,1234.82 L1433.11,1235.25 L1434.91,1235.62 L1436.71,1235.91 L1438.52,1236.13 L1440.32,1236.30 L1442.13,1236.41 L1443.93,1236.46 L1445.74,1236.47 L1447.55,1236.44 L1449.35,1236.38 L1451.15,1236.28 L1452.96,1236.15 L1454.77,1236.00 L1456.57,1235.82 L1458.38,1235.63 L1460.18,1235.42 L1461.99,1235.19 L1463.79,1234.94 L1465.60,1234.69 L1467.40,1234.42 L1469.20,1234.14 L1471.01,1233.86 L1472.82,1233.57 L1474.62,1233.28 L1476.42,1232.99 L1478.23,1232.69 L1480.04,1232.41 L1481.84,1232.12 L1483.64,1231.85 L1485.45,1231.58 L1487.26,1231.33 L1489.06,1231.09 L1490.87,1230.88 L1492.67,1230.68 L1494.47,1230.51 L1496.28,1230.36 L1498.09,1230.24 L1499.89,1230.15 L1501.69,1230.10 L1503.50,1230.08 L1505.31,1230.10 L1507.11,1230.15 L1508.91,1230.24 L1510.72,1230.36 L1512.53,1230.51 L1514.33,1230.68 L1516.13,1230.88 L1517.94,1231.09 L1519.74,1231.33 L1521.55,1231.58 L1523.36,1231.85 L1525.16,1232.12 L1526.96,1232.41 L1528.77,1232.69 L1530.58,1232.99 L1532.38,1233.28 L1534.18,1233.57 L1535.99,1233.86 L1537.80,1234.14 L1539.60,1234.42 L1541.40,1234.69 L1543.21,1234.94 L1545.01,1235.19 L1546.82,1235.42 L1548.62,1235.63 L1550.43,1235.82 L1552.23,1236.00 L1554.04,1236.15 L1555.85,1236.28 L1557.65,1236.38 L1559.45,1236.44 L1561.26,1236.47 L1563.07,1236.46 L1564.87,1236.41 L1566.67,1236.30 L1568.48,1236.13 L1570.29,1235.91 L1572.09,1235.62 L1573.89,1235.25 L1575.70,1234.82 L1577.51,1234.32 L1579.31,1233.76 L1581.12,1233.15 L1582.92,1232.49 L1584.72,1231.78 L1586.53,1231.04 L1588.34,1230.28 L1590.14,1229.49 L1591.94,1228.69 L1593.75,1227.88 L1595.56,1227.07 L1597.36,1226.26 L1599.16,1225.47 L1600.97,1224.70 L1602.78,1223.96 L1604.58,1223.26 L1606.38,1222.60 L1608.19,1222.01 L1609.99,1221.48 L1611.80,1221.04 L1613.61,1220.70 L1615.41,1220.48 L1617.21,1220.38 L1619.02,1220.41 L1620.83,1220.59 L1622.63,1220.92 L1624.43,1221.39 L1626.24,1222.01 L1628.05,1222.77 L1629.85,1223.68 L1631.65,1224.74 L1633.46,1225.95 L1635.26,1227.27 L1637.07,1228.70 L1638.88,1230.21 L1640.68,1231.79 L1642.48,1233.42 L1644.29,1235.08 L1646.10,1236.74 L1647.90,1238.40 L1649.70,1240.00 L1651.51,1241.54 L1653.32,1242.98 L1655.12,1244.29 L1656.93,1245.45 L1658.73,1246.42 L1660.53,1247.21 L1662.34,1247.83 L1664.14,1248.30 L1665.95,1248.62 L1667.76,1248.82 L1669.56,1248.91 L1671.37,1248.90 L1673.17,1248.81 L1674.97,1248.63 L1676.78,1248.36 L1678.59,1247.98 L1680.39,1247.48 L1682.20,1246.85 L1684.00,1246.10 L1685.81,1245.20 L1687.61,1244.16 L1689.41,1243.00 L1691.22,1241.76 L1693.03,1240.44 L1694.83,1239.08 L1696.63,1237.70 L1698.44,1236.31 L1700.24,1234.94 L1702.05,1233.61 L1703.86,1232.35 L1705.66,1231.17 L1707.47,1230.06 L1709.27,1229.01 L1711.08,1228.01 L1712.88,1227.05 L1714.68,1226.13 L1716.49,1225.24 L1718.30,1224.37 L1720.10,1223.50 L1721.90,1222.64 L1723.71,1221.77 L1725.52,1220.94 L1727.32,1220.16 L1729.12,1219.47 L1730.93,1218.90 L1732.74,1218.47 L1734.54,1218.16 L1736.35,1217.96 L1738.15,1217.82 L1739.95,1217.73 L1741.76,1217.66 L1743.57,1217.60 L1745.37,1217.53 L1747.17,1217.43 L1748.98,1217.30 L1750.79,1217.13 L1752.59,1216.94 L1754.39,1216.74 L1756.20,1216.53 L1758.01,1216.32 L1759.81,1216.11 L1761.62,1215.90 L1763.42,1215.66 L1765.23,1215.36 L1767.03,1214.97 L1768.84,1214.47 L1770.64,1213.85 L1772.45,1213.10 L1774.25,1212.22 L1776.06,1211.22 L1777.86,1210.08 L1779.66,1208.82 L1781.47,1207.44 L1783.28,1205.97 L1785.08,1204.42 L1786.89,1202.80 L1788.69,1201.13 L1790.50,1199.43 L1792.30,1197.72 L1794.11,1196.06 L1795.91,1194.48 L1797.72,1193.02 L1799.52,1191.72 L1801.33,1190.62 L1803.13,1189.73 L1804.93,1189.04 L1806.74,1188.53 L1808.55,1188.20 L1810.35,1188.04 L1812.16,1188.03 L1813.96,1188.18 L1815.77,1188.46 L1817.57,1188.89 L1819.38,1189.45 L1821.18,1190.15 L1822.99,1190.98 L1824.79,1191.93 L1826.60,1193.00 L1828.40,1194.20" stroke="#0000ff"/>
<path d="M1178.60,1189.49 L1180.40,1188.49 L1182.21,1187.56 L1184.01,1186.73 L1185.82,1185.99 L1187.62,1185.37 L1189.43,1184.87 L1191.23,1184.49 L1193.04,1184.26 L1194.85,1184.17 L1196.65,1184.25 L1198.45,1184.49 L1200.26,1184.90 L1202.06,1185.51 L1203.87,1186.31 L1205.67,1187.32 L1207.48,1188.53 L1209.28,1189.96 L1211.09,1191.56 L1212.89,1193.31 L1214.70,1195.17 L1216.50,1197.11 L1218.31,1199.10 L1220.12,1201.12 L1221.92,1203.11 L1223.72,1205.06 L1225.53,1206.92 L1227.33,1208.66 L1229.14,1210.24 L1230.94,1211.63 L1232.75,1212.82 L1234.55,1213.82 L1236.36,1214.65 L1238.16,1215.33 L1239.97,1215.86 L1241.77,1216.28 L1243.58,1216.59 L1245.38,1216.83 L1247.19,1217.02 L1248.99,1217.18 L1250.80,1217.33 L1252.61,1217.46 L1254.41,1217.57 L1256.21,1217.65 L1258.02,1217.70 L1259.83,1217.72 L1261.63,1217.71 L1263.43,1217.69 L1265.24,1217.69 L1267.04,1217.73 L1268.85,1217.84 L1270.65,1218.04 L1272.46,1218.32 L1274.26,1218.71 L1276.07,1219.20 L1277.88,1219.80 L1279.68,1220.49 L1281.48,1221.26 L1283.29,1222.08 L1285.10,1222.93 L1286.90,1223.80 L1288.70,1224.67 L1290.51,1225.56 L1292.31,1226.48 L1294.12,1227.44 L1295.92,1228.43 L1297.73,1229.47 L1299.53,1230.56 L1301.34,1231.71 L1303.14,1232.93 L1304.95,1234.22 L1306.75,1235.57 L1308.56,1236.97 L1310.37,1238.38 L1312.17,1239.78 L1313.97,1241.17 L1315.78,1242.51 L1317.59,1243.78 L1319.39,1244.97 L1321.19,1246.05 L1323.00,1247.01 L1324.80,1247.82 L1326.61,1248.51 L1328.41,1249.06 L1330.22,1249.49 L1332.02,1249.80 L1333.83,1249.99 L1335.63,1250.08 L1337.44,1250.05 L1339.24,1249.90 L1341.05,1249.62 L1342.86,1249.21 L1344.66,1248.65 L1346.46,1247.94 L1348.27,1247.05 L1350.08,1246.00 L1351.88,1244.77 L1353.68,1243.41 L1355.49,1241.92 L1357.29,1240.35 L1359.10,1238.72 L1360.90,1237.05 L1362.71,1235.37 L1364.51,1233.70 L1366.32,1232.07 L1368.12,1230.49 L1369.93,1228.98 L1371.73,1227.55 L1373.54,1226.23 L1375.35,1225.04 L1377.15,1223.98 L1378.95,1223.07 L1380.76,1222.31 L1382.57,1221.69 L1384.37,1221.22 L1386.17,1220.90 L1387.98,1220.71 L1389.78,1220.67 L1391.59,1220.76 L1393.39,1220.97 L1395.20,1221.30 L1397.01,1221.73 L1398.81,1222.26 L1400.62,1222.86 L1402.42,1223.54 L1404.22,1224.28 L1406.03,1225.06 L1407.84,1225.88 L1409.64,1226.72 L1411.44,1227.58 L1413.25,1228.43 L1415.06,1229.27 L1416.86,1230.09 L1418.66,1230.88 L1420.47,1231.62 L1422.28,1232.30 L1424.08,1232.93 L1425.88,1233.51 L1427.69,1234.03 L1429.49,1234.50 L1431.30,1234.91 L1433.11,1235.27 L1434.91,1235.58 L1436.71,1235.84 L1438.52,1236.04 L1440.32,1236.21 L1442.13,1236.34 L1443.93,1236.43 L1445.74,1236.49 L1447.55,1236.53 L1449.35,1236.55 L1451.15,1236.55 L1452.96,1236.54 L1454.77,1236.51 L1456.57,1236.48 L1458.38,1236.43 L1460.18,1236.38 L1461.99,1236.32 L1463.79,1236.26 L1465.60,1236.19 L1467.40,1236.12 L1469.20,1236.04 L1471.01,1235.97 L1472.82,1235.89 L1474.62,1235.81 L1476.42,1235.73 L1478.23,1235.66 L1480.04,1235.59 L1481.84,1235.52 L1483.64,1235.45 L1485.45,1235.39 L1487.26,1235.34 L1489.06,1235.29 L1490.87,1235.24 L1492.67,1235.20 L1494.47,1235.16 L1496.28,1235.13 L1498.09,1235.11 L1499.89,1235.09 L1501.69,1235.08 L1503.50,1235.08 L1505.31,1235.08 L1507.11,1235.09 L1508.91,1235.11 L1510.72,1235.13 L1512.53,1235.16 L1514.33,1235.20 L1516.13,1235.24 L1517.94,1235.29 L1519.74,1235.34 L1521.55,1235.39 L1523.36,1235.45 L1525.16,1235.52 L1526.96,1235.59 L1528.77,1235.66 L1530.58,1235.73 L1532.38,1235.81 L1534.18,1235.89 L1535.99,1235.97 L1537.80,1236.04 L1539.60,1236.12 L1541.40,1236.19 L1543.21,1236.26 L1545.01,1236.32 L1546.82,1236.38 L1548.62,1236.43 L1550.43,1236.48 L1552.23,1236.51 L1554.04,1236.54 L1555.85,1236.55 L1557.65,1236.55 L1559.45,1236.53 L1561.26,1236.49 L1563.07,1236.43 L1564.87,1236.34 L1566.67,1236.21 L1568.48,1236.04 L1570.29,1235.84 L1572.09,1235.58 L1573.89,1235.27 L1575.70,1234.91 L1577.51,1234.50 L1579.31,1234.03 L1581.12,1233.51 L1582.92,1232.93 L1584.72,1232.30 L1586.53,1231.62 L1588.34,1230.88 L1590.14,1230.09 L1591.94,1229.27 L1593.75,1228.43 L1595.56,1227.58 L1597.36,1226.72 L1599.16,1225.88 L1600.97,1225.06 L1602.78,1224.28 L1604.58,1223.54 L1606.38,1222.86 L1608.19,1222.26 L1609.99,1221.73 L1611.80,1221.30 L1613.61,1220.97 L1615.41,1220.76 L1617.21,1220.67 L1619.02,1220.71 L1620.83,1220.90 L1622.63,1221.22 L1624.43,1221.69 L1626.24,1222.31 L1628.05,1223.07 L1629.85,1223.98 L1631.65,1225.04 L1633.46,1226.23 L1635.26,1227.55 L1637.07,1228.98 L1638.88,1230.49 L1640.68,1232.07 L1642.48,1233.70 L1644.29,1235.37 L1646.10,1237.05 L1647.90,1238.72 L1649.70,1240.35 L1651.51,1241.92 L1653.32,1243.41 L1655.12,1244.77 L1656.93,1246.00 L1658.73,1247.05 L1660.53,1247.94 L1662.34,1248.65 L1664.14,1249.21 L1665.95,1249.62 L1667.76,1249.90 L1669.56,1250.05 L1671.37,1250.08 L1673.17,1249.99 L1674.97,1249.80 L1676.78,1249.49 L1678.59,1249.06 L1680.39,1248.51 L1682.20,1247.82 L1684.00,1247.01 L1685.81,1246.05 L1687.61,1244.97 L1689.41,1243.78 L1691.22,1242.51 L1693.03,1241.17 L1694.83,1239.78 L1696.63,1238.38 L1698.44,1236.97 L1700.24,1235.57 L1702.05,1234.22 L1703.86,1232.93 L1705.66,1231.71 L1707.47,1230.56 L1709.27,1229.47 L1711.08,1228.43 L1712.88,1227.44 L1714.68,1226.48 L1716.49,1225.56 L1718.30,1224.67 L1720.10,1223.80 L1721.90,1222.93 L1723.71,1222.08 L1725.52,1221.26 L1727.32,1220.49 L1729.12,1219.80 L1730.93,1219.20 L1732.74,1218.71 L1734.54,1218.32 L1736.35,1218.04 L1738.15,1217.84 L1739.95,1217.73 L1741.76,1217.69 L1743.57,1217.69 L1745.37,1217.71 L1747.17,1217.72 L1748.98,1217.70 L1750.79,1217.65 L1752.59,1217.57 L1754.39,1217.46 L1756.20,1217.33 L1758.01,1217.18 L1759.81,1217.02 L1761.62,1216.83 L1763.42,1216.59 L1765.23,1216.28 L1767.03,1215.86 L1768.84,1215.33 L1770.64,1214.65 L1772.45,1213.82 L1774.25,1212.82 L1776.06,1211.63 L1777.86,1210.24 L1779.66,1208.66 L1781.47,1206.92 L1783.28,1205.06 L1785.08,1203.11 L1786.89,1201.12 L1788.69,1199.10 L1790.50,1197.11 L1792.30,1195.17 L1794.11,1193.31 L1795.91,1191.56 L1797.72,1189.96 L1799.52,1188.53 L1801.33,1187.32 L1803.13,1186.31 L1804.93,1185.51 L1806.74,1184.90 L1808.55,1184.49 L1810.35,1184.25 L1812.16,1184.17 L1813.96,1184.26 L1815.77,1184.49 L1817.57,1184.87 L1819.38,1185.37 L1821.18,1185.99 L1822.99,1186.73 L1824.79,1187.56 L1826.60,1188.49 L1828.40,1189.49" stroke="#ff0000" stroke-dasharray="12.5 13.5"/>
<path d="M1178.60,1185.67 L1180.40,1184.51 L1182.21,1183.44 L1184.01,1182.48 L1185.82,1181.63 L1187.62,1180.91 L1189.43,1180.32 L1191.23,1179.88 L1193.04,1179.60 L1194.85,1179.48 L1196.65,1179.54 L1198.45,1179.78 L1200.26,1180.22 L1202.06,1180.87 L1203.87,1181.74 L1205.67,1182.84 L1207.48,1184.17 L1209.28,1185.74 L1211.09,1187.52 L1212.89,1189.48 L1214.70,1191.60 L1216.50,1193.85 L1218.31,1196.20 L1220.12,1198.62 L1221.92,1201.06 L1223.72,1203.45 L1225.53,1205.75 L1227.33,1207.88 L1229.14,1209.80 L1230.94,1211.45 L1232.75,1212.82 L1234.55,1213.95 L1236.36,1214.85 L1238.16,1215.59 L1239.97,1216.18 L1241.77,1216.66 L1243.58,1217.05 L1245.38,1217.35 L1247.19,1217.59 L1248.99,1217.78 L1250.80,1217.92 L1252.61,1218.02 L1254.41,1218.08 L1256.21,1218.10 L1258.02,1218.08 L1259.83,1218.02 L1261.63,1217.92 L1263.43,1217.81 L1265.24,1217.74 L1267.04,1217.73 L1268.85,1217.82 L1270.65,1218.00 L1272.46,1218.30 L1274.26,1218.69 L1276.07,1219.20 L1277.88,1219.80 L1279.68,1220.50 L1281.48,1221.26 L1283.29,1222.08 L1285.10,1222.93 L1286.90,1223.80 L1288.70,1224.69 L1290.51,1225.60 L1292.31,1226.54 L1294.12,1227.52 L1295.92,1228.55 L1297.73,1229.62 L1299.53,1230.75 L1301.34,1231.95 L1303.14,1233.21 L1304.95,1234.55 L1306.75,1235.95 L1308.56,1237.39 L1310.37,1238.86 L1312.17,1240.32 L1313.97,1241.76 L1315.78,1243.16 L1317.59,1244.50 L1319.39,1245.75 L1321.19,1246.90 L1323.00,1247.92 L1324.80,1248.81 L1326.61,1249.56 L1328.41,1250.17 L1330.22,1250.64 L1332.02,1250.98 L1333.83,1251.19 L1335.63,1251.25 L1337.44,1251.18 L1339.24,1250.97 L1341.05,1250.61 L1342.86,1250.11 L1344.66,1249.46 L1346.46,1248.65 L1348.27,1247.68 L1350.08,1246.55 L1351.88,1245.27 L1353.68,1243.86 L1355.49,1242.34 L1357.29,1240.74 L1359.10,1239.08 L1360.90,1237.38 L1362.71,1235.66 L1364.51,1233.96 L1366.32,1232.29 L1368.12,1230.66 L1369.93,1229.11 L1371.73,1227.64 L1373.54,1226.28 L1375.35,1225.05 L1377.15,1223.97 L1378.95,1223.04 L1380.76,1222.27 L1382.57,1221.65 L1384.37,1221.19 L1386.17,1220.87 L1387.98,1220.70 L1389.78,1220.67 L1391.59,1220.79 L1393.39,1221.03 L1395.20,1221.40 L1397.01,1221.87 L1398.81,1222.43 L1400.62,1223.08 L1402.42,1223.81 L1404.22,1224.60 L1406.03,1225.44 L1407.84,1226.31 L1409.64,1227.22 L1411.44,1228.14 L1413.25,1229.06 L1415.06,1229.98 L1416.86,1230.87 L1418.66,1231.72 L1420.47,1232.53 L1422.28,1233.29 L1424.08,1234.00 L1425.88,1234.65 L1427.69,1235.25 L1429.49,1235.80 L1431.30,1236.29 L1433.11,1236.72 L1434.91,1237.10 L1436.71,1237.43 L1438.52,1237.71 L1440.32,1237.95 L1442.13,1238.16 L1443.93,1238.34 L1445.74,1238.49 L1447.55,1238.63 L1449.35,1238.76 L1451.15,1238.88 L1452.96,1238.99 L1454.77,1239.11 L1456.57,1239.23 L1458.38,1239.35 L1460.18,1239.46 L1461.99,1239.57 L1463.79,1239.68 L1465.60,1239.79 L1467.40,1239.89 L1469.20,1239.99 L1471.01,1240.08 L1472.82,1240.16 L1474.62,1240.24 L1476.42,1240.31 L1478.23,1240.38 L1480.04,1240.43 L1481.84,1240.48 L1483.64,1240.52 L1485.45,1240.56 L1487.26,1240.58 L1489.06,1240.61 L1490.87,1240.62 L1492.67,1240.64 L1494.47,1240.65 L1496.28,1240.66 L1498.09,1240.66 L1499.89,1240.66 L1501.69,1240.66 L1503.50,1240.66 L1505.31,1240.66 L1507.11,1240.66 L1508.91,1240.66 L1510.72,1240.66 L1512.53,1240.65 L1514.33,1240.64 L1516.13,1240.62 L1517.94,1240.61 L1519.74,1240.58 L1521.55,1240.56 L1523.36,1240.52 L1525.16,1240.48 L1526.96,1240.43 L1528.77,1240.38 L1530.58,1240.31 L1532.38,1240.24 L1534.18,1240.16 L1535.99,1240.08 L1537.80,1239.99 L1539.60,1239.89 L1541.40,1239.79 L1543.21,1239.68 L1545.01,1239.57 L1546.82,1239.46 L1548.62,1239.35 L1550.43,1239.23 L1552.23,1239.11 L1554.04,1238.99 L1555.85,1238.88 L1557.65,1238.76 L1559.45,1238.63 L1561.26,1238.49 L1563.07,1238.34 L1564.87,1238.16 L1566.67,1237.95 L1568.48,1237.71 L1570.29,1237.43 L1572.09,1237.10 L1573.89,1236.72 L1575.70,1236.29 L1577.51,1235.80 L1579.31,1235.25 L1581.12,1234.65 L1582.92,1234.00 L1584.72,1233.29 L1586.53,1232.53 L1588.34,1231.72 L1590.14,1230.87 L1591.94,1229.98 L1593.75,1229.06 L1595.56,1228.14 L1597.36,1227.22 L1599.16,1226.31 L1600.97,1225.44 L1602.78,1224.60 L1604.58,1223.81 L1606.38,1223.08 L1608.19,1222.43 L1609.99,1221.87 L1611.80,1221.40 L1613.61,1221.03 L1615.41,1220.79 L1617.21,1220.67 L1619.02,1220.70 L1620.83,1220.87 L1622.63,1221.19 L1624.43,1221.65 L1626.24,1222.27 L1628.05,1223.04 L1629.85,1223.97 L1631.65,1225.05 L1633.46,1226.28 L1635.26,1227.64 L1637.07,1229.11 L1638.88,1230.66 L1640.68,1232.29 L1642.48,1233.96 L1644.29,1235.66 L1646.10,1237.38 L1647.90,1239.08 L1649.70,1240.74 L1651.51,1242.34 L1653.32,1243.86 L1655.12,1245.27 L1656.93,1246.55 L1658.73,1247.68 L1660.53,1248.65 L1662.34,1249.46 L1664.14,1250.11 L1665.95,1250.61 L1667.76,1250.97 L1669.56,1251.18 L1671.37,1251.25 L1673.17,1251.19 L1674.97,1250.98 L1676.78,1250.64 L1678.59,1250.17 L1680.39,1249.56 L1682.20,1248.81 L1684.00,1247.92 L1685.81,1246.90 L1687.61,1245.75 L1689.41,1244.50 L1691.22,1243.16 L1693.03,1241.76 L1694.83,1240.32 L1696.63,1238.86 L1698.44,1237.39 L1700.24,1235.95 L1702.05,1234.55 L1703.86,1233.21 L1705.66,1231.95 L1707.47,1230.75 L1709.27,1229.62 L1711.08,1228.55 L1712.88,1227.52 L1714.68,1226.54 L1716.49,1225.60 L1718.30,1224.69 L1720.10,1223.80 L1721.90,1222.93 L1723.71,1222.08 L1725.52,1221.26 L1727.32,1220.50 L1729.12,1219.80 L1730.93,1219.20 L1732.74,1218.69 L1734.54,1218.30 L1736.35,1218.00 L1738.15,1217.82 L1739.95,1217.73 L1741.76,1217.74 L1743.57,1217.81 L1745.37,1217.92 L1747.17,1218.02 L1748.98,1218.08 L1750.79,1218.10 L1752.59,1218.08 L1754.39,1218.02 L1756.20,1217.92 L1758.01,1217.78 L1759.81,1217.59 L1761.62,1217.35 L1763.42,1217.05 L1765.23,1216.66 L1767.03,1216.18 L1768.84,1215.59 L1770.64,1214.85 L1772.45,1213.95 L1774.25,1212.82 L1776.06,1211.45 L1777.86,1209.80 L1779.66,1207.88 L1781.47,1205.75 L1783.28,1203.45 L1785.08,1201.06 L1786.89,1198.62 L1788.69,1196.20 L1790.50,1193.85 L1792.30,1191.60 L1794.11,1189.48 L1795.91,1187.52 L1797.72,1185.74 L1799.52,1184.17 L1801.33,1182.84 L1803.13,1181.74 L1804.93,1180.87 L1806.74,1180.22 L1808.55,1179.78 L1810.35,1179.54 L1812.16,1179.48 L1813.96,1179.60 L1815.77,1179.88 L1817.57,1180.32 L1819.38,1180.91 L1821.18,1181.63 L1822.99,1182.48 L1824.79,1183.44 L1826.60,1184.51 L1828.40,1185.67" stroke="#008000"/>
<path d="M1178.60,1181.26 L1180.40,1179.35 L1182.21,1177.68 L1184.01,1176.24 L1185.82,1175.02 L1187.62,1174.02 L1189.43,1173.24 L1191.23,1172.67 L1193.04,1172.30 L1194.85,1172.14 L1196.65,1172.18 L1198.45,1172.42 L1200.26,1172.89 L1202.06,1173.62 L1203.87,1174.61 L1205.67,1175.91 L1207.48,1177.53 L1209.28,1179.47 L1211.09,1181.68 L1212.89,1184.13 L1214.70,1186.76 L1216.50,1189.55 L1218.31,1192.43 L1220.12,1195.37 L1221.92,1198.31 L1223.72,1201.20 L1225.53,1203.98 L1227.33,1206.59 L1229.14,1208.98 L1230.94,1211.10 L1232.75,1212.92 L1234.55,1214.48 L1236.36,1215.79 L1238.16,1216.87 L1239.97,1217.76 L1241.77,1218.47 L1243.58,1219.02 L1245.38,1219.42 L1247.19,1219.68 L1248.99,1219.81 L1250.80,1219.84 L1252.61,1219.78 L1254.41,1219.64 L1256.21,1219.44 L1258.02,1219.19 L1259.83,1218.90 L1261.63,1218.60 L1263.43,1218.33 L1265.24,1218.12 L1267.04,1218.01 L1268.85,1218.05 L1270.65,1218.22 L1272.46,1218.52 L1274.26,1218.94 L1276.07,1219.49 L1277.88,1220.15 L1279.68,1220.90 L1281.48,1221.73 L1283.29,1222.61 L1285.10,1223.51 L1286.90,1224.43 L1288.70,1225.37 L1290.51,1226.32 L1292.31,1227.30 L1294.12,1228.31 L1295.92,1229.36 L1297.73,1230.46 L1299.53,1231.61 L1301.34,1232.82 L1303.14,1234.09 L1304.95,1235.44 L1306.75,1236.85 L1308.56,1238.30 L1310.37,1239.78 L1312.17,1241.26 L1313.97,1242.72 L1315.78,1244.15 L1317.59,1245.53 L1319.39,1246.83 L1321.19,1248.04 L1323.00,1249.14 L1324.80,1250.11 L1326.61,1250.96 L1328.41,1251.67 L1330.22,1252.23 L1332.02,1252.65 L1333.83,1252.91 L1335.63,1253.02 L1337.44,1252.95 L1339.24,1252.72 L1341.05,1252.33 L1342.86,1251.78 L1344.66,1251.07 L1346.46,1250.20 L1348.27,1249.18 L1350.08,1248.00 L1351.88,1246.68 L1353.68,1245.24 L1355.49,1243.71 L1357.29,1242.11 L1359.10,1240.47 L1360.90,1238.80 L1362.71,1237.14 L1364.51,1235.49 L1366.32,1233.89 L1368.12,1232.35 L1369.93,1230.88 L1371.73,1229.50 L1373.54,1228.22 L1375.35,1227.07 L1377.15,1226.06 L1378.95,1225.20 L1380.76,1224.48 L1382.57,1223.90 L1384.37,1223.47 L1386.17,1223.18 L1387.98,1223.04 L1389.78,1223.03 L1391.59,1223.16 L1393.39,1223.41 L1395.20,1223.78 L1397.01,1224.25 L1398.81,1224.81 L1400.62,1225.46 L1402.42,1226.17 L1404.22,1226.94 L1406.03,1227.76 L1407.84,1228.62 L1409.64,1229.52 L1411.44,1230.45 L1413.25,1231.40 L1415.06,1232.36 L1416.86,1233.33 L1418.66,1234.30 L1420.47,1235.26 L1422.28,1236.21 L1424.08,1237.13 L1425.88,1238.02 L1427.69,1238.87 L1429.49,1239.67 L1431.30,1240.40 L1433.11,1241.07 L1434.91,1241.65 L1436.71,1242.16 L1438.52,1242.61 L1440.32,1242.99 L1442.13,1243.32 L1443.93,1243.60 L1445.74,1243.85 L1447.55,1244.07 L1449.35,1244.26 L1451.15,1244.45 L1452.96,1244.63 L1454.77,1244.81 L1456.57,1244.99 L1458.38,1245.16 L1460.18,1245.33 L1461.99,1245.49 L1463.79,1245.66 L1465.60,1245.82 L1467.40,1245.98 L1469.20,1246.13 L1471.01,1246.28 L1472.82,1246.43 L1474.62,1246.57 L1476.42,1246.72 L1478.23,1246.85 L1480.04,1246.99 L1481.84,1247.12 L1483.64,1247.24 L1485.45,1247.36 L1487.26,1247.48 L1489.06,1247.58 L1490.87,1247.67 L1492.67,1247.76 L1494.47,1247.83 L1496.28,1247.90 L1498.09,1247.95 L1499.89,1247.99 L1501.69,1248.01 L1503.50,1248.02 L1505.31,1248.01 L1507.11,1247.99 L1508.91,1247.95 L1510.72,1247.90 L1512.53,1247.83 L1514.33,1247.76 L1516.13,1247.67 L1517.94,1247.58 L1519.74,1247.48 L1521.55,1247.36 L1523.36,1247.24 L1525.16,1247.12 L1526.96,1246.99 L1528.77,1246.85 L1530.58,1246.72 L1532.38,1246.57 L1534.18,1246.43 L1535.99,1246.28 L1537.80,1246.13 L1539.60,1245.98 L1541.40,1245.82 L1543.21,1245.66 L1545.01,1245.49 L1546.82,1245.33 L1548.62,1245.16 L1550.43,1244.99 L1552.23,1244.81 L1554.04,1244.63 L1555.85,1244.45 L1557.65,1244.26 L1559.45,1244.07 L1561.26,1243.85 L1563.07,1243.60 L1564.87,1243.32 L1566.67,1242.99 L1568.48,1242.61 L1570.29,1242.16 L1572.09,1241.65 L1573.89,1241.07 L1575.70,1240.40 L1577.51,1239.67 L1579.31,1238.87 L1581.12,1238.02 L1582.92,1237.13 L1584.72,1236.21 L1586.53,1235.26 L1588.34,1234.30 L1590.14,1233.33 L1591.94,1232.36 L1593.75,1231.40 L1595.56,1230.45 L1597.36,1229.52 L1599.16,1228.62 L1600.97,1227.76 L1602.78,1226.94 L1604.58,1226.17 L1606.38,1225.46 L1608.19,1224.81 L1609.99,1224.25 L1611.80,1223.78 L1613.61,1223.41 L1615.41,1223.16 L1617.21,1223.03 L1619.02,1223.04 L1620.83,1223.18 L1622.63,1223.47 L1624.43,1223.90 L1626.24,1224.48 L1628.05,1225.20 L1629.85,1226.06 L1631.65,1227.07 L1633.46,1228.22 L1635.26,1229.50 L1637.07,1230.88 L1638.88,1232.35 L1640.68,1233.89 L1642.48,1235.49 L1644.29,1237.14 L1646.10,1238.80 L1647.90,1240.47 L1649.70,1242.11 L1651.51,1243.71 L1653.32,1245.24 L1655.12,1246.68 L1656.93,1248.00 L1658.73,1249.18 L1660.53,1250.20 L1662.34,1251.07 L1664.14,1251.78 L1665.95,1252.33 L1667.76,1252.72 L1669.56,1252.95 L1671.37,1253.02 L1673.17,1252.91 L1674.97,1252.65 L1676.78,1252.23 L1678.59,1251.67 L1680.39,1250.96 L1682.20,1250.11 L1684.00,1249.14 L1685.81,1248.04 L1687.61,1246.83 L1689.41,1245.53 L1691.22,1244.15 L1693.03,1242.72 L1694.83,1241.26 L1696.63,1239.78 L1698.44,1238.30 L1700.24,1236.85 L1702.05,1235.44 L1703.86,1234.09 L1705.66,1232.82 L1707.47,1231.61 L1709.27,1230.46 L1711.08,1229.36 L1712.88,1228.31 L1714.68,1227.30 L1716.49,1226.32 L1718.30,1225.37 L1720.10,1224.43 L1721.90,1223.51 L1723.71,1222.61 L1725.52,1221.73 L1727.32,1220.90 L1729.12,1220.15 L1730.93,1219.49 L1732.74,1218.94 L1734.54,1218.52 L1736.35,1218.22 L1738.15,1218.05 L1739.95,1218.01 L1741.76,1218.12 L1743.57,1218.33 L1745.37,1218.60 L1747.17,1218.90 L1748.98,1219.19 L1750.79,1219.44 L1752.59,1219.64 L1754.39,1219.78 L1756.20,1219.84 L1758.01,1219.81 L1759.81,1219.68 L1761.62,1219.42 L1763.42,1219.02 L1765.23,1218.47 L1767.03,1217.76 L1768.84,1216.87 L1770.64,1215.79 L1772.45,1214.48 L1774.25,1212.92 L1776.06,1211.10 L1777.86,1208.98 L1779.66,1206.59 L1781.47,1203.98 L1783.28,1201.20 L1785.08,1198.31 L1786.89,1195.37 L1788.69,1192.43 L1790.50,1189.55 L1792.30,1186.76 L1794.11,1184.13 L1795.91,1181.68 L1797.72,1179.47 L1799.52,1177.53 L1801.33,1175.91 L1803.13,1174.61 L1804.93,1173.62 L1806.74,1172.89 L1808.55,1172.42 L1810.35,1172.18 L1812.16,1172.14 L1813.96,1172.30 L1815.77,1172.67 L1817.57,1173.24 L1819.38,1174.02 L1821.18,1175.02 L1822.99,1176.24 L1824.79,1177.68 L1826.60,1179.35 L1828.40,1181.26" stroke="#c000c0" stroke-dasharray="12 5 5 5"/>
<path d="M1178.60,1170.08 L1180.40,1168.60 L1182.21,1167.25 L1184.01,1166.03 L1185.82,1164.96 L1187.62,1164.06 L1189.43,1163.34 L1191.23,1162.81 L1193.04,1162.49 L1194.85,1162.38 L1196.65,1162.51 L1198.45,1162.89 L1200.26,1163.52 L1202.06,1164.41 L1203.87,1165.57 L1205.67,1167.02 L1207.48,1168.75 L1209.28,1170.80 L1211.09,1173.19 L1212.89,1175.97 L1214.70,1179.17 L1216.50,1182.83 L1218.31,1186.99 L1220.12,1191.61 L1221.92,1196.44 L1223.72,1201.19 L1225.53,1205.56 L1227.33,1209.28 L1229.14,1212.29 L1230.94,1214.69 L1232.75,1216.59 L1234.55,1218.09 L1236.36,1219.32 L1238.16,1220.37 L1239.97,1221.33 L1241.77,1222.18 L1243.58,1222.88 L1245.38,1223.38 L1247.19,1223.64 L1248.99,1223.63 L1250.80,1223.40 L1252.61,1223.00 L1254.41,1222.47 L1256.21,1221.86 L1258.02,1221.23 L1259.83,1220.61 L1261.63,1220.03 L1263.43,1219.52 L1265.24,1219.13 L1267.04,1218.88 L1268.85,1218.80 L1270.65,1218.89 L1272.46,1219.13 L1274.26,1219.53 L1276.07,1220.08 L1277.88,1220.77 L1279.68,1221.57 L1281.48,1222.46 L1283.29,1223.41 L1285.10,1224.39 L1286.90,1225.38 L1288.70,1226.38 L1290.51,1227.39 L1292.31,1228.42 L1294.12,1229.49 L1295.92,1230.59 L1297.73,1231.74 L1299.53,1232.94 L1301.34,1234.21 L1303.14,1235.54 L1304.95,1236.95 L1306.75,1238.43 L1308.56,1239.95 L1310.37,1241.50 L1312.17,1243.06 L1313.97,1244.61 L1315.78,1246.14 L1317.59,1247.61 L1319.39,1249.02 L1321.19,1250.34 L1323.00,1251.55 L1324.80,1252.65 L1326.61,1253.62 L1328.41,1254.45 L1330.22,1255.14 L1332.02,1255.68 L1333.83,1256.05 L1335.63,1256.25 L1337.44,1256.28 L1339.24,1256.13 L1341.05,1255.81 L1342.86,1255.33 L1344.66,1254.69 L1346.46,1253.90 L1348.27,1252.95 L1350.08,1251.87 L1351.88,1250.65 L1353.68,1249.33 L1355.49,1247.92 L1357.29,1246.44 L1359.10,1244.92 L1360.90,1243.38 L1362.71,1241.84 L1364.51,1240.32 L1366.32,1238.84 L1368.12,1237.42 L1369.93,1236.07 L1371.73,1234.80 L1373.54,1233.64 L1375.35,1232.60 L1377.15,1231.70 L1378.95,1230.95 L1380.76,1230.33 L1382.57,1229.85 L1384.37,1229.50 L1386.17,1229.28 L1387.98,1229.19 L1389.78,1229.22 L1391.59,1229.36 L1393.39,1229.62 L1395.20,1229.98 L1397.01,1230.43 L1398.81,1230.99 L1400.62,1231.62 L1402.42,1232.34 L1404.22,1233.13 L1406.03,1233.98 L1407.84,1234.89 L1409.64,1235.83 L1411.44,1236.81 L1413.25,1237.81 L1415.06,1238.81 L1416.86,1239.80 L1418.66,1240.78 L1420.47,1241.72 L1422.28,1242.63 L1424.08,1243.50 L1425.88,1244.34 L1427.69,1245.13 L1429.49,1245.88 L1431.30,1246.58 L1433.11,1247.24 L1434.91,1247.85 L1436.71,1248.41 L1438.52,1248.93 L1440.32,1249.41 L1442.13,1249.85 L1443.93,1250.24 L1445.74,1250.61 L1447.55,1250.93 L1449.35,1251.23 L1451.15,1251.50 L1452.96,1251.74 L1454.77,1251.95 L1456.57,1252.16 L1458.38,1252.35 L1460.18,1252.54 L1461.99,1252.73 L1463.79,1252.94 L1465.60,1253.16 L1467.40,1253.41 L1469.20,1253.68 L1471.01,1253.99 L1472.82,1254.34 L1474.62,1254.74 L1476.42,1255.20 L1478.23,1255.72 L1480.04,1256.30 L1481.84,1256.93 L1483.64,1257.60 L1485.45,1258.29 L1487.26,1258.98 L1489.06,1259.67 L1490.87,1260.33 L1492.67,1260.95 L1494.47,1261.52 L1496.28,1262.02 L1498.09,1262.43 L1499.89,1262.75 L1501.69,1262.95 L1503.50,1263.02 L1505.31,1262.95 L1507.11,1262.75 L1508.91,1262.43 L1510.72,1262.02 L1512.53,1261.52 L1514.33,1260.95 L1516.13,1260.33 L1517.94,1259.67 L1519.74,1258.98 L1521.55,1258.29 L1523.36,1257.60 L1525.16,1256.93 L1526.96,1256.30 L1528.77,1255.72 L1530.58,1255.20 L1532.38,1254.74 L1534.18,1254.34 L1535.99,1253.99 L1537.80,1253.68 L1539.60,1253.41 L1541.40,1253.16 L1543.21,1252.94 L1545.01,1252.73 L1546.82,1252.54 L1548.62,1252.35 L1550.43,1252.16 L1552.23,1251.95 L1554.04,1251.74 L1555.85,1251.50 L1557.65,1251.23 L1559.45,1250.93 L1561.26,1250.61 L1563.07,1250.24 L1564.87,1249.85 L1566.67,1249.41 L1568.48,1248.93 L1570.29,1248.41 L1572.09,1247.85 L1573.89,1247.24 L1575.70,1246.58 L1577.51,1245.88 L1579.31,1245.13 L1581.12,1244.34 L1582.92,1243.50 L1584.72,1242.63 L1586.53,1241.72 L1588.34,1240.78 L1590.14,1239.80 L1591.94,1238.81 L1593.75,1237.81 L1595.56,1236.81 L1597.36,1235.83 L1599.16,1234.89 L1600.97,1233.98 L1602.78,1233.13 L1604.58,1232.34 L1606.38,1231.62 L1608.19,1230.99 L1609.99,1230.43 L1611.80,1229.98 L1613.61,1229.62 L1615.41,1229.36 L1617.21,1229.22 L1619.02,1229.19 L1620.83,1229.28 L1622.63,1229.50 L1624.43,1229.85 L1626.24,1230.33 L1628.05,1230.95 L1629.85,1231.70 L1631.65,1232.60 L1633.46,1233.64 L1635.26,1234.80 L1637.07,1236.07 L1638.88,1237.42 L1640.68,1238.84 L1642.48,1240.32 L1644.29,1241.84 L1646.10,1243.38 L1647.90,1244.92 L1649.70,1246.44 L1651.51,1247.92 L1653.32,1249.33 L1655.12,1250.65 L1656.93,1251.87 L1658.73,1252.95 L1660.53,1253.90 L1662.34,1254.69 L1664.14,1255.33 L1665.95,1255.81 L1667.76,1256.13 L1669.56,1256.28 L1671.37,1256.25 L1673.17,1256.05 L1674.97,1255.68 L1676.78,1255.14 L1678.59,1254.45 L1680.39,1253.62 L1682.20,1252.65 L1684.00,1251.55 L1685.81,1250.34 L1687.61,1249.02 L1689.41,1247.61 L1691.22,1246.14 L1693.03,1244.61 L1694.83,1243.06 L1696.63,1241.50 L1698.44,1239.95 L1700.24,1238.43 L1702.05,1236.95 L1703.86,1235.54 L1705.66,1234.21 L1707.47,1232.94 L1709.27,1231.74 L1711.08,1230.59 L1712.88,1229.49 L1714.68,1228.42 L1716.49,1227.39 L1718.30,1226.38 L1720.10,1225.38 L1721.90,1224.39 L1723.71,1223.41 L1725.52,1222.46 L1727.32,1221.57 L1729.12,1220.77 L1730.93,1220.08 L1732.74,1219.53 L1734.54,1219.13 L1736.35,1218.89 L1738.15,1218.80 L1739.95,1218.88 L1741.76,1219.13 L1743.57,1219.52 L1745.37,1220.03 L1747.17,1220.61 L1748.98,1221.23 L1750.79,1221.86 L1752.59,1222.47 L1754.39,1223.00 L1756.20,1223.40 L1758.01,1223.63 L1759.81,1223.64 L1761.62,1223.38 L1763.42,1222.88 L1765.23,1222.18 L1767.03,1221.33 L1768.84,1220.37 L1770.64,1219.32 L1772.45,1218.09 L1774.25,1216.59 L1776.06,1214.69 L1777.86,1212.29 L1779.66,1209.28 L1781.47,1205.56 L1783.28,1201.19 L1785.08,1196.44 L1786.89,1191.61 L1788.69,1186.99 L1790.50,1182.83 L1792.30,1179.17 L1794.11,1175.97 L1795.91,1173.19 L1797.72,1170.80 L1799.52,1168.75 L1801.33,1167.02 L1803.13,1165.57 L1804.93,1164.41 L1806.74,1163.52 L1808.55,1162.89 L1810.35,1162.51 L1812.16,1162.38 L1813.96,1162.49 L1815.77,1162.81 L1817.57,1163.34 L1819.38,1164.06 L1821.18,1164.96 L1822.99,1166.03 L1824.79,1167.25 L1826.60,1168.60 L1828.40,1170.08" stroke="#00a0a0"/>
<path d="M1178.60,1167.14 L1180.40,1165.32 L1182.21,1163.72 L1184.01,1162.34 L1185.82,1161.17 L1187.62,1160.22 L1189.43,1159.49 L1191.23,1158.97 L1193.04,1158.66 L1194.85,1158.57 L1196.65,1158.68 L1198.45,1159.02 L1200.26,1159.60 L1202.06,1160.47 L1203.87,1161.63 L1205.67,1163.13 L1207.48,1164.99 L1209.28,1167.23 L1211.09,1169.88 L1212.89,1172.95 L1214.70,1176.48 L1216.50,1180.48 L1218.31,1184.96 L1220.12,1189.89 L1221.92,1195.01 L1223.72,1200.01 L1225.53,1204.60 L1227.33,1208.50 L1229.14,1211.64 L1230.94,1214.15 L1232.75,1216.13 L1234.55,1217.70 L1236.36,1218.98 L1238.16,1220.08 L1239.97,1221.09 L1241.77,1222.00 L1243.58,1222.76 L1245.38,1223.32 L1247.19,1223.65 L1248.99,1223.72 L1250.80,1223.57 L1252.61,1223.24 L1254.41,1222.75 L1256.21,1222.16 L1258.02,1221.51 L1259.83,1220.83 L1261.63,1220.18 L1263.43,1219.61 L1265.24,1219.16 L1267.04,1218.88 L1268.85,1218.82 L1270.65,1218.95 L1272.46,1219.27 L1274.26,1219.75 L1276.07,1220.37 L1277.88,1221.12 L1279.68,1221.98 L1281.48,1222.92 L1283.29,1223.92 L1285.10,1224.97 L1286.90,1226.04 L1288.70,1227.14 L1290.51,1228.26 L1292.31,1229.41 L1294.12,1230.60 L1295.92,1231.84 L1297.73,1233.12 L1299.53,1234.45 L1301.34,1235.83 L1303.14,1237.28 L1304.95,1238.79 L1306.75,1240.35 L1308.56,1241.96 L1310.37,1243.60 L1312.17,1245.27 L1313.97,1246.94 L1315.78,1248.60 L1317.59,1250.24 L1319.39,1251.86 L1321.19,1253.43 L1323.00,1254.94 L1324.80,1256.39 L1326.61,1257.74 L1328.41,1258.98 L1330.22,1260.10 L1332.02,1261.06 L1333.83,1261.86 L1335.63,1262.48 L1337.44,1262.89 L1339.24,1263.08 L1341.05,1263.05 L1342.86,1262.80 L1344.66,1262.36 L1346.46,1261.73 L1348.27,1260.94 L1350.08,1259.99 L1351.88,1258.90 L1353.68,1257.68 L1355.49,1256.37 L1357.29,1254.97 L1359.10,1253.51 L1360.90,1252.03 L1362.71,1250.53 L1364.51,1249.04 L1366.32,1247.59 L1368.12,1246.19 L1369.93,1244.86 L1371.73,1243.60 L1373.54,1242.42 L1375.35,1241.34 L1377.15,1240.36 L1378.95,1239.49 L1380.76,1238.74 L1382.57,1238.13 L1384.37,1237.65 L1386.17,1237.31 L1387.98,1237.12 L1389.78,1237.08 L1391.59,1237.20 L1393.39,1237.48 L1395.20,1237.90 L1397.01,1238.46 L1398.81,1239.13 L1400.62,1239.91 L1402.42,1240.79 L1404.22,1241.74 L1406.03,1242.76 L1407.84,1243.82 L1409.64,1244.93 L1411.44,1246.05 L1413.25,1247.18 L1415.06,1248.30 L1416.86,1249.40 L1418.66,1250.45 L1420.47,1251.45 L1422.28,1252.39 L1424.08,1253.29 L1425.88,1254.15 L1427.69,1254.98 L1429.49,1255.81 L1431.30,1256.63 L1433.11,1257.47 L1434.91,1258.32 L1436.71,1259.20 L1438.52,1260.08 L1440.32,1260.97 L1442.13,1261.85 L1443.93,1262.71 L1445.74,1263.55 L1447.55,1264.35 L1449.35,1265.11 L1451.15,1265.82 L1452.96,1266.47 L1454.77,1267.07 L1456.57,1267.62 L1458.38,1268.12 L1460.18,1268.60 L1461.99,1269.05 L1463.79,1269.49 L1465.60,1269.92 L1467.40,1270.35 L1469.20,1270.78 L1471.01,1271.24 L1472.82,1271.71 L1474.62,1272.22 L1476.42,1272.77 L1478.23,1273.37 L1480.04,1274.02 L1481.84,1274.71 L1483.64,1275.42 L1485.45,1276.15 L1487.26,1276.87 L1489.06,1277.58 L1490.87,1278.26 L1492.67,1278.89 L1494.47,1279.46 L1496.28,1279.96 L1498.09,1280.38 L1499.89,1280.69 L1501.69,1280.89 L1503.50,1280.96 L1505.31,1280.89 L1507.11,1280.69 L1508.91,1280.38 L1510.72,1279.96 L1512.53,1279.46 L1514.33,1278.89 L1516.13,1278.26 L1517.94,1277.58 L1519.74,1276.87 L1521.55,1276.15 L1523.36,1275.42 L1525.16,1274.71 L1526.96,1274.02 L1528.77,1273.37 L1530.58,1272.77 L1532.38,1272.22 L1534.18,1271.71 L1535.99,1271.24 L1537.80,1270.78 L1539.60,1270.35 L1541.40,1269.92 L1543.21,1269.49 L1545.01,1269.05 L1546.82,1268.60 L1548.62,1268.12 L1550.43,1267.62 L1552.23,1267.07 L1554.04,1266.47 L1555.85,1265.82 L1557.65,1265.11 L1559.45,1264.35 L1561.26,1263.55 L1563.07,1262.71 L1564.87,1261.85 L1566.67,1260.97 L1568.48,1260.08 L1570.29,1259.20 L1572.09,1258.32 L1573.89,1257.47 L1575.70,1256.63 L1577.51,1255.81 L1579.31,1254.98 L1581.12,1254.15 L1582.92,1253.29 L1584.72,1252.39 L1586.53,1251.45 L1588.34,1250.45 L1590.14,1249.40 L1591.94,1248.30 L1593.75,1247.18 L1595.56,1246.05 L1597.36,1244.93 L1599.16,1243.82 L1600.97,1242.76 L1602.78,1241.74 L1604.58,1240.79 L1606.38,1239.91 L1608.19,1239.13 L1609.99,1238.46 L1611.80,1237.90 L1613.61,1237.48 L1615.41,1237.20 L1617.21,1237.08 L1619.02,1237.12 L1620.83,1237.31 L1622.63,1237.65 L1624.43,1238.13 L1626.24,1238.74 L1628.05,1239.49 L1629.85,1240.36 L1631.65,1241.34 L1633.46,1242.42 L1635.26,1243.60 L1637.07,1244.86 L1638.88,1246.19 L1640.68,1247.59 L1642.48,1249.04 L1644.29,1250.53 L1646.10,1252.03 L1647.90,1253.51 L1649.70,1254.97 L1651.51,1256.37 L1653.32,1257.68 L1655.12,1258.90 L1656.93,1259.99 L1658.73,1260.94 L1660.53,1261.73 L1662.34,1262.36 L1664.14,1262.80 L1665.95,1263.05 L1667.76,1263.08 L1669.56,1262.89 L1671.37,1262.48 L1673.17,1261.86 L1674.97,1261.06 L1676.78,1260.10 L1678.59,1258.98 L1680.39,1257.74 L1682.20,1256.39 L1684.00,1254.94 L1685.81,1253.43 L1687.61,1251.86 L1689.41,1250.24 L1691.22,1248.60 L1693.03,1246.94 L1694.83,1245.27 L1696.63,1243.60 L1698.44,1241.96 L1700.24,1240.35 L1702.05,1238.79 L1703.86,1237.28 L1705.66,1235.83 L1707.47,1234.45 L1709.27,1233.12 L1711.08,1231.84 L1712.88,1230.60 L1714.68,1229.41 L1716.49,1228.26 L1718.30,1227.14 L1720.10,1226.04 L1721.90,1224.97 L1723.71,1223.92 L1725.52,1222.92 L1727.32,1221.98 L1729.12,1221.12 L1730.93,1220.37 L1732.74,1219.75 L1734.54,1219.27 L1736.35,1218.95 L1738.15,1218.82 L1739.95,1218.88 L1741.76,1219.16 L1743.57,1219.61 L1745.37,1220.18 L1747.17,1220.83 L1748.98,1221.51 L1750.79,1222.16 L1752.59,1222.75 L1754.39,1223.24 L1756.20,1223.57 L1758.01,1223.72 L1759.81,1223.65 L1761.62,1223.32 L1763.42,1222.76 L1765.23,1222.00 L1767.03,1221.09 L1768.84,1220.08 L1770.64,1218.98 L1772.45,1217.70 L1774.25,1216.13 L1776.06,1214.15 L1777.86,1211.64 L1779.66,1208.50 L1781.47,1204.60 L1783.28,1200.01 L1785.08,1195.01 L1786.89,1189.89 L1788.69,1184.96 L1790.50,1180.48 L1792.30,1176.48 L1794.11,1172.95 L1795.91,1169.88 L1797.72,1167.23 L1799.52,1164.99 L1801.33,1163.13 L1803.13,1161.63 L1804.93,1160.47 L1806.74,1159.60 L1808.55,1159.02 L1810.35,1158.68 L1812.16,1158.57 L1813.96,1158.66 L1815.77,1158.97 L1817.57,1159.49 L1819.38,1160.22 L1821.18,1161.17 L1822.99,1162.34 L1824.79,1163.72 L1826.60,1165.32 L1828.40,1167.14" stroke="#9a4527" stroke-dasharray="3 3.3"/>
</g>
<rect x="1178.60" y="1039.50" width="649.80" height="588.20" fill="none" stroke="#1a1a1a" stroke-width="2.2"/>
<path d="M1178.60,1627.70v-7.0M1178.60,1039.50v7.0M1205.67,1627.70v-4.5M1205.67,1039.50v4.5M1232.75,1627.70v-4.5M1232.75,1039.50v4.5M1259.83,1627.70v-4.5M1259.83,1039.50v4.5M1286.90,1627.70v-4.5M1286.90,1039.50v4.5M1313.97,1627.70v-4.5M1313.97,1039.50v4.5M1341.05,1627.70v-7.0M1341.05,1039.50v7.0M1368.12,1627.70v-4.5M1368.12,1039.50v4.5M1395.20,1627.70v-4.5M1395.20,1039.50v4.5M1422.28,1627.70v-4.5M1422.28,1039.50v4.5M1449.35,1627.70v-4.5M1449.35,1039.50v4.5M1476.42,1627.70v-4.5M1476.42,1039.50v4.5M1503.50,1627.70v-7.0M1503.50,1039.50v7.0M1530.58,1627.70v-4.5M1530.58,1039.50v4.5M1557.65,1627.70v-4.5M1557.65,1039.50v4.5M1584.72,1627.70v-4.5M1584.72,1039.50v4.5M1611.80,1627.70v-4.5M1611.80,1039.50v4.5M1638.88,1627.70v-4.5M1638.88,1039.50v4.5M1665.95,1627.70v-7.0M1665.95,1039.50v7.0M1693.03,1627.70v-4.5M1693.03,1039.50v4.5M1720.10,1627.70v-4.5M1720.10,1039.50v4.5M1747.18,1627.70v-4.5M1747.18,1039.50v4.5M1774.25,1627.70v-4.5M1774.25,1039.50v4.5M1801.33,1627.70v-4.5M1801.33,1039.50v4.5M1828.40,1627.70v-7.0M1828.40,1039.50v7.0M1178.60,1627.70h8.0M1828.40,1627.70h-8.0M1178.60,1554.17h8.0M1828.40,1554.17h-8.0M1178.60,1480.65h8.0M1828.40,1480.65h-8.0M1178.60,1407.12h8.0M1828.40,1407.12h-8.0M1178.60,1333.60h8.0M1828.40,1333.60h-8.0M1178.60,1260.08h8.0M1828.40,1260.08h-8.0M1178.60,1186.55h8.0M1828.40,1186.55h-8.0M1178.60,1113.03h8.0M1828.40,1113.03h-8.0M1178.60,1039.50h8.0M1828.40,1039.50h-8.0" stroke="#1a1a1a" stroke-width="2.2" fill="none"/>
<text x="1166" y="1640.50" font-size="35" font-weight="bold" text-anchor="end" fill="#1a1a1a">-1</text>
<text x="1166" y="1566.97" font-size="35" font-weight="bold" text-anchor="end" fill="#1a1a1a">-0.75</text>
<text x="1166" y="1493.45" font-size="35" font-weight="bold" text-anchor="end" fill="#1a1a1a">-0.5</text>
<text x="1166" y="1419.92" font-size="35" font-weight="bold" text-anchor="end" fill="#1a1a1a">-0.25</text>
<text x="1166" y="1346.40" font-size="35" font-weight="bold" text-anchor="end" fill="#1a1a1a">0</text>
<text x="1166" y="1272.88" font-size="35" font-weight="bold" text-anchor="end" fill="#1a1a1a">0.25</text>
<text x="1166" y="1199.35" font-size="35" font-weight="bold" text-anchor="end" fill="#1a1a1a">0.5</text>
<text x="1166" y="1125.83" font-size="35" font-weight="bold" text-anchor="end" fill="#1a1a1a">0.75</text>
<text x="1166" y="1052.30" font-size="35" font-weight="bold" text-anchor="end" fill="#1a1a1a">1</text>
<text x="1177.10" y="1671.6" font-size="35" font-weight="bold" text-anchor="middle" fill="#1a1a1a">-0.6</text>
<text x="1339.55" y="1671.6" font-size="35" font-weight="bold" text-anchor="middle" fill="#1a1a1a">-0.3</text>
<text x="1502.00" y="1671.6" font-size="35" font-weight="bold" text-anchor="middle" fill="#1a1a1a">0.0</text>
<text x="1664.45" y="1671.6" font-size="35" font-weight="bold" text-anchor="middle" fill="#1a1a1a">0.3</text>
<text x="1826.90" y="1671.6" font-size="35" font-weight="bold" text-anchor="middle" fill="#1a1a1a">0.6</text>
<text x="1500" y="1717.2" font-size="38" text-anchor="middle" fill="#1a1a1a"><tspan font-style="italic" font-weight="bold">x</tspan> (m)</text>
<text transform="translate(1079.6,1334) rotate(-90)" font-size="38.4" text-anchor="middle" fill="#1a1a1a"><tspan font-weight="bold">Wavefront Phase</tspan> ( <tspan font-style="italic">π</tspan>)</text>
<line x1="1250.5" y1="1443.0" x2="1316.2" y2="1443.0" stroke="#0000ff" stroke-width="3.4"/>
<text x="1320.3" y="1453.9" font-size="32" font-weight="bold" fill="#1a1a1a">N = 24</text>
<line x1="1423.2" y1="1443.0" x2="1488.9" y2="1443.0" stroke="#008000" stroke-width="3.4"/>
<text x="1493.0" y="1453.9" font-size="32" font-weight="bold" fill="#1a1a1a">N = 20</text>
<line x1="1595.3" y1="1443.0" x2="1661.0" y2="1443.0" stroke="#00a0a0" stroke-width="3.4"/>
<text x="1665.1" y="1453.9" font-size="32" font-weight="bold" fill="#1a1a1a">N = 16</text>
<line x1="1250.5" y1="1504.3" x2="1316.2" y2="1504.3" stroke="#ff0000" stroke-width="3.4" stroke-dasharray="12.5 13.5"/>
<text x="1320.3" y="1515.2" font-size="32" font-weight="bold" fill="#1a1a1a">N = 22</text>
<line x1="1423.2" y1="1504.3" x2="1488.9" y2="1504.3" stroke="#c000c0" stroke-width="3.4" stroke-dasharray="12 5 5 5"/>
<text x="1493.0" y="1515.2" font-size="32" font-weight="bold" fill="#1a1a1a">N = 18</text>
<line x1="1595.3" y1="1504.3" x2="1661.0" y2="1504.3" stroke="#9a4527" stroke-width="3.4" stroke-dasharray="3 3.3"/>
<text x="1665.1" y="1515.2" font-size="32" font-weight="bold" fill="#1a1a1a">N = 14</text>
</svg></body></html>
